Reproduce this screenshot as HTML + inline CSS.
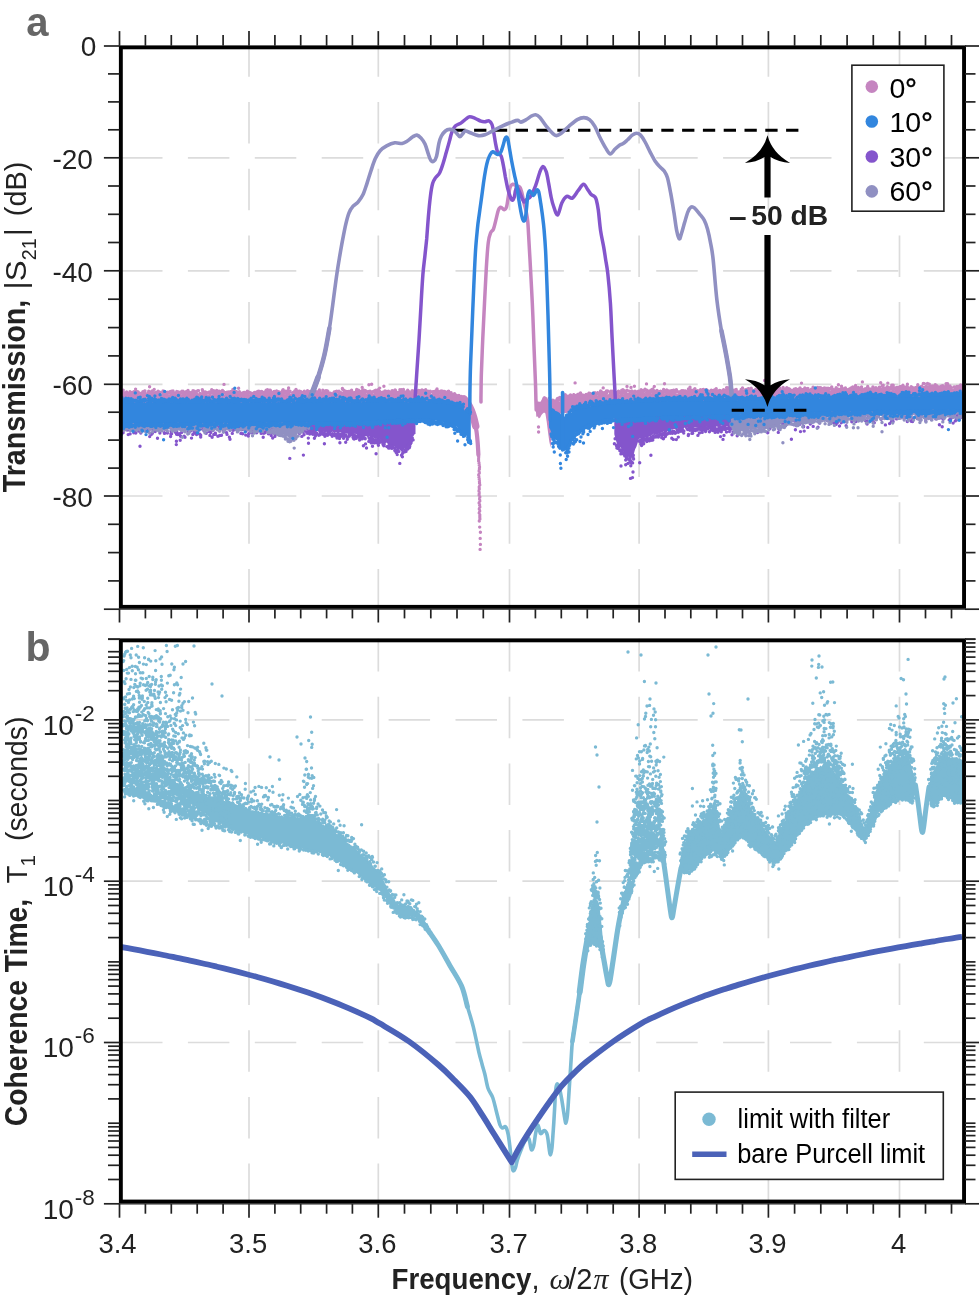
<!DOCTYPE html>
<html lang="en"><head><meta charset="utf-8"><title>Filter transmission and coherence time</title>
<style>html,body{margin:0;padding:0;background:#fff}svg{display:block}</style></head>
<body>
<svg width="979" height="1303" viewBox="0 0 979 1303" font-family='"Liberation Sans", sans-serif'>
<rect width="979" height="1303" fill="#fff"/>
<defs><clipPath id="ca"><rect x="121" y="47" width="843" height="560"/></clipPath><clipPath id="cb"><rect x="121" y="640" width="843" height="562"/></clipPath></defs>
<line x1="249.0" y1="610.4" x2="249.0" y2="45.8" stroke="#dcdcdc" stroke-width="1.7" stroke-dasharray="41.5 25.2"/>
<line x1="378.3" y1="610.4" x2="378.3" y2="45.8" stroke="#dcdcdc" stroke-width="1.7" stroke-dasharray="41.5 25.2"/>
<line x1="509.5" y1="610.4" x2="509.5" y2="45.8" stroke="#dcdcdc" stroke-width="1.7" stroke-dasharray="41.5 25.2"/>
<line x1="639.1" y1="610.4" x2="639.1" y2="45.8" stroke="#dcdcdc" stroke-width="1.7" stroke-dasharray="41.5 25.2"/>
<line x1="768.4" y1="610.4" x2="768.4" y2="45.8" stroke="#dcdcdc" stroke-width="1.7" stroke-dasharray="41.5 25.2"/>
<line x1="899.5" y1="610.4" x2="899.5" y2="45.8" stroke="#dcdcdc" stroke-width="1.7" stroke-dasharray="41.5 25.2"/>
<line x1="121" y1="157.8" x2="965.0" y2="157.8" stroke="#dcdcdc" stroke-width="1.7" stroke-dasharray="41.5 25.4"/>
<line x1="121" y1="270.8" x2="965.0" y2="270.8" stroke="#dcdcdc" stroke-width="1.7" stroke-dasharray="41.5 25.4"/>
<line x1="121" y1="384.3" x2="965.0" y2="384.3" stroke="#dcdcdc" stroke-width="1.7" stroke-dasharray="41.5 25.4"/>
<line x1="121" y1="496.0" x2="965.0" y2="496.0" stroke="#dcdcdc" stroke-width="1.7" stroke-dasharray="41.5 25.4"/>
<path d="M453.3 130.2H798.8" stroke="#000" stroke-width="3" stroke-dasharray="12.3 8.5" fill="none"/>
<g clip-path="url(#ca)">
<path d="M121 393.9L122.3 393.1L123.6 394.7L124.9 393.7L126.2 393.8L127.5 393.5L128.8 394.2L130.1 393.4L131.4 393.3L132.7 393.9L134 394.2L135.3 393.4L136.6 394.1L137.9 393.8L139.2 394.9L140.5 393.3L141.8 394.9L143.1 393.9L144.4 394L145.7 393.4L147 394.4L148.3 393.4L149.6 393.7L150.9 393.1L152.2 393.7L153.5 394.9L154.8 394.9L156.1 394.5L157.4 393.1L158.7 394.8L160 394.7L161.3 394.5L162.6 393.4L163.9 393.2L165.2 393.8L166.5 394.7L167.8 394.1L169.1 394.4L170.4 393.5L171.7 394L173 394.4L174.3 394.6L175.6 394.6L176.9 393.5L178.2 394.7L179.5 393.4L180.8 394.6L182.1 394.1L183.4 393.4L184.7 394.1L186 394L187.3 394.8L188.6 393.1L189.9 393.3L191.2 394.9L192.5 394.6L193.8 393.3L195.1 393.5L196.4 394L197.7 393.3L199 393.6L200.3 393.1L201.6 394.4L202.9 393.2L204.2 394.9L205.5 394.8L206.8 394.5L208.1 394.5L209.4 393.7L210.7 394.3L212 394.4L213.3 393.9L214.6 393.1L215.9 394.2L217.2 393.6L218.5 394.2L219.8 393.8L221.1 394.8L222.4 393.4L223.7 394.4L225 394.3L226.3 394L227.6 393.1L228.9 393.3L230.2 394.8L231.5 393.4L232.8 393.3L234.1 393.5L235.4 394L236.7 394L238 393L239.3 393L240.6 393.9L241.9 393.3L243.2 394.1L244.5 394.5L245.8 393.1L247.1 393.9L248.4 393.7L249.7 394.5L251 394.8L252.3 393.7L253.6 393.4L254.9 394.6L256.2 393L257.5 393.6L258.8 393.7L260.1 393.3L261.4 394.2L262.7 393.9L264 393.4L265.3 393.7L266.6 394.3L267.9 393.6L269.2 393.1L270.5 393.8L271.8 393.3L273.1 394.1L274.4 393.3L275.7 393.2L277 394.6L278.3 393.6L279.6 393.5L280.9 393.9L282.2 394.2L283.5 394.2L284.8 394.4L286.1 393.4L287.4 393.7L288.7 393.6L290 393.9L291.3 394L292.6 394.1L293.9 393L295.2 393.6L296.5 394.3L297.8 393L299.1 394.3L300.4 394.2L301.7 393.7L303 393.7L304.3 393.4L305.6 394.3L306.9 393.8L308.2 393.4L309.5 392.9L310.8 393.5L312.1 394.6L313.4 394.1L314.7 394L316 394.6L317.3 392.9L318.6 393.9L319.9 393.1L321.2 393.5L322.5 393.1L323.8 393.4L325.1 394.5L326.4 394.1L327.7 394.3L329 392.9L330.3 393.3L331.6 394.2L332.9 392.8L334.2 393.1L335.5 392.8L336.8 394.2L338.1 393.1L339.4 393.5L340.7 392.7L342 392.9L343.3 393.6L344.6 394.1L345.9 393.3L347.2 393.2L348.5 392.7L349.8 392.8L351.1 392.9L352.4 393L353.7 393.7L355 393.3L356.3 394.4L357.6 393.1L358.9 394.2L360.2 392.7L361.5 393.5L362.8 393.6L364.1 393.8L365.4 393.3L366.7 393.5L368 394L369.3 392.8L370.6 393.5L371.9 393.6L373.2 393.9L374.5 392.8L375.8 393.2L377.1 392.5L378.4 393.7L379.7 394.1L381 393.1L382.3 394L383.6 393.6L384.9 392.4L386.2 393.3L387.5 392.5L388.8 393L390.1 393.9L391.4 392.6L392.7 393.4L394 392.4L395.3 392.5L396.6 394.1L397.9 392.5L399.2 392.6L400.5 394.1L401.8 392.9L403.1 392.7L404.4 392.5L405.7 393.2L407 392.4L408.3 392.7L409.6 392.7L410.9 393.7L412.2 392.6L413.5 393.4L414.8 392.8L416.1 394.2L417.4 394.2L418.7 394.1L420 394L421.3 393.4L422.6 394.1L423.9 393.5L425.2 392.6L426.5 393.7L427.8 393.9L429.1 392.3L430.4 392.7L431.7 393.8L433 393.8L434.3 393.4L435.6 392.5L436.9 392.8L438.2 392.7L439.5 394.2L440.8 392.9L442.1 393.4L443.4 394.3L444.7 394.5L446 394.6L447.3 395L448.6 395.7L449.9 396L451.2 394.7L452.5 394.9L453.8 396.8L455.1 397.1L456.4 396.7L457.7 397.4L459 398.6L460.3 398.8L461.6 398.8L462.9 399.7L464.2 401L465.5 402.6L466.8 403.1L468.1 405.3L468.5 406.1L468.5 425L468.1 424.3L466.8 422.9L465.5 421.5L464.2 420.6L462.9 419.7L461.6 418.6L460.3 419.3L459 416.9L457.7 416.3L456.4 416.1L455.1 416.4L453.8 415.3L452.5 416.1L451.2 415.2L449.9 415.3L448.6 414.4L447.3 414.7L446 414.7L444.7 413.1L443.4 413.9L442.1 413.1L440.8 413.8L439.5 412.6L438.2 412.2L436.9 412.2L435.6 413.1L434.3 413.5L433 412.5L431.7 413.1L430.4 413.2L429.1 413.3L427.8 413L426.5 412.4L425.2 412.9L423.9 412.5L422.6 412.3L421.3 412.2L420 412.6L418.7 411.8L417.4 412.7L416.1 412.7L414.8 412.4L413.5 411.9L412.2 412.4L410.9 412L409.6 413.4L408.3 412.9L407 412.4L405.7 412.3L404.4 412.1L403.1 413.2L401.8 413.1L400.5 412.9L399.2 413L397.9 413.5L396.6 413L395.3 412.5L394 412.3L392.7 413.3L391.4 412.6L390.1 412.3L388.8 413.5L387.5 413.7L386.2 413.5L384.9 412.5L383.6 412.1L382.3 413.1L381 413.2L379.7 412.6L378.4 413.2L377.1 413.8L375.8 413.4L374.5 412.7L373.2 413L371.9 413.2L370.6 413.1L369.3 413.6L368 412.4L366.7 413.2L365.4 412.6L364.1 412.8L362.8 412.2L361.5 412.4L360.2 413.7L358.9 413.1L357.6 413.9L356.3 412.5L355 413.5L353.7 412.1L352.4 413.6L351.1 413L349.8 413.1L348.5 412.4L347.2 412.9L345.9 412.4L344.6 413.4L343.3 413.9L342 413.7L340.7 414L339.4 412.7L338.1 412.8L336.8 412.6L335.5 412.6L334.2 413.9L332.9 414L331.6 412.9L330.3 414.1L329 413.5L327.7 413L326.4 412.9L325.1 413L323.8 412.4L322.5 412.3L321.2 413.6L319.9 413.6L318.6 414.1L317.3 414L316 413.4L314.7 413L313.4 413.8L312.1 414L310.8 412.9L309.5 413L308.2 413.3L306.9 414L305.6 413.9L304.3 413.8L303 412.7L301.7 412.5L300.4 414.2L299.1 412.5L297.8 412.6L296.5 412.8L295.2 413.9L293.9 412.5L292.6 412.8L291.3 414L290 414.2L288.7 413.6L287.4 413.2L286.1 414.3L284.8 412.5L283.5 413L282.2 413.3L280.9 413.4L279.6 414.1L278.3 412.9L277 412.9L275.7 414.3L274.4 412.8L273.1 413.7L271.8 412.6L270.5 413.7L269.2 413.9L267.9 414L266.6 413.7L265.3 414.2L264 414L262.7 413.4L261.4 413.3L260.1 413.3L258.8 414.1L257.5 414.3L256.2 414.1L254.9 412.6L253.6 414.1L252.3 413.1L251 413.3L249.7 413.2L248.4 412.6L247.1 413.9L245.8 413L244.5 413.4L243.2 413.7L241.9 413.6L240.6 414L239.3 414.2L238 412.6L236.7 413.2L235.4 414L234.1 412.8L232.8 414L231.5 413.1L230.2 413.3L228.9 412.9L227.6 413.6L226.3 412.6L225 413L223.7 413.5L222.4 414.2L221.1 413.9L219.8 414.1L218.5 413.4L217.2 412.9L215.9 413L214.6 413.2L213.3 413.6L212 413.9L210.7 412.9L209.4 413.1L208.1 413.1L206.8 413.3L205.5 412.9L204.2 413.3L202.9 413.9L201.6 413.7L200.3 413.8L199 413.9L197.7 412.7L196.4 413.1L195.1 413.3L193.8 413.6L192.5 413.5L191.2 414.2L189.9 413.5L188.6 413.3L187.3 413.8L186 413.5L184.7 412.5L183.4 412.7L182.1 414.3L180.8 412.6L179.5 412.9L178.2 412.9L176.9 412.9L175.6 414L174.3 414.2L173 413.2L171.7 412.9L170.4 414.3L169.1 414.4L167.8 412.6L166.5 412.7L165.2 414L163.9 412.9L162.6 413.9L161.3 412.9L160 414.4L158.7 413.3L157.4 414L156.1 413.3L154.8 414.4L153.5 413.2L152.2 414.3L150.9 413.6L149.6 414.3L148.3 413.7L147 414.2L145.7 413.8L144.4 413.6L143.1 413.2L141.8 413.3L140.5 413.5L139.2 412.9L137.9 413.7L136.6 414.2L135.3 413.2L134 413.8L132.7 412.7L131.4 413.7L130.1 414.5L128.8 413.8L127.5 412.7L126.2 413.6L124.9 412.9L123.6 413.8L122.3 413.3L121 414.4Z" fill="#c585c0"/>
<path d="M464 399C464.7 399.8 466.8 402.2 468 404C469.2 405.8 470.1 407.8 471 410C471.9 412.2 472.7 414.3 473.5 417C474.3 419.7 475.3 424.5 475.7 426" fill="none" stroke="#c585c0" stroke-width="7.5" stroke-linecap="round" stroke-linejoin="round" />
<path d="M474.5 420C474.9 422 476.1 428.2 476.6 432C477.1 435.8 477.4 439.2 477.7 443C478 446.8 478.3 453 478.4 455" fill="none" stroke="#c585c0" stroke-width="4.2" stroke-linecap="round" stroke-linejoin="round" />
<path d="M535 382.6L536.3 396.1L537.6 401.8L538.9 401.6L540.2 401.9L541.5 399.9L542.8 397.1L544.1 395.9L545.4 396.6L546.7 397.2L548 399.4L549.3 402.9L550.6 403.2L551.9 403.2L553.2 401.7L554.5 401.9L555.8 402.3L557.1 401.6L558.4 401.6L559.7 401.2L561 400.2L562.3 399.3L563.6 399L564.9 399L566.2 399.4L567.5 398.1L568.8 398.9L570.1 397.8L571.4 397.6L572.7 397.1L574 397.6L575.3 398.3L576.6 397.4L577.9 397.7L579.2 396.5L580.5 396.8L581.8 397.1L583.1 396L584.4 396.3L585.7 397.1L587 395.6L588.3 396.7L589.6 396.2L590.9 395.3L592.2 395L593.5 395.7L594.8 395.3L596.1 394.7L597.4 395.4L598.7 394.7L600 395.3L601.3 394L602.6 394L603.9 394.5L605.2 393.4L606.5 394.2L607.8 394.2L609.1 394L610.4 393.8L611.7 394.3L613 393L614.3 394.5L615.6 394.3L616.9 393.2L618.2 392.6L619.5 394.4L620.8 394.2L622.1 393.7L623.4 394.3L624.7 392.7L626 393L627.3 393.1L628.6 392.7L629.9 392.7L631.2 394L632.5 393.3L633.8 393.1L635.1 393L636.4 393.6L637.7 393.5L639 392.9L640.3 392.4L641.6 392.7L642.9 392.7L644.2 392.4L645.5 393.2L646.8 393.9L648.1 393.1L649.4 392.1L650.7 392.2L652 393.7L653.3 393.8L654.6 392.6L655.9 392.7L657.2 392.4L658.5 393.1L659.8 393.5L661.1 392.9L662.4 393.1L663.7 391.8L665 393.4L666.3 392.8L667.6 391.8L668.9 392.4L670.2 393.1L671.5 392.1L672.8 393.2L674.1 392.9L675.4 392.9L676.7 393.4L678 393.4L679.3 392.3L680.6 391.9L681.9 393L683.2 393.1L684.5 392.2L685.8 392.4L687.1 393.2L688.4 391.9L689.7 391.8L691 393.4L692.3 391.6L693.6 392L694.9 391.6L696.2 392.4L697.5 392.9L698.8 392L700.1 391.8L701.4 392.5L702.7 391.9L704 392.6L705.3 392.3L706.6 392L707.9 393L709.2 392L710.5 392.5L711.8 391.5L713.1 393.1L714.4 391.8L715.7 392.7L717 393.3L718.3 391.8L719.6 392.7L720.9 391.5L722.2 393.1L723.5 392.6L724.8 392.7L726.1 391.4L727.4 392.1L728.7 392.5L730 391.8L731.3 392.7L732.6 392.4L733.9 391.7L735.2 392.9L736.5 392.5L737.8 391.7L739.1 391.8L740.4 392.4L741.7 392.4L743 391.9L744.3 392.4L745.6 391.2L746.9 391.5L748.2 391.2L749.5 392.3L750.8 392.3L752.1 392.3L753.4 392.1L754.7 391.5L756 391.8L757.3 391.7L758.6 391.1L759.9 392.3L761.2 391L762.5 391.3L763.8 392.1L765.1 392.3L766.4 390.9L767.7 392.1L769 391.1L770.3 392.3L771.6 390.8L772.9 392.4L774.2 391.1L775.5 391L776.8 392.1L778.1 391.1L779.4 390.7L780.7 391L782 392.2L783.3 391.4L784.6 391.3L785.9 391.4L787.2 390.5L788.5 391.4L789.8 391.6L791.1 390.3L792.4 390.6L793.7 392L795 391.2L796.3 390.7L797.6 391.4L798.9 390.9L800.2 390.3L801.5 392L802.8 390.8L804.1 391L805.4 390.8L806.7 391.6L808 390.8L809.3 390.7L810.6 390.9L811.9 391.9L813.2 391.8L814.5 390.1L815.8 391.8L817.1 391.1L818.4 390.3L819.7 390.6L821 391.2L822.3 391.7L823.6 391.4L824.9 390.6L826.2 390.8L827.5 391.4L828.8 391L830.1 390.9L831.4 390L832.7 390.2L834 390.1L835.3 390.3L836.6 391.1L837.9 390.9L839.2 390.7L840.5 390.8L841.8 390.1L843.1 390.1L844.4 390.9L845.7 391.6L847 390.1L848.3 390.7L849.6 390.1L850.9 389.8L852.2 391.5L853.5 391.1L854.8 391.2L856.1 390.9L857.4 389.8L858.7 390.3L860 391.5L861.3 390.5L862.6 390.9L863.9 391.3L865.2 390.8L866.5 389.8L867.8 391.1L869.1 390.8L870.4 389.8L871.7 389.4L873 389.9L874.3 390L875.6 389.6L876.9 389.9L878.2 390L879.5 389.5L880.8 390.7L882.1 390.2L883.4 390.8L884.7 390.1L886 389.2L887.3 389L888.6 389.4L889.9 389.8L891.2 390.4L892.5 390.2L893.8 390.4L895.1 390.1L896.4 389.6L897.7 389.2L899 388.8L900.3 388.5L901.6 389.9L902.9 389.6L904.2 388.9L905.5 388.6L906.8 388.3L908.1 389.1L909.4 388.7L910.7 389.8L912 388.3L913.3 389L914.6 389L915.9 389.3L917.2 388.4L918.5 389.1L919.8 388.4L921.1 388.7L922.4 388.3L923.7 389.4L925 388.8L926.3 387.8L927.6 388.6L928.9 389.3L930.2 387.8L931.5 389.2L932.8 388.8L934.1 389L935.4 388.9L936.7 387.5L938 388.2L939.3 389L940.6 388.7L941.9 388.8L943.2 388.5L944.5 388L945.8 388.8L947.1 387.4L948.4 388.8L949.7 388.7L951 388L952.3 388.2L953.6 388.4L954.9 387L956.2 387.2L957.5 388.4L958.8 387.4L960.1 387.6L961.4 388.2L962.7 388L964 386.8L964 387.5L964 405.3L964 404.9L962.7 405L961.4 405.1L960.1 404.3L958.8 404.9L957.5 404.6L956.2 405.4L954.9 405.3L953.6 405L952.3 404.8L951 405.1L949.7 404.5L948.4 405.3L947.1 405.5L945.8 405.4L944.5 405.1L943.2 404.4L941.9 404.7L940.6 405.7L939.3 404.3L938 404.4L936.7 404.9L935.4 405.2L934.1 404.5L932.8 404.9L931.5 405.1L930.2 406.2L928.9 405.3L927.6 404.7L926.3 405.5L925 404.6L923.7 405.7L922.4 405.6L921.1 404.9L919.8 405.6L918.5 406.1L917.2 405.3L915.9 406.3L914.6 406.3L913.3 405.4L912 405.6L910.7 406.4L909.4 405.8L908.1 406.6L906.8 405L905.5 405.1L904.2 406.5L902.9 406L901.6 406.3L900.3 405.5L899 405.8L897.7 405.7L896.4 405.2L895.1 405.8L893.8 405.8L892.5 405.5L891.2 406.5L889.9 405.5L888.6 405.2L887.3 405.8L886 405.3L884.7 406.4L883.4 406.4L882.1 406L880.8 407L879.5 406.1L878.2 406.9L876.9 406L875.6 405.4L874.3 407.2L873 406.6L871.7 407.2L870.4 406.6L869.1 406.6L867.8 407.3L866.5 407.1L865.2 406.2L863.9 406.5L862.6 406.1L861.3 406.7L860 406.1L858.7 406.2L857.4 406L856.1 406.9L854.8 406.6L853.5 407.4L852.2 407L850.9 406.6L849.6 406L848.3 405.9L847 406.3L845.7 407.1L844.4 406.9L843.1 406.3L841.8 406L840.5 406L839.2 407.1L837.9 407.2L836.6 406.4L835.3 406.9L834 406.3L832.7 407.1L831.4 407.6L830.1 407.2L828.8 406.9L827.5 406.6L826.2 407.3L824.9 406.2L823.6 407.8L822.3 407.3L821 407.7L819.7 407.8L818.4 406.5L817.1 406.4L815.8 406.4L814.5 407.1L813.2 408.1L811.9 408.2L810.6 407.8L809.3 406.5L808 407.7L806.7 406.5L805.4 407.6L804.1 408.3L802.8 406.9L801.5 407L800.2 407.3L798.9 407.4L797.6 407.2L796.3 408.2L795 407.9L793.7 407.8L792.4 408.3L791.1 407.4L789.8 407.6L788.5 408.3L787.2 407L785.9 408.5L784.6 408L783.3 408.3L782 407.3L780.7 408.4L779.4 408.7L778.1 407.3L776.8 408.1L775.5 407.4L774.2 407.5L772.9 407.2L771.6 408.3L770.3 407.4L769 408L767.7 407.4L766.4 408.5L765.1 408.8L763.8 407.8L762.5 407.3L761.2 408.5L759.9 408.1L758.6 408L757.3 409L756 408L754.7 407.7L753.4 408.6L752.1 409.2L750.8 408.6L749.5 408.5L748.2 408.2L746.9 409L745.6 409.3L744.3 407.7L743 408.3L741.7 408.6L740.4 408L739.1 409.3L737.8 408.2L736.5 407.9L735.2 408.8L733.9 408.8L732.6 407.8L731.3 409.3L730 408.4L728.7 408.7L727.4 408.7L726.1 408.5L724.8 408.6L723.5 408.4L722.2 409.3L720.9 408.3L719.6 408.9L718.3 409.3L717 409.5L715.7 408.4L714.4 408.1L713.1 408.2L711.8 408.4L710.5 408.1L709.2 408.1L707.9 409L706.6 408.6L705.3 409.9L704 410L702.7 409.9L701.4 408.9L700.1 408.3L698.8 409.2L697.5 408.4L696.2 409.8L694.9 408.9L693.6 409L692.3 410L691 409.7L689.7 408.9L688.4 409.3L687.1 409L685.8 409.4L684.5 408.8L683.2 409.3L681.9 409.3L680.6 408.9L679.3 408.8L678 409.3L676.7 408.6L675.4 409.3L674.1 408.9L672.8 409.6L671.5 409L670.2 409.9L668.9 409.8L667.6 409.4L666.3 408.9L665 409.1L663.7 409.1L662.4 409.5L661.1 409L659.8 408.9L658.5 410.5L657.2 410.3L655.9 410.2L654.6 410L653.3 409.3L652 409.2L650.7 409.7L649.4 410.8L648.1 410.2L646.8 409.7L645.5 409.4L644.2 410.8L642.9 409.4L641.6 409.6L640.3 409.6L639 409.9L637.7 409.3L636.4 409.8L635.1 410.4L633.8 409.4L632.5 410.3L631.2 409.4L629.9 410.2L628.6 409.8L627.3 410L626 411.3L624.7 411.1L623.4 409.7L622.1 411.3L620.8 410.6L619.5 410.4L618.2 409.8L616.9 411.1L615.6 410.9L614.3 409.9L613 410.7L611.7 410.2L610.4 411.3L609.1 410.3L607.8 410.7L606.5 409.9L605.2 410.9L603.9 411L602.6 411.2L601.3 411.5L600 410.8L598.7 411.7L597.4 411.5L596.1 411.2L594.8 410.6L593.5 411.9L592.2 412.1L590.9 410.7L589.6 411.1L588.3 411.8L587 412.5L585.7 412.1L584.4 412.4L583.1 412.7L581.8 412.3L580.5 412.2L579.2 411.6L577.9 411.2L576.6 412.7L575.3 412.8L574 412.9L572.7 413L571.4 412.1L570.1 412.4L568.8 413.2L567.5 412.8L566.2 412.9L564.9 413L563.6 412.8L562.3 413L561 413.3L559.7 414.3L558.4 414.1L557.1 414L555.8 414.3L554.5 415.5L553.2 418.1L551.9 432.4L550.6 447.5L549.3 441.5L548 432.1L546.7 421.8L545.4 413.4L544.1 412.5L542.8 413.6L541.5 414.9L540.2 417.6L538.9 418.6L537.6 416.5L536.3 416.8L535 396.9Z" fill="#c585c0"/>
<path d="M191.4 392.8h0M314.8 392.9h0M204.4 393.2h0M253.6 393.8h0M186.4 391.8h0M267.2 393.8h0M256.5 393h0M368.6 392.9h0M436.1 390.4h0M281.4 393.7h0M348.9 391.8h0M166.7 393.8h0M178.5 392h0M130.5 393.3h0M264.2 392.1h0M212.8 392.9h0M148.7 391.3h0M319.8 393.6h0M214.4 393.7h0M456.6 395.5h0M361 393h0M156.5 392.6h0M280.7 393.7h0M269.4 391.7h0M205.2 392.7h0M451.1 392.7h0M129.5 393.3h0M385.1 391.7h0M352.5 392.2h0M339.1 391.9h0M130 391.6h0M190.8 393.9h0M231.4 392.8h0M444.6 391.4h0M121.8 393h0M416.8 392.7h0M383.7 392.2h0M283.1 389.7h0M300.5 392.8h0M155.2 393.1h0M163.6 393.2h0M460 397.2h0M348.1 392.3h0M275.5 392.7h0M344 390.1h0M464 398.2h0M239.4 391.8h0M386.6 393.3h0M213.2 392.7h0M422 390h0M349.7 391.8h0M205.4 392h0M327.4 391h0M276.9 393.9h0M357.3 391.4h0M153 393.8h0M326.8 392.3h0M325.4 390.9h0M190.8 392.9h0M429.1 392h0M449.2 393.6h0M178.1 393h0M451.2 394.8h0M442.3 392.8h0M442.6 391.1h0M405.9 393h0M270.3 390.2h0M309.4 391.6h0M124.4 394.1h0M229.8 393.7h0M158.8 393.3h0M364.2 392.6h0M124.2 393.4h0M228 393.2h0M425.5 393.1h0M245.6 393.3h0M426.7 391.7h0M355.6 392.8h0M314.8 393h0M140.8 393.5h0M297.5 392.2h0M348.4 391.4h0M348.3 391.9h0M418.6 390.5h0M355.8 392.7h0M227.7 392.3h0M251.2 393.5h0M123.2 390.1h0M371.7 392.6h0M145.6 394h0M153.9 393.9h0M251.2 393.2h0M322 392.4h0M362.2 387.4h0M127.8 393.5h0M189.3 392.2h0M396.5 392.2h0M395.4 390.3h0M138 393.9h0M467.2 402h0M151.2 392.4h0M151.4 393.7h0M257.8 391.4h0M295.4 392.1h0M219.4 391.2h0M153.8 394h0M383.9 386.2h0M206.9 393.3h0M385.2 393.1h0M254 393.8h0M282.4 390.8h0M193 393.4h0M440.2 392h0M206 393.5h0M399.9 392.7h0M266.2 390.2h0M152.6 393.3h0M217.2 392.9h0M168.5 393.1h0M344.1 390.8h0M151.3 394h0M306.4 393.5h0M221.3 393.1h0M176.3 393.5h0M383.2 393.4h0M445 392.1h0M275 392.2h0M301 391.8h0M355.2 392.6h0M226.4 393.9h0M412.9 392.9h0M164.9 392.7h0M460.2 398.3h0M442.6 393.6h0M402.8 390.1h0M378.3 390h0M240.2 392.7h0M149.6 386.7h0M223.7 393.1h0M227.7 392.9h0M165.7 392.5h0M355.4 392.2h0M255.5 392.9h0M362.8 393.3h0M264.5 393.9h0M265.3 393.7h0M343.5 393.2h0M268.6 393.4h0M213.7 392h0M310.1 391.9h0M351.1 392.2h0M457.8 396.9h0M294.8 391h0M174.9 393.4h0M346.5 393.5h0M170.3 393h0M194 393.2h0M397 393h0M406.4 392.8h0M316.8 391.7h0M171.3 393.7h0M313.8 393h0M138.3 392.1h0M128.9 393.5h0M260.8 392.7h0M211.7 389.7h0M193.7 394h0M135.9 393.4h0M173 390.9h0M354.3 393.5h0M434.6 392.2h0M333.6 393.4h0M177.9 393.9h0M149.5 393.1h0M261.7 391.5h0M212 392.4h0M194.3 391.3h0M422.8 393h0M266 390.9h0M401.6 389.8h0M317.3 392.4h0M326 392.3h0M406 393.1h0M444.3 393.1h0M137.3 391.6h0M223.3 391.3h0M156.2 393.2h0M405 392.2h0M247.6 393.5h0M257.7 392.6h0M244.5 392.5h0M451.8 394.1h0M149.5 393.9h0M420 390.7h0M198.5 390.6h0M264.7 391.9h0M309.7 391.7h0M126.6 391.9h0M264 392.9h0M404 392.8h0M378.5 392.7h0M376.3 391.9h0M412 392.7h0M451.6 395.4h0M357.6 392.5h0M204 392.3h0M311.7 393.3h0M324.9 393.4h0M267.4 389.6h0M191.2 393.9h0M316 392.6h0M267.4 390.3h0M144.7 391h0M459.6 397.9h0M196.4 393.2h0M274.5 391.5h0M467.4 401.5h0M213.9 393.2h0M188 390.4h0M236.6 391.6h0M267 390.5h0M136.9 393.3h0M218.9 393.3h0M439.4 392.2h0M302.6 393.8h0M447.3 394.3h0M374.9 391.3h0M246.7 393.6h0M254.5 392.5h0M121.3 392.9h0M183 391.2h0M310.1 393.7h0M122.3 393.2h0M412.7 391.7h0M300 393.2h0M137.5 391.9h0M278.1 393.6h0M370.1 392h0M144.8 392.8h0M238.6 388.2h0M191.9 393.2h0M256.8 392h0M425.7 389.8h0M213.6 393.4h0M290 391.1h0M423.9 392.2h0M219.5 393.6h0M275.1 392.6h0M303 392.7h0M151.3 393.5h0M235.1 391.4h0M211.8 392.8h0M288.6 388h0M150.2 392h0M463.3 400h0M236.8 393.9h0M326.3 390.8h0M287.7 393.4h0M353.2 393.2h0M243.7 393.4h0M151.6 393.4h0M356.7 391.3h0M409 391.8h0M280 392.4h0M288.4 392.8h0M134.4 393.6h0M193 390.6h0M202.3 389.6h0M293.5 392.3h0M386.9 391.5h0M379.7 388.1h0M268.9 393.4h0M395.1 390h0M191.1 393.7h0M434.8 392.6h0M371.7 384.3h0M230.4 391.6h0M467.6 403.8h0M412.2 390.8h0M215.1 393.4h0M143.6 393.2h0M204.4 392.1h0M159.8 392.1h0M131.2 393.3h0M231.1 391.8h0M368.4 393.2h0M319.4 390.7h0M186.7 393.4h0M434.8 393.2h0M216.2 393.3h0M422.5 392h0M187.8 393.2h0M412.6 392.1h0M356.3 391.7h0M194.8 393.3h0M230.8 393h0M455.6 395.3h0M247.9 393.6h0M455.3 396h0M289.6 391.9h0M430.2 391.1h0M412.6 392.5h0M312 390.7h0M210.6 392.9h0M375.3 392.9h0M154.7 392.8h0M271.6 393.8h0M273.8 391.8h0M362.6 390.3h0M385.8 392.5h0M278.2 393.1h0M364 392.3h0M436.5 390.8h0M378.3 391.6h0M152.2 391h0M173.1 392.5h0M414.2 393.2h0M219.9 391.6h0M306.1 392.9h0M402.9 392.3h0M156.2 392.4h0M454.9 394.7h0M283.8 391.8h0M465.9 401.7h0M234 393.4h0M316.5 392.5h0M173.2 393.5h0M250.4 393.2h0M363.1 392.5h0M318.4 393.7h0M147.5 393.8h0M368.9 384.7h0M158.1 391.3h0M268.2 391.8h0M360.1 391.8h0M457.7 396.9h0M350.2 391.2h0M385 390.9h0M218.6 392.4h0M236 391.8h0M282.9 393h0M383.2 392.1h0M256.3 392.8h0M230.2 392.4h0M232.5 391.9h0M356.7 389.5h0M308.8 393.1h0M273.6 392.2h0M260 393.5h0M387 391.7h0M322.8 390.2h0M445 393.2h0M313.8 393.7h0M427.2 391.9h0M158.9 393.8h0M346.6 391.8h0M141.8 393.7h0M132.8 392.4h0M224 384.4h0M144.6 391.7h0M415.9 390.6h0M440.1 392.2h0M441.2 391h0M415 393h0M339.6 393.4h0M465 399.9h0M187.9 393.2h0M455.4 396.2h0M179.3 393.9h0M403.4 389.4h0M364.5 390.9h0M222.8 392.9h0M444.5 392.8h0M454.5 393.8h0M380.2 392.3h0M319.4 389.9h0M181.9 391.3h0M301.4 393.4h0M463.6 398.4h0M248.1 391.8h0M131.6 392.9h0M133.8 391.7h0M296.2 391.9h0M248.2 392.7h0M202.4 393.5h0M173.2 393.3h0M415.6 392.3h0M351.3 392.7h0M142.1 393.9h0M380.6 392.1h0M341.4 393h0M282.8 393.1h0M233.3 393.1h0M258.5 393.4h0M148.7 392.1h0M442.5 392.5h0M391.6 391.5h0M452 395.7h0M296.3 393h0M296 389.4h0M297.3 392.7h0M339 391.2h0M402 392.2h0M314.5 393.3h0M316.6 393.7h0M267.1 393.5h0M243.9 392.5h0M191.1 392.7h0M196.3 391.8h0M299.8 392.9h0M319.2 393.6h0M422.5 392.5h0M316 392.3h0M173.6 393.9h0M356.9 390.2h0M295.8 393.9h0M179 393.8h0M316.7 392h0M195.2 391.7h0M449.6 395h0M296.6 390.7h0M428.8 393.2h0M285.3 392.6h0M287.2 393.4h0M202.5 393.6h0M363.5 393.1h0M437 388.9h0M434 391.9h0M123.8 392.9h0M216.7 390.5h0M325.1 392h0M144.6 393.7h0M123.9 392.6h0M323.3 392.7h0M383.2 392.3h0M359.7 392.3h0M232.1 393.6h0M283.8 393.6h0M222.5 390.5h0M396.9 393h0M327.7 393.3h0M142.9 391.7h0M395 392.8h0M323 393.5h0M135.6 389.1h0M300.3 391.9h0M237.5 393.6h0M364.8 393.5h0M351.6 390.2h0M308 392.9h0M305.3 392.4h0M427.8 391.7h0M346 393.5h0M277 393.9h0M128.9 393.5h0M231.3 392.6h0M200 393.5h0M236.7 393.1h0M383.8 393.3h0M382.9 392.1h0M424.1 390.8h0M371.9 392.8h0M134.9 391.6h0M255.4 392.6h0M342.4 388.4h0M376.7 393.2h0M379 393.2h0M339.7 392.7h0M142.7 392.4h0M145 391h0M466.9 403.2h0M309.8 393.7h0M358.5 390.2h0M177.5 393.4h0M154.1 393.7h0M228.8 391.9h0M141.7 393.2h0M349.8 393.6h0M281.6 393.9h0M363.9 392.7h0M424.1 393h0M446.7 394.2h0M238.7 392.7h0M164.7 393h0M247.3 391.3h0M429.9 392.2h0M357.2 393.4h0M283.4 390.5h0M325 392.3h0M304.1 392.3h0M374.5 391.8h0M298 393.8h0M225.8 392.6h0M327.9 391.5h0M345.7 392h0M171.5 391.2h0M370.4 392.5h0M204 393.4h0M346.2 391.4h0M362.7 392.3h0M420.1 391.1h0M372.5 392.3h0M192.2 393.1h0M135.9 393.4h0M181.7 392.1h0M344.9 392.1h0M218.9 393.5h0M328 393.4h0M384.6 392.7h0M444.6 393h0M388.7 392.2h0M260.1 391.8h0M307.5 390.7h0M294.2 393.9h0M340.7 393.5h0M187.1 393.1h0M299 391.2h0M423.7 390.9h0M276.8 392.1h0M142.7 392.9h0M315.7 393h0M433.8 391.6h0M367.4 391.6h0M213.7 390.6h0M371.9 392.3h0M465.7 402.2h0M304.3 391.3h0M135.9 392h0M124.2 393.6h0M316.6 392.2h0M192.4 393.9h0M392.1 390.7h0M412.1 392h0M294.9 391.6h0M395.1 392.1h0M142.7 393.1h0M465.8 402.6h0M392.5 393.3h0M413.5 391.1h0M248.1 391.7h0M335.4 391.7h0M276.6 391h0M386.3 392h0M328 393.1h0M177.3 393.3h0M160.2 392.5h0M207.6 392.8h0M401.6 392.4h0M296.1 393.4h0M180.9 392.2h0M428 391.2h0M243.2 392.6h0M266.1 393.3h0M148.8 394h0M239.6 392.5h0M330.4 393.2h0M336.4 392.5h0M296.9 393.6h0M386.5 392.6h0M308 393.7h0M266.9 393.8h0M261.3 393h0M388.6 393.1h0M202.6 390.8h0M180.2 393.6h0M176.8 391.4h0M405.7 393.2h0M399.7 392.3h0M131.7 392.6h0M289.9 392h0M318 392.5h0M254.5 393.9h0M459.2 396.9h0M419 392.6h0M454.7 394h0M345 393.6h0M441.5 392.2h0M399.9 389.7h0M461.5 396.5h0M450.8 395.4h0M194.8 393h0M435 393.1h0M239.8 393.2h0M215.9 393.1h0M365.5 390.6h0M204.9 392.9h0M212.6 392.4h0M441.6 393.6h0M254.1 392.8h0M129.3 393.2h0M432.8 391.7h0M221 393.8h0M221 392.9h0M303.3 393.9h0M169.9 391.7h0M309.2 392.3h0M369.9 392.7h0M188.3 392.9h0M194.2 393.5h0M258 392.4h0M422.5 391.8h0M326 393.1h0M456.7 395.7h0M217.9 391.3h0M361.7 392.6h0M288.7 393.8h0M436.2 393.1h0M371.4 393.1h0M256.1 392.9h0M269.9 393.3h0M174.6 393h0M219.7 393.9h0M403.4 391.8h0M414 393h0M347 391.6h0M214.1 393h0M143.5 393.6h0M428.5 393h0M433.7 391.8h0M188 393.8h0M460 398.3h0M250.3 392.7h0M388.5 391.1h0M133.3 393h0M133.2 392.4h0M359.4 393.2h0M402.4 391.3h0M295.6 392.6h0M123.1 393.6h0M187.8 392.9h0M274.7 393.3h0M225.1 393.1h0M356.5 390.9h0M183.3 393.8h0M156.8 392.8h0M466.9 403.4h0M167.4 392.2h0M331.5 393.6h0M271.4 393.3h0M369 391.4h0M285.3 391.3h0M210.1 393.6h0M362.7 392h0M214.5 392.1h0M136.4 392.4h0M438.3 391.1h0M438.6 392.8h0M345.9 392.6h0M294.3 392.5h0M122.4 391.1h0M347 392.6h0M303.1 393.5h0M259.7 393.3h0M343.9 393.6h0M364 390.2h0M365 392.8h0M405.5 392.3h0M375.8 390.3h0M258.4 393.7h0M299.6 391.1h0M441.3 393.1h0M414.5 392.4h0M245 393.4h0M270.8 391.6h0M305.3 392.8h0M173.5 392.9h0M313.1 392.8h0M217.4 393.3h0M377.4 390.6h0M205.3 393h0M457.3 396.3h0M192.6 393.6h0M374.3 391h0M271.9 393.3h0M269.3 390.1h0M446.7 393.8h0M163 391h0M468.5 404.5h0M121.3 393.4h0M364.7 393h0M216.1 392.4h0M238.2 392.3h0M441.1 392.4h0M379.8 391.5h0M420.7 393h0M148.9 392.9h0M405.7 392.1h0M122.2 394h0M385.3 393.1h0M314.5 393.2h0M340.7 392.8h0M266.8 392.7h0M323.9 393.3h0M246.2 392.6h0M173.2 391.7h0M163.3 393.2h0M278.5 391.6h0M363.6 392.4h0M307.3 393.8h0M231.5 393.7h0M422.9 393.3h0M380 393.1h0M185.1 393h0M420.6 392.5h0M456.6 395.5h0M258.8 393.7h0M435.4 393h0M396 393.2h0M233.4 393.6h0M334.2 391.9h0M378.2 389.8h0M379.9 391.7h0M391.9 392.2h0M449.3 395h0M405.3 393h0M223.5 392.6h0M410.7 393.1h0M272.8 393.9h0M276.6 392.3h0M173.9 392.8h0M258.8 391.3h0M363.9 391.6h0M360.6 391.5h0M428.6 392.2h0M289.3 391.9h0M266.3 391h0M197.8 390.6h0M177.1 394h0M216.7 391.5h0M288.5 392.5h0M134.9 393.5h0M457.7 397.3h0M287.9 390.6h0M363.2 393.1h0M230.1 392.1h0M422.8 391.8h0M341.2 393.4h0M211.4 392.8h0M232.9 389.5h0M264.2 392.6h0M399.1 392.8h0M433 392h0M425.1 392h0M433.4 393.3h0M304.7 393.7h0M186.1 391.7h0M362.8 392h0M391.4 392.4h0M303.2 392.5h0M318.5 392.4h0M187.5 392.3h0M323.3 392.9h0M242.9 393.7h0M186.1 392.8h0M448.6 391.2h0M226.5 392.5h0M150.3 393.1h0M419.7 391.6h0M308.4 392.3h0M374.1 391.4h0M370.1 391.1h0M237.1 392.5h0M336.7 391.3h0M235.8 393.2h0M309.9 391.8h0M399.1 392.2h0M274.3 393.3h0M393 390.9h0M209.4 391.9h0M458.9 395.4h0M400.9 391.8h0M283.7 392.2h0M292.8 393.2h0M130.7 393.8h0M429.6 392.9h0M283.3 392.5h0M390.5 392.4h0M258.5 392.3h0M342.5 389.3h0M154.2 389.4h0M138.2 392h0M226.9 392.5h0M444.2 394.1h0M247.8 393.6h0M290.2 392h0M326.1 392.3h0M433.7 391.6h0M372.8 391.8h0M425.9 391.8h0M453.7 395.4h0M125.6 393.3h0M192.9 393.6h0M424.7 391.3h0M173.1 393h0M447.2 392h0M313 392.8h0M407.7 390.3h0M295.4 393.6h0M406.7 392.7h0M478.7 457h0M478.6 459h0M478.6 461h0M479 463h0M479.2 465h0M479.5 467h0M479.4 469h0M479.1 471h0M479.3 473h0M478.7 475h0M478.9 477h0M479.2 479h0M479.4 481h0M479.5 483h0M479.8 485h0M479.2 487h0M479.3 489h0M479 491h0M479.2 493h0M479.1 495h0M479.8 497h0M479.6 499h0M479.8 501h0M479.1 503h0M479.6 505h0M479.8 507h0M479.3 509h0M479.7 511h0M479.2 513h0M479.8 515h0M479.8 517h0M479.9 519h0M479.3 521h0M479.7 527.1h0M480.4 532.3h0M480.2 538.4h0M480.4 544.4h0M480.1 549.4h0M881.6 389.6h0M832 390.2h0M603.2 387.9h0M779.6 391.1h0M840.1 390.5h0M842.6 390.3h0M729.9 391h0M740.6 391.1h0M723 391.9h0M784.3 390.6h0M788.5 390.4h0M939.4 386.9h0M777.7 390h0M754.7 390.3h0M751.1 391.2h0M963.2 386.3h0M688.5 392.3h0M922.2 388.2h0M798.4 389.9h0M799.4 390.3h0M741.3 390.4h0M661.1 391.8h0M695 390.2h0M835.7 390h0M838.4 384.8h0M595.1 394.8h0M672.5 390.6h0M564.1 396.9h0M841.5 386.3h0M747.4 392h0M881.7 389.9h0M646.8 390.1h0M887.8 383.1h0M874.4 388.4h0M872.9 386.9h0M834.4 390.3h0M785.1 389.2h0M588.9 393.3h0M694.5 392.4h0M847.1 390h0M626.5 390.8h0M922.9 388.5h0M742.8 391.6h0M943.5 387.4h0M710.9 391.6h0M848.8 390.5h0M656 391.8h0M665.6 390.6h0M888.5 388.4h0M866.1 389.7h0M889.1 387.6h0M771.7 389.8h0M579.1 397.3h0M946 385.7h0M817.6 387.4h0M657.2 390.9h0M554.8 401.2h0M704.2 391.2h0M649.4 391.1h0M942.7 385.6h0M922.1 388.5h0M856.8 387.8h0M742.5 388h0M637.4 392h0M932.1 386h0M727.4 391h0M622.4 392.9h0M892.2 387.7h0M620.4 392.6h0M839.7 390.7h0M652.7 389.5h0M694.9 388.7h0M816.6 390.2h0M887.7 388.3h0M896.7 387.5h0M642.2 392.7h0M562.2 398.9h0M565.9 395.4h0M727.8 387.7h0M907.2 386.6h0M755.9 390.9h0M584 396.2h0M573.9 394.8h0M680.2 391.9h0M674.3 392h0M580.9 395.6h0M918.8 387.3h0M777.2 390.1h0M557.8 400.8h0M789.8 391h0M550.4 402.9h0M740.4 391.8h0M819.3 389.2h0M639.5 391.9h0M894.9 388h0M786.8 389h0M629.5 391.2h0M871.1 389.2h0M713.2 391.3h0M760.5 390.5h0M801.5 383.1h0M570.5 395h0M903.4 388.7h0M737 391.4h0M703.4 389.4h0M716.2 388.7h0M918.9 388.7h0M632.4 392.1h0M663.4 391.8h0M564.1 396.4h0M845.5 388.6h0M946.1 383.7h0M557.5 400.5h0M610.8 391.3h0M958 387.7h0M942.5 386.2h0M895.4 388.3h0M685.2 391.4h0M929.4 387.9h0M648 391.1h0M787 389.8h0M722.6 391.7h0M823.3 390.7h0M921.6 386.1h0M786.1 390.8h0M764.1 391h0M919.2 388.8h0M683.1 392h0M673.9 390.1h0M638.3 393.2h0M932.3 387.1h0M747.3 389.3h0M929.9 387.9h0M562.9 398.5h0M569.6 395.8h0M700.8 391.2h0M804.8 389.2h0M575.4 396.8h0M718.4 391.4h0M851.5 390.4h0M685.5 390.9h0M916.4 387.4h0M724.7 392.2h0M764.6 380.5h0M641.2 392.6h0M751.2 391.5h0M622.5 392.9h0M906.3 387.7h0M821.7 390.3h0M694.3 391.5h0M687.3 392.3h0M727.7 392.3h0M835.7 390.5h0M870.5 389.3h0M887.6 389h0M842.4 389.3h0M825.5 388.9h0M554.7 401.7h0M614.1 392.8h0M875.9 387.8h0M651 390.6h0M720.2 391.7h0M892.8 386.6h0M936.5 388h0M724.9 390.4h0M905.5 389.1h0M791.9 390.4h0M824.3 387.9h0M586.3 394.8h0M655 391.4h0M733.4 390.5h0M707.7 391.5h0M893 385.5h0M892.7 387.5h0M913.6 388.1h0M589 393.3h0M703 390.9h0M806 390.4h0M911.1 387.4h0M895.4 388.4h0M963.4 386.4h0M849.5 389h0M870.6 390.1h0M745.5 389.8h0M741.8 390.9h0M691.2 392.2h0M638.4 392.1h0M655.7 392.6h0M560.9 398.3h0M930.5 387.1h0M793.9 391.2h0M917.8 388.4h0M843.5 390.6h0M882.3 385.7h0M706.2 389.7h0M824 390.2h0M833.4 390h0M679 392.3h0M883.8 389.8h0M733.9 391.7h0M800.6 389h0M812.1 390.6h0M954 386.9h0M758.4 386.6h0M826.3 388.9h0M571 397.2h0M620.7 392.9h0M788.7 391h0M932 386.3h0M667.2 392.6h0M702.1 390h0M753 391.8h0M851.1 388h0M744.3 392.1h0M884.1 389.9h0M889.7 388.3h0M783.5 390.2h0M700.7 392.1h0M672.3 392.2h0M804.7 390.5h0M758.2 389h0M561.5 398.2h0M564.9 398.8h0M591.5 395.4h0M885.8 388.7h0M683.7 391.8h0M567.1 398h0M838.2 389.3h0M781.4 390.4h0M838.7 390.8h0M597.7 392.9h0M600.8 393.2h0M959.7 387.7h0M757.8 391h0M655.2 392.1h0M913.9 388.5h0M610.3 393h0M883 387.3h0M788.9 388.6h0M674.5 391.5h0M822.8 388.7h0M753.5 391.5h0M753.8 391.6h0M729.2 390.5h0M855.5 389.7h0M757.4 390.2h0M805.2 390.5h0M795.4 389.8h0M920.4 387h0M821.4 390.9h0M556.7 400.3h0M712 391.8h0M781.5 390.5h0M945 387.7h0M557.3 399.8h0M550 402.3h0M654 392.5h0M601.1 393.8h0M586.9 396.2h0M578.8 394.3h0M564.3 398.3h0M604.8 393.2h0M940.3 387.3h0M893.2 385.3h0M557.9 400.2h0M680.8 392.3h0M780.8 391.1h0M835.7 389.3h0M680.7 392.2h0M956.9 386.4h0M634.1 392.8h0M837.1 388.9h0M619.4 393.1h0M961.5 385.5h0M755.8 389.3h0M817.9 390.5h0M885 389.3h0M909 388.6h0M863.1 390.3h0M621.1 392.5h0M810.4 390.8h0M802.8 389.7h0M946.9 386.3h0M822 390.8h0M733.8 391.3h0M719.5 390.5h0M854.6 390.4h0M676.4 389.7h0M923.3 383.4h0M621.8 390.1h0M760.4 390.3h0M800.2 390.3h0M800 387.9h0M845.4 387.9h0M929.5 388.4h0M807.9 388.4h0M590.2 395.6h0M655.3 392.1h0M923.2 387.5h0M923.8 387.2h0M929.3 384.1h0M639.5 391.8h0M949 387.7h0M643.6 391.2h0M625.1 392h0M904.9 387.6h0M726.6 387.7h0M728.7 391.3h0M786.8 387.6h0M752.9 390.8h0M789.7 389.1h0M656.1 392.9h0M693.3 390.3h0M663.6 389.5h0M775.5 390.5h0M789.1 391h0M694.9 392.3h0M905.3 389.1h0M606.5 393.2h0M901.2 386.8h0M960.6 384.9h0M865.9 388.7h0M807.9 388.7h0M723.2 391.1h0M627 386.4h0M671.6 392.6h0M813.1 387.2h0M612.3 391.3h0M876.1 388.4h0M581.6 394.7h0M684.8 391h0M669.9 391.3h0M700.5 389.8h0M680.7 391.5h0M721 391.6h0M879.4 387.3h0M701.4 390.2h0M690 387.2h0M927.5 387.1h0M681.3 392.1h0M553.8 401.8h0M879.4 388.2h0M748.6 391.3h0M918 387.8h0M757.5 391.1h0M732 390.5h0M586.1 396.2h0M901.8 388.2h0M643.3 391h0M559.5 397.7h0M859.9 389.2h0M578.3 397.3h0M778.6 388.4h0M621.6 392.9h0M758.8 391.3h0M938 387.8h0M736.8 391.4h0M624.7 390.9h0M912.8 388.1h0M933.9 388.1h0M656.5 392.7h0M619.9 392.8h0M939.9 388.1h0M654.3 386.4h0M883.2 388.4h0M557.2 399.8h0M959.3 386.7h0M829.4 388.7h0M715.4 392.1h0M549.5 401.2h0M654.3 391.2h0M960.8 387.6h0M907.9 387.7h0M560.9 399.7h0M785.5 390.2h0M887.7 389.6h0M833.9 390.8h0M567.7 396.5h0M551.9 402.1h0M685.8 392.5h0M723.1 392.1h0M580.5 393h0M635 393.2h0M950.7 387.9h0M880.7 382.8h0M822.8 388.6h0M720.5 391.2h0M930.3 387.8h0M557.6 398.5h0M551 402.2h0M675.3 390.8h0M861.8 389h0M928.4 387.1h0M597.4 393h0M673 390.4h0M927.5 383.4h0M626 392.7h0M647.6 392.5h0M642 390.6h0M703.9 392h0M778.1 390.8h0M909.8 388.9h0M622.8 390.6h0M961.6 387h0M906.3 387.5h0M900.2 388.9h0M866 389.7h0M723.6 389.8h0M600.6 391h0M878.4 389.4h0M892.4 387.6h0M911.3 386.9h0M954.8 387.2h0M558.2 399.9h0M924.3 383.6h0M885.7 389.2h0M624.5 392.5h0M907.3 386.7h0M904.3 388h0M914.4 388.1h0M832.8 389.7h0M775.4 391h0M748.6 388.8h0M550.2 402.7h0M667.8 390.7h0M631.2 392.6h0M771.1 391h0M728.8 391.2h0M949.9 387.6h0M855.7 389.7h0M616.4 393h0M549.2 398.2h0M893.5 389.6h0M671.3 390.7h0M859.5 389.6h0M625.3 393.3h0M736.2 389.4h0M941.7 387.1h0M646.2 392.4h0M813.8 390.3h0M552 402.3h0M717.6 390.9h0M903.9 386.8h0M933.4 386.2h0M634.2 391.8h0M549.8 403h0M840.4 389.2h0M832.4 388.9h0M860.6 390.1h0M843.9 390.1h0M652.9 389.1h0M830.6 388.7h0M677.7 391.6h0M866.4 390.1h0M636.2 391.7h0M904.4 389h0M714.5 390h0M587.5 396.1h0M697.4 392.2h0M813.1 388.4h0M782.1 390.4h0M821.1 389.8h0M783.1 387.5h0M652.4 391.9h0M602.3 394h0M917.9 387.2h0M796.7 390.8h0M794.1 391.2h0M844.1 390.5h0M922.8 388.2h0M825.9 388.1h0M737.7 392h0M778.3 390.1h0M788.7 389.2h0M749.1 390.4h0M936.2 387.5h0M598.2 393.9h0M589.5 394.8h0M575.1 397.6h0M592.2 394.8h0M565.7 398.2h0M798.2 389.4h0M660.9 392.7h0M876.3 388.8h0M612 393.6h0M641.1 389.8h0M887.2 388.3h0M745.7 390.3h0M728 392h0M922.1 387.5h0M706.5 389.8h0M634.4 386.2h0M860 388.5h0M564.7 398.6h0M907.4 384.2h0M764.1 391.3h0M802.9 390.2h0M874.2 389.6h0M928.8 387.4h0M804.8 389.5h0M787.8 389.1h0M927.8 388.6h0M650.6 391.5h0M593.4 393.1h0M552.8 400.2h0M947.6 383.6h0M917.7 388.8h0M949.9 386h0M873.3 389.7h0M631.8 390.9h0M553.4 402.3h0M560 399.1h0M816.5 389.7h0M938 386.6h0M682.3 392.5h0M681.7 390.6h0M687.3 391.9h0M552.8 401.7h0M946.8 385.5h0M575.1 382.9h0M915.7 388.6h0M683.2 390.7h0M751.2 388.3h0M764.9 389.8h0M750.1 390.1h0M854.6 389.1h0M863.7 389.6h0M803 389.6h0M911.2 386.7h0M946.6 387.8h0M788.2 390.6h0M631.5 393.3h0M701.2 392.4h0M554.4 401.1h0M564.5 397.5h0M898.6 389.1h0M664.5 383.7h0M819.6 390h0M805.6 388.4h0M807.1 391.1h0M936.7 385.7h0M627.1 390.2h0M614.7 392.3h0M749.5 390.4h0M715.1 392.2h0M561.7 398.5h0M753.8 391.4h0M740.3 391.6h0M692.9 392.4h0M653.3 392.8h0M788.4 390.9h0M852.4 388.9h0M804.5 389.5h0M611.7 392.3h0M605 392.5h0M804.8 388h0M717.6 391.2h0M719.9 391.7h0M919.8 388.7h0M930.7 388.6h0M858.9 388.3h0M838.1 390.3h0M923.2 388.6h0M847.7 389.6h0M861.5 387h0M568.7 397.5h0M670.3 391.1h0M961.4 387.3h0M873.7 388.8h0M694.1 391.1h0M918 388.7h0M921.3 388.4h0M831.5 388.3h0M797.4 389.8h0M752 390.8h0M586.1 394.5h0M676.5 390.2h0M720.5 392.4h0M613.2 392.2h0M555.6 401.5h0M632.1 392h0M728.1 388.6h0M909 388.2h0M777 391.2h0M763.5 391.3h0M667.2 392.3h0M646.5 383.9h0M958.4 387.7h0M557.1 401.2h0M843.1 388.8h0M931.6 386.8h0M660.4 391.6h0M946.4 386.5h0M785.5 389.1h0M592.3 395.4h0M915.4 387.8h0M587.2 396.1h0M891.5 386.8h0M730.2 391.5h0M819.5 390.5h0M918.4 387.2h0M813.9 390.3h0M930.4 387.3h0M575.5 395.8h0M650.8 390.3h0M795.8 388.8h0M794.2 389.3h0M937 388.2h0M569.5 396.5h0M734.9 390.9h0M871.5 389.5h0M641 392.1h0M827.4 390.9h0M899.4 388h0M910.1 388.2h0M962.9 387.6h0M806.6 389.8h0M560.6 399.2h0M688.8 392.5h0M897.6 387.4h0M791.4 391.1h0M853.8 389.9h0M638.5 391.2h0M915.2 388h0M887 388.8h0M887.3 386.8h0M788.5 390.1h0M622.9 389.6h0M633.8 392.6h0M856.6 390.2h0M610.7 392h0M951.1 387.8h0M902.4 387.7h0M650.3 391.1h0M610.7 392.8h0M867.7 386.4h0M594.9 392.7h0M744.3 391.1h0M780.1 391.2h0M887.1 389.2h0M896.8 388.5h0M713 390.7h0M936.4 385.9h0M605.8 393h0M611.1 392.8h0M841.8 387.8h0M689.1 391.5h0M839 389.8h0M773.8 390.1h0M610.8 392h0M686.8 392h0M905.9 387.3h0M886.3 388.8h0M651.2 392h0M814.3 391h0M820.5 388.1h0M779.7 388h0M607.6 390.9h0M801.6 390.4h0M880.2 389.8h0M699.6 390.8h0M891.8 385.3h0M573.7 394.8h0M621.3 393.2h0M963.9 387.3h0M580.8 396.9h0M779.7 390.5h0M679.6 392.2h0M581.8 397.1h0M842.3 390.5h0M907.5 389.1h0M660.8 391.5h0M803 391h0M864.8 389h0M880 389.7h0M929.7 387.2h0M762.5 390.9h0M810.8 390h0M928.3 387.7h0M706.5 392.3h0M734.6 390.3h0M561.4 399.9h0M687.7 392.3h0M587.6 395h0M943.1 387h0M883.2 385.2h0M856 388.7h0M882.8 389.7h0M858.2 389.5h0M763 389.8h0M940.8 388.1h0M789.3 390h0M827.8 389.7h0M862.4 381.9h0M895.8 389.1h0M897.8 389.2h0M665.8 392.3h0M943.9 388h0M884.2 389.4h0M737.7 391.8h0M760.8 390.7h0M686.1 392.3h0M938.1 388.2h0M958.6 386.5h0M573.3 397.6h0M657 390.4h0M690.5 389.8h0M826.7 389.3h0M885 389.2h0M669.2 391.5h0M573.6 397.5h0M697.6 390.8h0M687.8 391.8h0M645 389.2h0M926.8 387.4h0M682.1 390.9h0M941.3 386.3h0M558.5 399.2h0M796 390.3h0M735.4 392.2h0M777.1 388.9h0M899.9 386.8h0M611.3 393.1h0M724.5 391.5h0M610.3 392.4h0M582.9 395.9h0M855.6 385.4h0M789.7 389.2h0M577 396.8h0M917.9 388.2h0M633.2 392h0M787.6 390.4h0M549.5 402.8h0M587.6 395.8h0M871.7 390h0M720.2 392.2h0M932.7 388.3h0M805.9 389.9h0M902.2 387.5h0M625.3 393h0M902.9 385.2h0M888.7 387.6h0M606.7 392.2h0M789.7 391.2h0M551.5 402.4h0M572.1 397h0M601.7 392.4h0M813.4 391h0M593.2 394.4h0M732.7 391.8h0M770 390.5h0M836.2 390.5h0M828 390.3h0M905.4 388.8h0M565.2 394.6h0M950.9 387.8h0M861.4 390.2h0M682.4 391.2h0M562 398.4h0M635 391.3h0M666.7 389.9h0M587 395.2h0M564.3 398.9h0M869 388.8h0M730.9 392.2h0M642 392.1h0M902.5 389h0M669.3 392.3h0M698.6 391.5h0M820.6 387.7h0M748.3 388.6h0M798.1 390.3h0M690.1 391.7h0M660.6 391.1h0M680.9 391.9h0M896 388.9h0M802.6 390.8h0M836.2 387.8h0M703.5 391.1h0M789.8 390.9h0M819.4 387.8h0M799.2 390.4h0M714.5 390.5h0M763.3 390.1h0M586.8 395.4h0M959.7 387.5h0M934.7 388h0M921.4 388.1h0M827.1 390.4h0M624.4 392.7h0M959.5 386.6h0M762.8 391.3h0M816.6 390.1h0M729.6 392.2h0M586.2 395.5h0M809.2 390.3h0M852.5 389.2h0M777.4 391.1h0M880.2 388.7h0M699.6 391.1h0M855.2 387.8h0M601.8 392.3h0M879.6 389.1h0M674.3 392.6h0M618.5 391.1h0M733.4 391.2h0M722.5 391.9h0M844.3 389.8h0M851.6 389h0M581.3 394.7h0M694.2 389.5h0M577.5 395.9h0M643.3 390.6h0M715.4 391.9h0M715.1 391.9h0M912.8 387.7h0M785 389.7h0M876.1 387.9h0M751.8 389.9h0M598.4 392.9h0M603 392.7h0M601.8 392h0M859.6 388.5h0M616.1 393h0M822.2 391h0M886 388.8h0M623.3 391.2h0M557 399.5h0M926.4 386.1h0M629.8 391.6h0M717.3 391.8h0M727.7 390.4h0M582.5 396.6h0M692.3 391.8h0M949.1 388.1h0M828.4 390.2h0M649.9 392.4h0M868.5 389.4h0M579.7 394.3h0M659.2 391.6h0M928.5 388.5h0M884.8 388.2h0M878.8 388.6h0M631 387.4h0M931.8 387h0M929.6 386.2h0M828 388.3h0M811.5 389.3h0M924.4 388.3h0M710.5 391h0M935.4 387.5h0M897.8 388.1h0M686.6 392.4h0M669.6 392h0M618.9 391.4h0M925.2 388h0M583.2 395.3h0M683.3 390.9h0M603.2 393.4h0M746.8 391.3h0M741.2 389.5h0M575.3 396h0M707.8 390.7h0M599 394.5h0M707.9 392.2h0M917.8 384.7h0M652.1 389.5h0M631.7 392.6h0M710 391.7h0M597.5 392.9h0M696 391.3h0M767 390.6h0M859.8 389.9h0M875.5 389.6h0M767 389.8h0M595.9 394.8h0M711.3 390.2h0M566.6 398.6h0M783.4 391.2h0M825.8 390.6h0M707.3 391.8h0M653.4 390.4h0M734.5 391.8h0M550.8 400.8h0M615.5 392.3h0M849.5 390.2h0M858.3 387.5h0M648.9 392h0M559.8 397.4h0M956.2 387.6h0M852.8 387h0M549.7 403.2h0M849.5 390.6h0M885.3 389h0M782.9 389h0M720.6 390.8h0M753.7 391.4h0M935.3 384.8h0M640.4 393h0M848.2 390.1h0M828.2 390.5h0M680.6 391.5h0M614.8 393h0M937.6 387.2h0M688.5 388.9h0M887.3 389.2h0M577.7 394.5h0M688.8 390.8h0M902.1 389.4h0M892.2 389.3h0M927.6 387.2h0M572.9 396.5h0M834.8 389.8h0M781.3 391.3h0M582.8 396.2h0M576.9 396h0M805.3 389.8h0M927.6 387h0M725 390.8h0M902.7 388.6h0M585.3 396.3h0M549 401.5h0M717.1 391h0M569.7 396.3h0M584.9 396.6h0M891.6 388.5h0M590.2 393.4h0M769.4 389.3h0M613 393.3h0M662.1 392.3h0M950.4 386.7h0M818.9 390.7h0M631.4 393h0M676.5 391.8h0M843.1 388.6h0M788.2 391.2h0M672.1 390.7h0M712.7 392.1h0M606.4 390.9h0M571.8 396.3h0M759.8 391.1h0M716.2 390.7h0M955.3 387.9h0M874.5 389h0M570.3 397.5h0M892 385.5h0M745 390h0M657.8 392.5h0M784.2 389.8h0M831.7 387h0M630.9 391.9h0M770.3 389.4h0M621 393.5h0M689 392.3h0M538.5 427h0M538.6 432h0" fill="none" stroke="#c585c0" stroke-width="3.4" stroke-linecap="round"/>
<path d="M481 402C481 400.8 480.9 399.9 481 395C481.1 390.1 481.1 382.1 481.4 372.6C481.7 363.1 482.3 349.5 482.8 337.9C483.3 326.3 483.9 314.7 484.5 303.1C485.1 291.5 485.7 278.5 486.3 268.4C486.9 258.3 487.6 248.3 488.3 242.4C489 236.5 489.7 235 490.6 232.8C491.5 230.6 492.6 231.2 493.5 229C494.4 226.8 495.1 223.1 495.9 219.9C496.7 216.8 497.6 212.2 498.4 210.1C499.2 208 499.9 207.3 500.8 207.2C501.8 207.1 503.1 209.8 504.1 209.7C505.1 209.6 505.9 208.9 506.6 206.8C507.3 204.7 507.6 200.3 508.2 197C508.8 193.7 509.4 189.3 510.2 187.2C510.9 185.1 511.7 184.6 512.7 184.3C513.7 184 514.8 185.1 516 185.6C517.2 186.1 519 185.8 520 187.2C521 188.5 521.4 191 522.1 193.7C522.8 196.4 523.4 200.5 524.1 203.5C524.8 206.5 525.6 208.6 526.2 211.7C526.8 214.8 527.4 218.1 527.8 222C528.2 225.9 528.2 228.7 528.6 235C529 241.3 529.4 248.3 530 259.7C530.6 271.1 531.6 288.6 532.3 303.1C533 317.6 533.5 333.5 534 346.5C534.5 359.5 535.1 373.2 535.4 381.3C535.7 389.4 535.7 390.2 535.8 395C535.9 399.8 536.1 407.5 536.2 410" fill="none" stroke="#c585c0" stroke-width="3.5" stroke-linecap="round" stroke-linejoin="round" />
<path d="M121 405.4L122.3 406.8L123.6 405.9L124.9 405.6L126.2 405.6L127.5 404.6L128.8 405.1L130.1 405.3L131.4 404.5L132.7 405.5L134 404.3L135.3 405.7L136.6 406.3L137.9 405.2L139.2 406L140.5 406.4L141.8 405.1L143.1 404.5L144.4 404.9L145.7 405.7L147 406.3L148.3 404.7L149.6 406.6L150.9 404.2L152.2 406.3L153.5 405.6L154.8 406.6L156.1 406L157.4 406.3L158.7 406.4L160 406.1L161.3 404.7L162.6 405.3L163.9 405.4L165.2 404.5L166.5 406.4L167.8 404.8L169.1 404.4L170.4 404.7L171.7 404.3L173 404.5L174.3 406.5L175.6 404.8L176.9 404.3L178.2 404.4L179.5 405.8L180.8 404.3L182.1 406.2L183.4 405.1L184.7 404.6L186 404.2L187.3 405.6L188.6 405.6L189.9 404.6L191.2 404.4L192.5 404.1L193.8 404.4L195.1 405.1L196.4 404L197.7 404.1L199 405.8L200.3 405L201.6 406.3L202.9 404.6L204.2 405.5L205.5 404.3L206.8 405.4L208.1 404.5L209.4 404.5L210.7 406.4L212 403.9L213.3 405.7L214.6 404.6L215.9 405.7L217.2 405.3L218.5 404.2L219.8 404.4L221.1 406.2L222.4 406.3L223.7 404.2L225 405.4L226.3 404.8L227.6 404.5L228.9 405.8L230.2 404.1L231.5 405.5L232.8 403.9L234.1 404.2L235.4 403.8L236.7 404L238 406.2L239.3 405.6L240.6 406.1L241.9 405.9L243.2 403.9L244.5 405.8L245.8 404.5L247.1 404.1L248.4 405.6L249.7 403.9L251 404.6L252.3 405.5L253.6 405.3L254.9 405.6L256.2 405.7L257.5 405.3L258.8 403.7L260.1 404.9L261.4 404.5L262.7 405.1L264 405.2L265.3 404.6L266.6 405.7L267.9 404L269.2 404.1L270.5 405.2L271.8 406L273.1 404L274.4 405.2L275.7 405.5L277 404.4L278.3 405.7L279.6 405.1L280.9 404.9L282.2 403.9L283.5 404.8L284.8 404.7L286.1 405.9L287.4 404.9L288.7 405.3L290 405.5L291.3 405.7L292.6 404L293.9 404L295.2 405.5L296.5 404.1L297.8 403.9L299.1 403.6L300.4 404.7L301.7 404.7L303 403.9L304.3 405.8L305.6 403.8L306.9 404.2L308.2 403.8L309.5 404.3L310.8 405.7L312.1 405.7L313.4 403.7L314.7 404.1L316 403.4L317.3 405L318.6 404.9L319.9 405.2L321.2 404.5L322.5 403.7L323.8 404.1L325.1 405.7L326.4 404.2L327.7 405.2L329 405.1L330.3 405.3L331.6 404.6L332.9 404.2L334.2 405.3L335.5 404.1L336.8 405.5L338.1 404.8L339.4 404L340.7 403.6L342 404.4L343.3 404L344.6 403.8L345.9 403.4L347.2 403.5L348.5 405.5L349.8 405.7L351.1 405L352.4 404L353.7 403.3L355 405.3L356.3 404.2L357.6 405.4L358.9 404.4L360.2 404.5L361.5 403.6L362.8 404.9L364.1 404.2L365.4 403.2L366.7 404.2L368 405.6L369.3 403.7L370.6 404.4L371.9 404.6L373.2 404.9L374.5 403.4L375.8 405.5L377.1 403.7L378.4 405.2L379.7 404.4L381 404.8L382.3 403.4L383.6 404L384.9 403.8L386.2 403.5L387.5 403.2L388.8 403.9L390.1 404.9L391.4 403.1L392.7 404.5L394 404.8L395.3 403.2L396.6 405L397.9 404.7L399.2 404.7L400.5 405.2L401.8 404.5L403.1 403.4L404.4 404.4L405.7 404L407 403.8L408.3 404.8L409.6 402.9L410.9 404.8L412.2 402.9L413.5 403.8L414.8 403L415.5 404L415.5 434.1L414.8 433.9L413.5 436L412.2 437.3L410.9 441L409.6 443.5L408.3 445.6L407 446.4L405.7 448.1L404.4 448.5L403.1 452.1L401.8 451.4L400.5 450.5L399.2 449.6L397.9 450.6L396.6 448.2L395.3 448.8L394 445.8L392.7 447.1L391.4 445.7L390.1 445.2L388.8 445.2L387.5 443.5L386.2 442.6L384.9 443L383.6 442.4L382.3 441.8L381 440.4L379.7 438.4L378.4 440L377.1 438.9L375.8 438.6L374.5 438.6L373.2 437.1L371.9 438.2L370.6 438L369.3 436.1L368 438.1L366.7 436.2L365.4 436.2L364.1 436L362.8 436L361.5 436L360.2 436.1L358.9 435L357.6 435.3L356.3 434.3L355 433.8L353.7 433.9L352.4 433.8L351.1 434.7L349.8 433.6L348.5 433.6L347.2 433.8L345.9 433.6L344.6 433.5L343.3 432.9L342 432.6L340.7 432.5L339.4 432.6L338.1 434.1L336.8 432L335.5 432.2L334.2 433.5L332.9 431.7L331.6 431.9L330.3 433.5L329 433.7L327.7 433.7L326.4 431.7L325.1 433.6L323.8 431.7L322.5 432.5L321.2 432.4L319.9 432.8L318.6 431.8L317.3 430.9L316 431.9L314.7 432.2L313.4 432L312.1 431.9L310.8 431.6L309.5 431.8L308.2 430.4L306.9 430.7L305.6 430.8L304.3 430L303 429.1L301.7 428.9L300.4 429.2L299.1 427.5L297.8 429.4L296.5 428.1L295.2 428.3L293.9 426.8L292.6 426.9L291.3 428L290 426.8L288.7 427.1L287.4 428.1L286.1 427.6L284.8 427.2L283.5 428.6L282.2 427.6L280.9 428.9L279.6 427.3L278.3 427.4L277 428.3L275.7 427.7L274.4 427.6L273.1 427.8L271.8 428L270.5 428.7L269.2 426.8L267.9 427.1L266.6 427.8L265.3 428.7L264 429L262.7 427.1L261.4 426.8L260.1 427.6L258.8 429.1L257.5 428.3L256.2 427.9L254.9 428.6L253.6 429.1L252.3 427.5L251 427L249.7 428.8L248.4 428.2L247.1 426.9L245.8 428.9L244.5 428.6L243.2 429.1L241.9 426.8L240.6 428.4L239.3 429L238 428.2L236.7 428.2L235.4 427L234.1 428.7L232.8 428.3L231.5 428.7L230.2 427.6L228.9 428.8L227.6 427.9L226.3 428L225 427L223.7 427.2L222.4 428.1L221.1 429.1L219.8 427.5L218.5 428.5L217.2 427.1L215.9 428.3L214.6 428.8L213.3 427.9L212 426.7L210.7 427.1L209.4 426.9L208.1 427.5L206.8 429L205.5 428.3L204.2 427.1L202.9 428.8L201.6 427.5L200.3 426.9L199 427.9L197.7 428.2L196.4 429L195.1 427.2L193.8 428.5L192.5 428.9L191.2 428.4L189.9 428.4L188.6 429L187.3 426.9L186 426.8L184.7 428.3L183.4 427.1L182.1 428.3L180.8 428.3L179.5 428.9L178.2 427L176.9 429.2L175.6 428.6L174.3 427.7L173 427.9L171.7 427.2L170.4 427.4L169.1 428.2L167.8 426.8L166.5 427.6L165.2 428L163.9 427.5L162.6 428.4L161.3 428.8L160 427.3L158.7 428.5L157.4 427L156.1 429.1L154.8 428.5L153.5 427.3L152.2 428.8L150.9 428.6L149.6 427.3L148.3 427.9L147 427.2L145.7 427.1L144.4 427.9L143.1 428.9L141.8 427.5L140.5 428.4L139.2 427.3L137.9 429L136.6 427.8L135.3 428.5L134 429.2L132.7 428.8L131.4 428L130.1 429L128.8 426.8L127.5 426.9L126.2 428.8L124.9 429L123.6 429.1L122.3 427L121 428.8Z" fill="#8455cc"/>
<path d="M614.3 404.2L615.6 403.2L616.9 403.9L618.2 404.4L619.5 402.4L620.8 403L622.1 402.2L623.4 402.3L624.7 402.8L626 403.1L627.3 403.8L628.6 403.9L629.9 403.5L631.2 402.4L632.5 402.4L633.8 402.4L635.1 402.5L636.4 403.3L637.7 403.3L639 402.7L640.3 404.1L641.6 402.8L642.9 402.5L644.2 402.6L645.5 403.3L646.8 403.7L648.1 403.9L649.4 403.2L650.7 401.9L652 404.1L653.3 403.9L654.6 401.9L655.9 402.1L657.2 403.4L658.5 402.6L659.8 403.8L661.1 403.7L662.4 402.2L663.7 403.3L665 404.1L666.3 402.1L667.6 402.3L668.9 403.5L670.2 403.2L671.5 402.6L672.8 403.7L674.1 401.9L675.4 403.7L676.7 404.1L678 402.9L679.3 403.9L680.6 402.4L681.9 402.9L683.2 402.7L684.5 403.1L685.8 402.5L687.1 404.1L688.4 403.8L689.7 401.7L691 404L692.3 402.8L693.6 403.4L694.9 402.5L696.2 401.8L697.5 403.5L698.8 402.8L700.1 402.2L701.4 401.9L702.7 403.5L704 402.1L705.3 402.2L706.6 403.8L707.9 403L709.2 403.7L710.5 404L711.8 401.5L713.1 401.9L714.4 403.2L715.7 403L717 401.5L718.3 403.9L719.6 403.9L720.9 401.7L722.2 402.9L723.5 403.1L724.8 403.9L726.1 401.5L727.4 402.4L728.7 401.9L730 402.8L731.3 402.9L732.6 403L733.9 403L735.2 402.4L736.5 401.7L737.8 401.7L739.1 401.7L740.4 403.8L741.7 403L743 402.2L744.3 403.7L745.6 401.5L746.9 402.7L748.2 403.2L749.5 402.2L750.8 403.5L752.1 402.9L753.4 403.2L754.7 401.6L756 402.6L757.3 402.2L758.6 403.7L759.9 403.5L761.2 403.4L762.5 402.1L763.8 402.6L765.1 402.6L766.4 403.1L767.7 403.2L769 403L770.3 401.3L771.6 401.8L772.9 403.4L774.2 403.1L775.5 402L776.8 401.4L778.1 403.6L779.4 402.8L780.7 402.9L782 402.2L783.3 402.6L784.6 402L785.9 402.3L787.2 403.6L788.5 401.3L789.8 401.2L791.1 403.2L792.4 403.4L793.7 401.2L795 402.8L796.3 401.1L797.6 401.5L798.9 401.3L800.2 403.2L801.5 401.4L802.8 401.1L804.1 403.2L805.4 403.1L806.7 401.2L808 401.7L809.3 402.1L810.6 402.2L811.9 401.3L813.2 401.8L814.5 402.9L815.8 403.2L817.1 402.5L818.4 401.7L819.7 403.3L821 402L822.3 401.3L823.6 402.9L824.9 402.5L826.2 401L827.5 401.8L828.8 401.6L830.1 402.9L831.4 401.5L832.7 401.6L834 401.9L835.3 401.2L836.6 403.2L837.9 401.6L839.2 401.2L840.5 401.2L841.8 402.2L843.1 402.7L844.4 401.8L845.7 401.5L847 402L848.3 402.7L849.6 401.9L850.9 401.8L852.2 402.8L853.5 402.7L854.8 402.5L856.1 401.6L857.4 401.9L858.7 403.1L860 403.1L861.3 403.1L862.6 401.7L863.9 402.7L865.2 402.4L866.5 402.8L867.8 402.8L869.1 402.5L870.4 403.1L871.7 401L873 400.8L874.3 400.9L875.6 401.5L876.9 401.4L878.2 401.4L879.5 401.7L880.8 402.4L882.1 402.3L883.4 401.6L884.7 401.7L886 401.9L887.3 402.9L888.6 400.7L889.9 402.3L891.2 401.2L892.5 401.7L893.8 401.2L895.1 402.1L896.4 402.5L897.7 401.4L899 401.6L900.3 400.7L901.6 402.2L902.9 400.9L904.2 401.2L905.5 401.3L906.8 402.6L908.1 402.1L909.4 402.3L910.7 400.7L912 401.6L913.3 402.2L914.6 400.6L915.9 401L917.2 401.1L918.5 402.8L919.8 402L921.1 401.4L922.4 401.3L923.7 400.5L925 402.8L926.3 400.7L927.6 400.7L928.9 401.7L930.2 401.8L931.5 400.9L932.8 401.2L934.1 400.7L935.4 401.4L936.7 401.5L938 400.7L939.3 401.8L940.6 402.5L941.9 402.4L943.2 401.4L944.5 401.4L945.8 400.7L947.1 401.4L948.4 401.9L949.7 402.1L951 402.2L952.3 401.6L953.6 401.2L954.9 402.3L956.2 402.7L957.5 401.4L958.8 401L960.1 400.9L961.4 400.7L962.7 402.2L964 400.4L964 400.8L964 412.7L964 413.1L962.7 412.5L961.4 411.5L960.1 412.1L958.8 412.7L957.5 411.4L956.2 413.9L954.9 412.8L953.6 412.5L952.3 412.4L951 414L949.7 413.9L948.4 413.9L947.1 411.7L945.8 413.4L944.5 413.4L943.2 413.9L941.9 414L940.6 414.1L939.3 412.9L938 413.6L936.7 412.7L935.4 412.1L934.1 414.2L932.8 413.5L931.5 413.8L930.2 414.4L928.9 413.8L927.6 412.2L926.3 414.6L925 412.8L923.7 412.5L922.4 413.6L921.1 413.2L919.8 414.3L918.5 413.8L917.2 413L915.9 413.4L914.6 414.7L913.3 413L912 412.8L910.7 414.8L909.4 413.2L908.1 413.4L906.8 413.9L905.5 413.2L904.2 414.9L902.9 412.7L901.6 414.8L900.3 414.4L899 414.7L897.7 414.1L896.4 413.2L895.1 414.1L893.8 414.1L892.5 414L891.2 413.9L889.9 413.3L888.6 414.5L887.3 414.8L886 415.3L884.7 413.7L883.4 413.5L882.1 415.5L880.8 413.6L879.5 415L878.2 415.4L876.9 415.1L875.6 414.7L874.3 414.7L873 413.6L871.7 414.1L870.4 414.9L869.1 414.8L867.8 415.7L866.5 416L865.2 413.8L863.9 415.4L862.6 415.7L861.3 415.3L860 414.6L858.7 415.6L857.4 414.3L856.1 415.5L854.8 414.7L853.5 416.6L852.2 414.7L850.9 415.4L849.6 415.2L848.3 415.7L847 416L845.7 416L844.4 416.8L843.1 416.9L841.8 415.5L840.5 415.2L839.2 416.2L837.9 416.1L836.6 415.6L835.3 415.6L834 416.5L832.7 415.8L831.4 417.6L830.1 416.8L828.8 416.8L827.5 417.3L826.2 417L824.9 417.5L823.6 416.5L822.3 416.6L821 417.7L819.7 417L818.4 418.4L817.1 417.3L815.8 419.1L814.5 418.4L813.2 418.7L811.9 418.3L810.6 419.4L809.3 418.2L808 418.3L806.7 418.9L805.4 419.7L804.1 418.5L802.8 418.4L801.5 419L800.2 418.3L798.9 420.5L797.6 420.6L796.3 420L795 419L793.7 420.3L792.4 419.7L791.1 419.8L789.8 420.6L788.5 420.2L787.2 420.3L785.9 420.2L784.6 419.6L783.3 420.8L782 421.5L780.7 421.1L779.4 421.8L778.1 421.2L776.8 422L775.5 422.6L774.2 421.4L772.9 422.9L771.6 421.7L770.3 421.9L769 422.3L767.7 423.2L766.4 421.6L765.1 423.1L763.8 422.9L762.5 423L761.2 423.1L759.9 423.2L758.6 422.4L757.3 424.2L756 423.7L754.7 424L753.4 423.2L752.1 422.8L750.8 424.1L749.5 424.2L748.2 424.8L746.9 424.3L745.6 425.2L744.3 424L743 424.7L741.7 423.9L740.4 424.8L739.1 426.3L737.8 424.6L736.5 425.6L735.2 425.2L733.9 426.8L732.6 425.1L731.3 426.4L730 426.2L728.7 426.3L727.4 426.1L726.1 426.4L724.8 427.9L723.5 426.5L722.2 425.8L720.9 425.7L719.6 426.5L718.3 427.1L717 426.4L715.7 426.4L714.4 428.4L713.1 427.1L711.8 427.1L710.5 427.4L709.2 427.7L707.9 428.2L706.6 426.7L705.3 428L704 428.7L702.7 428.8L701.4 427.2L700.1 429L698.8 427.2L697.5 427.6L696.2 427.4L694.9 427.2L693.6 427.9L692.3 428.2L691 428.5L689.7 428.8L688.4 428.9L687.1 427.5L685.8 429.3L684.5 427.6L683.2 428.8L681.9 430L680.6 428.3L679.3 428.5L678 428.1L676.7 430.6L675.4 429.5L674.1 429L672.8 429.8L671.5 429.6L670.2 432L668.9 432.1L667.6 431.2L666.3 432.9L665 433.4L663.7 431.4L662.4 432.2L661.1 432.6L659.8 433.7L658.5 433.7L657.2 434.6L655.9 434.4L654.6 435.4L653.3 433.7L652 434.7L650.7 436.1L649.4 435.9L648.1 437.5L646.8 438.3L645.5 437.3L644.2 438.6L642.9 439.1L641.6 439.3L640.3 438.2L639 438.8L637.7 442.7L636.4 446.7L635.1 449.3L633.8 453.9L632.5 455.6L631.2 459.3L629.9 459.7L628.6 457L627.3 456.3L626 455.3L624.7 453.4L623.4 451.8L622.1 451L620.8 447.5L619.5 446.7L618.2 445L616.9 443.4L615.6 439.3L614.3 434.2Z" fill="#8455cc"/>
<path d="M370.3 438.2h0M352.3 434.6h0M374.5 442.7h0M350.6 434.8h0M318.8 435.3h0M398.1 450.9h0M335.2 435.7h0M371.3 439h0M407.8 446h0M348.2 437h0M336 434.9h0M371.2 442.9h0M361.3 436.7h0M362.1 438.9h0M393 447.6h0M349.4 434.3h0M397.2 454.6h0M344.2 434.5h0M397.6 450.9h0M368.8 441.4h0M355.8 436.9h0M352 434.8h0M379.5 442.4h0M391 448.1h0M345.7 442.2h0M374.2 442.5h0M310.9 433h0M356.2 438.4h0M394.7 448.3h0M339.6 436.4h0M405.1 449.7h0M376.8 442.8h0M395.1 451h0M377.9 439.6h0M404.9 451.7h0M384.2 444.2h0M347.3 439.2h0M330 433.6h0M409.7 446.4h0M324.5 434.2h0M325.2 434.4h0M384 442.8h0M330.2 433.8h0M404 452h0M369.9 440.1h0M409.5 443.8h0M327.6 435.2h0M339.5 438.5h0M365.2 438.8h0M397.7 450.7h0M346.2 436h0M408.6 446.5h0M382.8 441.5h0M330.3 434.2h0M353 437.3h0M391.6 446.2h0M354.5 435.3h0M337.4 434.5h0M343.6 438.3h0M315.3 432.8h0M372.7 438.6h0M353 434.6h0M374 442.7h0M343.4 435.5h0M337.2 435.8h0M321.3 433.3h0M315.6 435h0M326.8 435.1h0M410.9 442.1h0M359.9 437.8h0M337.8 433.4h0M321.2 432.6h0M345.9 436h0M396.2 452.5h0M383.4 445.1h0M363.4 437.1h0M357.5 435.9h0M372.6 438.4h0M359.7 438.3h0M395.2 448.5h0M383.8 445.8h0M359.2 435.8h0M336.8 435.8h0M411.1 442.8h0M340.6 436.5h0M327.2 433.6h0M370.1 440.5h0M347.6 437.1h0M388.4 445.9h0M332.4 433.7h0M383.8 443.3h0M397.9 451.5h0M313.9 432.3h0M407.7 449.1h0M376.7 439.9h0M372.8 441.8h0M375.5 439.7h0M406 451.4h0M314.5 432.4h0M353.5 438.6h0M365 438.1h0M316 434.3h0M338.1 435.9h0M320 434.7h0M333.2 434.5h0M396.6 450.3h0M345.9 435.2h0M314.7 432.6h0M352.8 434.6h0M377.9 441.6h0M394.8 450.5h0M391.9 447.2h0M371.5 438.2h0M359.4 437.1h0M384.3 442.4h0M332.2 436.2h0M354.1 439h0M324.1 433.4h0M316.6 433.1h0M365.5 443.9h0M360.2 436.3h0M391.8 448.4h0M388.5 448h0M313.2 433.6h0M363.4 445.7h0M374.1 439.9h0M343.5 436.5h0M411.8 440.5h0M392.2 446.2h0M315.4 435h0M382.4 442.3h0M405 451.6h0M397.8 451h0M335.6 434.3h0M355.7 437.8h0M320.4 433.3h0M411.9 438.7h0M389.4 448h0M312.9 434.2h0M359 436.9h0M387.8 446.9h0M402.4 456.8h0M398.8 451.4h0M315.7 434.8h0M380.1 442h0M413.1 439.9h0M345.5 436h0M311.1 433.5h0M357.8 436.4h0M386.9 446.6h0M378.4 445.2h0M312 433.7h0M323.7 433.3h0M409.2 445.5h0M324.9 436.2h0M389.1 445.8h0M323 434.3h0M376.1 453.8h0M374.7 442.8h0M335.2 434.2h0M314.4 438.2h0M327.9 434.2h0M406.7 447.4h0M326.5 434.1h0M314.2 432.7h0M402.4 453.6h0M360.2 435.8h0M378.8 440.4h0M329.2 434.1h0M411 442.2h0M369.7 440.8h0M312.8 432.9h0M349.4 436h0M379.4 439.7h0M389.5 447.6h0M324.4 443.8h0M411.2 441.3h0M374 440.1h0M372.5 446.2h0M310.9 432.3h0M323.7 434.4h0M326.1 434.1h0M409.3 447.8h0M381.1 441.7h0M403 452h0M359.6 440h0M337 438.1h0M409 445.1h0M313.6 433.6h0M395.3 450.9h0M401.5 455.2h0M403.2 452.3h0M344.5 436.5h0M410.4 444h0M339 434.3h0M364.5 438.2h0M315.4 436.1h0M309.7 434.1h0M412.3 438h0M339.8 435.5h0M320 433.4h0M383 444.3h0M328.3 433.2h0M328.1 433.2h0M342.5 433.5h0M349.8 434h0M381.5 440.9h0M392.7 446.6h0M339.9 442.7h0M340.9 434.4h0M366.5 448h0M369.1 438h0M399.8 463.4h0M186.1 428.8h0M292.3 429.8h0M140.8 433h0M263.2 437.2h0M229.4 437.2h0M275 434.4h0M299.5 433.4h0M223.7 431.5h0M206.2 433.3h0M181.6 432.6h0M248.7 433.7h0M272.7 438.1h0M293.6 434.1h0M225.5 428.9h0M176.6 434.3h0M155.4 428.4h0M185 437.3h0M261.2 432.1h0M192 428.6h0M195.1 429h0M289.8 458.4h0M223.3 430h0M241.8 429.7h0M180.2 440.3h0M308.3 438.1h0M240.9 433.4h0M134.6 429.8h0M200.7 435.3h0M290.2 430.1h0M250 428.7h0M175.4 432.3h0M248.5 429.1h0M219.3 428.9h0M188.4 431.6h0M190.5 431h0M251.5 432.7h0M230 439.3h0M306.8 432.4h0M161 429.2h0M301.1 430h0M170.6 436.5h0M223.3 431.1h0M271.3 433.4h0M227 434.4h0M201.3 428.9h0M224.4 429.8h0M250.2 431.2h0M268.4 433.8h0M213.8 434.5h0M191.5 438.1h0M224.8 429.2h0M160 429.1h0M134.8 431.5h0M278.5 429.2h0M175.2 429.9h0M196.9 434h0M224.6 428.5h0M171.6 433.8h0M245.7 435.1h0M221.5 435.3h0M270.8 429.2h0M215.3 434.2h0M275.5 429h0M271.7 428.3h0M173.7 429.3h0M308.2 431.7h0M176.4 441.3h0M200.7 437h0M151.5 434.3h0M128.8 429.9h0M307.2 433.3h0M179.5 433.8h0M191.5 429.3h0M214.6 434h0M196.6 434.6h0M130.1 433.9h0M248.3 436.1h0M246.1 430.8h0M212.1 437.2h0M164.5 433.4h0M261.2 433.4h0M254.1 429h0M204.1 431h0M186.7 428.4h0M259.6 430.9h0M217.9 436.3h0M123.1 432.7h0M175.8 428.4h0M256.7 432.8h0M304.3 431.1h0M171.6 428.5h0M243 429.2h0M180.6 436.3h0M177.9 434.6h0M209.9 435.4h0M266.6 430.4h0M236.2 429.6h0M260.1 428.3h0M162.7 429.1h0M195.4 433.3h0M288.7 428.4h0M205.5 428.2h0M268.2 429h0M284.5 432.8h0M176.3 444.6h0M144.2 428.6h0M230 430.2h0M164.7 433.3h0M301.8 436.4h0M224 429.4h0M149.7 436.6h0M138.5 429.8h0M194 431.7h0M242.6 433.7h0M133.8 432.7h0M277.4 432.9h0M135 429.3h0M134.4 429.3h0M210.7 432.6h0M274.4 428.3h0M125.7 428.9h0M265.7 431.2h0M240.1 428.2h0M164.8 428.7h0M126.3 429.3h0M152.4 433.3h0M140.6 428.6h0M171 431.1h0M255.4 431.8h0M209 431.6h0M219.7 435.5h0M182.4 429.2h0M147.7 428.5h0M135.8 433h0M127.1 430.1h0M140 446.3h0M226.6 432.8h0M213 430.4h0M152.7 429.5h0M294.4 433.3h0M199.9 434.2h0M128.2 434.6h0M170.9 433.9h0M308.5 443.3h0M193.7 429.5h0M259.2 430.1h0M155.2 431.6h0M303.2 431.9h0M202 428.6h0M159.9 433h0M184.2 436.2h0M176.8 432.2h0M254.7 429.8h0M233.2 430.2h0M251.1 431.8h0M196.3 431.5h0M213.2 428.2h0M274.9 436.4h0M140.5 430.6h0M197.6 433h0M264.9 432.8h0M291.5 432.6h0M234.2 429.8h0M209.1 429.1h0M124.8 428.2h0M215.4 433.3h0M261.3 429.2h0M175.1 428.4h0M296.1 428.9h0M304 434.8h0M271.5 428.6h0M301.5 431.6h0M263.9 433.2h0M253.5 429.8h0M167.4 433h0M157.5 438.2h0M292.3 429.2h0M123.1 429.3h0M192.8 434.5h0M211 429h0M241 428.6h0M238.1 429.9h0M245.6 428.2h0M232.3 433.4h0M303.4 455.1h0M164.3 432.8h0M271.2 435.5h0M138.6 431.1h0M688.2 429.2h0M656.6 435.8h0M724 435.4h0M680.8 431.3h0M697.4 429.6h0M674 431.6h0M644 440.1h0M718.7 429.9h0M630.6 461h0M692.7 433.2h0M712.6 428h0M629.6 459.4h0M691.3 428.9h0M687.8 429.6h0M665.4 436.5h0M701.3 428.3h0M673.9 432.7h0M730.3 429.1h0M644.6 439.7h0M630.1 460.1h0M719 428.1h0M694.7 429.1h0M631.9 462.1h0M721.7 428.3h0M620.6 450h0M715.1 432.4h0M616.6 446h0M617.7 448.4h0M711.5 430.1h0M718.9 429.4h0M626 455.6h0M657.9 435.7h0M704.1 429.3h0M680 429.5h0M668.2 433.4h0M683.7 433.1h0M683.2 431.7h0M651.8 440.2h0M676.3 439.6h0M726.5 432h0M617.3 444.9h0M629.8 459.4h0M615.1 438.7h0M731.1 427.6h0M673.1 431.9h0M649.7 438.9h0M640.8 444h0M723 439.4h0M709.4 431.8h0M679.9 430.3h0M631 462.5h0M720.5 436.6h0M619.9 450.2h0M655.8 436.4h0M619.9 450.8h0M704.7 428.1h0M628 463.4h0M629.9 460.8h0M696.4 429.4h0M708.2 428.1h0M702.2 432.4h0M706.1 429.7h0M700.2 429.4h0M620.5 450.7h0M678 430.7h0M706.9 428.9h0M675 432.3h0M639.7 462.8h0M719.7 429.1h0M665.1 435.4h0M680.9 430.4h0M693.6 429.5h0M718.9 427.6h0M653.2 435.8h0M625.6 456.2h0M691.6 430.3h0M666.1 434.7h0M622.2 451.6h0M718.3 431h0M653.3 437.7h0M621.3 453.7h0M644.3 439.1h0M672.4 433.3h0M714.5 430.9h0M732 434.7h0M681.2 429.2h0M640.6 440h0M646.8 441.5h0M723.4 428.8h0M729.9 430.4h0M647.7 439.2h0M678.3 437.1h0M707.4 428.4h0M650.7 439.5h0M690.9 428.9h0M663.1 433.9h0M650.9 455.2h0M701.9 430.7h0M712.9 430.5h0M640.2 441.2h0M643.2 442h0M644.5 439.3h0M670.2 433.3h0M725 427h0M652.8 440h0M641.1 442.6h0M721.3 431.8h0M729.9 429.6h0M720.7 428.1h0M632.9 456.6h0M697.9 435.4h0M616.9 447.9h0M624.1 454.6h0M658.4 437h0M704.7 429.1h0M650.9 437.1h0M698.1 428.9h0M714.9 428h0M672.9 432.3h0M697.6 428.7h0M630 460.3h0M703.6 429.8h0M633.3 455.3h0M731.2 427.3h0M639.9 441.7h0M673.3 439.4h0M639.1 441.1h0M678.7 429.5h0M678.3 432.2h0M625.7 464.7h0M674.1 431.5h0M652.6 436.5h0M663.4 438.7h0M705.7 431.3h0M695.4 430.5h0M621.8 451h0M715.2 428.2h0M694.1 430.4h0M714.3 428.6h0M682 429.9h0M688.3 435.5h0M630.2 461.5h0M695.3 429.2h0M632.6 462.9h0M689.1 429.3h0M727.4 428.4h0M630.8 465.8h0M688.5 434.5h0M714.8 427.4h0M682.3 429.3h0M643.7 443.7h0M729.5 431.6h0M729.2 428.2h0M670.6 432.7h0M728.8 426.9h0M720.3 427.5h0M627.2 457.5h0M722.6 427.1h0M655.8 437h0M682.9 431.1h0M675.1 433.3h0M621.9 450.6h0M658.5 435.3h0M720.9 428.4h0M669.7 431.9h0M641 440.9h0M705.4 430.6h0M667.1 434.1h0M663.2 434.9h0M633.6 459.1h0M664.9 432.6h0M699.7 428.2h0M674.9 432.2h0M724.8 427.6h0M725.2 429.6h0M648.4 438.7h0M639.1 441.1h0M621.1 450.1h0M618.1 447.3h0M646.6 438.3h0M647.8 438.9h0M705.6 431.5h0M625.7 460h0M624.8 455.9h0M628.6 459.2h0M627.1 458h0M661.7 437.8h0M705.6 427.7h0M723 429.1h0M647.4 438.8h0M660 434.3h0M713.6 429.2h0M715.1 430.6h0M623.6 453.1h0M649.5 440.8h0M660.9 434.2h0M633.1 457.5h0M722.3 429.8h0M670.9 431.6h0M704.6 428.4h0M683.9 430.9h0M732.2 426.9h0M618.8 447h0M708.7 428.2h0M614.4 443.8h0M657.9 436.9h0M679.9 431h0M699.4 433h0M620.9 453.9h0M641.1 440.3h0M617.8 445.2h0M718 432.3h0M713.4 427.7h0M691.9 433.4h0M710.1 427.7h0M656.7 436.4h0M626.5 458.1h0M671.8 438.2h0M687.4 429.3h0M641.6 445.5h0M696.2 429.3h0M661 434.9h0M690 430.2h0M672.8 431.4h0M617.8 445.4h0M678 430.3h0M717.2 429.6h0M697.2 430h0M667.3 434.1h0M675.5 433.1h0M731.3 428.8h0M652 437h0M623.7 453.2h0M699.6 429.3h0M677.5 430h0M643.8 440.3h0M662.2 433.8h0M943.1 419.3h0M786.7 421.5h0M874.1 419h0M960.6 417.6h0M736.3 432h0M906.4 415.6h0M789.4 421.9h0M885.4 424.9h0M791.4 439.3h0M952.9 414.6h0M812.7 419.6h0M798.1 419.9h0M845.5 417.8h0M837 418.6h0M952.1 417.6h0M754.8 428.6h0M778.9 429.3h0M862.2 419.6h0M807.8 427.4h0M809.7 420.1h0M907.3 421.5h0M871 416.4h0M809.7 419.7h0M956.2 420.1h0M893.1 421.6h0M781.2 422.5h0M810.8 422.2h0M943.1 419h0M832.4 420h0M838.2 416.8h0M774.5 423.5h0M747 425.6h0M852.3 417.6h0M958.4 413.1h0M892.4 420.3h0M904.1 415.6h0M814.6 419.5h0M916.9 415.4h0M867.4 420.9h0M885.7 416h0M800.5 431.6h0M871.6 420h0M863.8 416.5h0M851.8 420.4h0M830.9 419.4h0M933 415.2h0M756.4 431.9h0M780.6 427.3h0M745.1 424.8h0M837.8 421.6h0M799.3 423.7h0M936 416.6h0M925.9 415.1h0M750.8 425.4h0M851.9 416.2h0M900.7 415.1h0M872.6 416h0M953.6 414.3h0M846.1 425.8h0M823 418.5h0M832.8 421.5h0M793.8 424.5h0M786.8 423h0M865.5 420.7h0M832.2 421.6h0M785.7 425.5h0M743.9 429.3h0M743.7 426.4h0M899.9 417.9h0M942.2 426.8h0M857.2 415.9h0M807.7 420.1h0M870.5 415.6h0M818 427.3h0M778.3 432.4h0M960.5 417.5h0M950.8 418.7h0M776.3 422.7h0M956.4 413.7h0M807.8 419.9h0M789.2 422.6h0M767.7 432.7h0M801 422.7h0M859.9 415.2h0M841.6 416.8h0M803.5 426.9h0M751.7 424.4h0M870 418.3h0M760 430.6h0M944.2 415.7h0M940.7 417.8h0M808.2 420.2h0M741.3 427.5h0M889.6 423.6h0M808.4 419.5h0M912.2 418.4h0M900 414.9h0M778.9 422.1h0M776.9 422.5h0M781.7 422h0M744 427.1h0M752.2 424.2h0M904.2 418.6h0M783.9 425.7h0M917.5 418.8h0M897.6 414.7h0M934.9 415.4h0M932.6 413.8h0M900.3 415.7h0M925.8 420.9h0M839.5 426h0M757.5 432.5h0M872.4 420.5h0M957.2 414.9h0M841.9 420.5h0M759.4 424.7h0M862.5 416.2h0M803.6 426.5h0M926 416.3h0M810.2 420.7h0M888.1 418.1h0M918.7 415.6h0M782.5 424h0M799.7 419.8h0M737.2 435.7h0M804 419.4h0M874.3 422.8h0M837.7 416.9h0M912.6 421.6h0M776.1 422.9h0M841.4 417.2h0M957.9 415.8h0M881.2 419.3h0M767.3 422.7h0M885.8 415.8h0M748.2 431.7h0M801.9 421.6h0M899.9 414.9h0M944.9 413.6h0M750.4 424.2h0M824.8 418.8h0M953.1 423.1h0M871.7 415.8h0M938.3 417.8h0M956.5 420h0M926.5 417h0M949.2 419.9h0M769.9 428.5h0M867.8 415.4h0M804.2 431.1h0M869.3 417.1h0M794.7 420.9h0M878.2 416.1h0M891.4 421.4h0M920.3 420.3h0M952.9 413.6h0M900.7 414.2h0M796.5 422.9h0M867.1 424.1h0M896.6 418.4h0M841.3 422.7h0M757.1 426.2h0M920.6 417.1h0M919.7 414.2h0M844.5 421.7h0M761.1 423.3h0M754.5 424.1h0M875.7 415.9h0M775.6 424.4h0M956.2 417.2h0M892.9 419.5h0M813.2 426.4h0M754.9 431.6h0M842 417.9h0M735.3 429.4h0M836.2 424.2h0M786.3 421.3h0M764.7 423.8h0M874.1 414.9h0M773.3 426.5h0M795.5 424.9h0M737.6 427.2h0M939.4 424.8h0M764.4 427.8h0M856 421.5h0M819.6 423h0M916.2 415.7h0M851.8 421.7h0M799.9 424.2h0M819.6 418.6h0M829.5 420.6h0M757.6 425.6h0M773.4 422.3h0M780 421.6h0M877.7 415.5h0M862.4 416.4h0M763.6 424.7h0M838.1 417.1h0M837.4 422.5h0M896.6 418.9h0M745.9 425h0M906 415.9h0M939.4 417.1h0M745.1 432.5h0M859.6 415.8h0M825 418.6h0M911.2 421.2h0M785.5 423.5h0M885.7 415.6h0M898.7 416.2h0M908.5 417h0M833.6 422.8h0M833.1 419.2h0M816.1 418.5h0M900.7 415.5h0M795.4 429.8h0M767.8 432.7h0M810.3 424h0M853.4 416.3h0M745.3 429.2h0M935.8 418.9h0M733.1 432.1h0M835.7 417.7h0M955.3 420.9h0M940.7 413.3h0M777.1 425.2h0M844.1 418.2h0M868 415.7h0M762.5 423.5h0M956.8 416.1h0M827.5 420.5h0M630.5 478.4h0M632.5 477.6h0M621 466h0M633 472h0" fill="none" stroke="#8455cc" stroke-width="3.4" stroke-linecap="round"/>
<path d="M415 404C415 402.9 414.9 402.3 415.2 397.1C415.5 391.9 416.2 382.1 416.8 372.6C417.4 363.1 418.3 350.8 419 339.9C419.7 329 420.2 318.1 420.9 307.2C421.5 296.3 422.2 283.2 422.9 274.5C423.6 265.8 424.4 260.9 425 255C425.6 249.1 426.1 245.1 426.7 238.9C427.2 232.7 427.7 224.8 428.3 217.7C428.9 210.6 429.7 202.1 430.4 196.4C431.1 190.7 431.8 186.4 432.7 183.3C433.6 180.2 434.4 179.4 435.6 177.6C436.8 175.8 438.5 175 439.7 172.7C440.9 170.4 441.9 167.1 443 163.7C444.1 160.3 445.2 156.1 446.3 152.3C447.4 148.5 448.6 144.3 449.5 140.9C450.4 137.5 451 134.4 452 131.9C453 129.4 453.8 127.6 455.3 126.1C456.8 124.6 459.4 124.1 461.2 122.9C463 121.7 464.7 119.8 466.1 118.8C467.5 117.8 468.2 116.9 469.7 116.8C471.2 116.7 473.2 117.6 475.1 118.3C477 119 479.3 120.6 480.9 121.2C482.5 121.8 483.5 121.8 484.9 121.7C486.2 121.7 487.8 120.4 489 120.9C490.2 121.4 491.2 122.4 492 124.5C492.8 126.6 493.3 130.2 493.9 133.3C494.5 136.4 494.9 140 495.5 143.1C496.1 146.2 496.7 149.9 497.6 152.1C498.6 154.3 500.2 153.9 501.2 156.1C502.1 158.3 502.6 161.7 503.3 165.1C504 168.5 504.6 172.6 505.3 176.6C506.1 180.6 506.9 185.3 507.8 188.8C508.7 192.3 509.8 195.9 510.6 197.8C511.4 199.7 512.1 200.4 512.7 200.3C513.3 200.2 513.8 198.6 514.3 197C514.8 195.4 515 192.1 515.5 190.5C516 188.9 516.3 186.4 517.2 187.2C518.1 188 519.8 192.9 520.9 195.4C522 197.9 523.1 201.3 524.1 201.9C525.1 202.5 525.9 199.9 527 199C528.1 198.1 529.3 198.4 530.7 196.2C532.1 194 534.1 189.5 535.6 185.6C537.1 181.7 538.5 175.7 539.7 172.5C540.9 169.3 541.8 166.5 542.9 166.4C544 166.3 545.2 168.9 546.2 171.7C547.2 174.5 547.8 178.9 548.6 183.1C549.4 187.3 550.3 193.2 551.1 197C551.9 200.8 552.4 203 553.5 206C554.6 209 556.2 215.5 557.6 215C559 214.5 560.3 206.1 561.8 203C563.3 199.9 564.9 197.2 566.7 196.4C568.5 195.6 570.5 199.1 572.4 198.1C574.3 197.1 576.2 193 578.1 190.7C580 188.4 581.9 184.3 583.5 184.2C585.1 184.1 586.6 188.2 587.9 189.9C589.2 191.6 590.1 193.4 591.2 194.5C592.3 195.6 593.5 195.5 594.4 196.4C595.2 197.3 595.6 197.4 596.3 199.7C596.9 202 597.6 204.8 598.3 210C599 215.2 599.7 224.5 600.6 230.7C601.5 236.9 602.9 242.2 603.7 247.1C604.6 252 605 255.6 605.7 260C606.4 264.4 607 266.4 607.8 273.6C608.6 280.8 609.7 292.4 610.4 303.1C611.1 313.8 611.5 326.3 612.1 337.9C612.7 349.5 613.4 363.1 613.9 372.6C614.4 382.1 614.9 389.8 615.1 395C615.3 400.2 615.3 402.5 615.3 404" fill="none" stroke="#8455cc" stroke-width="3.5" stroke-linecap="round" stroke-linejoin="round" />
<path d="M121 404.6L122.3 405.3L123.6 405.4L124.9 404.9L126.2 406.1L127.5 406.5L128.8 405L130.1 404.9L131.4 404.7L132.7 404.4L134 406.6L135.3 405.9L136.6 404.8L137.9 406.4L139.2 405.5L140.5 406.4L141.8 405.4L143.1 405.7L144.4 404.7L145.7 406.5L147 406L148.3 404.9L149.6 406.2L150.9 405L152.2 404.5L153.5 405.3L154.8 405.7L156.1 406L157.4 406.2L158.7 406L160 405.9L161.3 405.6L162.6 404.6L163.9 406.2L165.2 404.2L166.5 405.9L167.8 405.5L169.1 406.4L170.4 406L171.7 406.3L173 406.5L174.3 406.1L175.6 405.4L176.9 404.6L178.2 404.4L179.5 404.3L180.8 404.4L182.1 406L183.4 405.9L184.7 404.9L186 405.3L187.3 404L188.6 405L189.9 404.6L191.2 404.9L192.5 405.4L193.8 405.6L195.1 406.4L196.4 405.6L197.7 406.1L199 406L200.3 406.4L201.6 404L202.9 404.2L204.2 406L205.5 404L206.8 405.9L208.1 405.8L209.4 406.3L210.7 404.2L212 404.6L213.3 406.3L214.6 404.4L215.9 406L217.2 406L218.5 404L219.8 406.1L221.1 405.2L222.4 405.9L223.7 406.1L225 405.3L226.3 404.6L227.6 405.6L228.9 404.5L230.2 405.8L231.5 404.7L232.8 404.9L234.1 405L235.4 405.3L236.7 406.2L238 405.2L239.3 404.9L240.6 404.6L241.9 406.2L243.2 405L244.5 404.2L245.8 404.5L247.1 403.7L248.4 405.7L249.7 405.1L251 404.8L252.3 405.9L253.6 403.9L254.9 404.3L256.2 406L257.5 404.2L258.8 406.1L260.1 405.9L261.4 404L262.7 405.3L264 404.8L265.3 405.3L266.6 404.7L267.9 405.5L269.2 405.3L270.5 405.1L271.8 405.4L273.1 405.7L274.4 404.8L275.7 403.7L277 404.6L278.3 404L279.6 404.1L280.9 403.7L282.2 405L283.5 404.7L284.8 405.2L286.1 403.5L287.4 405.2L288.7 404.7L290 404.4L291.3 405.5L292.6 405.8L293.9 405.5L295.2 405.8L296.5 405.6L297.8 404L299.1 403.9L300.4 405.5L301.7 405L303 404.5L304.3 404.2L305.6 404.7L306.9 404L308.2 404.7L309 405.7L309 420.4L308.2 422.6L306.9 422.8L305.6 423.8L304.3 425.7L303 426.5L301.7 428.1L300.4 430.5L299.1 432.4L297.8 433.6L296.5 436.6L295.2 437.5L293.9 439L292.6 437.4L291.3 439.9L290 439.8L288.7 438L287.4 436.6L286.1 437L284.8 436.3L283.5 434.5L282.2 435.4L280.9 434.7L279.6 433.4L278.3 432.9L277 432.2L275.7 430L274.4 431L273.1 429.2L271.8 427.8L270.5 429.9L269.2 427.6L267.9 429.7L266.6 428.5L265.3 427.5L264 428.6L262.7 428.1L261.4 428.6L260.1 428.5L258.8 427.4L257.5 427.5L256.2 427.1L254.9 427.1L253.6 428.3L252.3 427.8L251 427.1L249.7 427.9L248.4 428L247.1 427.5L245.8 428L244.5 427.3L243.2 427.9L241.9 428.2L240.6 428L239.3 426.3L238 426.4L236.7 427.4L235.4 427L234.1 426.5L232.8 427.9L231.5 426L230.2 426L228.9 425.7L227.6 426.3L226.3 426.4L225 426.1L223.7 426.2L222.4 427.3L221.1 427.3L219.8 425.8L218.5 425.8L217.2 426.6L215.9 427.3L214.6 426.6L213.3 428.1L212 427.2L210.7 427.1L209.4 427.7L208.1 426.6L206.8 428.1L205.5 427.2L204.2 427.8L202.9 426.9L201.6 425.7L200.3 425.9L199 427.1L197.7 426.1L196.4 427.8L195.1 427.4L193.8 427.3L192.5 426.5L191.2 425.8L189.9 426.9L188.6 425.7L187.3 426.7L186 426.2L184.7 426L183.4 426.5L182.1 426.3L180.8 427.1L179.5 426L178.2 427.8L176.9 426.1L175.6 426.4L174.3 427.9L173 428.2L171.7 427.3L170.4 426.2L169.1 427L167.8 426.2L166.5 427L165.2 427.9L163.9 428.1L162.6 426.5L161.3 426.2L160 427L158.7 428L157.4 427.3L156.1 427.4L154.8 426.1L153.5 427.3L152.2 426.5L150.9 427.1L149.6 427.7L148.3 427.3L147 427.9L145.7 428.1L144.4 425.8L143.1 427.6L141.8 425.8L140.5 427.1L139.2 425.9L137.9 427.8L136.6 428.2L135.3 428.1L134 425.9L132.7 426.1L131.4 427.3L130.1 426.8L128.8 427.3L127.5 427.7L126.2 426.4L124.9 428L123.6 425.8L122.3 427.1L121 427.4Z" fill="#9090c2"/>
<path d="M731 402.4L732.3 402.9L733.6 402.6L734.9 403.8L736.2 403.8L737.5 402.1L738.8 403.8L740.1 401.9L741.4 401.9L742.7 403.7L744 402.6L745.3 402.6L746.6 402.8L747.9 401.7L749.2 402.6L750.5 403.5L751.8 401.3L753.1 402.9L754.4 402L755.7 403L757 403.6L758.3 403.2L759.6 402.6L760.9 403.6L762.2 402.8L763.5 403.5L764.8 401.7L766.1 401.9L767.4 401.6L768.7 402L770 401.4L771.3 402.5L772.6 402.2L773.9 402.8L775.2 402.1L776.5 402.2L777.8 401.4L779.1 403.2L780.4 402.1L781.7 403.1L783 403.2L784.3 403.4L785.6 401.5L786.9 403.6L788.2 401.4L789.5 402.6L790.8 403L792.1 403.6L793.4 402.8L794.7 402.8L796 401.4L797.3 401.2L798.6 402.9L799.9 401.2L801.2 403.4L802.5 401.5L803.8 401.9L805.1 402.5L806.4 401.5L807.7 401.2L809 402.4L810.3 403.1L811.6 403.1L812.9 403.1L814.2 401.6L815.5 401.2L816.8 402.3L818.1 403.4L819.4 403.2L820.7 402.7L822 401.9L823.3 402L824.6 401.5L825.9 402.6L827.2 402.6L828.5 401.4L829.8 401.3L831.1 401.2L832.4 402.8L833.7 401.3L835 402.9L836.3 402.7L837.6 401.7L838.9 402.7L840.2 403L841.5 401.3L842.8 401.4L844.1 403.1L845.4 401.6L846.7 401.5L848 402L849.3 401.8L850.6 402.2L851.9 402.7L853.2 402.8L854.5 402.8L855.8 402L857.1 402.9L858.4 402.9L859.7 402.3L861 401.2L862.3 401.6L863.6 401.1L864.9 402.3L866.2 403.1L867.5 401.6L868.8 401.8L870.1 402.9L871.4 401.7L872.7 401.1L874 401.3L875.3 403.2L876.6 401.9L877.9 403L879.2 401.3L880.5 401.7L881.8 402.1L883.1 401.4L884.4 402.2L885.7 402.3L887 401.1L888.3 403.1L889.6 401.6L890.9 402.1L892.2 402.5L893.5 401.2L894.8 402.3L896.1 400.8L897.4 402L898.7 402.2L900 401.2L901.3 401.8L902.6 403L903.9 400.8L905.2 402.3L906.5 401.5L907.8 402.5L909.1 401.2L910.4 401.1L911.7 402.5L913 401L914.3 400.9L915.6 401L916.9 401.1L918.2 401.7L919.5 402.9L920.8 402.7L922.1 400.6L923.4 401.2L924.7 401.9L926 400.9L927.3 400.6L928.6 400.7L929.9 402.8L931.2 400.7L932.5 402.6L933.8 400.5L935.1 400.5L936.4 400.5L937.7 402.5L939 402.5L940.3 401.6L941.6 400.5L942.9 401.1L944.2 401.4L945.5 401.9L946.8 401.3L948.1 402.8L949.4 400.7L950.7 401.4L952 402.3L953.3 400.5L954.6 400.8L955.9 402.6L957.2 402.6L958.5 401.8L959.8 400.3L961.1 401.8L962.4 402.1L963.7 402.5L964 402.5L964 414.5L963.7 414.2L962.4 415L961.1 413.6L959.8 414.5L958.5 414.6L957.2 414.6L955.9 415.3L954.6 414L953.3 415.2L952 414L950.7 413.5L949.4 415.2L948.1 415.9L946.8 415.2L945.5 413.7L944.2 415.2L942.9 415.2L941.6 414.9L940.3 416L939 415.2L937.7 415.4L936.4 415.9L935.1 415.3L933.8 415.6L932.5 416.4L931.2 416.2L929.9 416.1L928.6 416L927.3 415.1L926 414.1L924.7 414.9L923.4 414.3L922.1 415.6L920.8 414.4L919.5 414.8L918.2 416.1L916.9 416.7L915.6 415.7L914.3 414.5L913 415.4L911.7 416.2L910.4 414.8L909.1 417L907.8 416.7L906.5 414.8L905.2 417.1L903.9 416.6L902.6 417L901.3 415.7L900 415.1L898.7 415.2L897.4 414.8L896.1 416.3L894.8 416.3L893.5 415.1L892.2 416.6L890.9 417.3L889.6 415.5L888.3 415.4L887 415.2L885.7 417.2L884.4 416.6L883.1 417.2L881.8 416.4L880.5 415.7L879.2 416.1L877.9 416.6L876.6 416.3L875.3 415.4L874 416.1L872.7 417.1L871.4 415.6L870.1 416.9L868.8 417.5L867.5 415.7L866.2 416.5L864.9 418L863.6 415.7L862.3 416.1L861 416.3L859.7 417.6L858.4 416.4L857.1 416.4L855.8 418.4L854.5 418.2L853.2 418.4L851.9 416.8L850.6 417L849.3 417L848 418.3L846.7 418L845.4 418.4L844.1 417.3L842.8 419L841.5 417.2L840.2 419.1L838.9 419L837.6 419.3L836.3 418.8L835 419.5L833.7 417.7L832.4 419.4L831.1 417.5L829.8 419L828.5 418L827.2 417.6L825.9 419.3L824.6 418.2L823.3 418.4L822 419.1L820.7 418L819.4 420L818.1 419.6L816.8 420.1L815.5 418.9L814.2 419.4L812.9 420.2L811.6 419.6L810.3 420.5L809 419.1L807.7 419L806.4 420.6L805.1 420.6L803.8 420.5L802.5 420.6L801.2 421.9L799.9 420.3L798.6 421.6L797.3 421.3L796 420.9L794.7 421.4L793.4 421.3L792.1 423L790.8 422.9L789.5 422.1L788.2 422.9L786.9 423.2L785.6 422.4L784.3 422.9L783 423L781.7 423.6L780.4 424.5L779.1 425.5L777.8 426L776.5 426L775.2 424.7L773.9 425.1L772.6 427.1L771.3 426.1L770 427.4L768.7 427.5L767.4 428L766.1 426.7L764.8 427.9L763.5 428.4L762.2 428.8L760.9 429L759.6 429.6L758.3 428.8L757 428.8L755.7 428.7L754.4 429L753.1 429.8L751.8 429.2L750.5 431.2L749.2 429.6L747.9 431.3L746.6 431.8L745.3 432.2L744 431.9L742.7 431.5L741.4 430.9L740.1 433.2L738.8 433.1L737.5 431.9L736.2 432.3L734.9 431.1L733.6 429.7L732.3 425.7L731 421.9Z" fill="#9090c2"/>
<path d="M240.8 429.1h0M147.8 431.7h0M131.1 427.4h0M268.7 432.3h0M185.5 428.9h0M188 429.1h0M122.6 428h0M185.3 431.7h0M172.5 431.3h0M237.4 431.9h0M205.7 428.1h0M183.6 428.3h0M296.1 438.1h0M172 429.2h0M130.5 430.6h0M307.2 425.3h0M244 429.1h0M205.3 428.9h0M191.4 427.7h0M125.5 429.5h0M259.9 429.2h0M135.3 427.7h0M288.8 439.7h0M182.8 427.9h0M290.8 441.3h0M250.6 428.6h0M244.1 427.4h0M160 428.5h0M168.4 427.9h0M158.4 428h0M238.7 429.8h0M135.8 428.6h0M301.7 431.7h0M159.1 428.1h0M159 431h0M278.8 433h0M124.3 427.7h0M180.1 427.3h0M302.3 429h0M158.5 428.1h0M294 439h0M164.8 428.4h0M305.3 428.8h0M306.4 424.5h0M269.3 431.4h0M256.8 430.4h0M179.2 427.7h0M193.4 429.5h0M294 438.5h0M223.4 432.3h0M214.7 427.7h0M162.6 428.2h0M179.4 429.1h0M121.7 428.8h0M293.9 440.3h0M266.5 429.3h0M127.2 427.2h0M162.5 427.6h0M173.9 428h0M188.8 433.4h0M184.6 429.6h0M304.4 427.8h0M192 428h0M225.8 427.2h0M171.3 427.8h0M205.6 428.5h0M213.7 428.2h0M259.9 428.4h0M262.5 431.4h0M240.7 429.5h0M198.2 430.8h0M212.5 429.1h0M289.7 441.7h0M142.5 429.4h0M195.7 430.1h0M286.9 438.8h0M187.8 434h0M123.9 430.2h0M299.7 432.5h0M141.1 432.1h0M163.2 428.2h0M123.2 428.6h0M181.3 430.4h0M152.7 431.7h0M239.2 430.1h0M272.8 430.6h0M173.4 428.9h0M191.4 428.6h0M305.3 426.4h0M276.6 432.9h0M275.6 431.7h0M195.8 427.9h0M264.1 428.7h0M253 428.7h0M284.5 436.5h0M308.7 428.2h0M280.5 435.6h0M289.4 440.5h0M277.6 433h0M189.7 428h0M307.2 425.1h0M159.3 427.6h0M295.8 438.7h0M254.1 431.8h0M306.3 425.8h0M258.2 429h0M148.2 427.3h0M245.1 429.7h0M295.5 438.6h0M213.8 427.6h0M246.4 428.5h0M172.9 428.8h0M195.7 428.1h0M142 428.7h0M123.5 430.4h0M213 430.3h0M275.7 431.9h0M159.1 429.2h0M172.9 430.9h0M133.1 427.4h0M142.7 429.9h0M267.1 429.4h0M278.3 434.3h0M157.6 428.5h0M249.1 429.9h0M189.4 432.1h0M287.9 439.7h0M151.2 428.3h0M307.1 424.7h0M267.6 430.1h0M217.5 429.1h0M235.2 427.5h0M267.9 432.6h0M302.6 429.4h0M270.5 432.7h0M272 429.9h0M247.4 429.4h0M285.2 437.4h0M272.1 431.9h0M149.4 427.7h0M219.6 431.2h0M149.7 429.5h0M185.7 428.9h0M200.9 427.5h0M167.4 431.1h0M149.9 427.5h0M166.4 429.6h0M145.5 431.4h0M249.3 428.4h0M162 430.7h0M257.1 429.2h0M124.6 428.7h0M250.8 428.1h0M187.6 427.2h0M236.8 428.9h0M288 441.3h0M196.7 428h0M236.8 429.6h0M154.4 429.3h0M207.2 428.1h0M236.8 428.9h0M268.5 430h0M305.8 425.5h0M156.5 428.3h0M255 431.7h0M298.2 436.1h0M282.6 436.1h0M250.8 432h0M131.3 429.1h0M294.2 448.1h0M165.4 429.6h0M293.3 440.1h0M224.5 427.9h0M278.7 433.1h0M184.7 431.7h0M243 429.1h0M163.5 427.4h0M230.8 429.8h0M143.7 427.6h0M166 427.3h0M249.8 428.3h0M146.5 427.5h0M245.6 429h0M296 437.3h0M127.7 427.5h0M179.3 427.9h0M277.6 433.6h0M237.4 428.6h0M302.7 431.1h0M140.4 429.7h0M254.7 428.3h0M221.5 429.1h0M184.2 427.6h0M141.6 428h0M302.8 429.1h0M269.5 431.6h0M234.3 427.4h0M182.4 437.2h0M279.4 435.4h0M177.4 429h0M217.2 429.4h0M191 428.5h0M285.4 439h0M172.2 428.6h0M125.7 427.8h0M142.7 428.6h0M273.2 431.9h0M268.3 429h0M188.3 427.9h0M191.8 428.7h0M184.5 429.2h0M194.3 429.6h0M276.1 432.9h0M134.9 429.8h0M145.3 428.5h0M183.9 429.8h0M277.4 434.6h0M217 428.7h0M136.9 430.2h0M125.4 429h0M123.3 427.9h0M227 427.9h0M153.9 428h0M175.8 427.9h0M198.3 427.3h0M303.4 428.3h0M172.4 428.1h0M171.2 428.3h0M150.2 427.8h0M214.1 429.1h0M211.7 428.3h0M149.7 433.3h0M260.3 429.7h0M158 428.8h0M179.2 428.7h0M144.2 429.6h0M162.4 427.2h0M191.4 429.7h0M158.4 429h0M209.8 429.2h0M190.1 428.5h0M250.8 428.9h0M257.1 428.1h0M254.5 433h0M182.2 428.8h0M136.2 429.1h0M242.2 427.4h0M224.3 430.4h0M205.3 431.1h0M189.8 430.4h0M134.8 428.2h0M126 428.5h0M215.9 428.2h0M182.8 429h0M127.2 428.7h0M138.5 428.9h0M148.9 427.9h0M129.4 428.7h0M175.8 430.5h0M244.9 428h0M220.6 428.8h0M282.2 435h0M274 433.2h0M176.9 429.5h0M191 429.3h0M217.8 429.9h0M208 430h0M301.8 430.3h0M139.2 428.5h0M182.2 427.9h0M253.4 429.3h0M188.3 429.1h0M230.1 429.3h0M227.4 428.9h0M257.2 431.5h0M156.7 430.3h0M230.3 428.1h0M276.6 431.8h0M241.9 427.6h0M129.9 428.4h0M189.7 427.9h0M262.7 429.8h0M193.7 428.1h0M243.7 427.9h0M205.5 427.4h0M235.9 429.5h0M171.3 429.5h0M301.9 429.7h0M138 429.2h0M248.4 427.2h0M121.8 427.5h0M133.9 429.1h0M203.6 430.1h0M252.5 435.8h0M273.4 431.2h0M205 432.9h0M161.4 427.8h0M161.4 428.1h0M183.5 427.6h0M149.4 430.2h0M844.6 418.4h0M858.5 421h0M873.2 426.3h0M873 416.9h0M824.8 419.8h0M807.1 422.2h0M861.7 421.1h0M913.6 420.1h0M851.2 418.1h0M944.7 416h0M754.8 433.7h0M736.9 431.9h0M872.4 417.1h0M764.4 428.4h0M785.3 424.5h0M962.8 415.2h0M767.5 427.7h0M731 424h0M853.9 420.4h0M928 416.6h0M864.2 417.2h0M925.9 417.5h0M750.6 433.9h0M944.8 415.6h0M783.5 426.3h0M757.6 430.1h0M755.4 430.2h0M780.2 429.6h0M892.6 418.7h0M930 415.6h0M925.7 419.4h0M910 416.9h0M805.5 422.7h0M898.1 418.3h0M921.9 416.1h0M827.9 419.3h0M733.3 428.8h0M904.2 420.1h0M846.9 422.2h0M895.2 417h0M917.3 418.4h0M889.4 418.2h0M892.1 416.9h0M871.8 418.2h0M834.2 419h0M829 420.5h0M732.9 427.3h0M855.1 418.1h0M867.3 418.3h0M837.7 418.7h0M820.8 419.7h0M910.3 418.3h0M942.4 416.8h0M864.1 419.8h0M759.3 429.5h0M785.3 426h0M779.1 425.9h0M916.6 417.8h0M936.6 416.9h0M939 418.2h0M814.3 421.7h0M737.8 432.8h0M899.5 417.2h0M780.7 427.9h0M782.9 442.8h0M944.2 418.6h0M943 415.9h0M878.6 416.9h0M853.5 417.9h0M798.4 422.2h0M943.6 417h0M938.7 415.6h0M860.8 418.4h0M909.7 416.1h0M803.7 421.2h0M802.1 421.2h0M733.9 430.2h0M758.6 431.9h0M745.9 434.8h0M957 418h0M873.5 418.8h0M931.9 420h0M785.2 425.4h0M936.3 417.1h0M901.9 417.3h0M751.5 430.4h0M900.2 417h0M744.6 433.6h0M876.4 419.7h0M908.2 420.5h0M951.6 415.5h0M954.7 416.7h0M960.4 415h0M900.5 416.6h0M886.1 418.3h0M935.9 416.8h0M923.6 417.1h0M962 416.5h0M819.7 420.4h0M844.5 418.3h0M963.7 414.8h0M847.1 420.6h0M869.3 422h0M761.3 431.9h0M900.8 417.8h0M921.2 420.1h0M745.8 435.7h0M934.4 417.2h0M870.7 417.7h0M760.3 430.6h0M791.2 423.9h0M806.4 421.1h0M798 425.6h0M741.7 435.6h0M951.1 416.1h0M856.3 419h0M859.2 417.9h0M919.9 422.5h0M942.8 421.9h0M811.5 422.5h0M874.2 418.8h0M869.8 417.6h0M831.1 423.5h0M892.3 417.7h0M895.7 417.1h0M832.6 420.7h0M789.3 423.7h0M859.1 417.4h0M930.4 418h0M755.4 429.8h0M889.6 416.7h0M823.1 419.1h0M765.6 431.5h0M785.2 425h0M932.8 416h0M784.4 427.5h0M847.5 418.6h0M862.6 418.6h0M926 422.1h0M735.2 432h0M734 433.1h0M861.9 417.7h0M813.9 420.9h0M889.8 416.7h0M933.2 416.3h0M850.2 418.9h0M882 422.5h0M892.7 423h0M876.2 418.2h0M826.4 419.9h0M933.3 415.6h0M952.2 416.5h0M792 424.2h0M943.5 417.7h0M868.4 417.7h0M959.4 417.3h0M818.9 422.2h0M818.1 420.8h0M873.4 417h0M786.6 423.9h0M771.1 426.9h0M864.1 418.3h0M829 424.4h0M866.4 423.1h0M822 420h0M854 423.9h0M841 418.7h0M850.4 418.6h0M820.9 420h0M828.1 421h0M756.3 430.5h0M919.6 419.6h0M767.8 427.4h0M850.9 418.9h0M731.2 425.6h0M928.6 418.5h0M837.6 419.3h0M838.1 418.5h0M884.1 417.1h0M814.9 419.6h0M796.1 424.2h0M942.3 416.7h0M818.3 420.4h0M901.5 417.8h0M841.5 418.3h0M876.3 418.7h0M872 417h0M949.3 415.3h0M962 415.5h0M847 418.7h0M948.3 415.9h0M744.1 432.2h0M758.2 430h0M812.5 422.5h0M761.6 430.5h0M834.2 420.2h0M839.6 418.4h0M888.3 416.9h0M846.5 419.9h0M828.6 418.9h0M751 436.1h0M945.1 417.2h0M833.4 419.6h0M823.7 419.2h0M871.7 419.3h0M845.3 419h0M950 422.4h0M863.3 419.4h0M747.8 432h0M825 419.7h0M823.1 419.2h0M820.7 419.5h0M746.5 431.4h0M916.5 416.2h0M744.9 431.9h0M860.7 419.6h0M944 418.1h0M821 420.5h0M938.7 417.9h0M781.7 425.8h0M884.5 418.6h0M768.8 430h0M929.8 415.8h0M953.4 417.4h0M778.1 427.9h0M749.8 439.5h0M920.4 417.7h0M810.1 420.9h0M807.7 420.6h0M903.2 417.4h0M881.9 418.4h0M925.8 418h0M838.8 420.1h0M936.1 416.4h0M837.6 418.9h0M846.4 420.3h0M774.5 426.3h0M869.4 421.1h0M813.6 420.8h0M899.7 416.6h0M811.3 420h0M951.9 416.8h0M788.3 423.9h0M763.9 431h0M961.8 415.6h0M748.8 435.7h0M941.9 417h0M797.8 422.2h0M773.4 429.7h0M842.5 419.9h0M846.3 418h0M892.7 417.5h0M846.7 427.2h0M954.4 417h0M861.5 417.9h0M737.6 433.7h0M923.1 416.8h0M850.8 419.2h0M910.6 417.7h0M780 426.2h0M825.1 423.8h0M841.3 419.6h0M871.4 418.8h0M874 419h0M786.8 424.6h0M834.4 425.4h0M796.4 425.8h0M743.7 433.5h0M847.6 418.8h0M803 423.5h0M731.4 424.4h0M749.8 433.4h0M776.4 425.7h0M927.9 417.8h0M930.3 417.2h0M760.5 429.3h0M840.3 421h0M886.3 418.1h0M891 419h0M845.8 418.3h0M822 420.7h0M821.9 419.8h0M761.1 431.8h0M763.2 429.8h0M831 419h0M936.7 419h0M958.3 419.4h0M742 435h0M941.6 416.2h0M858 427.8h0M832.3 419.5h0M903.4 417.7h0M753.8 431h0M963.8 416.7h0M733.6 428.9h0M830 422.8h0M932 418.2h0M961.6 415.3h0M776.7 425.6h0M934.8 416.3h0M875.8 417.5h0M828.5 418.9h0M959.5 419.3h0M890.8 417.3h0M908.4 420.5h0M762.1 430h0M801.7 422h0M836.8 419.4h0M809.6 422.3h0M783.2 425.9h0M795.2 423.2h0M790.9 424.1h0M821.3 420.1h0M799.2 423.9h0M857.6 417.9h0M762.7 430h0M959.4 415.9h0M938.3 415.3h0M780.4 427.2h0M794.2 424.2h0M860.6 418h0M882 431.7h0M824.9 420.2h0M923.9 417.6h0M899.2 418.4h0M755.3 432.8h0M854.3 418h0M757.2 431.2h0M854.6 420.5h0M888.9 418.5h0M931.8 417.3h0M814.4 421.2h0M911.3 417h0M817.7 421.7h0M942.7 415.7h0M744.9 433.1h0M733.8 430.1h0M738.7 434.4h0M753 431.1h0M924.3 416.6h0M860 418.8h0M783.8 427.4h0M880.6 418.9h0M862.9 418.4h0M853.4 427.7h0M963.8 416.5h0M850 419.1h0M962.8 415h0M856.1 417.6h0M784 427.2h0M793.8 424.7h0M824.6 420.3h0M755.3 430.3h0M802.7 426.8h0M856.5 418.8h0M950.5 416.4h0M774.5 429.2h0M873.1 423h0M855.1 418.7h0M883.7 417.3h0M931.5 420h0M817.2 428.2h0M739.9 432.4h0M951.9 416.6h0M851.3 419.1h0M898.4 416.6h0M773 426.4h0M819.8 423.1h0M953.3 416h0M749.5 431.2h0M871.8 417.7h0M814.7 420.9h0" fill="none" stroke="#9090c2" stroke-width="3.4" stroke-linecap="round"/>
<path d="M306.5 407C306.8 406.2 307.3 403.6 308 402C308.7 400.4 308.9 401.2 310.6 397.1C312.3 393 316.8 380.8 318 377.5" fill="none" stroke="#9090c2" stroke-width="5.6" stroke-linecap="round" stroke-linejoin="round" />
<path d="M306.5 407C306.8 406.2 307.3 403.6 308 402C308.7 400.4 308.9 401.2 310.6 397.1C312.3 393 315.7 384.6 318 377.5C320.3 370.4 322.6 362.8 324.5 354.6C326.4 346.4 328.6 332.8 329.4 328.4" fill="none" stroke="#9090c2" stroke-width="4.6" stroke-linecap="round" stroke-linejoin="round" />
<path d="M721.4 330.6C721.9 333.2 723.6 341.4 724.5 346C725.4 350.6 725.9 353.1 726.8 358.2C727.7 363.3 729.1 371 729.9 376.6C730.7 382.2 731 387.7 731.4 391.9C731.8 396.1 731.9 400.3 732 402" fill="none" stroke="#9090c2" stroke-width="4.6" stroke-linecap="round" stroke-linejoin="round" />
<path d="M306.5 407C306.8 406.2 307.3 403.6 308 402C308.7 400.4 308.9 401.2 310.6 397.1C312.3 393 315.7 384.6 318 377.5C320.3 370.4 322.6 362.8 324.5 354.6C326.4 346.4 327.9 337.7 329.4 328.4C330.9 319.1 332.3 308 333.5 299C334.7 290 335.8 281.3 336.8 274.5C337.8 267.7 338.4 263.9 339.4 258C340.4 252.1 341.7 244.5 342.8 238.9C343.9 233.3 344.8 228.5 345.8 224.2C346.8 219.8 347.8 215.8 349 212.8C350.2 209.8 351.6 208 353.1 206.2C354.6 204.4 356.4 204 358 202.1C359.6 200.2 361.4 197.9 362.9 194.8C364.4 191.7 365.6 187.4 367 183.3C368.4 179.2 369.7 174.4 371.1 170.3C372.5 166.2 373.7 162.1 375.2 158.8C376.7 155.5 378.2 152.9 380.1 150.7C382 148.5 384.2 147.1 386.6 145.8C389.1 144.5 392.2 143.2 394.8 142.8C397.4 142.4 400.1 143.8 402.1 143.5C404.1 143.2 405.2 142.3 407 141.2C408.8 140.1 411.2 137.8 412.8 136.8C414.4 135.8 415.5 134.9 416.9 135.1C418.2 135.3 419.5 136.4 420.9 137.9C422.2 139.4 423.8 141.4 425 144.1C426.2 146.8 427.4 151.2 428.3 153.9C429.2 156.6 429.8 158.9 430.7 160.1C431.6 161.3 432.7 161.9 433.7 161.3C434.7 160.7 435.6 159.4 436.5 156.4C437.4 153.4 438.1 146.7 438.9 143.3C439.7 139.9 440.3 138.1 441.4 136C442.5 133.9 444 132.1 445.4 131C446.8 129.9 448.1 129.5 449.5 129.4C450.9 129.3 452.4 129.5 453.6 130.2C454.8 130.9 455.8 132.4 456.9 133.5C457.9 134.6 458.9 136.8 459.9 136.8C460.9 136.8 462 134.5 462.9 133.5C463.8 132.5 464.1 130.8 465.3 130.7C466.5 130.6 468 131.9 470.2 132.7C472.4 133.5 475.9 135.2 478.4 135.6C480.8 135.9 482.6 135.6 484.9 134.8C487.2 134.1 489.4 132.6 492.3 131.1C495.2 129.6 498.8 127.6 502.1 126.1C505.4 124.6 509.3 123 511.9 122.1C514.5 121.1 516.1 120.4 517.6 120.4C519.1 120.4 519.5 122.2 520.9 122.1C522.3 122 524 120.9 525.8 119.9C527.6 118.9 529.9 116.9 531.5 116C533.1 115.1 534.2 114.5 535.6 114.7C537 114.9 537.9 115.3 539.7 117.2C541.5 119.1 544 123.4 546.2 126.1C548.4 128.8 551.1 131.9 552.8 133.5C554.5 135.1 555 135.6 556.4 135.6C557.8 135.6 558.8 135.1 560.9 133.5C563 131.9 566.4 128.4 569.1 126.1C571.8 123.8 574.8 121 577.3 119.6C579.8 118.2 581.8 117.6 583.8 117.6C585.8 117.6 587.7 118.2 589.5 119.6C591.3 121 593 123.2 594.7 126.1C596.4 129 597.8 133.2 599.6 136.8C601.4 140.4 603.5 144.6 605.3 147.4C607.1 150.2 608.6 153.6 610.2 153.9C611.8 154.2 613.6 150.4 615.1 149C616.6 147.6 617.9 146.3 619.2 145.4C620.5 144.5 621.4 144.7 622.8 143.8C624.2 142.9 625.8 141.4 627.4 140C629 138.6 630.8 136.2 632.3 135.1C633.8 134 635 133.2 636.4 133.2C637.8 133.2 639 133.5 640.5 135.1C642 136.7 643.8 139.6 645.4 142.5C647 145.4 648.7 149.2 650.3 152.3C651.9 155.4 653.6 158.9 655.2 161.3C656.8 163.8 658.6 165.4 660.1 167C661.6 168.6 663 169.3 664.2 171.1C665.4 172.9 666.3 173.9 667.4 177.6C668.5 181.3 669.6 187.3 670.7 193.2C671.8 199.1 673 206.6 674 212.8C675 219.1 675.8 226.3 676.7 230.7C677.6 235 678.4 238.3 679.2 238.9C680 239.5 680.4 236.7 681.3 234C682.2 231.3 683.5 226.3 684.6 222.6C685.7 218.9 686.8 214.5 687.9 211.9C689 209.3 690 207.7 691.1 207C692.2 206.3 693 206.8 694.4 207.9C695.8 209 697.7 211.6 699.3 213.6C700.9 215.6 702.8 217.5 704.2 220.1C705.6 222.7 706.4 225.1 707.5 229.1C708.6 233.1 709.8 238.7 710.7 243.8C711.7 249 712.2 250.6 713.2 260C714.2 269.4 715.5 288.2 716.9 300C718.3 311.8 720.1 322.9 721.4 330.6C722.7 338.3 723.6 341.4 724.5 346C725.4 350.6 725.9 353.1 726.8 358.2C727.7 363.3 729.1 371 729.9 376.6C730.7 382.2 731 387.7 731.4 391.9C731.8 396.1 731.9 400.3 732 402" fill="none" stroke="#9090c2" stroke-width="3.6" stroke-linecap="round" stroke-linejoin="round" />
<path d="M121 402.4L122.3 402.2L123.6 401.3L124.9 401.7L126.2 402.4L127.5 401.4L128.8 401L130.1 401.9L131.4 401.3L132.7 401.6L134 402.2L135.3 402.7L136.6 402.2L137.9 402L139.2 401.6L140.5 401L141.8 401.2L143.1 402.6L144.4 402L145.7 402.5L147 401.6L148.3 401.2L149.6 401.1L150.9 401L152.2 402.3L153.5 402.3L154.8 400.9L156.1 401L157.4 402L158.7 402L160 401.8L161.3 401.9L162.6 402.2L163.9 402.6L165.2 401.1L166.5 401L167.8 401.2L169.1 400.8L170.4 402.7L171.7 402.7L173 401.9L174.3 402.1L175.6 401.3L176.9 402.1L178.2 401.5L179.5 401.4L180.8 402.4L182.1 401.8L183.4 402.1L184.7 401.8L186 402.1L187.3 402L188.6 402.7L189.9 401.9L191.2 400.9L192.5 402.2L193.8 401.6L195.1 401.8L196.4 401.9L197.7 402.2L199 400.9L200.3 401.5L201.6 401.2L202.9 402.3L204.2 401.9L205.5 402.3L206.8 401.1L208.1 402.5L209.4 401.5L210.7 400.9L212 401.4L213.3 401.7L214.6 402.5L215.9 402.3L217.2 402L218.5 402.2L219.8 401.7L221.1 400.9L222.4 401.9L223.7 400.8L225 402.5L226.3 402.3L227.6 402.1L228.9 401.6L230.2 401.8L231.5 401.8L232.8 400.7L234.1 402.5L235.4 401.5L236.7 402.4L238 401.2L239.3 402.1L240.6 402.5L241.9 402.5L243.2 401.6L244.5 400.8L245.8 402.1L247.1 401.1L248.4 401.2L249.7 402.4L251 401.4L252.3 400.9L253.6 402.2L254.9 400.8L256.2 401.8L257.5 401L258.8 400.9L260.1 401.3L261.4 402.3L262.7 401.8L264 402.3L265.3 402.3L266.6 402.4L267.9 402.3L269.2 401.4L270.5 401.9L271.8 402.3L273.1 401.5L274.4 401.3L275.7 401.7L277 402.4L278.3 401.1L279.6 402.3L280.9 401.8L282.2 401.1L283.5 400.9L284.8 401.8L286.1 400.9L287.4 401.3L288.7 400.6L290 401.5L291.3 402.4L292.6 401.3L293.9 401.6L295.2 401.6L296.5 400.8L297.8 401.4L299.1 400.6L300.4 401.3L301.7 401.6L303 402L304.3 400.7L305.6 401.3L306.9 401.3L308.2 401.4L309.5 401.8L310.8 400.6L312.1 401.6L313.4 402L314.7 401.8L316 401.4L317.3 401.9L318.6 401.3L319.9 401L321.2 401.6L322.5 400.7L323.8 402.2L325.1 402.4L326.4 400.8L327.7 400.6L329 401.9L330.3 402L331.6 402.2L332.9 401.3L334.2 401.8L335.5 401.9L336.8 401.2L338.1 400.6L339.4 402.2L340.7 401.5L342 402L343.3 401.4L344.6 400.6L345.9 402.3L347.2 401.6L348.5 401.4L349.8 402.3L351.1 401.9L352.4 401.3L353.7 402L355 401.9L356.3 400.9L357.6 401.1L358.9 401.1L360.2 401.8L361.5 402.3L362.8 401.3L364.1 400.8L365.4 401.7L366.7 401.6L368 400.7L369.3 400.6L370.6 402L371.9 401.5L373.2 401.6L374.5 401.6L375.8 401.5L377.1 400.9L378.4 400.5L379.7 401.2L381 400.5L382.3 402.3L383.6 400.4L384.9 401.1L386.2 401.4L387.5 400.7L388.8 401.1L390.1 401.4L391.4 400.9L392.7 400.5L394 401.5L395.3 402L396.6 402.1L397.9 401.5L399.2 401.6L400.5 400.6L401.8 401.6L403.1 400.5L404.4 401.6L405.7 401.3L407 402L408.3 402.2L409.6 401.7L410.9 401.1L412.2 401.8L413.5 401.1L414.8 400.9L416.1 401.7L417.4 401.5L418.7 401.9L420 401.7L421.3 400.7L422.6 401.8L423.9 400.5L425.2 400.8L426.5 400.6L427.8 401.5L429.1 400.9L430.4 401.2L431.7 401.3L433 401L434.3 402.6L435.6 402.4L436.9 401.9L438.2 402.4L439.5 402.5L440.8 402.6L442.1 401.8L443.4 402.9L444.7 402.8L446 402.3L447.3 403.6L448.6 403L449.9 403.7L451.2 404L452.5 404.3L453.8 403.6L455.1 405L456.4 405.7L457.7 406.3L459 406.9L460.3 407L461.6 407.3L462.9 408.4L464.2 410.2L465.5 410.2L466.8 410.9L468.1 411.7L469.4 414L470.7 413.7L470.8 414.2L470.8 440.6L470.7 441.3L469.4 439.8L468.1 438.5L466.8 435.9L465.5 434.5L464.2 433.9L462.9 433.7L461.6 432.9L460.3 430.7L459 429.2L457.7 427.8L456.4 426.8L455.1 426.9L453.8 424.8L452.5 424L451.2 424.3L449.9 423.9L448.6 424.4L447.3 423.9L446 422.7L444.7 422.5L443.4 422.7L442.1 421.7L440.8 421.9L439.5 421.3L438.2 422.3L436.9 420.7L435.6 420.5L434.3 421.7L433 420.2L431.7 420.4L430.4 421L429.1 420.2L427.8 419.7L426.5 419.6L425.2 420.4L423.9 419.8L422.6 420.2L421.3 420.2L420 419.7L418.7 420.8L417.4 419.7L416.1 421L414.8 419.6L413.5 420.7L412.2 421.1L410.9 419.9L409.6 419.9L408.3 421.1L407 421.1L405.7 419.7L404.4 420.5L403.1 419.7L401.8 420.2L400.5 419.7L399.2 419.6L397.9 419.7L396.6 421.4L395.3 419.7L394 420.6L392.7 419.8L391.4 421.2L390.1 420.1L388.8 421.1L387.5 421.1L386.2 421.8L384.9 420.3L383.6 420.7L382.3 422.1L381 421.4L379.7 422L378.4 422L377.1 421L375.8 421.9L374.5 422.1L373.2 421L371.9 421.9L370.6 422.1L369.3 422.3L368 421.3L366.7 421.2L365.4 421.5L364.1 422.6L362.8 422.7L361.5 422.5L360.2 421.4L358.9 422.6L357.6 422.7L356.3 421.6L355 422.2L353.7 423L352.4 422.1L351.1 423.1L349.8 422.3L348.5 423.3L347.2 423.5L345.9 422.7L344.6 423.2L343.3 423.7L342 422.1L340.7 422L339.4 423.3L338.1 422.1L336.8 422.5L335.5 423.7L334.2 422.7L332.9 423L331.6 422.7L330.3 422.4L329 422.3L327.7 423.7L326.4 423L325.1 423.1L323.8 422.3L322.5 423.2L321.2 422.2L319.9 423L318.6 423.5L317.3 423.2L316 423.1L314.7 423.1L313.4 422.8L312.1 422.7L310.8 422.4L309.5 423.2L308.2 423.5L306.9 422.3L305.6 422.1L304.3 422.6L303 422.4L301.7 423.6L300.4 423.8L299.1 423.4L297.8 422.9L296.5 423L295.2 422.7L293.9 422.8L292.6 423.2L291.3 423.3L290 423.4L288.7 423.4L287.4 423.2L286.1 422.5L284.8 424.1L283.5 423.6L282.2 422.6L280.9 423.1L279.6 422.6L278.3 423.9L277 424.1L275.7 422.3L274.4 422.5L273.1 422.5L271.8 422.9L270.5 422.7L269.2 422.3L267.9 422.6L266.6 422.7L265.3 423L264 423.5L262.7 423.8L261.4 424.2L260.1 422.4L258.8 422.4L257.5 422.4L256.2 423.6L254.9 423.5L253.6 424L252.3 423L251 424.2L249.7 422.9L248.4 424L247.1 423.7L245.8 422.4L244.5 423L243.2 423.9L241.9 422.7L240.6 423.1L239.3 423L238 423.9L236.7 422.6L235.4 423.9L234.1 423.3L232.8 423.5L231.5 423.9L230.2 423.8L228.9 423L227.6 423.1L226.3 422.9L225 422.7L223.7 422.7L222.4 424L221.1 423.1L219.8 424L218.5 423.2L217.2 423.5L215.9 422.7L214.6 422.8L213.3 422.9L212 423.7L210.7 423.6L209.4 423.9L208.1 422.7L206.8 423.9L205.5 423.7L204.2 424L202.9 423L201.6 423L200.3 423.9L199 423.9L197.7 422.9L196.4 422.8L195.1 423.5L193.8 423.8L192.5 423.9L191.2 423.8L189.9 423.4L188.6 422.9L187.3 423.5L186 423.6L184.7 424.3L183.4 424.2L182.1 424.1L180.8 424.1L179.5 422.9L178.2 422.8L176.9 423.1L175.6 423.3L174.3 423.5L173 423.1L171.7 424.7L170.4 423L169.1 423.9L167.8 423.2L166.5 424.2L165.2 424.4L163.9 424.1L162.6 423.3L161.3 424L160 423L158.7 424.6L157.4 423.4L156.1 424.2L154.8 423.5L153.5 423.1L152.2 424.3L150.9 423.4L149.6 424.6L148.3 424.6L147 424L145.7 423L144.4 423.7L143.1 423.5L141.8 423.9L140.5 424.8L139.2 424.8L137.9 423.9L136.6 423.1L135.3 424.5L134 423.3L132.7 423.6L131.4 424.1L130.1 424.4L128.8 423.9L127.5 423.6L126.2 423.3L124.9 424.8L123.6 423.7L122.3 424.8L121 423.4Z" fill="#3286de"/>
<path d="M549 400.8L550.3 403.6L551.6 407.7L552.9 408.4L554.2 409L555.5 410.9L556.8 411.2L558.1 412.1L559.4 412.7L560.7 414L562 415.4L563.3 414.6L564.6 416.9L565.9 416.9L567.2 416.5L568.5 414L569.8 414.2L571.1 412.9L572.4 410.8L573.7 410L575 408.5L576.3 408.6L577.6 407.7L578.9 408.9L580.2 407.6L581.5 408.4L582.8 406.8L584.1 406.7L585.4 406.3L586.7 405.9L588 406.1L589.3 405.5L590.6 406.4L591.9 405.2L593.2 405.2L594.5 404.9L595.8 405.3L597.1 405.1L598.4 404.7L599.7 403.9L601 403.9L602.3 403.8L603.6 404.3L604.9 404.5L606.2 403.7L607.5 404.1L608.8 403.2L610.1 402.4L611.4 402.5L612.7 403.2L614 403L615.3 402.5L616.6 402.7L617.9 401.9L619.2 402.9L620.5 402.4L621.8 402.2L623.1 402.5L624.4 403.3L625.7 401.5L627 402.4L628.3 402.1L629.6 402L630.9 402L632.2 401.3L633.5 401.3L634.8 402.4L636.1 402.1L637.4 401.7L638.7 401.1L640 400.8L641.3 401.1L642.6 401.3L643.9 401.9L645.2 400.7L646.5 400.5L647.8 400.9L649.1 400.3L650.4 400.1L651.7 401L653 399.9L654.3 400.6L655.6 400.6L656.9 400.9L658.2 400.7L659.5 400L660.8 401.2L662.1 399.7L663.4 400.5L664.7 400.6L666 400.2L667.3 401.2L668.6 399.8L669.9 399.9L671.2 399.8L672.5 400L673.8 401L675.1 400.8L676.4 400.6L677.7 400.3L679 399.5L680.3 400.8L681.6 400.8L682.9 400.5L684.2 399.4L685.5 400.8L686.8 400.3L688.1 399.4L689.4 400.2L690.7 400.1L692 399.8L693.3 400.2L694.6 400.8L695.9 400.6L697.2 401L698.5 399.7L699.8 400.4L701.1 401L702.4 399.7L703.7 400.6L705 399.8L706.3 399.8L707.6 399.1L708.9 400.8L710.2 400.3L711.5 399.6L712.8 399.1L714.1 400.2L715.4 399.7L716.7 399.9L718 399.2L719.3 399.1L720.6 399.2L721.9 399.3L723.2 399.9L724.5 398.9L725.8 399.2L727.1 400.7L728.4 400.4L729.7 400.7L731 399.4L732.3 399.6L733.6 400.3L734.9 400.4L736.2 400.3L737.5 400.5L738.8 398.9L740.1 398.7L741.4 400.2L742.7 400.1L744 399.9L745.3 398.6L746.6 398.6L747.9 399.4L749.2 398.4L750.5 398.4L751.8 399.7L753.1 398.5L754.4 399L755.7 399.9L757 399.1L758.3 399.4L759.6 398.7L760.9 398.5L762.2 399.2L763.5 399L764.8 398.4L766.1 399.4L767.4 398.5L768.7 398.6L770 399.3L771.3 399L772.6 399.4L773.9 397.7L775.2 398.8L776.5 398.7L777.8 399.3L779.1 397.8L780.4 399.2L781.7 398.7L783 398.2L784.3 399L785.6 398L786.9 397.9L788.2 398.4L789.5 397.6L790.8 398.9L792.1 399L793.4 398.7L794.7 398.2L796 398.3L797.3 398.1L798.6 399L799.9 398.3L801.2 398.2L802.5 398.4L803.8 398.9L805.1 398.8L806.4 398.6L807.7 397.1L809 397.8L810.3 397.9L811.6 398.2L812.9 397.6L814.2 397.3L815.5 397.8L816.8 397.7L818.1 397L819.4 398.4L820.7 397.7L822 397L823.3 396.9L824.6 398.4L825.9 397L827.2 397.5L828.5 396.8L829.8 398.4L831.1 397.3L832.4 397.6L833.7 397.8L835 398.2L836.3 398.4L837.6 397.4L838.9 397.4L840.2 396.7L841.5 396.7L842.8 397.3L844.1 396.9L845.4 397L846.7 397.7L848 396.9L849.3 397.5L850.6 397.5L851.9 396.6L853.2 397.6L854.5 396.7L855.8 398L857.1 398.2L858.4 396.6L859.7 397.8L861 396.4L862.3 397.9L863.6 396.6L864.9 396.6L866.2 397.4L867.5 396.7L868.8 397.5L870.1 397.3L871.4 397.1L872.7 396.1L874 397L875.3 397.5L876.6 396.5L877.9 396.7L879.2 397.5L880.5 396.3L881.8 396.7L883.1 396.2L884.4 396.6L885.7 397.1L887 397.5L888.3 396.3L889.6 396.2L890.9 396.4L892.2 395.8L893.5 396.6L894.8 396.8L896.1 397.1L897.4 396.4L898.7 396.4L900 396.1L901.3 396.1L902.6 396.1L903.9 396.1L905.2 395.7L906.5 395.9L907.8 395.3L909.1 396.8L910.4 396.3L911.7 396.3L913 396.7L914.3 395.4L915.6 395.1L916.9 396.2L918.2 396.4L919.5 396.7L920.8 395.8L922.1 395.2L923.4 395.3L924.7 395.2L926 394.7L927.3 396L928.6 395.8L929.9 395.3L931.2 396L932.5 394.7L933.8 395L935.1 395.6L936.4 394.9L937.7 394.5L939 394.4L940.3 394.9L941.6 395L942.9 396L944.2 394.3L945.5 395L946.8 394.4L948.1 394.7L949.4 395.4L950.7 395.2L952 395.5L953.3 395.4L954.6 394.3L955.9 395.8L957.2 394L958.5 394.2L959.8 395.7L961.1 394.1L962.4 394L963.7 395.6L964 395.5L964 410.4L963.7 410.6L962.4 409.4L961.1 410.2L959.8 410.4L958.5 410.5L957.2 411L955.9 411.3L954.6 410.4L953.3 409.7L952 411.1L950.7 411.3L949.4 411.3L948.1 409.6L946.8 410.8L945.5 409.7L944.2 410.6L942.9 410.3L941.6 410.1L940.3 411L939 410.4L937.7 411L936.4 411.4L935.1 410.4L933.8 409.8L932.5 409.8L931.2 411.2L929.9 410.4L928.6 411.4L927.3 410.9L926 410.9L924.7 409.9L923.4 410.6L922.1 410.8L920.8 411.5L919.5 410.2L918.2 411.5L916.9 410.2L915.6 410.2L914.3 411.7L913 411.5L911.7 411L910.4 410.9L909.1 410.2L907.8 411.8L906.5 411.1L905.2 411.8L903.9 411.5L902.6 412L901.3 411.3L900 410.6L898.7 412.1L897.4 411.4L896.1 411.3L894.8 411.5L893.5 411.2L892.2 410.5L890.9 411.9L889.6 411.4L888.3 411.6L887 412.2L885.7 410.7L884.4 411.1L883.1 412.2L881.8 411.1L880.5 410.8L879.2 412.4L877.9 411L876.6 411.7L875.3 411.1L874 412L872.7 411.2L871.4 411.1L870.1 411.6L868.8 412.6L867.5 411.4L866.2 411.2L864.9 412.6L863.6 412.4L862.3 411.5L861 412.3L859.7 411.4L858.4 412.5L857.1 411L855.8 412.4L854.5 411.4L853.2 412.6L851.9 411.6L850.6 411.4L849.3 411.2L848 412.1L846.7 412.8L845.4 411.6L844.1 412.4L842.8 412.6L841.5 412.6L840.2 412.7L838.9 412.4L837.6 412.5L836.3 413.1L835 412.9L833.7 413L832.4 411.7L831.1 411.8L829.8 413L828.5 411.8L827.2 412.3L825.9 412.4L824.6 412.4L823.3 412.9L822 413.3L820.7 412.5L819.4 413.4L818.1 412.4L816.8 412.4L815.5 413.2L814.2 412.4L812.9 413.8L811.6 412.3L810.3 412.9L809 413.7L807.7 414.1L806.4 413.4L805.1 413.2L803.8 414.1L802.5 413.1L801.2 412.9L799.9 414L798.6 412.7L797.3 413.2L796 413.7L794.7 414.3L793.4 412.9L792.1 413.6L790.8 413.1L789.5 413.2L788.2 414.5L786.9 414.4L785.6 413.1L784.3 412.9L783 413.9L781.7 414.7L780.4 413.3L779.1 413.8L777.8 414.1L776.5 413.7L775.2 413.8L773.9 413.8L772.6 414.1L771.3 415.2L770 414.9L768.7 415.3L767.4 415L766.1 414.2L764.8 415L763.5 414.2L762.2 415.4L760.9 415.3L759.6 414.3L758.3 415L757 414.3L755.7 414.6L754.4 414.3L753.1 415.7L751.8 414.8L750.5 415.2L749.2 415.9L747.9 414.9L746.6 415L745.3 415.8L744 414.7L742.7 415.4L741.4 414.8L740.1 414.5L738.8 416.5L737.5 415.1L736.2 416.5L734.9 415.2L733.6 414.8L732.3 415.5L731 416.5L729.7 416.1L728.4 416.7L727.1 415.2L725.8 416.4L724.5 415.1L723.2 416.2L721.9 415.9L720.6 415.7L719.3 415.5L718 415.5L716.7 415.9L715.4 416.5L714.1 415.2L712.8 415.7L711.5 416.8L710.2 415.3L708.9 416.4L707.6 416.2L706.3 415.8L705 416.1L703.7 417.3L702.4 416.7L701.1 416.9L699.8 416.6L698.5 416.1L697.2 417L695.9 417.2L694.6 417.2L693.3 416.9L692 417.3L690.7 415.7L689.4 416.3L688.1 417.5L686.8 417.6L685.5 417.4L684.2 416.1L682.9 417.5L681.6 416.9L680.3 417L679 416.7L677.7 417.8L676.4 416.4L675.1 416.1L673.8 417.3L672.5 417.2L671.2 417.3L669.9 417.8L668.6 416.8L667.3 416.7L666 418L664.7 417.6L663.4 417.8L662.1 416.4L660.8 417.3L659.5 416.7L658.2 417.7L656.9 416.6L655.6 417.3L654.3 418L653 417.3L651.7 417L650.4 418L649.1 417L647.8 417.6L646.5 417.2L645.2 417.4L643.9 417.9L642.6 417.7L641.3 418.3L640 418.1L638.7 418.2L637.4 419L636.1 418.7L634.8 418.4L633.5 418.9L632.2 417.9L630.9 419.6L629.6 417.8L628.3 418.9L627 418.3L625.7 419.7L624.4 419.5L623.1 419.2L621.8 418.8L620.5 418.6L619.2 418.4L617.9 420.1L616.6 419.4L615.3 418.8L614 418.8L612.7 419.2L611.4 419.4L610.1 418.9L608.8 420.6L607.5 419.4L606.2 420.8L604.9 420.4L603.6 420.1L602.3 421.7L601 422L599.7 422L598.4 421.4L597.1 421.8L595.8 422.1L594.5 423.4L593.2 422.9L591.9 424.4L590.6 424.9L589.3 425.2L588 425.4L586.7 426.2L585.4 426.5L584.1 427.4L582.8 428.1L581.5 429.3L580.2 430.1L578.9 431L577.6 431.5L576.3 431.9L575 434L573.7 436.4L572.4 439.1L571.1 440.5L569.8 443.2L568.5 445L567.2 450L565.9 451.8L564.6 447.7L563.3 444L562 443.4L560.7 444.1L559.4 444.9L558.1 443.2L556.8 440.8L555.5 439.3L554.2 438.8L552.9 436.2L551.6 433.4L550.3 429.8L549 427.6Z" fill="#3286de"/>
<path d="M261.8 400.6h0M123.5 400.4h0M317.2 401.5h0M288.9 399.7h0M444.5 401.7h0M382.1 400.8h0M460.6 407.3h0M433.2 399.7h0M204.8 401h0M371.3 398.7h0M438.3 401.5h0M186.3 401.2h0M332.9 400.8h0M403.3 399.9h0M376.8 400.9h0M123.1 400.2h0M399.1 400.3h0M366.5 399.9h0M401.1 396.3h0M219.1 396.5h0M420.1 401.2h0M200.2 401.6h0M163.8 401.6h0M342.2 399.6h0M255.9 398.4h0M234.4 401.3h0M151.6 398.2h0M178.8 401.4h0M323.9 399.3h0M335.2 394.1h0M231.9 398.5h0M218.2 399.7h0M161.8 400.4h0M425 399.5h0M238.8 400.2h0M213.8 400.2h0M214.6 401.3h0M304.6 401.4h0M411 399.9h0M353 400.8h0M418.2 399.4h0M156.7 400.8h0M255.9 398.4h0M196 400.3h0M298.7 400h0M259.1 399.6h0M195.7 401.6h0M338.6 401.2h0M224.4 400h0M217.9 401.1h0M199.7 400.9h0M305.2 400.9h0M280.9 401.3h0M446.5 402.9h0M240.5 400.6h0M453.5 404h0M303.4 401.3h0M182.6 399.8h0M200.9 400.9h0M383.2 398.9h0M433.6 399.9h0M363.8 401.4h0M459.2 406.8h0M333.3 401.1h0M164.1 400.2h0M249.2 400.7h0M275.7 399.2h0M449.9 402.1h0M183.4 401h0M400.3 400.7h0M320.8 399.8h0M215.2 401.3h0M210 400.3h0M293.9 401.5h0M383.1 398.7h0M159.9 400.4h0M357.7 400.3h0M368.8 399.8h0M128.1 400.5h0M274.4 396.4h0M431.3 396.2h0M378.1 401.2h0M420.9 401h0M405.6 398.9h0M467.5 408.7h0M174.7 401.5h0M397.8 400.7h0M331 400.8h0M370.2 400.9h0M140.6 399.9h0M222.9 401.2h0M327.5 401.2h0M217.9 401.5h0M221.2 400.4h0M142.2 400.6h0M360.4 401h0M160.1 394.7h0M454.3 403.9h0M167.7 400.8h0M185.4 401.5h0M363.6 401.1h0M292.7 400.8h0M195.6 399.8h0M181.6 401.8h0M317.6 400.9h0M156.1 399.7h0M379.8 398.6h0M239.8 401.2h0M274.6 398.3h0M403.8 399.3h0M470.4 412.2h0M169.5 401.1h0M335.9 400.7h0M336.4 399.2h0M416.6 400.1h0M372.8 399.8h0M238.8 400.3h0M209.4 399.6h0M178.5 401.1h0M438 399.8h0M451.4 402.1h0M404.9 399.8h0M449.4 403.3h0M173.2 398h0M257.9 401h0M232 399.4h0M177.4 401.5h0M179.1 401h0M211.1 400.9h0M290 399.8h0M422.1 401.1h0M196.2 399.4h0M173.8 400.8h0M367.6 400.6h0M388.5 396.1h0M180.3 401.2h0M205.5 400.2h0M161.3 401.6h0M402.2 401.2h0M463.2 406.8h0M362.2 399.6h0M172.7 397.5h0M189.1 401h0M326.2 400.6h0M322 401.4h0M350.9 399.9h0M144.5 399.6h0M416.5 398.6h0M324.7 399h0M140.7 400.6h0M226.3 400.7h0M231.3 400.4h0M238.4 401.2h0M184.3 399.7h0M162 401.2h0M302.1 401.5h0M326.2 396.7h0M129.4 401.6h0M347.4 401h0M380.9 400.8h0M268.5 401.4h0M295.2 398.2h0M172 398.4h0M384.6 401.3h0M284.1 401.3h0M275.5 399.2h0M214.1 399.9h0M161.1 401h0M125.7 400.8h0M123.1 399.6h0M148.8 400.8h0M195.7 400.4h0M469.2 412h0M274.1 400.7h0M263.5 398.2h0M468.9 411.8h0M354.3 401.5h0M453.8 403.3h0M181.4 400h0M388.4 400.1h0M226.6 400.5h0M261.5 400.8h0M434.3 401.5h0M399.5 398.8h0M326 401.4h0M131.4 401.6h0M221.1 401.5h0M375 400.3h0M440.6 400.1h0M321.4 399.9h0M221 401.6h0M392.5 401.2h0M324.8 401.4h0M302.1 401.1h0M167.1 400.3h0M124.9 400.9h0M163.1 400.2h0M373.8 400.5h0M197.4 400.5h0M420.3 399.9h0M176.5 400.4h0M274.8 399.2h0M384.6 399.7h0M267.3 401.2h0M374.7 398.8h0M350.6 398h0M433.9 398h0M253.7 396.5h0M375.9 399.7h0M196.4 400.2h0M170.8 399.7h0M173.4 399.2h0M228.8 401.7h0M250.7 401h0M343.1 397.5h0M462.4 406.8h0M387.9 400.7h0M201.7 397h0M468.6 412.1h0M233.6 400.1h0M305.5 399.8h0M252.7 400h0M128.4 398.5h0M180.2 401.4h0M264.9 399.2h0M223.2 400.2h0M197.8 397.7h0M245.9 401.4h0M335.8 395.2h0M349.1 398.1h0M470.1 413.7h0M434.7 401.7h0M456.8 405.4h0M169.1 398.9h0M310.7 401.1h0M266.8 400.6h0M371.5 398h0M301.3 400.9h0M237.8 401.4h0M428.8 400.9h0M163.9 399.2h0M152.2 399.5h0M293.1 400h0M314.6 398h0M289.7 400.9h0M252.7 400.5h0M254.1 400.8h0M218.8 399.6h0M264.6 401.5h0M313.2 401.5h0M233.5 400.8h0M402.5 400.5h0M298.3 400.5h0M184 399.6h0M269.2 398.3h0M410.1 399.1h0M460.7 406.4h0M441.3 401.8h0M175.8 401.5h0M221.2 399.4h0M259.8 401h0M331.5 401.1h0M189.5 401.8h0M129.3 401.2h0M224.5 400.7h0M271.6 400.7h0M376.6 400.1h0M134.9 400.7h0M358.9 396.7h0M190.6 401.5h0M440.3 401.5h0M277.7 399h0M244.3 400.5h0M197.8 399.7h0M217.9 400.6h0M315.2 399.7h0M425.5 398.9h0M323.4 400.3h0M297.8 401h0M156.7 401.8h0M276.3 399.4h0M361.9 399.6h0M213.7 401.1h0M200.4 401h0M122.1 401.6h0M442.9 402.4h0M449.1 402.5h0M438.5 401.8h0M172.4 399h0M319.7 398.3h0M343.6 400h0M375.3 399.8h0M233.9 399.2h0M248.9 400h0M300.4 400.5h0M366 399.7h0M312.4 398.1h0M230.1 396.4h0M463.5 404.1h0M183.2 400.4h0M299.1 399.4h0M311.2 399.1h0M128.9 401.6h0M278.9 400.1h0M319.2 401.2h0M430.3 400.9h0M183.1 401.6h0M328.1 400.9h0M198.8 399.8h0M206 400.3h0M296.6 399.2h0M423.9 400.3h0M322.6 400.4h0M191 401.4h0M275.5 400.2h0M454.9 404.3h0M305.6 401.1h0M286.9 401.3h0M172 399.9h0M314.8 398.9h0M424.7 400.1h0M361.1 399.9h0M178.4 395.4h0M313.4 399h0M192.1 400.2h0M409.9 400.9h0M462.5 408.5h0M237.6 399.6h0M170.7 400.8h0M384.6 398.7h0M168.4 401.1h0M275.1 400.7h0M154.3 401.3h0M378.6 399.3h0M307.5 400.7h0M260.5 399.4h0M183.6 400.8h0M282.1 401.3h0M191.6 400.8h0M241 400.9h0M204.8 400h0M303.9 401.5h0M158.4 400.5h0M182.1 401h0M138.4 397.8h0M242.2 401.1h0M468.6 412.2h0M452.8 403h0M441 401.8h0M389.4 399.6h0M155.4 400.8h0M394.5 401.3h0M202.6 400.8h0M125.8 398.2h0M147.4 395.6h0M379.9 399.9h0M332.3 399.2h0M225.6 401.4h0M318.2 400.1h0M301.8 397.2h0M369.6 401.1h0M171.5 401.8h0M443.8 401.5h0M321.9 400.2h0M241 400.4h0M199.6 400.5h0M287 400.2h0M281 400.3h0M151 400.9h0M418.6 401.3h0M164.7 391.4h0M148.6 398.6h0M170.9 399.6h0M390.5 400.2h0M436.9 400.2h0M378.9 400.4h0M250.8 401.1h0M126.9 401.5h0M457.8 404.8h0M401 401.1h0M261.5 400.3h0M193.5 400.8h0M329.6 398.8h0M200 400.4h0M332.4 400.5h0M126 400.5h0M237.1 400.7h0M371.1 400.8h0M235.1 401.7h0M171.8 399.7h0M135.9 401.4h0M196.3 400.9h0M218.8 401.4h0M333.8 399.8h0M327.5 401.4h0M209.2 400.2h0M391.4 398.7h0M413.5 399.6h0M429 401h0M131.2 398.8h0M379.4 400h0M362.5 399h0M447.8 402.8h0M342.4 399.9h0M299.3 398.8h0M162.8 400.7h0M273.3 401.2h0M133.1 401h0M163.3 401.8h0M433.6 400.8h0M132.9 401.6h0M188.3 399.5h0M183.2 398.9h0M322.5 401h0M133.3 399.9h0M187.3 400.6h0M251.1 398.3h0M380 400.8h0M158.7 401.2h0M470.5 412.3h0M354.2 401.4h0M209.1 398h0M276.4 400.8h0M277.3 399.5h0M398.2 399.9h0M355.9 401.4h0M333.6 398.1h0M442.1 400.2h0M313.3 400.4h0M341 401.2h0M131.4 400.8h0M121.9 401.5h0M299.4 400.3h0M131 401.2h0M218.5 398.9h0M369.4 399.6h0M368.7 398.3h0M174.6 400.7h0M323.5 399h0M141.5 400.9h0M238.7 400.7h0M236.3 400.6h0M155.8 401.3h0M355.2 400.7h0M194.7 399.3h0M396.6 400.2h0M243.8 401.2h0M461.9 406.8h0M403.8 399.2h0M122 400h0M182.5 399.3h0M435.3 400h0M189.1 401.8h0M235.9 401.5h0M371.1 400.5h0M289.9 397.3h0M460 402.4h0M224.1 401.2h0M261.5 400.7h0M369.3 400.3h0M419.7 400.3h0M398.3 398.2h0M387.1 400.3h0M329.8 401.5h0M302.9 401h0M281.2 401.3h0M273.9 398.7h0M447.2 400.6h0M132.4 400.7h0M291.2 400.3h0M452 402.2h0M212.5 397.2h0M235.3 400h0M242.2 400.6h0M457.1 403.4h0M432.6 401h0M403.3 400.2h0M337 400.1h0M141.7 400.7h0M233.9 401.6h0M199 401.2h0M302.4 395.7h0M338.8 399.2h0M141.4 400.3h0M431.5 400.5h0M278.9 393.5h0M420.3 399.5h0M148.9 400.5h0M414.4 400.9h0M417 399.6h0M334.8 400.5h0M439.1 400.4h0M195.6 401.6h0M129.4 400.8h0M214.6 399.7h0M304.8 401.1h0M412.6 400.8h0M157.6 401.5h0M126.8 401.4h0M237.7 398.4h0M160.2 400.6h0M137.4 401.3h0M429 400.6h0M323.3 399.2h0M332.3 400.7h0M446.3 402.3h0M433.3 399.4h0M293.5 395.6h0M250.1 400.7h0M180.4 398.9h0M281.4 400.9h0M405.2 399.9h0M161.9 399.9h0M234.8 388.3h0M154.9 396h0M173.5 400.8h0M234.4 398.3h0M459.7 406.1h0M445.2 401.7h0M257.1 400.4h0M321.4 400.6h0M233.6 399.9h0M326.6 401h0M467.9 410.7h0M141.4 401.2h0M198.3 400.5h0M372.8 401h0M381.1 400.4h0M421.3 399.6h0M455.5 404h0M171 400.5h0M264.7 401.3h0M407.9 400.6h0M408.1 400.7h0M220.9 400.4h0M332.1 400.5h0M390.6 398.9h0M226.7 400.9h0M439.2 402h0M207.6 401.6h0M287.5 400.3h0M208.3 400.6h0M384.1 400.6h0M367.5 401.4h0M401.8 400.5h0M351 398.3h0M461.3 405.8h0M426.9 398.2h0M299.6 399.4h0M195.3 400.8h0M159 401h0M395.7 400.6h0M342.4 400.8h0M235.4 401.1h0M228.9 400h0M162.6 401.7h0M270.1 400.2h0M276 400.8h0M416.6 400.4h0M293.6 401.2h0M423.5 399h0M258.8 400.6h0M312.2 394.7h0M222.3 400.9h0M466.2 410.1h0M466.7 410.8h0M406.7 400.3h0M281.6 398.9h0M222.3 394.6h0M174.5 401.2h0M338 399.6h0M268.5 401.4h0M203.4 401.6h0M222.2 399.9h0M163.1 401.8h0M314 401.4h0M421.1 400.8h0M195 401.6h0M239.4 399.5h0M281.5 400.9h0M303.9 400.2h0M182.8 400.1h0M332 400.2h0M316 400.3h0M436.6 401h0M418.5 396.9h0M279.2 400.1h0M381.3 400.4h0M391.6 399h0M302.6 401.3h0M335.8 401.1h0M144.1 400.8h0M191.9 401.6h0M268.3 400.3h0M145.8 400.4h0M330.8 399.8h0M250.2 401h0M256.6 400.1h0M347 399.5h0M324.6 400.5h0M344.9 398.1h0M226.5 398.3h0M220.3 400.2h0M192.5 401.8h0M291 399.3h0M448.6 400.7h0M222.4 399.2h0M410.9 399.2h0M165.2 400.4h0M335.8 400.8h0M200.4 398.8h0M379.6 399.9h0M395.2 400.6h0M375 400h0M175.2 398.2h0M314.3 399.4h0M306.9 399.1h0M331.8 398.4h0M195.1 400.7h0M170.8 401h0M195.1 400.2h0M143.6 399.5h0M451.1 403h0M381.4 399.6h0M292.6 400.4h0M375.7 399.7h0M245.9 399.6h0M424.5 399.4h0M156.7 400.3h0M239.1 401.2h0M379.4 398.4h0M232.6 399.6h0M439.3 399.2h0M276.1 399.7h0M154.2 400h0M379 398.5h0M201.9 399.8h0M178.3 401.3h0M140.2 397.1h0M280.2 399.8h0M176.7 399.9h0M135.3 392.9h0M357.3 401.1h0M179.1 401.6h0M418.9 399.9h0M206.2 397.4h0M423.7 401h0M327.5 399.6h0M153.8 401.6h0M286.3 401.5h0M338.4 400.3h0M439.8 401.6h0M403.1 396h0M175.5 400h0M125.8 401.5h0M266.9 400.9h0M469.3 411.8h0M444.8 402.2h0M154.8 400.2h0M126.9 400.6h0M234.1 392.4h0M349.8 398.7h0M422.2 397.6h0M432.2 399.6h0M395.6 399.8h0M412.9 400h0M304.9 396.5h0M218.7 400.9h0M236.2 401.5h0M460.8 406.8h0M236.8 399.1h0M180.1 399.6h0M260 401h0M340.1 396.9h0M319.2 401h0M455.3 404.3h0M396.2 400.5h0M207.2 401.3h0M331.9 398.2h0M460.3 406.7h0M414.1 400h0M311.7 399.5h0M282 400.8h0M131.5 400.9h0M425.7 393.3h0M388.7 399.6h0M374 397.1h0M343.9 400.6h0M163.5 400.7h0M385.7 400.4h0M377.1 399.7h0M459.4 406.3h0M200.6 400.5h0M244.1 399.5h0M381.3 397.7h0M177 400h0M458.8 404.3h0M228 401.7h0M154.6 398.9h0M282.8 400.9h0M196.8 397.1h0M145.1 399.2h0M202.9 401.2h0M384 400h0M358.1 400.7h0M231.5 400.9h0M129.9 399.6h0M140.3 401.1h0M253.6 400.8h0M415 400.8h0M350.1 400.8h0M420.7 401.1h0M268.6 400.8h0M186.8 398.3h0M216.7 400.1h0M461.6 407.3h0M436.5 401.6h0M241.5 399.3h0M288.2 399.9h0M232 399.8h0M142.4 400.4h0M434.9 400.8h0M340.6 401.4h0M278.8 399h0M235.1 400.2h0M354.1 401.2h0M218.8 401.7h0M385.6 400h0M199.8 401.4h0M386.1 401.2h0M223.4 401h0M450.3 402.2h0M304.3 400.9h0M312.7 401.4h0M173.5 399.2h0M204.4 401h0M330.6 400.6h0M159.2 401.4h0M430.2 401.1h0M251.7 400.8h0M254.6 401.3h0M347.8 400.9h0M301.2 399.9h0M208 400.1h0M174.9 401.2h0M150.9 400.3h0M273.4 398.3h0M340.4 401.3h0M369.2 395.9h0M392.9 401h0M430.2 400.8h0M254.6 400.6h0M149.4 396.5h0M310.3 400.8h0M423.9 400.9h0M322.9 399.8h0M300.8 401.5h0M167.5 401.5h0M394.2 400.2h0M179.2 401.6h0M263.8 399.2h0M179.6 401.2h0M126.6 401.9h0M375.5 400.3h0M357.6 400h0M332.1 400h0M262.2 397.2h0M213.4 401.5h0M221.6 399.9h0M199.4 400h0M218.8 401.7h0M312.8 400.2h0M363.2 399.7h0M243.7 400.4h0M128.4 400.5h0M140.1 400.4h0M129.4 401.6h0M264.4 398.4h0M460.5 404.5h0M351.9 400.2h0M122 397.7h0M173 398.4h0M323.9 400h0M247.2 400.9h0M165 399.8h0M433.9 400.9h0M422.6 400.1h0M150 400.9h0M291.1 397.8h0M439.4 400.3h0M264.4 400.8h0M394.1 400h0M352.7 400.6h0M406.4 400.6h0M266.9 400.5h0M302.6 399.3h0M142.8 401.1h0M269.5 401.1h0M158.9 400h0M244 400.5h0M223.4 400.9h0M122 399.9h0M313.1 399.6h0M141.9 400.8h0M121.5 401.5h0M187.7 401h0M338.5 399.4h0M161.5 398.5h0M344 400.4h0M257.2 399.2h0M301.6 398.6h0M315 401.2h0M144.2 399.9h0M351.1 400.1h0M143.7 400.2h0M444.8 397.5h0M332.5 399.7h0M338.5 401.4h0M392.8 399.3h0M389.8 400h0M268.8 401.6h0M175.5 401.7h0M438.1 400.2h0M357.1 397.5h0M234 401.3h0M457 403.3h0M309 400.4h0M258.1 399.8h0M314.1 401.1h0M244 401.4h0M397.9 400.2h0M412.4 400.4h0M324.4 399.1h0M135.9 400.1h0M338.1 399.9h0M415.3 399.3h0M153.2 399.6h0M370.6 400.3h0M197.6 401.8h0M191.8 424.5h0M184.1 425.9h0M295.9 423.5h0M337.3 423h0M350.4 423.8h0M169.7 423.9h0M324.7 422.9h0M239.9 424.5h0M276 423.5h0M232.6 424h0M388.3 422h0M147 424.9h0M228.4 426.3h0M470.7 443.5h0M208.9 423.7h0M261 424.8h0M446.2 423.9h0M166.2 426.1h0M384 421.4h0M311.5 423.5h0M231.8 424.7h0M426.1 422.5h0M222.7 426h0M155.9 427.6h0M443.1 424.1h0M300.6 423.8h0M229.7 427h0M349.9 425.8h0M308.9 423.6h0M308.1 426.1h0M385.3 423.7h0M378 422h0M434.6 422.8h0M469.3 441.5h0M179.2 424.9h0M276.2 424.3h0M296.1 423h0M287.6 423.9h0M127.5 424.9h0M197.9 424.4h0M380.7 423.2h0M276 425.8h0M321.7 423.3h0M291.4 423.9h0M297.8 424.1h0M163.2 425.4h0M340.1 423.1h0M123.3 424.6h0M160.3 424.7h0M209 423.7h0M429.3 421.1h0M402.3 421.8h0M156.4 425.7h0M201.1 423.7h0M142 430.1h0M151.1 424.1h0M298.7 424.1h0M408.5 421.7h0M140.4 425h0M332.1 424.9h0M455.2 428.9h0M148.3 424.2h0M437.5 424.5h0M212.2 424.3h0M147.1 431.3h0M352.2 424.6h0M378.3 423.4h0M181.6 425h0M323.5 425.4h0M425.9 420.9h0M441.2 422.7h0M225.7 424.1h0M138.4 424.2h0M220.5 423.6h0M229 427.5h0M285.2 423.6h0M436.9 423.7h0M240.4 425.5h0M306 425.2h0M180.9 424.9h0M265.7 424.5h0M254.3 424.4h0M187.3 424.6h0M236.3 423.4h0M240.7 424.5h0M380.5 421.9h0M329.8 423.4h0M206.4 424.7h0M428.3 421.3h0M459.8 431.6h0M265.2 425.7h0M132.5 425.6h0M300.3 423.8h0M273.9 423.3h0M348.5 422.8h0M349.6 423.4h0M412.3 420.6h0M309.7 424h0M258.5 424.5h0M201.2 424.1h0M177.3 425.5h0M220.2 425.6h0M270.5 423.8h0M263.5 424.1h0M249.8 424.1h0M229.5 424.2h0M238.4 424.8h0M426.6 421.6h0M247.1 423.9h0M341.3 423.1h0M170.1 425h0M307.5 424.6h0M384.4 421.7h0M245.3 424.7h0M429.4 422.9h0M387 421.6h0M365.7 424.3h0M401.4 422.8h0M352.6 422.7h0M232.8 423.4h0M231.5 426.6h0M262.7 424.1h0M340.4 427.8h0M452.6 426.4h0M430.5 423.3h0M124.5 426h0M454.1 429.6h0M133 431.2h0M323.7 425.7h0M222.6 424.9h0M259.8 424.4h0M275.3 424.8h0M197.6 424.3h0M261.4 424.2h0M247.7 423.6h0M240.8 425.3h0M426.9 422.8h0M417.7 421.5h0M334.9 426h0M223.2 426.2h0M356.4 423.6h0M287.4 426.8h0M391.8 421.7h0M465.1 435.4h0M457.7 429.4h0M127.2 424.2h0M182.8 424.1h0M457.8 429.8h0M195.1 423.8h0M431 421h0M250.2 423.6h0M206.2 425.2h0M192.4 423.8h0M190 424.2h0M198.9 424.1h0M316.2 423.4h0M251.7 423.4h0M350.6 423.4h0M174.5 424.4h0M146 434.6h0M150 424.9h0M216.3 423.7h0M446.4 425h0M201.8 425.5h0M368.3 423.4h0M147.1 425.5h0M297.6 423.3h0M232.9 426.6h0M423.4 421.2h0M320.1 422.9h0M338.5 424.2h0M185.7 424.6h0M468.7 438.6h0M376.7 424.1h0M205.1 424.6h0M197.3 427.9h0M271 424.8h0M188.1 423.6h0M142.6 424.7h0M260.5 430.9h0M313.4 423.3h0M393.4 422.9h0M392.3 423.4h0M428 424h0M164 428.1h0M397.2 421.9h0M210.1 424.1h0M463.4 433.5h0M315.1 423.6h0M214.7 424.5h0M327.6 423.6h0M178.6 424.7h0M125.7 426h0M423.6 420.7h0M356.5 423.3h0M414.6 421.5h0M178.3 424.1h0M295 423.3h0M398.2 420.4h0M403.2 421.3h0M465.1 435.1h0M178.7 424.5h0M149 424.7h0M131.3 424.8h0M285.5 423.2h0M238.1 426.6h0M363.3 422.8h0M170.3 424.4h0M237.7 425.6h0M383.7 422.4h0M395 421.6h0M397.8 420.3h0M239.6 424.3h0M276.2 423.6h0M426.1 420.4h0M272.4 423.2h0M322.3 424.6h0M352.2 423.4h0M382.9 421.9h0M234.2 423.6h0M210.6 425h0M220.5 428.5h0M143.1 425.8h0M360.5 424.3h0M185.7 423.9h0M325.2 423.3h0M234.5 424.6h0M362 423.3h0M332.5 423.4h0M421.7 420.4h0M222.2 425.3h0M155.7 424.4h0M290.7 423.7h0M200.4 425.8h0M340 424.1h0M207.4 423.8h0M249.3 423.5h0M391.9 422.1h0M405.2 423.3h0M295.8 424.4h0M401.2 422.1h0M167.4 424.4h0M444.7 423.4h0M348.6 424.9h0M364.9 422h0M257.9 426.7h0M131.9 426.6h0M420.9 420.6h0M319.1 424.9h0M350.2 423.9h0M396.6 420.5h0M453 425h0M263.2 428h0M204.8 424.2h0M262.7 424.3h0M182.4 426.6h0M160.1 423.9h0M367 423.9h0M257 423.6h0M221.5 423.7h0M469.8 441.4h0M166.6 425h0M462.4 434.5h0M341.7 424.5h0M274.5 425.2h0M320 423.4h0M407.4 420.3h0M205 423.8h0M237.4 423.6h0M392 421.2h0M243.1 426.9h0M393.8 422.7h0M310.2 424.8h0M180.8 424h0M395.4 421.6h0M228.2 425.6h0M237.4 424.4h0M267.6 424.3h0M244.4 425.9h0M191.9 428.1h0M252.4 424.2h0M303.9 424.2h0M125.8 426.5h0M436.5 422.3h0M468.1 439.1h0M218.4 423.5h0M293.7 423.8h0M383 421.8h0M335.9 423.4h0M432.6 424.1h0M405.1 421.1h0M286.1 424h0M420.1 421.5h0M204.9 424.6h0M268.8 424.2h0M305.2 424.3h0M383.7 422h0M307 424.2h0M356.1 422.9h0M199.4 425.9h0M334.9 423.5h0M193.6 424.5h0M399.8 421.6h0M282.2 424.6h0M244.1 424.7h0M204.7 423.7h0M443.1 425.5h0M412 420.3h0M396 423.2h0M197.5 432.9h0M163.6 439.8h0M168.3 425.8h0M409.3 420.5h0M161.6 425.3h0M345.4 423.5h0M166 424.7h0M335.5 425.7h0M467.8 437.7h0M166 427.2h0M468 440.2h0M246.6 423.4h0M433.7 421.1h0M268.9 424.4h0M305.8 423.7h0M207.8 426.9h0M261.5 426.8h0M246.9 424.5h0M449.5 424.6h0M374.7 424h0M322.1 425.3h0M434.1 422.1h0M160.5 426.2h0M145.3 423.9h0M272.1 423.5h0M437.3 421.8h0M328.6 424.6h0M236.9 426.3h0M271.8 423.2h0M259.8 425.2h0M192 424.5h0M373.3 422.5h0M144.9 425.6h0M243 424.2h0M456.3 429.9h0M283.9 423.9h0M367.9 425.1h0M173.6 426.6h0M169.4 424.8h0M426.9 420.6h0M296.9 423.2h0M413.1 420.6h0M455.7 428.5h0M331.2 423.8h0M351.4 423.8h0M235.8 423.5h0M441.7 423.9h0M155.9 424.8h0M416.6 423.5h0M376.4 423h0M154.2 425.7h0M174.9 424.9h0M211.1 424.5h0M278.1 425.4h0M427.2 420.3h0M142.9 424h0M263.6 424.5h0M332.8 423.2h0M143.3 425.2h0M256.2 423.7h0M408.6 421.5h0M128.8 426.7h0M285.8 423.4h0M260.8 425.3h0M446.4 425.3h0M373.4 425.1h0M189.9 428.3h0M262.2 424h0M433.3 422.8h0M376.7 423.2h0M328.6 424.3h0M299.5 423.5h0M161.5 424.2h0M136.9 424.8h0M225.1 425.8h0M127.7 426.2h0M233.1 425.3h0M309.3 423.7h0M446.1 423.4h0M308.5 425.7h0M231.9 427.4h0M291.4 424.1h0M201.1 426.1h0M330.5 423.4h0M346.2 423.2h0M126.4 424.1h0M235.3 425.9h0M430.1 421.5h0M416.4 420.4h0M372 423.3h0M252.1 423.6h0M129.2 427.2h0M233.5 423.7h0M223.7 425.1h0M401.1 421.2h0M461.2 433h0M440.1 422.3h0M276.6 423.5h0M352.8 425.3h0M448.9 426.2h0M209 424.9h0M182.5 425.2h0M337.7 424.1h0M225.3 423.9h0M370.9 424.9h0M460.9 431.6h0M248.2 424.9h0M439.3 423.7h0M423.3 420.3h0M143.7 424.1h0M465 444.8h0M135.6 424.3h0M394.4 421h0M292.2 425.8h0M327.7 423.7h0M241.8 423.8h0M175.5 425.7h0M413.5 420.3h0M387.1 437.2h0M270.2 423.6h0M197 428.3h0M349.5 423.9h0M225.3 423.7h0M200.7 424.3h0M248.7 428h0M245.2 424.3h0M187.8 428.9h0M317.6 423.4h0M244.4 425.5h0M322.8 423h0M387.1 421.8h0M368.3 422.5h0M431.9 421.6h0M380.5 424.7h0M351.3 422.9h0M470.5 441.3h0M200.2 423.7h0M398.6 423h0M311.8 428.3h0M363.4 427.5h0M468.5 442.3h0M266.7 429.2h0M355.4 426.3h0M258.5 423.8h0M367.9 424.1h0M155.7 425h0M397.7 420.9h0M316.4 423.4h0M207.6 424.5h0M435.8 423.9h0M122.4 424.3h0M464.7 435.2h0M409.2 421.2h0M257.6 423.3h0M452.9 426.5h0M287.4 424.7h0M397.7 420.5h0M287.5 426.2h0M122.5 425h0M333.9 423h0M372.6 427.4h0M334.6 428.4h0M419.4 421.1h0M385.4 422.3h0M357.4 422.9h0M421.4 421h0M201.4 425h0M232 423.7h0M353.3 422.9h0M413.1 420.8h0M305.6 423.4h0M399.4 420.6h0M431.6 420.9h0M271.4 423.7h0M411.2 421.7h0M187 424.1h0M364.5 423.8h0M310.6 423.5h0M402.7 425.1h0M333.8 423.3h0M123.1 424.4h0M177.5 424.4h0M153 425.4h0M364 422.7h0M158.7 424.7h0M426.5 421.7h0M267.7 425.8h0M317.7 423.3h0M368.4 424.1h0M367.5 423.8h0M144.4 426.6h0M452.6 424.8h0M265.8 424.4h0M186.1 423.8h0M153.9 423.9h0M298.5 423.4h0M167.7 427h0M236 424.4h0M360.7 422.8h0M205.3 424.9h0M361 422.6h0M375.6 421.6h0M299.8 423.6h0M450.1 425h0M213.2 424.9h0M404.7 421.5h0M333.4 423.6h0M210.3 424.7h0M179.3 424.6h0M160.5 425.4h0M245.2 431.9h0M184.8 426.5h0M454.3 425.9h0M248.9 426.7h0M361.1 423.4h0M246.8 424.6h0M368.5 423h0M329.1 423.1h0M234.1 426.3h0M363.5 422.2h0M259.7 423.3h0M317.1 427.6h0M300.1 423.5h0M285.2 423.7h0M457.1 428.9h0M268.1 425.2h0M402 421.7h0M388.8 427.7h0M407.5 421.4h0M188.7 428.1h0M337.4 423.7h0M374.3 423.4h0M455.8 428.4h0M152.3 425.3h0M166.3 425.4h0M188.7 423.6h0M403.9 420.9h0M250.3 425.3h0M377.9 422.6h0M222 425.3h0M340.5 423.4h0M138.6 425.9h0M275.2 424.3h0M177.2 426h0M236.1 424.9h0M263.3 424.1h0M233.9 424.7h0M174 424.4h0M320.8 424.6h0M268.9 423.6h0M318.1 423.9h0M127.6 425.8h0M190 424.7h0M256.9 425.3h0M275.4 425.5h0M360 423h0M176.7 426.4h0M369.8 422h0M409.1 420.7h0M358.5 423.7h0M458.3 429.3h0M258.4 423.9h0M423.5 421.4h0M401.5 421.1h0M424.9 420.5h0M430.9 420.8h0M228 425h0M141.6 424.5h0M157.9 424.4h0M388.8 422.7h0M142.7 425.8h0M359.2 424.3h0M191.1 425.3h0M341.2 424.2h0M399.9 420.2h0M253.3 423.7h0M279.9 426.3h0M367.8 421.9h0M378.9 422.7h0M267.6 423.9h0M413.7 421.8h0M168.6 425.8h0M198.2 425.6h0M373.2 421.8h0M144.7 425.4h0M185.7 424.5h0M193.9 423.6h0M297.8 423.6h0M331.9 424.1h0M419 420.3h0M276 423.4h0M346.5 425.4h0M276.5 423.3h0M175.9 425.1h0M274.6 424.4h0M434.6 421.7h0M189.6 426h0M211.1 424.4h0M150.7 426.4h0M454.4 428.1h0M448.8 424.6h0M461 434.3h0M297.9 424.5h0M241.6 424.8h0M378.4 423.4h0M457.6 441h0M413.5 421.4h0M470.1 440.4h0M377.8 421.6h0M138.3 425.4h0M133.1 425.5h0M192.5 428.1h0M308.7 423.5h0M140.9 424.9h0M448.2 426h0M429.1 423.2h0M464.5 435.9h0M452.8 425h0M281.1 425h0M349.5 423.3h0M261.3 425.8h0M256.2 423.4h0M190.9 427.7h0M292.4 423.5h0M280.1 423.7h0M430 424.8h0M234.9 427.8h0M224.7 425.1h0M165.6 424.1h0M197.6 424h0M316.6 429.2h0M463.5 436.4h0M146.6 425.3h0M405.6 421h0M302.1 424.3h0M151.9 426.4h0M208.3 423.9h0M340.9 424.5h0M413.5 420.7h0M253.6 423.4h0M254.6 424.4h0M264.8 424h0M332.3 424.3h0M228.1 425.2h0M218.8 423.6h0M159.3 425.7h0M206.4 426.2h0M271.2 425.2h0M216.7 424.8h0M460.4 431.8h0M288.5 423.2h0M366.2 423.7h0M207.4 426.6h0M267.8 425.6h0M129.3 425h0M395.3 422h0M128.3 424.1h0M185.2 424h0M315.5 423.2h0M347.5 424.5h0M343.6 422.9h0M271.5 425.5h0M329.2 423.7h0M410 421h0M204.2 425.5h0M302.7 424.6h0M385.3 427.7h0M301.5 425.4h0M354.2 422.6h0M242.8 426.4h0M233.4 424.3h0M384.4 423h0M128.9 425.5h0M270 425.9h0M305.2 425.5h0M163.9 425.8h0M267.6 423.6h0M259.8 426h0M399 421h0M366.6 423.8h0M178.9 426h0M441.7 422.6h0M458.6 429.4h0M365.7 423.6h0M396.4 422.6h0M450.6 425.3h0M264.1 424.4h0M290.9 423.7h0M157.7 424.1h0M302.1 423.2h0M240.7 425.2h0M322.4 425.2h0M454.8 433.2h0M296.4 423.1h0M470.3 440.9h0M393.5 422.8h0M354 424h0M399.6 422.1h0M199.2 429.9h0M184.1 424.1h0M355.7 423h0M290.8 426.9h0M447.4 425.5h0M339.3 424.4h0M392.7 423.4h0M342.7 425.4h0M179 424.9h0M357.9 422.8h0M389.2 421.1h0M148.8 425.3h0M296.4 423.5h0M121.2 434.6h0M253.2 423.5h0M449.3 426.1h0M468.3 440.6h0M158 425h0M270.2 425h0M350.8 425h0M366.5 423.2h0M327.4 424.4h0M380.4 421.6h0M336.6 423h0M318.4 426.2h0M210.5 424.8h0M386.3 421.5h0M360.7 422.8h0M153.5 425.3h0M429 421.1h0M381.1 421.7h0M124.1 425.5h0M200 423.9h0M199 424.3h0M296.9 423.8h0M236 423.9h0M325.7 424.4h0M356.8 423.2h0M300.2 424.3h0M253.9 424.5h0M396.3 421.1h0M361.8 424.6h0M358.1 422.6h0M449.4 424.3h0M380.2 422.2h0M176.2 424.4h0M425.1 422.5h0M292.8 438.4h0M460.9 433h0M411.9 421.6h0M276.8 425.5h0M327.2 423.1h0M189.4 424.8h0M390.8 421.1h0M208.4 423.6h0M332.3 423.8h0M128.2 424.3h0M261.5 423.5h0M269.2 426.5h0M154.1 424.8h0M272.6 423.8h0M376.6 422.3h0M238 423.5h0M276.1 425.4h0M359.3 422.2h0M154.9 424.4h0M467.7 439.8h0M289.5 423.8h0M430.2 420.3h0M260.1 423.7h0M153.8 424.1h0M317.3 425.2h0M172 424.5h0M256.7 423.9h0M127.4 425.2h0M416.2 423.2h0M339.4 423.1h0M256.3 428.7h0M457.5 431.3h0M136 424.3h0M380.3 422.2h0M315.2 423.3h0M142.6 431.1h0M458.8 430.1h0M125.6 425.8h0M397.2 420.8h0M123.6 428.4h0M362.9 423.8h0M443.1 423.9h0M374.7 422h0M340.3 423.6h0M138.4 425h0M303.8 423h0M124.7 426.1h0M171.5 425.2h0M290 424.5h0M179.9 424.7h0M146.9 424.3h0M357.2 423.2h0M373.8 421.6h0M289.2 423.5h0M123.8 425.3h0M211.7 428.2h0M352.8 422.6h0M123.1 426.1h0M231.9 425.5h0M378.1 421.5h0M135.3 427.2h0M173.9 424.1h0M250.4 424.9h0M150.7 424.2h0M447.8 426.7h0M316.5 425.9h0M193.5 423.7h0M181.4 424.6h0M214.7 426.9h0M373.5 422.2h0M380.5 422.1h0M405.2 421.4h0M298.6 425.1h0M385.3 421.5h0M129.3 424.1h0M301.9 424.9h0M159.4 425.3h0M215.8 423.5h0M446.1 426.7h0M380.4 424.1h0M146.4 423.9h0M468.1 438.6h0M298.8 424.4h0M439.9 423.5h0M371.7 422.3h0M567.9 414.8h0M748.4 398.4h0M846.9 396.5h0M865 394.9h0M802.4 396.8h0M840.1 397.1h0M802.8 396.9h0M932.6 394.3h0M876.1 396.4h0M665.9 399.8h0M654.9 399.7h0M579.3 405.5h0M934.3 394.2h0M902.2 392.5h0M945.2 394.5h0M944.4 392.2h0M894.5 396.1h0M749.4 398h0M751.5 396h0M669.8 399.6h0M946 392.8h0M729.8 399.6h0M849.4 396.4h0M879.3 396.3h0M707.4 398.6h0M672.1 398.9h0M657.1 399.9h0M823 397.7h0M674.2 397.3h0M843.2 394.6h0M948.9 394.9h0M614.1 402.6h0M799.5 397.2h0M730.6 399.7h0M610.4 401.5h0M930.2 394.7h0M738.5 399.4h0M699.1 399.8h0M900.9 395.9h0M950.8 393.9h0M840 396.7h0M781.4 397.8h0M810.4 397.9h0M865.3 396.5h0M933.1 395.3h0M592.1 402.7h0M809.3 395.1h0M608.2 401.9h0M622.5 402.2h0M870 395.6h0M919.8 387.9h0M825 397.3h0M865.4 397.1h0M689.2 399h0M702.7 398.3h0M930.2 395.1h0M614.9 401.5h0M711.6 399.7h0M921.4 394.6h0M572.6 406.8h0M822.1 396.2h0M598 402.1h0M751 397.4h0M873.3 395.3h0M756.4 398.5h0M627.2 400.8h0M612.6 402.2h0M761.9 391.4h0M891.6 396.2h0M734 399.6h0M695.1 398.1h0M916.9 395.2h0M736 398.5h0M607.3 402.7h0M952 394.1h0M610 399.6h0M849.8 397.1h0M670.5 399.8h0M691.6 398.6h0M713.2 399.8h0M779 398.1h0M734.8 398.6h0M939.7 395.3h0M623.9 401.5h0M664.2 398.9h0M954.4 393h0M615 402.7h0M649.2 400.4h0M671.7 398.8h0M705 398.3h0M929.9 395.4h0M571.8 410h0M612 401.5h0M593.2 403.5h0M720.3 398.9h0M767.7 397.1h0M656.2 395.7h0M963.1 394.3h0M651.8 400h0M677.1 399.5h0M906.5 395.1h0M951.1 395h0M820.4 396.2h0M834.7 395.4h0M742.4 397.7h0M670.9 398.7h0M906.1 391.6h0M896.1 396.2h0M715 399.5h0M870 395.7h0M792.8 398.1h0M705.4 399.2h0M729.7 399.8h0M735 397.9h0M927.8 394.5h0M656.7 399h0M641.8 400.5h0M729.7 398.9h0M676.6 398h0M960.2 392.5h0M728.1 397h0M713.1 399.8h0M590.3 401.2h0M798.2 397.1h0M889.7 395.2h0M758.2 398.5h0M654.9 399h0M740.3 398.2h0M812.1 396h0M924.7 393.8h0M709 398.9h0M784.8 396.5h0M853.5 392.4h0M705.7 398.7h0M727.5 399.5h0M731.9 399.7h0M736.4 398.4h0M922.1 393.9h0M862.7 397.2h0M705.3 398.9h0M770.6 397.8h0M720.6 397.3h0M605 403h0M847.1 396.7h0M660.2 398.6h0M924 395.5h0M755.4 396.3h0M870.1 395.4h0M667.7 399.6h0M641.3 400.5h0M686.2 399.8h0M608.7 401.7h0M911.6 395.6h0M939.5 393.7h0M894.9 395h0M720.2 399h0M678.3 397.5h0M647.7 400.6h0M760.7 398.4h0M746.5 398.2h0M954.1 394.9h0M843.5 396h0M609.2 401.8h0M680 396.5h0M729.1 399.4h0M639.2 400.7h0M835.6 397.3h0M837.6 394.8h0M963.5 393.2h0M921.8 394.5h0M627.8 401.6h0M933.4 394.3h0M679.6 399h0M700.2 398.6h0M643.5 399.9h0M893.9 395.8h0M739 399.1h0M726 399.5h0M656.7 400.2h0M693.4 398.3h0M613.6 400.5h0M835.2 396.2h0M888.7 393.4h0M698.5 398.3h0M658 398.2h0M566.9 415.7h0M939.3 393.9h0M681.2 399.4h0M742.2 397.3h0M579 406.8h0M871.5 394h0M721 399.4h0M926.4 392.7h0M576.4 407.7h0M889 394.9h0M782.1 398h0M649.7 400.9h0M762.3 398.9h0M855 394.8h0M885.5 395.6h0M679.4 399.5h0M644.9 400.8h0M723.4 399.8h0M818.3 396.7h0M725.9 396.1h0M865.6 394.3h0M732.8 398.3h0M728.8 398.3h0M593.4 405.1h0M832.1 397.3h0M697.5 399.8h0M962.2 393.2h0M884.1 396h0M832.8 396.5h0M875.8 393.4h0M849.5 396.5h0M932.1 393.3h0M847.8 396.4h0M585.9 404.8h0M929.9 395.4h0M573 409.2h0M815.3 388h0M702 398.5h0M714.6 396.2h0M814 397.2h0M604.1 403.5h0M620.8 401.6h0M872.8 394.6h0M658.8 398.6h0M779.2 397.5h0M614.7 402.8h0M740.3 397.7h0M671 398.8h0M710.8 398.7h0M906.9 396h0M941.5 393.1h0M581.7 407.2h0M895 396h0M622.1 402.3h0M722.2 398h0M778 397.6h0M802.3 396.7h0M700.2 399.2h0M821.7 397.6h0M949.6 394.8h0M708 394h0M745.6 398.9h0M950.4 394.4h0M583.5 405.8h0M699.1 399.3h0M921.3 394.1h0M678.4 397.2h0M720.7 398.4h0M874.2 396.7h0M845.4 397h0M659.9 399.3h0M637.6 401.2h0M869.5 396.4h0M720.8 398.4h0M963.5 393.6h0M576.8 407.5h0M598.3 404.5h0M943.5 392.9h0M940.6 393.9h0M871.9 395.9h0M752.7 398.6h0M884.4 395.6h0M801.5 396h0M829.1 397.1h0M602.1 403.4h0M816.9 396.2h0M876.3 396.3h0M919.5 390.6h0M696.2 391.8h0M735.7 396.7h0M733.6 399.1h0M935.9 393.1h0M836.6 397.5h0M854.7 396.9h0M566.3 416.8h0M703 397.2h0M866.6 397.1h0M638.1 398.3h0M902.1 394.4h0M763.7 397.6h0M730.3 399.2h0M715.9 399.6h0M685.3 400.2h0M728.8 399.6h0M860.1 396.5h0M958.2 393.5h0M653.1 400h0M746.7 393.2h0M844.8 396.2h0M876.1 396.7h0M699.9 399.4h0M629.8 401.7h0M600.2 401.5h0M927 394.4h0M960.2 391.1h0M835.3 396.1h0M768.1 397.1h0M666.6 397.3h0M620.1 402.6h0M794.2 395.1h0M810 393.9h0M955.4 393.9h0M619.1 400.8h0M873.7 394.6h0M654.3 399.6h0M664 399.6h0M947.9 395.2h0M840.3 396.5h0M634.6 401.9h0M657.1 395.9h0M602.6 403h0M717.5 399.9h0M857.1 396.8h0M611.4 402.8h0M720.3 399.3h0M866.9 395.1h0M946.7 394.1h0M714.1 399.1h0M609.3 402.8h0M956.3 394.8h0M584.4 404.3h0M846.4 396.5h0M575 409.3h0M860.4 395.8h0M700.6 398.9h0M613.1 402.6h0M866.6 395.7h0M783.5 395h0M718 398.6h0M935.4 392.4h0M846.4 394.5h0M792 398h0M956.5 394.8h0M724.2 395.3h0M682.4 398.1h0M712.5 394.5h0M757.9 398.9h0M650.7 400.3h0M596.2 401.4h0M684.6 400.1h0M719.4 399.3h0M843.6 395.6h0M829.1 397.5h0M765.6 396.8h0M810.2 397.9h0M833.7 396.9h0M707.2 397.6h0M857.2 396.5h0M802.9 396.3h0M574.1 407h0M733.3 397.3h0M911.3 395.6h0M570.8 411h0M689.6 398.3h0M710.4 398h0M669.2 399.3h0M790.5 394.7h0M656.2 398.6h0M915.4 393.7h0M667.2 399.8h0M847.2 396.1h0M657 400.6h0M576.8 406.3h0M664.2 399.9h0M733.8 399.3h0M864.6 394.4h0M677.2 400.3h0M899.3 395.7h0M855.9 397.1h0M593.3 404h0M803.2 396.1h0M711.8 399.4h0M781.9 398.1h0M819.4 395.4h0M691.5 399.4h0M808.4 396.1h0M708 400h0M579.2 407.7h0M643.7 401h0M825.7 393.8h0M949.2 393.5h0M717.3 398h0M852.2 396.7h0M836 396.7h0M612 401.9h0M779.2 395.5h0M777.3 397.1h0M605.9 402.8h0M921.6 394.6h0M715.9 398.3h0M943.6 393.7h0M622.1 400.3h0M917.5 395.3h0M573.1 409h0M934 395.1h0M765 397.8h0M811.3 397.2h0M716.6 399.1h0M689.9 399.8h0M616 401.5h0M925.8 393h0M569.6 412.3h0M588.1 406h0M782.2 391.8h0M807.5 394.6h0M806.3 396.8h0M590 402.3h0M581.2 405.9h0M928.6 393.9h0M609.3 401.6h0M955.3 394.4h0M844.4 397.4h0M733.1 397.1h0M600.4 403.1h0M671.2 399.4h0M610.1 403.2h0M735 395h0M607.6 402.5h0M893.2 395.9h0M876.6 396.8h0M862.3 396h0M722.9 399.5h0M579.4 407.9h0M839.8 394.2h0M908.9 394.2h0M777.2 398.2h0M692 398.2h0M689.5 400h0M587.3 406.2h0M715.7 399.5h0M947.7 393.4h0M806 397.7h0M669.2 397.5h0M706.6 390.6h0M710.6 400h0M627.1 401h0M599.8 401.9h0M939.5 394.8h0M657.3 397.2h0M629 402.2h0M786.9 396.1h0M829.5 396.9h0M788.2 396.2h0M956.8 392.8h0M789.9 396.5h0M872.3 396h0M839.3 396.3h0M780.9 398.4h0M889 394.2h0M696 399.7h0M731.3 399.7h0M708.9 398.4h0M690.4 399.9h0M738.7 397.7h0M858.6 397h0M824.2 397.6h0M662.8 398.2h0M612 401.7h0M906.8 395.7h0M806.4 397.9h0M944.6 394.5h0M863.7 396.7h0M750.9 397.8h0M758 398.6h0M865.5 395.9h0M651.5 399h0M841.4 396.6h0M796.7 398h0M826.9 397.5h0M706.5 398.2h0M956.7 394.6h0M706.1 390.1h0M757 398.9h0M905.5 394.7h0M726.5 399.2h0M686 397.8h0M827.9 396.7h0M754 397h0M653.1 398.8h0M648.6 401h0M762.3 397.6h0M663.7 399.3h0M777 397.5h0M685.6 399.7h0M700.8 394.8h0M820.6 397h0M913.6 393.6h0M627.1 402.3h0M865 395h0M860.5 396.9h0M908.9 392.3h0M700.2 398.2h0M909 395.7h0M923.8 394.3h0M694 400h0M771.2 397.4h0M580.5 406.6h0M691.3 400.2h0M771.7 395.1h0M842.9 392.7h0M692.1 399.8h0M895 395h0M781.2 395.8h0M655 399.8h0M798.8 396.7h0M778.4 397h0M941.5 393.1h0M591.8 403.5h0M696.7 399.3h0M623.6 402.3h0M739.4 398.9h0M589.5 402.6h0M806 393.7h0M847.1 397.2h0M666.4 400.3h0M815.4 394.9h0M741.2 398.7h0M930 395.6h0M605.2 402.4h0M569.5 413.4h0M578.4 406.8h0M696 399h0M676.3 399.2h0M691.7 397.4h0M724.6 399.2h0M658.8 398.5h0M883.2 395.4h0M672.4 398.1h0M602.8 402.9h0M770 398.2h0M620.3 400.7h0M711.9 399.3h0M695.7 399.6h0M818.4 394.6h0M844 395.9h0M732.7 399.7h0M575.8 407.5h0M855.9 394.7h0M931.6 393.4h0M657.5 399.3h0M728.2 399.8h0M668.5 399.1h0M881.5 395.9h0M804.9 395.8h0M732.4 399.4h0M613.7 401.5h0M750.2 396.4h0M924.6 393.1h0M646.4 399.1h0M939.1 394.8h0M611.4 402.5h0M851.5 395.3h0M834.8 396.8h0M706.6 400h0M927 393.5h0M733.8 398.8h0M860.2 397.1h0M812.1 395.7h0M814.8 396.5h0M954.5 394h0M749.3 398h0M753.2 397.6h0M956.4 394h0M675.3 400.2h0M864.6 397h0M645.8 398.1h0M785.5 397.8h0M915.4 394.8h0M774.6 398.6h0M633.7 396.1h0M614.7 402.5h0M649.3 398.9h0M841.1 396.6h0M800.2 397.4h0M936.2 393.1h0M610 400.2h0M606 403.2h0M792.9 397h0M685.2 399.9h0M683.4 399.6h0M900.8 394.5h0M927 394.5h0M818.7 396.4h0M747.4 399.4h0M747.1 398.6h0M712.2 400h0M649.9 398.3h0M878.8 395.4h0M954.9 394.9h0M658.2 400h0M596.2 403.2h0M678.5 398.1h0M726 399.7h0M874.3 395.2h0M606.3 402.4h0M694.6 396.5h0M903.4 392.8h0M601.3 403.5h0M868.6 396.7h0M855.2 396.8h0M708.3 397h0M623.4 401.3h0M777.2 396.7h0M741.1 398.1h0M581.1 407h0M771.1 398.4h0M591.8 403.9h0M915 393.5h0M747.2 398.7h0M884.6 395.4h0M682.1 400.2h0M839.1 396.7h0M634.9 398.9h0M591.5 403.5h0M604.3 403.5h0M861.9 396.6h0M845.4 392.8h0M879.2 394.8h0M936.4 395.1h0M593.2 393.3h0M746.3 391h0M583.3 406.5h0M840.1 395.8h0M702.3 394.9h0M881.2 394.1h0M591.9 402h0M843.6 396.9h0M941.7 395.1h0M747.1 397.3h0M715.5 399.7h0M893.9 394.4h0M724.2 399.5h0M945.3 395.2h0M839.5 395.2h0M700.2 398.9h0M952 393.8h0M694.7 399.9h0M845.5 393.4h0M652.2 400.8h0M908.5 395.9h0M727.7 398.2h0M824.2 395.6h0M940.7 394.9h0M924.1 394.1h0M953.7 394.3h0M829.7 397.2h0M850.2 395.6h0M891.3 393.6h0M600.3 404.3h0M807.8 397.9h0M730 399.6h0M763.6 397.4h0M653.1 399.6h0M581.9 406.4h0M902 394.9h0M842.1 395.2h0M889.1 396.2h0M722.7 399.5h0M892.3 396.4h0M687 400.1h0M766.7 397.8h0M809 396.1h0M957 393.8h0M596.3 402.8h0M830.8 397.5h0M692.5 399.2h0M786.7 397.8h0M837.3 395.4h0M941.8 395.1h0M591.3 405h0M603.5 398.7h0M719.2 399.8h0M797.4 397.3h0M665.7 400.3h0M926.4 395.5h0M705.6 399.6h0M915.4 394.2h0M886.7 395.4h0M621.5 401.8h0M602.2 403.3h0M815.8 395.1h0M887 392.6h0M729.9 398.2h0M774.9 398.3h0M927 392.3h0M834.7 396.3h0M911.3 395.9h0M704.2 398.5h0M743.8 398.4h0M700.7 399.6h0M685.1 396.7h0M841.3 396.1h0M592.3 404.4h0M905.8 393.4h0M943.1 393h0M918.5 394.7h0M909.7 395.2h0M883.3 396.3h0M585.7 402.4h0M907.6 393.6h0M592.5 403.5h0M587 405h0M839 397.6h0M894.5 395.8h0M577.2 407.8h0M815.6 397.4h0M611.2 401.7h0M703.2 398.5h0M712 398.8h0M692.5 398.7h0M779.1 398.4h0M706.2 398.7h0M657.9 400.5h0M934 394.1h0M963.7 393.9h0M767.9 397.9h0M842.3 397.3h0M622.8 401.7h0M763.8 397.7h0M735.4 399.5h0M667.4 400.1h0M923 393.6h0M674.2 399h0M573.1 409.1h0M659.1 393.6h0M879.8 394.8h0M778.9 398.2h0M948.4 394.8h0M928.3 394.5h0M675 399.3h0M763 398.4h0M684.2 400.3h0M791.9 397.5h0M612.8 403.1h0M574.7 408.1h0M903.8 394.8h0M630.5 400.2h0M569.1 412.1h0M765.5 396.4h0M615 401h0M630.9 399.1h0M922.5 395.2h0M836.1 397.3h0M925.7 394h0M854.7 396.4h0M579.8 403.7h0M616.4 401.9h0M644.4 400.8h0M780.5 398.1h0M588.7 405.7h0M742 397.1h0M670.3 399.8h0M743.2 398.8h0M669.5 397.9h0M872.8 395.2h0M701.6 399.6h0M943.8 394.4h0M853.1 397h0M696.8 399.2h0M599.2 402.3h0M934.4 395.1h0M862.8 394.6h0M770.9 397.6h0M635.6 401.2h0M753.7 391.3h0M693.6 399.4h0M673.9 399.9h0M889.2 393.4h0M736.8 396.9h0M766.4 398.8h0M593 404.1h0M951.9 394.5h0M701.2 399.1h0M581.9 405.8h0M736.8 398.9h0M719.3 395.1h0M784.1 397.8h0M876.3 396.3h0M743 397.8h0M616 400.6h0M661.3 400.1h0M868.5 396.2h0M695 397.5h0M827.2 396.9h0M715.8 399.8h0M886.1 396.7h0M632.5 401.8h0M642.1 400.6h0M679.4 400.2h0M941.4 394.9h0M739.8 399.3h0M887.4 396.2h0M937.7 395.2h0M779.3 396.7h0M619.8 401.7h0M938.2 394.6h0M963.4 394.7h0M734.2 399.1h0M765.1 396.3h0M919.7 394.8h0M786.9 398h0M642.8 401.4h0M593.6 404.9h0M792.8 396.6h0M596.6 404.8h0M869.9 395.6h0M959.1 394.5h0M820.9 395.6h0M802.6 394.9h0M699.7 396.8h0M777.9 398h0M645.6 398.5h0M844.1 396.6h0M700.7 398.1h0M668.4 400.2h0M872.4 395.7h0M853.8 396.8h0M644.4 399.6h0M854.2 396.6h0M646.8 401.1h0M853.7 395.3h0M786.4 395.7h0M777.9 397.4h0M706.7 392.1h0M833.6 397.4h0M760.2 398.3h0M618.5 400.2h0M716.5 399.3h0M833.8 396.2h0M625.3 401.2h0M861.8 394.6h0M869.5 393.7h0M740.3 398.2h0M870.7 396.5h0M744.3 398.1h0M873.9 396h0M622.6 398.7h0M722.4 397h0M742.3 399.2h0M697.7 399.3h0M959.8 394h0M783 394h0M907.6 395.1h0M566.7 416.2h0M870.9 396.4h0M657.2 399.6h0M604.1 403.6h0M857.5 397h0M608.1 403.3h0M582.1 406.2h0M577.3 406.3h0M870.3 392.2h0M571.1 410h0M585.9 406.6h0M818.5 396.8h0M887.2 395.6h0M849.1 396.4h0M804.8 398h0M822.4 396h0M851.4 397.1h0M606 402.8h0M725.1 399.5h0M616.8 401.4h0M922 392.5h0M680.9 399.9h0M690.3 399.9h0M661.8 398.5h0M828.7 395.3h0M918.2 394.6h0M636.6 401.1h0M765 397.4h0M708.5 399.4h0M694 399.4h0M706.9 399.3h0M846.8 397.1h0M771.6 397.5h0M772 398.2h0M605.2 401.7h0M740.3 399.2h0M735.9 399.6h0M609.7 402.8h0M919 394h0M750.6 397.9h0M824.3 397.2h0M876.3 394.9h0M639.9 399.5h0M612.2 401.6h0M665.5 398h0M745.6 399.2h0M566.6 415.1h0M782.8 397.2h0M800 395.3h0M612 402.5h0M763.1 397.5h0M949 394.8h0M765.2 396.1h0M868.9 393.1h0M686.7 399.3h0M700.5 399.3h0M767.7 398.5h0M584.6 404.5h0M956.3 393.6h0M956.2 394.3h0M948.3 391.8h0M701.7 399.6h0M585.5 406.5h0M780.8 397.1h0M754 398.7h0M903.2 392.9h0M696.1 398.4h0M914.9 396h0M789.3 394.5h0M773.6 397.8h0M906.9 395.7h0M790.8 395.8h0M720.3 398.8h0M825.8 397.2h0M701.9 397.9h0M650.6 399.3h0M705.2 399.5h0M843.5 396.3h0M826.1 396.8h0M637.6 400.5h0M717.7 396.9h0M640.3 399.3h0M615.7 401.1h0M619.6 402.6h0M596.1 400.6h0M584.1 405.9h0M791.3 395.3h0M606 401.1h0M792 398.1h0M922.7 389.7h0M867.9 393.2h0M891.9 395.3h0M751.3 398.5h0M895.1 396h0M690.6 400h0M710.2 398.1h0M872.5 395.5h0M872 394.8h0M790.2 397.4h0M760.5 398.3h0M893.6 395.8h0M608.7 402.6h0M746.1 398.7h0M597.5 404.3h0M915.5 394.3h0M802 397.7h0M602.2 403.4h0M796.2 414.4h0M887.2 418.5h0M851.8 418.4h0M740.1 421.6h0M761.5 415.1h0M616.7 420.9h0M582.1 429h0M601.8 423.3h0M569.5 445.5h0M752.8 415.8h0M830.3 413.5h0M919.8 413.7h0M785.2 421.5h0M582.9 433.8h0M605.4 420.8h0M935.5 413.7h0M934.6 412.7h0M779.8 414.3h0M651.9 417.6h0M622.2 421.8h0M604 422.6h0M873.6 418.1h0M810.8 415.6h0M654.1 418.5h0M740.3 417.1h0M598 422.3h0M848.1 412.7h0M680.5 416.8h0M621.3 419.5h0M553 436.9h0M769.3 415.6h0M812.3 416.4h0M947.5 411.9h0M796.5 413.7h0M804.2 413.7h0M623.3 419.1h0M667.2 420.9h0M803 413.7h0M936.4 411.5h0M813 413h0M654.5 418.7h0M796.2 414h0M849.9 413.6h0M844.2 413.2h0M778.1 415.5h0M642.2 419.8h0M917 412.8h0M630.9 420.2h0M569.2 445.9h0M933.3 416.6h0M827.2 415.4h0M723.4 416.9h0M630.4 419.4h0M759.2 415.3h0M695 417.4h0M567 452.8h0M592 424.6h0M565.7 452.7h0M741.4 415.7h0M588.8 426.2h0M786.6 414.2h0M673.7 420.2h0M686.4 417.3h0M572.2 439.4h0M943.6 411.4h0M768.8 415.1h0M891.4 411.6h0M948.2 411.2h0M623.2 419.8h0M794.5 415.4h0M858 412h0M608.8 422.2h0M719.2 416.6h0M649.4 421.1h0M792.4 415.7h0M571 441h0M774.3 417.4h0M953.1 410.7h0M836 412.6h0M760.5 417h0M786.8 415.5h0M713.8 416.7h0M807.1 414.5h0M858.1 414h0M799.3 419.7h0M668.4 417.9h0M917.1 413h0M590.2 431.4h0M632.8 420.3h0M809.6 414.1h0M734.3 415.8h0M892.2 412.2h0M775 416.2h0M682.8 417.5h0M692.5 417.4h0M705.7 418.7h0M607.3 423.4h0M816 416h0M646.1 418.3h0M843.2 412.9h0M777.9 415.4h0M671.8 417.1h0M583.2 428.7h0M714.7 416.4h0M839.7 414.6h0M907.7 415.7h0M735.8 415.8h0M894.8 412.5h0M768.8 414.6h0M558.2 444.4h0M837.6 412.6h0M720.5 421.9h0M606.1 420.5h0M764.8 418.8h0M918.2 411.2h0M624.7 421.8h0M821.2 413.4h0M863.1 413.2h0M773.8 414.7h0M776.1 414.9h0M899.6 412.7h0M709.9 416.9h0M964 410.2h0M904 411.6h0M587.6 428h0M571.2 443.1h0M750 416.6h0M895 415.8h0M819.7 413.6h0M793.1 414.3h0M671.9 418.5h0M682.2 418.8h0M628 420h0M904.8 413.3h0M687.9 416.7h0M928.1 411.8h0M893.1 411.7h0M798.8 416.3h0M897.6 416.1h0M560.6 445.3h0M647.9 418.2h0M772.5 415.1h0M927.5 413.7h0M829.8 418.7h0M607.7 421.4h0M795 414.2h0M929.9 412.9h0M632 419.8h0M679.8 417.3h0M961.2 412.3h0M756.9 416.5h0M790 413.9h0M735.5 416.3h0M741.1 417.3h0M689 422.5h0M899.5 413.8h0M834.7 413.7h0M729.4 417.8h0M827.2 412.6h0M820.1 413.9h0M829.1 415.1h0M897.1 412.5h0M794.8 415.4h0M564.6 448.7h0M576.9 432.3h0M871.7 414.2h0M906 412.6h0M824.9 413h0M746.8 417h0M647 418.3h0M814.2 417.3h0M867.2 412.5h0M673.8 417.1h0M935.3 414.1h0M624.5 419.1h0M637.2 420.8h0M875.7 411.7h0M712.8 416.9h0M819.9 415.5h0M782.8 416h0M952.4 410.5h0M630.8 420.5h0M696.5 417.2h0M753.5 417.4h0M789.8 415.6h0M836.3 421.7h0M767.7 417.8h0M661.6 418.2h0M762.2 415.3h0M912.5 411.8h0M704.1 417.2h0M663.1 419.1h0M570.7 441.9h0M785.7 415.1h0M596.5 422.8h0M678.9 418.1h0M588.9 428.2h0M640.8 420.2h0M728.2 418.2h0M662.8 418.1h0M583.6 430h0M731.9 424.2h0M894 411.7h0M797.8 413.8h0M599.7 423.1h0M722.8 423.3h0M691.9 416.7h0M617.8 420.4h0M937.3 411.9h0M890 412.5h0M834.3 415.2h0M810.2 413.5h0M764 424.5h0M842.9 412.8h0M717.9 416h0M906.9 417.7h0M828.7 412.7h0M875.4 413.3h0M700.3 419.8h0M743 416.5h0M685.3 423.5h0M723.1 416.7h0M694.9 417h0M748.1 416.5h0M757.2 415.8h0M576.8 434.6h0M934.8 411.7h0M783.2 416.4h0M758 415.4h0M785.7 415h0M551.6 434.4h0M831.5 415h0M682.5 418h0M702.4 419.2h0M604.1 420.2h0M929.2 412.4h0M929.9 411.4h0M885 413.3h0M751.9 415.8h0M782.9 414.2h0M619.9 421.4h0M856.6 413.4h0M819.5 414.2h0M871.5 414.4h0M854.9 412h0M647.2 419.6h0M745.5 416.5h0M686.8 416.8h0M743.2 417.5h0M720.2 416.5h0M569.4 445.5h0M655.2 420.8h0M917.3 412.6h0M584.9 427.7h0M675.8 417.3h0M918.6 412.8h0M582.9 428.5h0M918.2 412.6h0M935.6 416.8h0M705 417.1h0M592.4 425.4h0M865 413.4h0M559.2 447.3h0M573.3 437.4h0M941.7 412.7h0M771.8 414.3h0M754.5 416.4h0M604.8 421.2h0M845.2 412.9h0M560 448.3h0M915.9 411.6h0M801.1 414.9h0M901.7 412.5h0M635.3 419h0M950 413.9h0M852.8 413.2h0M552.7 437h0M765 416.2h0M928.6 412.3h0M654.1 419.7h0M673.7 417.8h0M865 413.5h0M950.9 411.2h0M954.4 411.4h0M588.6 425h0M959.6 411.2h0M755.1 415.2h0M768.4 415.5h0M782.3 417.3h0M824.6 414.2h0M949.7 411.7h0M804.3 414.5h0M831.6 413.3h0M887.1 414.1h0M849 413h0M705 417.8h0M645.5 423.4h0M789.8 414.8h0M806.7 414.5h0M575.3 435.6h0M787.1 414.1h0M792.2 415.2h0M765.4 415.1h0M814.3 415.5h0M644.7 418h0M896.9 411.5h0M735.2 418.8h0M935.4 411.1h0M585.2 426.8h0M734.1 416.6h0M730.5 416.4h0M950.8 411.7h0M808.9 417.5h0M567.6 456.3h0M915.4 411h0M785.2 414.8h0M744.4 418.1h0M839.4 412.7h0M852 412.7h0M865.5 411.7h0M885.7 412.1h0M906.3 411.8h0M756.1 414.8h0M781.5 415.9h0M806.5 414.1h0M686.3 418.5h0M935.6 412.7h0M655.4 418.7h0M710.2 417.4h0M581.3 430.7h0M786.1 415.3h0M608.6 420.8h0M778.5 414.7h0M893.9 412.7h0M661.2 417.6h0M725.7 417.9h0M687.6 417.5h0M795.5 415h0M926.9 411h0M593.7 423.3h0M639.3 418.7h0M653.8 417.7h0M900.1 413h0M779.6 414.8h0M914.4 417.4h0M555.9 442.1h0M567.9 449h0M675.2 424.7h0M601.9 421.6h0M596.2 423.8h0M848.3 415.5h0M859.8 414.7h0M570.2 443.1h0M841.5 414.6h0M945 410.7h0M728.2 418.2h0M729.3 417.2h0M649.9 417.7h0M952.4 413.2h0M838.6 414.3h0M930.8 412.5h0M902.8 414.1h0M818.3 417.4h0M551.6 436.6h0M803.2 415.2h0M954.2 410.5h0M959.2 420.3h0M948.9 411.8h0M655.7 420.9h0M785.2 415.5h0M625.2 420h0M945.8 411.6h0M646.1 419.1h0M758.4 421.3h0M668.2 419.5h0M646.1 420.8h0M706.5 418.7h0M839.9 413.4h0M662.3 418.7h0M714.6 418h0M875.3 413h0M638.3 419.1h0M731.5 415.8h0M839.1 420.1h0M651.7 418.6h0M922.3 412h0M621.5 421.6h0M721.2 416.7h0M574.1 442.9h0M679.1 419h0M820.5 414.3h0M954.6 412.7h0M876.9 411.5h0M652.2 419.4h0M890.4 415.9h0M746.4 415.8h0M564.2 449.2h0M900.3 411.4h0M726.9 418.7h0M845.8 412.2h0M569.4 444.9h0M695.6 418.4h0M920.2 412.3h0M570.9 443.1h0M714.8 417.4h0M863.7 411.8h0M587.4 426.7h0M942.7 412.4h0M801.1 414.1h0M641.1 419.3h0M954.2 410.6h0M780.3 417.1h0M870.6 412.8h0M847.1 413.4h0M611.6 420.3h0M608.7 419.8h0M643.2 418.4h0M916.1 412.4h0M889 412.9h0M949.7 410.7h0M641.4 420.3h0M845.3 412.6h0M774.5 414.7h0M717.6 418.1h0M631.1 424.9h0M552.2 437.1h0M707.3 419.9h0M782.4 414.7h0M689.3 417.6h0M583.7 432h0M749.1 416h0M788.7 422.2h0M782.5 415.5h0M619.3 421h0M728.2 416.4h0M695.8 419.1h0M753.8 415.5h0M913.5 411h0M795.9 414.1h0M800.1 416.8h0M653.9 419.1h0M855 414.7h0M638.8 420.6h0M805.2 413.7h0M716.8 416.8h0M913.6 411.4h0M786.3 416.6h0M573.5 438.7h0M674.5 417.8h0M579.9 432h0M863.6 412.9h0M705.9 417.5h0M651.4 417.9h0M900.8 411.2h0M558.7 444.8h0M884.4 411.4h0M622.1 419.5h0M682.4 418.3h0M858.6 412.9h0M922.9 412.2h0M918 411.3h0M826.1 414.5h0M781.9 415.8h0M732 416.7h0M879.7 413.3h0M568 447.2h0M857.1 412.9h0M644.4 420.7h0M597.5 422.3h0M699.9 421.7h0M737.4 417.8h0M737.3 416.2h0M906.5 412.9h0M870.2 421.3h0M624 420.9h0M573.2 439h0M765.2 415.2h0M559.6 446.2h0M637.3 418.6h0M746 415.3h0M646.3 418h0M757.1 415.2h0M557.4 443h0M770.7 415.2h0M819.3 414.2h0M694.2 418h0M870.2 413.4h0M593.7 423.8h0M561.2 446h0M837.9 413.9h0M681.4 417.2h0M938.3 412.6h0M776.5 414.9h0M816.1 414.9h0M877.3 413.5h0M801.4 413.8h0M897.6 411.7h0M698.8 419.4h0M569.9 444.7h0M698.1 417.9h0M878 411.5h0M769.1 416.7h0M861.7 412.9h0M616.9 421.7h0M847.1 413.2h0M918.3 412.2h0M755.8 416h0M845.2 414h0M858.4 412.9h0M887.4 412.9h0M939.8 413h0M552.3 436.1h0M730.1 417.8h0M619.5 419.7h0M624.2 420.5h0M889.8 411.5h0M742.7 418.6h0M743.3 417.4h0M594.7 426.2h0M580.9 429.6h0M877.4 413h0M925.9 412h0M814.8 414.3h0M610.8 421h0M560.8 445.3h0M890.6 412.5h0M720.3 416.2h0M934.5 412.8h0M567.2 449.6h0M709.4 416.9h0M845.5 413.4h0M929.4 412.4h0M583.9 428.8h0M595.4 423.8h0M852.7 413.7h0M813 415h0M777.6 415.9h0M635.2 421.2h0M781.2 415.1h0M909.8 413.4h0M779.6 417.2h0M658.1 418.6h0M678.2 419.2h0M591.7 424.7h0M594.2 423.3h0M580.6 430.2h0M821.2 412.8h0M765.1 417.9h0M893.4 412.1h0M576.7 439.7h0M609.5 421.4h0M750.8 415.7h0M823.3 414.1h0M818 414.4h0M893.3 412.9h0M671.8 417h0M864 412.8h0M835.2 414.4h0M851.1 413.7h0M950.5 420.8h0M892.1 413.4h0M874 411.6h0M581.6 429.5h0M663.9 417.7h0M633.5 419.2h0M825.8 414.5h0M900.5 412.7h0M879.6 413.7h0M847.7 414h0M949.6 411.5h0M727.3 415.9h0M625.1 420.1h0M879.8 414.1h0M920 410.9h0M738.1 418.9h0M955.7 411.5h0M816.5 414.4h0M789.5 414.4h0M789.4 413.8h0M840.7 412.4h0M629.3 420.4h0M558.6 446.4h0M609.8 422.3h0M639.7 420.7h0M822.3 413.8h0M610.1 421.6h0M911.9 411.3h0M866.3 411.7h0M569.3 445.8h0M554.6 442.7h0M771.8 417.7h0M679.9 419.5h0M688.7 418.9h0M568.9 448.2h0M569.8 443.8h0M691.4 420.9h0M617 421.4h0M748.1 424.4h0M612 420h0M592.2 424.9h0M686 418.5h0M677.2 419.1h0M634.6 418.9h0M694.2 416.8h0M768.8 417.3h0M896 412.7h0M963.5 410.5h0M917.8 411.5h0M945.4 412.2h0M610.9 419.6h0M666.7 418.7h0M908.7 411.2h0M729 420.7h0M676.3 426.7h0M677.9 419.5h0M612.8 420.9h0M765.8 416.1h0M785.1 413.8h0M868.4 412.5h0M772.5 416.9h0M785.2 415.5h0M799.6 414.1h0M610.7 422.4h0M843.7 421.7h0M567.9 450.8h0M671.8 419.7h0M860 413.6h0M721.1 419.5h0M935 410.9h0M672.9 420.1h0M738.1 415.7h0M935.5 411.6h0M663.5 417.2h0M884.2 412.9h0M718.7 419.6h0M921.9 413.9h0M932.4 411.7h0M700.4 418.8h0M926.5 411.2h0M963.8 415.2h0M780 416.1h0M670.8 418.3h0M637 420.1h0M732.8 416.2h0M579.2 432.8h0M903.6 412.4h0M672.2 417h0M843.5 413.3h0M665.2 418.5h0M739.8 418.3h0M578.4 433.9h0M712.6 416.8h0M620.3 419.8h0M716.2 416.1h0M631.3 424h0M688.6 417.9h0M887.8 413.6h0M924.6 413.5h0M656.4 420.7h0M947.1 413.1h0M602.4 428.5h0M932.1 412.9h0M613.5 427.6h0M628.5 426.5h0M604.2 421.8h0M766.5 417.5h0M960.5 410.5h0M555.9 442.6h0M927.5 412.5h0M596.4 422.7h0M718.9 417.2h0M755.7 415.5h0M773.9 415h0M849.3 412.7h0M564.3 447.7h0M682.7 417.5h0M878.7 411.4h0M817.5 415h0M925.6 416.1h0M598.2 423.1h0M961.9 410.8h0M642.2 420.3h0M917.1 413.6h0M734.1 416h0M694.8 417.8h0M721 418.6h0M939.5 413.6h0M574.4 437.7h0M631.8 420.7h0M620.8 421.1h0M567.9 448.7h0M590.4 426.7h0M745.9 416.1h0M657.7 418.1h0M751.3 415.8h0M810.1 413.4h0M822.3 414h0M750.8 416.7h0M909.8 416.6h0M918.3 412.6h0M712.2 418.2h0M741.5 415.6h0M811.8 417.1h0M918.5 415.2h0M711.8 416.5h0M627.2 419.4h0M551.1 434h0M899.5 412.8h0M839.6 414h0M820.4 412.9h0M754.7 417.4h0M960.2 411.9h0M783.9 414.3h0M622.8 421.6h0M797.3 414.7h0M832.2 413.5h0M631.5 421.1h0M837.8 412.9h0M620.5 420.5h0M629.8 419.3h0M755.7 425.5h0M594.1 423.5h0M801.7 414.7h0M885.1 416.5h0M610.1 420h0M960.3 413.4h0M622.1 424.4h0M625.3 420.5h0M564.3 448.9h0M623.2 420.6h0M661.7 417.8h0M952.6 412.8h0M733.4 416.3h0M576.4 434.1h0M768.8 415.4h0M825.7 413h0M893 416.6h0M561.9 445.8h0M552.9 439.2h0M818.8 413.5h0M645.3 419.2h0M713.8 417.3h0M807.2 413.3h0M900.4 411.6h0M807.6 415.5h0M578.1 432.2h0M948.4 429.6h0M744.3 417.6h0M592.5 424.5h0M891.8 413.3h0M796.1 415.1h0M907.8 411.2h0M887.2 412.9h0M717.5 416.8h0M649.1 418.4h0M722 416.5h0M666.1 418.6h0M750.5 415.2h0M900.7 411.6h0M925.3 412.5h0M672.2 419.3h0M553.1 444.1h0M553.7 439.6h0M785.8 413.8h0M793.5 413.6h0M613.7 420.2h0M876.3 412.1h0M619.7 420.9h0M911.3 413.3h0M779 414.6h0M957.2 410.6h0M684.2 418.5h0M795.4 413.9h0M837.3 412.5h0M872.2 419.2h0M881.3 414.1h0M727.6 417h0M669.2 429.8h0M880.7 411.8h0M699.3 416.7h0M588.2 426.4h0M770.2 416.9h0M559 446.1h0M863.9 412.6h0M558.2 444.5h0M836.2 413.7h0M652.2 419.5h0M802.8 415.2h0M799.2 413.5h0M823.1 418.4h0M885.9 417.7h0M726.2 416h0M605 422.1h0M923.8 411.2h0M947.5 413.5h0M757.3 415.4h0M928.3 411.7h0M566.1 452.4h0M564.5 448.1h0M776.4 416.6h0M651.5 420.1h0M666.3 417.2h0M892.4 412.1h0M917.1 411.9h0M603.5 421.5h0M891.8 411.8h0M856.9 412.2h0M618.8 419.6h0M843.9 413.8h0M760.4 421h0M690.6 418.1h0M776.4 416.4h0M925.9 414.5h0M816.4 413.2h0M551.2 434.8h0M819.9 413.7h0M650.5 417.9h0M741.1 416.7h0M742.7 416.4h0M904.4 413.4h0M576.8 433.2h0M830.5 413.6h0M884.2 411.8h0M618.4 420.8h0M800.8 414.6h0M713.3 416.7h0M618.1 420.3h0M723.8 417h0M608 420.6h0M612.2 420.4h0M642.3 419.4h0M580 441.5h0M802.2 413.4h0M655.2 418.3h0M877.9 413h0M654.8 417.9h0M672.4 418.5h0M889.3 411.7h0M747.2 415.7h0M594.1 427.9h0M745.3 416.1h0M939.6 410.9h0M557.5 442.7h0M744.2 416.2h0M588.4 426.4h0M700 418.2h0M905.5 413.4h0M644.1 418.7h0M602.6 420.8h0M831.8 413.7h0M610.7 420.5h0M727.7 416h0M844.2 413.4h0M563 447.1h0M655.2 418.9h0M848.7 413.2h0M784.8 417.7h0M827 415h0M812.7 413.6h0M819.4 413.6h0M765.6 414.6h0M743.5 416h0M575.6 435h0M593.7 424.8h0M859.1 412.6h0M706.8 417.1h0M844.6 413.8h0M869.2 412.6h0M573.2 437.8h0M784.8 413.9h0M676.5 417.1h0M875.4 412.2h0M862.7 413h0M614.2 419.9h0M894.7 414.2h0M552.3 436.8h0M574.5 441.1h0M936.9 414.2h0M699 417.9h0M619.6 419.7h0M750.3 416.7h0M772.6 416.4h0M929.3 413.4h0M822 412.9h0M705.5 417.4h0M910.1 411.5h0M644.2 419.1h0M766.7 416.6h0M771.8 415.1h0M678.5 417.8h0M906.3 412.4h0M604.2 422.8h0M632.7 436.4h0M771.9 416.1h0M754.2 415.4h0M649.4 420.3h0M870.2 412.2h0M775.2 415.8h0M879.3 414.1h0M723.7 418.2h0M570.6 442.8h0M619.6 420.4h0M811.7 413.2h0M742.4 416h0M568.1 447h0M560.9 445.2h0M704.5 416.9h0M635.5 419.8h0M717.3 418.5h0M903.3 413.6h0M963.5 411h0M866.5 412.4h0M782.8 415.1h0M808.7 415.3h0M869.8 411.7h0M764 415.8h0M956 411.3h0M831.2 414.3h0M831.4 415.9h0M881.8 411.4h0M891 413.6h0M874.2 415.1h0M580.8 429.4h0M614.1 420.4h0M631.6 419.8h0M568 447.6h0M679.7 417h0M945 411.3h0M846.1 412.6h0M554.2 439.5h0M857.3 415.1h0M847.6 413.3h0M568.4 447.9h0M808.2 414.5h0M741.8 416.7h0M568.5 446.5h0M819.1 414.9h0M903.6 412.6h0M791.2 413.8h0M885.9 413h0M676.9 419.6h0M940.5 411.3h0M811.4 415.2h0M599.8 422h0M805.6 414.8h0M860.1 415h0M588 425.4h0M793.7 415.8h0M835.6 413.9h0M834.4 413.4h0M584.6 427.1h0M633.6 419.6h0M716.9 416.5h0M873.9 414h0M942.9 411.1h0M554.1 441.8h0M589.2 428.4h0M669.1 417.1h0M834 413.6h0M800.8 414.1h0M657.4 419.1h0M886.2 412h0M796.9 416.5h0M721.2 416.7h0M946.5 411.6h0M637.9 419.8h0M910.2 411.5h0M933.7 411.5h0M582.2 428.5h0M835.2 415.8h0M963.5 415h0M742 415.9h0M928.6 411.4h0M599.2 424.1h0M947.6 413.3h0M827 413.1h0M699 418h0M850.9 414.9h0M908.5 413.2h0M671.7 419.7h0M698.2 417.1h0M894.8 412h0M627.1 421h0M945.4 414.8h0M852.4 412.1h0M796.2 420.1h0M901.6 416.5h0M895 414.1h0M770.7 416h0M822 413.1h0M627.2 419h0M560.3 455h0M560.4 463.5h0M560.9 468.3h0M554.3 452h0M552.5 443.5h0M553.2 447h0M566.2 459.5h0M567.5 456h0M569 452h0M573.5 444h0M575.5 441.5h0M581 437h0M583.5 443h0M588 434.5h0" fill="none" stroke="#3286de" stroke-width="3.4" stroke-linecap="round"/>
<path d="M562.6 392.5V450" stroke="#3286de" stroke-width="3.6" stroke-linecap="round" fill="none"/>
<path d="M469.8 412C469.8 409.2 469.8 403 469.9 395C470 387 470.2 374.9 470.6 363.9C471 352.9 471.5 342.2 472 329.2C472.5 316.2 473.2 298.8 473.8 285.8C474.4 272.8 474.9 260.6 475.5 251C476.1 241.4 476.9 234.2 477.5 228C478.1 221.8 478.7 218.6 479.3 214C479.9 209.4 480.5 205.5 481.2 200.3C481.9 195.2 482.8 188.3 483.5 183.1C484.2 177.9 485 173 485.7 169.2C486.4 165.4 487.1 162.6 487.8 160.2C488.6 157.8 489.4 155.9 490.2 154.5C491 153.1 491.8 151.9 492.7 151.7C493.6 151.5 494.6 152.8 495.5 153.3C496.4 153.8 497.1 154.7 498 154.5C498.9 154.3 499.9 153.7 500.8 152.1C501.7 150.5 502.6 146.9 503.3 144.7C504 142.5 504.4 140.3 504.9 139C505.4 137.7 505.8 136.9 506.3 136.9C506.8 136.9 507.3 137.2 507.8 139C508.3 140.8 508.8 144.5 509.4 148C510 151.5 510.7 155.8 511.5 160.2C512.3 164.5 513.4 169.9 514.3 174.1C515.2 178.3 516 181.4 516.8 185.6C517.5 189.8 518.1 195.2 518.8 199.5C519.5 203.8 520.3 208.5 520.9 211.7C521.5 214.9 522 217.1 522.5 218.7C523 220.3 523.6 221.2 524.1 221.1C524.6 221 525 220.6 525.4 218.3C525.8 216.1 526.2 211.4 526.6 207.6C527 203.8 527.3 198.2 527.8 195.4C528.3 192.6 528.8 191.3 529.4 190.9C530 190.5 530.8 192.2 531.5 192.9C532.2 193.7 532.8 195.5 533.5 195.4C534.2 195.3 535 193.1 535.6 192.1C536.2 191.1 536.7 189.7 537.2 189.7C537.7 189.7 538.2 190.1 538.8 192.1C539.3 194.1 539.9 197.9 540.5 201.9C541.1 205.9 541.9 211.1 542.5 215.8C543.1 220.5 543.6 224.1 544.1 230C544.6 235.9 545.1 241.7 545.6 251C546.1 260.3 546.5 272.8 547 285.8C547.5 298.8 548 314.7 548.4 329.2C548.8 343.7 549.3 361.6 549.6 372.6C549.9 383.6 549.9 387.1 550 395C550.1 402.9 550.2 415.8 550.2 420" fill="none" stroke="#3286de" stroke-width="3.5" stroke-linecap="round" stroke-linejoin="round" />
</g>
<path d="M731.7 410.3H806.5" stroke="#000" stroke-width="3" stroke-dasharray="12.3 8.5" fill="none"/>
<path d="M767.5 150V197.6M767.5 234.9V392" stroke="#000" stroke-width="6.2" fill="none"/>
<path d="M0 0 Q-4.6 17.6 -22.6 27.6 Q-10.8 26.8 -3.1 21.6 L3.1 21.6 Q10.8 26.8 22.6 27.6 Q4.6 17.6 0 0Z" transform="translate(767.5 135.3)" fill="#000"/>
<path d="M0 0 Q-4.6 17.6 -22.6 27.6 Q-10.8 26.8 -3.1 21.6 L3.1 21.6 Q10.8 26.8 22.6 27.6 Q4.6 17.6 0 0Z" transform="translate(767.5 406.9) scale(1 -1)" fill="#000"/>
<text x="729.0" y="226.6" font-size="30" font-weight="bold" fill="#222" textLength="17.6" lengthAdjust="spacingAndGlyphs">–</text>
<text x="751.2" y="225.2" font-size="27" font-weight="bold" fill="#222" textLength="77" lengthAdjust="spacingAndGlyphs">50 dB</text>
<rect x="851.9" y="65.2" width="92" height="146" fill="#fff" stroke="#222" stroke-width="1.6"/>
<circle cx="871.8" cy="86.6" r="6.3" fill="#c585c0"/>
<text x="889.4" y="97.8" font-size="28.5" fill="#000">0<tspan font-size="30" dy="1.3" dx="-0.2" stroke="#000" stroke-width="0.45">°</tspan></text>
<circle cx="871.8" cy="121.5" r="6.3" fill="#3286de"/>
<text x="889.4" y="132.1" font-size="28.5" fill="#000">10<tspan font-size="30" dy="1.3" dx="-0.2" stroke="#000" stroke-width="0.45">°</tspan></text>
<circle cx="871.8" cy="156.5" r="6.3" fill="#8455cc"/>
<text x="889.4" y="166.6" font-size="28.5" fill="#000">30<tspan font-size="30" dy="1.3" dx="-0.2" stroke="#000" stroke-width="0.45">°</tspan></text>
<circle cx="871.8" cy="191.4" r="6.3" fill="#9090c2"/>
<text x="889.4" y="200.9" font-size="28.5" fill="#000">60<tspan font-size="30" dy="1.3" dx="-0.2" stroke="#000" stroke-width="0.45">°</tspan></text>
<rect x="120.85" y="47.35" width="843.20" height="559.50" fill="none" stroke="#000" stroke-width="3.9"/>
<line x1="118.9" y1="609.2" x2="965.6" y2="609.2" stroke="#222" stroke-width="1.3" />
<line x1="119.5" y1="609.2" x2="119.5" y2="622.5" stroke="#222" stroke-width="1.7" />
<line x1="119.5" y1="45.8" x2="119.5" y2="31.1" stroke="#222" stroke-width="1.7" />
<line x1="145.4" y1="609.2" x2="145.4" y2="618.4" stroke="#222" stroke-width="1.7" />
<line x1="145.4" y1="45.8" x2="145.4" y2="35.0" stroke="#222" stroke-width="1.7" />
<line x1="171.3" y1="609.2" x2="171.3" y2="618.4" stroke="#222" stroke-width="1.7" />
<line x1="171.3" y1="45.8" x2="171.3" y2="35.0" stroke="#222" stroke-width="1.7" />
<line x1="197.2" y1="609.2" x2="197.2" y2="618.4" stroke="#222" stroke-width="1.7" />
<line x1="197.2" y1="45.8" x2="197.2" y2="35.0" stroke="#222" stroke-width="1.7" />
<line x1="223.1" y1="609.2" x2="223.1" y2="618.4" stroke="#222" stroke-width="1.7" />
<line x1="223.1" y1="45.8" x2="223.1" y2="35.0" stroke="#222" stroke-width="1.7" />
<line x1="249.0" y1="609.2" x2="249.0" y2="622.5" stroke="#222" stroke-width="1.7" />
<line x1="249.0" y1="45.8" x2="249.0" y2="31.1" stroke="#222" stroke-width="1.7" />
<line x1="274.9" y1="609.2" x2="274.9" y2="618.4" stroke="#222" stroke-width="1.7" />
<line x1="274.9" y1="45.8" x2="274.9" y2="35.0" stroke="#222" stroke-width="1.7" />
<line x1="300.7" y1="609.2" x2="300.7" y2="618.4" stroke="#222" stroke-width="1.7" />
<line x1="300.7" y1="45.8" x2="300.7" y2="35.0" stroke="#222" stroke-width="1.7" />
<line x1="326.6" y1="609.2" x2="326.6" y2="618.4" stroke="#222" stroke-width="1.7" />
<line x1="326.6" y1="45.8" x2="326.6" y2="35.0" stroke="#222" stroke-width="1.7" />
<line x1="352.4" y1="609.2" x2="352.4" y2="618.4" stroke="#222" stroke-width="1.7" />
<line x1="352.4" y1="45.8" x2="352.4" y2="35.0" stroke="#222" stroke-width="1.7" />
<line x1="378.3" y1="609.2" x2="378.3" y2="622.5" stroke="#222" stroke-width="1.7" />
<line x1="378.3" y1="45.8" x2="378.3" y2="31.1" stroke="#222" stroke-width="1.7" />
<line x1="404.5" y1="609.2" x2="404.5" y2="618.4" stroke="#222" stroke-width="1.7" />
<line x1="404.5" y1="45.8" x2="404.5" y2="35.0" stroke="#222" stroke-width="1.7" />
<line x1="430.8" y1="609.2" x2="430.8" y2="618.4" stroke="#222" stroke-width="1.7" />
<line x1="430.8" y1="45.8" x2="430.8" y2="35.0" stroke="#222" stroke-width="1.7" />
<line x1="457.0" y1="609.2" x2="457.0" y2="618.4" stroke="#222" stroke-width="1.7" />
<line x1="457.0" y1="45.8" x2="457.0" y2="35.0" stroke="#222" stroke-width="1.7" />
<line x1="483.3" y1="609.2" x2="483.3" y2="618.4" stroke="#222" stroke-width="1.7" />
<line x1="483.3" y1="45.8" x2="483.3" y2="35.0" stroke="#222" stroke-width="1.7" />
<line x1="509.5" y1="609.2" x2="509.5" y2="622.5" stroke="#222" stroke-width="1.7" />
<line x1="509.5" y1="45.8" x2="509.5" y2="31.1" stroke="#222" stroke-width="1.7" />
<line x1="535.4" y1="609.2" x2="535.4" y2="618.4" stroke="#222" stroke-width="1.7" />
<line x1="535.4" y1="45.8" x2="535.4" y2="35.0" stroke="#222" stroke-width="1.7" />
<line x1="561.3" y1="609.2" x2="561.3" y2="618.4" stroke="#222" stroke-width="1.7" />
<line x1="561.3" y1="45.8" x2="561.3" y2="35.0" stroke="#222" stroke-width="1.7" />
<line x1="587.3" y1="609.2" x2="587.3" y2="618.4" stroke="#222" stroke-width="1.7" />
<line x1="587.3" y1="45.8" x2="587.3" y2="35.0" stroke="#222" stroke-width="1.7" />
<line x1="613.2" y1="609.2" x2="613.2" y2="618.4" stroke="#222" stroke-width="1.7" />
<line x1="613.2" y1="45.8" x2="613.2" y2="35.0" stroke="#222" stroke-width="1.7" />
<line x1="639.1" y1="609.2" x2="639.1" y2="622.5" stroke="#222" stroke-width="1.7" />
<line x1="639.1" y1="45.8" x2="639.1" y2="31.1" stroke="#222" stroke-width="1.7" />
<line x1="665.0" y1="609.2" x2="665.0" y2="618.4" stroke="#222" stroke-width="1.7" />
<line x1="665.0" y1="45.8" x2="665.0" y2="35.0" stroke="#222" stroke-width="1.7" />
<line x1="690.8" y1="609.2" x2="690.8" y2="618.4" stroke="#222" stroke-width="1.7" />
<line x1="690.8" y1="45.8" x2="690.8" y2="35.0" stroke="#222" stroke-width="1.7" />
<line x1="716.7" y1="609.2" x2="716.7" y2="618.4" stroke="#222" stroke-width="1.7" />
<line x1="716.7" y1="45.8" x2="716.7" y2="35.0" stroke="#222" stroke-width="1.7" />
<line x1="742.5" y1="609.2" x2="742.5" y2="618.4" stroke="#222" stroke-width="1.7" />
<line x1="742.5" y1="45.8" x2="742.5" y2="35.0" stroke="#222" stroke-width="1.7" />
<line x1="768.4" y1="609.2" x2="768.4" y2="622.5" stroke="#222" stroke-width="1.7" />
<line x1="768.4" y1="45.8" x2="768.4" y2="31.1" stroke="#222" stroke-width="1.7" />
<line x1="794.6" y1="609.2" x2="794.6" y2="618.4" stroke="#222" stroke-width="1.7" />
<line x1="794.6" y1="45.8" x2="794.6" y2="35.0" stroke="#222" stroke-width="1.7" />
<line x1="820.8" y1="609.2" x2="820.8" y2="618.4" stroke="#222" stroke-width="1.7" />
<line x1="820.8" y1="45.8" x2="820.8" y2="35.0" stroke="#222" stroke-width="1.7" />
<line x1="847.1" y1="609.2" x2="847.1" y2="618.4" stroke="#222" stroke-width="1.7" />
<line x1="847.1" y1="45.8" x2="847.1" y2="35.0" stroke="#222" stroke-width="1.7" />
<line x1="873.3" y1="609.2" x2="873.3" y2="618.4" stroke="#222" stroke-width="1.7" />
<line x1="873.3" y1="45.8" x2="873.3" y2="35.0" stroke="#222" stroke-width="1.7" />
<line x1="899.5" y1="609.2" x2="899.5" y2="622.5" stroke="#222" stroke-width="1.7" />
<line x1="899.5" y1="45.8" x2="899.5" y2="31.1" stroke="#222" stroke-width="1.7" />
<line x1="925.5" y1="609.2" x2="925.5" y2="618.4" stroke="#222" stroke-width="1.7" />
<line x1="925.5" y1="45.8" x2="925.5" y2="35.0" stroke="#222" stroke-width="1.7" />
<line x1="951.5" y1="609.2" x2="951.5" y2="618.4" stroke="#222" stroke-width="1.7" />
<line x1="951.5" y1="45.8" x2="951.5" y2="35.0" stroke="#222" stroke-width="1.7" />
<line x1="119.5" y1="46.0" x2="103.9" y2="46.0" stroke="#222" stroke-width="1.7" />
<line x1="965.0" y1="46.0" x2="981.0" y2="46.0" stroke="#222" stroke-width="1.7" />
<line x1="119.5" y1="73.9" x2="108.0" y2="73.9" stroke="#222" stroke-width="1.7" />
<line x1="965.0" y1="73.9" x2="975.5" y2="73.9" stroke="#222" stroke-width="1.7" />
<line x1="119.5" y1="101.9" x2="108.0" y2="101.9" stroke="#222" stroke-width="1.7" />
<line x1="965.0" y1="101.9" x2="975.5" y2="101.9" stroke="#222" stroke-width="1.7" />
<line x1="119.5" y1="129.8" x2="108.0" y2="129.8" stroke="#222" stroke-width="1.7" />
<line x1="965.0" y1="129.8" x2="975.5" y2="129.8" stroke="#222" stroke-width="1.7" />
<line x1="119.5" y1="157.8" x2="103.9" y2="157.8" stroke="#222" stroke-width="1.7" />
<line x1="965.0" y1="157.8" x2="981.0" y2="157.8" stroke="#222" stroke-width="1.7" />
<line x1="119.5" y1="186.0" x2="108.0" y2="186.0" stroke="#222" stroke-width="1.7" />
<line x1="965.0" y1="186.0" x2="975.5" y2="186.0" stroke="#222" stroke-width="1.7" />
<line x1="119.5" y1="214.3" x2="108.0" y2="214.3" stroke="#222" stroke-width="1.7" />
<line x1="965.0" y1="214.3" x2="975.5" y2="214.3" stroke="#222" stroke-width="1.7" />
<line x1="119.5" y1="242.5" x2="108.0" y2="242.5" stroke="#222" stroke-width="1.7" />
<line x1="965.0" y1="242.5" x2="975.5" y2="242.5" stroke="#222" stroke-width="1.7" />
<line x1="119.5" y1="270.8" x2="103.9" y2="270.8" stroke="#222" stroke-width="1.7" />
<line x1="965.0" y1="270.8" x2="981.0" y2="270.8" stroke="#222" stroke-width="1.7" />
<line x1="119.5" y1="299.2" x2="108.0" y2="299.2" stroke="#222" stroke-width="1.7" />
<line x1="965.0" y1="299.2" x2="975.5" y2="299.2" stroke="#222" stroke-width="1.7" />
<line x1="119.5" y1="327.6" x2="108.0" y2="327.6" stroke="#222" stroke-width="1.7" />
<line x1="965.0" y1="327.6" x2="975.5" y2="327.6" stroke="#222" stroke-width="1.7" />
<line x1="119.5" y1="355.9" x2="108.0" y2="355.9" stroke="#222" stroke-width="1.7" />
<line x1="965.0" y1="355.9" x2="975.5" y2="355.9" stroke="#222" stroke-width="1.7" />
<line x1="119.5" y1="384.3" x2="103.9" y2="384.3" stroke="#222" stroke-width="1.7" />
<line x1="965.0" y1="384.3" x2="981.0" y2="384.3" stroke="#222" stroke-width="1.7" />
<line x1="119.5" y1="412.2" x2="108.0" y2="412.2" stroke="#222" stroke-width="1.7" />
<line x1="965.0" y1="412.2" x2="975.5" y2="412.2" stroke="#222" stroke-width="1.7" />
<line x1="119.5" y1="440.1" x2="108.0" y2="440.1" stroke="#222" stroke-width="1.7" />
<line x1="965.0" y1="440.1" x2="975.5" y2="440.1" stroke="#222" stroke-width="1.7" />
<line x1="119.5" y1="468.1" x2="108.0" y2="468.1" stroke="#222" stroke-width="1.7" />
<line x1="965.0" y1="468.1" x2="975.5" y2="468.1" stroke="#222" stroke-width="1.7" />
<line x1="119.5" y1="496.0" x2="103.9" y2="496.0" stroke="#222" stroke-width="1.7" />
<line x1="965.0" y1="496.0" x2="981.0" y2="496.0" stroke="#222" stroke-width="1.7" />
<line x1="119.5" y1="524.3" x2="108.0" y2="524.3" stroke="#222" stroke-width="1.7" />
<line x1="965.0" y1="524.3" x2="975.5" y2="524.3" stroke="#222" stroke-width="1.7" />
<line x1="119.5" y1="552.6" x2="108.0" y2="552.6" stroke="#222" stroke-width="1.7" />
<line x1="965.0" y1="552.6" x2="975.5" y2="552.6" stroke="#222" stroke-width="1.7" />
<line x1="119.5" y1="580.9" x2="108.0" y2="580.9" stroke="#222" stroke-width="1.7" />
<line x1="965.0" y1="580.9" x2="975.5" y2="580.9" stroke="#222" stroke-width="1.7" />
<line x1="119.5" y1="609.2" x2="103.9" y2="609.2" stroke="#222" stroke-width="1.7" />
<line x1="965.0" y1="609.2" x2="981.0" y2="609.2" stroke="#222" stroke-width="1.7" />
<text x="96.4" y="56.0" font-size="28" fill="#222" text-anchor="end">0</text>
<text x="92.9" y="169.1" font-size="28" fill="#222" text-anchor="end"><tspan dy="-1.1">-</tspan><tspan dy="1.1">20</tspan></text>
<text x="92.9" y="281.8" font-size="28" fill="#222" text-anchor="end"><tspan dy="-1.1">-</tspan><tspan dy="1.1">40</tspan></text>
<text x="92.9" y="394.9" font-size="28" fill="#222" text-anchor="end"><tspan dy="-1.1">-</tspan><tspan dy="1.1">60</tspan></text>
<text x="92.9" y="507.2" font-size="28" fill="#222" text-anchor="end"><tspan dy="-1.1">-</tspan><tspan dy="1.1">80</tspan></text>
<g transform="translate(25.8 0) rotate(-90)" fill="#222" font-size="29.5">
<text x="-492.2" y="-0.4" font-weight="bold" font-size="30.6" textLength="192.5" lengthAdjust="spacingAndGlyphs">Transmission,</text>
<text x="-289.5" y="0" textLength="29" lengthAdjust="spacingAndGlyphs">|S</text>
<text x="-260.3" y="10" font-size="19.8">21</text>
<text x="-236" y="0">|</text>
<text x="-216.2" y="0" textLength="54.5" lengthAdjust="spacingAndGlyphs">(dB)</text>
</g>
<text x="26.3" y="36.2" font-size="40" font-weight="bold" fill="#666">a</text>
<line x1="249.0" y1="1205.1" x2="249.0" y2="638.8" stroke="#dcdcdc" stroke-width="1.7" stroke-dasharray="41.5 25.2"/>
<line x1="378.3" y1="1205.1" x2="378.3" y2="638.8" stroke="#dcdcdc" stroke-width="1.7" stroke-dasharray="41.5 25.2"/>
<line x1="509.5" y1="1205.1" x2="509.5" y2="638.8" stroke="#dcdcdc" stroke-width="1.7" stroke-dasharray="41.5 25.2"/>
<line x1="639.1" y1="1205.1" x2="639.1" y2="638.8" stroke="#dcdcdc" stroke-width="1.7" stroke-dasharray="41.5 25.2"/>
<line x1="768.4" y1="1205.1" x2="768.4" y2="638.8" stroke="#dcdcdc" stroke-width="1.7" stroke-dasharray="41.5 25.2"/>
<line x1="899.5" y1="1205.1" x2="899.5" y2="638.8" stroke="#dcdcdc" stroke-width="1.7" stroke-dasharray="41.5 25.2"/>
<line x1="121" y1="719.9" x2="965.0" y2="719.9" stroke="#dcdcdc" stroke-width="1.7" stroke-dasharray="41.5 25.4"/>
<line x1="121" y1="881.2" x2="965.0" y2="881.2" stroke="#dcdcdc" stroke-width="1.7" stroke-dasharray="41.5 25.4"/>
<line x1="121" y1="1042.5" x2="965.0" y2="1042.5" stroke="#dcdcdc" stroke-width="1.7" stroke-dasharray="41.5 25.4"/>
<g clip-path="url(#cb)">
<path d="M161 778L162.3 778L163.6 779.7L164.9 779.9L166.2 783.1L167.5 780.5L168.8 783.6L170.1 782.3L171.4 784.1L172.7 784.1L174 786.4L175.3 785.4L176.6 784.1L177.9 785.5L179.2 786.6L180.5 787.8L181.8 786.2L183.1 786.9L184.4 787.9L185.7 787.6L187 789.1L188.3 789L189.6 788.5L190.9 788.8L192.2 789.7L193.5 790.6L194.8 791.9L196.1 790.8L197.4 793.4L198.7 791.8L200 794.9L201.3 793.9L202.6 793.2L203.9 793.3L205.2 794.4L206.5 795.5L207.8 796.8L209.1 794.6L210.4 796.3L211.7 796.8L213 797.8L214.3 797.4L215.6 797.2L216.9 797.4L218.2 798.6L219.5 799.7L220.8 798.6L222.1 799.1L223.4 800.8L224.7 800.9L226 801.6L227.3 800.2L228.6 800.8L229.9 801.1L231.2 802.1L232.5 801.1L233.8 801.7L235.1 804L236.4 804.6L237.7 804.9L239 805L240.3 805.6L241.6 804.7L242.9 805.7L244.2 807.4L245.5 806.7L246.8 807.3L248.1 809.1L249.4 807.8L250.7 810.2L252 810.2L253.3 810.3L254.6 811L255.9 810L257.2 811.4L258.5 810.5L259.8 811.9L261.1 811.3L262.4 811.7L263.7 813.1L265 812.7L266.3 812.5L267.6 812.4L268.9 813.4L270.2 812.6L271.5 813.9L272.8 813.8L274.1 814.9L275.4 813.5L276.7 815.1L278 815.8L279.3 815.3L280.6 816.1L281.9 815.1L283.2 816.5L284.5 816.5L285.8 815.7L287.1 815.3L288.4 816.9L289.7 817.1L291 815.7L292.3 817.1L293.6 815.8L294.9 815.8L296.2 817.5L297.5 816.2L298.8 817.4L300.1 817.1L301.4 816.9L302.7 816.7L304 816.5L305.3 815L306.6 814.9L307.9 812.4L309.2 813.9L310.5 813.9L311.8 814.1L313.1 814.1L314.4 816.3L315.7 818.9L317 820.8L318.3 820.5L319.6 822.1L320.9 822.3L322.2 824.2L323.5 824.7L324.8 825.4L326.1 825.6L327.4 825.8L328.7 826.6L330 827.8L331.3 828.5L332.6 829.4L333.9 830.3L335.2 832.2L336.5 833.8L337.8 834.8L339.1 835.6L340.4 836.1L341.7 836.6L343 838.1L344.3 839.3L345.6 840.5L346.9 842.5L348.2 843.3L349.5 843.7L350.8 845.2L352.1 845.8L353.4 847.8L354.7 848.8L356 849.2L357.3 850.4L358.6 850.9L359.9 853.7L361.2 854.4L362.5 856.4L363.8 856.4L365.1 857.7L366.4 859.7L367.7 860.3L369 862.7L370.3 862.6L371.6 863.5L372.9 866L374.2 867.7L375.5 868.5L376.8 870L378.1 870.9L379.4 871.2L380.7 873L382 876.1L383.3 879.4L384.6 882.9L385.9 885L387.2 888.6L388.5 890.4L389.8 893.2L391.1 894.7L392.4 897.1L393.7 897.6L395 900.1L396.3 903.1L397.6 903.8L398.9 904.7L400.2 904.1L401.5 904.2L402.8 905.1L404.1 905.4L405.4 905.3L406.7 905.8L408 904.6L409.3 905.6L410.6 905.9L411.9 906.2L413.2 908.8L414.5 909.1L415.8 910.7L417.1 910L418.4 912.4L419.7 914.3L421 917.4L422.3 919.6L423.6 921.1L424.9 924L426.2 926.4L427.5 928.8L428.8 931.1L430.1 932.4L431.4 935.7L432 936.7L432 936L431.4 935.7L430.1 933.7L428.8 933.6L427.5 930.4L426.2 929.1L424.9 927.6L423.6 926.7L422.3 924.9L421 922.3L419.7 921.8L418.4 918.4L417.1 919.5L415.8 918.1L414.5 917.3L413.2 916.8L411.9 918.2L410.6 916.6L409.3 917.8L408 916.3L406.7 916.2L405.4 916.2L404.1 916L402.8 917.3L401.5 916.1L400.2 915.4L398.9 915.1L397.6 914.6L396.3 911.8L395 911L393.7 908.4L392.4 907.9L391.1 906.4L389.8 905L388.5 902.2L387.2 901.2L385.9 898.9L384.6 897.1L383.3 896.4L382 893.6L380.7 891.8L379.4 890.7L378.1 890.6L376.8 889.7L375.5 887.6L374.2 887.7L372.9 885.8L371.6 886.1L370.3 885.4L369 884.2L367.7 882.3L366.4 881.9L365.1 880.6L363.8 880.1L362.5 879.1L361.2 876.7L359.9 876.1L358.6 874.9L357.3 873.7L356 872.9L354.7 873.1L353.4 870.5L352.1 870.2L350.8 869.5L349.5 868.3L348.2 868.8L346.9 866.9L345.6 866.9L344.3 866.4L343 865.5L341.7 863.1L340.4 863.4L339.1 861.8L337.8 862.1L336.5 860L335.2 859.8L333.9 859.5L332.6 857.9L331.3 858.1L330 856.7L328.7 855.5L327.4 855.3L326.1 856.1L324.8 854.4L323.5 854L322.2 855L320.9 853.2L319.6 853.2L318.3 852L317 851.7L315.7 850.7L314.4 851.1L313.1 851.5L311.8 850.5L310.5 850.6L309.2 849.7L307.9 849.2L306.6 849.8L305.3 850.2L304 849.2L302.7 848.5L301.4 847.8L300.1 849.3L298.8 848.7L297.5 847.9L296.2 847.6L294.9 847.4L293.6 846.6L292.3 846.8L291 846.7L289.7 846.8L288.4 846.6L287.1 845.8L285.8 844.9L284.5 844.7L283.2 843.8L281.9 843.6L280.6 844.8L279.3 844.8L278 843.5L276.7 843.8L275.4 842.2L274.1 842L272.8 842.6L271.5 841.7L270.2 841.7L268.9 841.4L267.6 839.9L266.3 839.7L265 840.2L263.7 840.6L262.4 838.8L261.1 838L259.8 839.3L258.5 839.2L257.2 838.4L255.9 838.1L254.6 838.2L253.3 837.3L252 837.2L250.7 836.6L249.4 836.6L248.1 835.2L246.8 834L245.5 834.6L244.2 834.3L242.9 832.7L241.6 834L240.3 832.3L239 831.6L237.7 832.9L236.4 832.3L235.1 830.1L233.8 831.5L232.5 830.9L231.2 830.1L229.9 829.4L228.6 827.4L227.3 827.1L226 826.9L224.7 825.8L223.4 825.1L222.1 825.1L220.8 823L219.5 822.8L218.2 823.2L216.9 822.2L215.6 821.7L214.3 819.7L213 819.2L211.7 818.9L210.4 817.8L209.1 817.8L207.8 815.3L206.5 815.2L205.2 813.4L203.9 814.7L202.6 813L201.3 811.6L200 811.5L198.7 809.6L197.4 810.1L196.1 808L194.8 805.2L193.5 806.9L192.2 802.6L190.9 802.8L189.6 803.4L188.3 800.6L187 798.1L185.7 797.8L184.4 796.1L183.1 796L181.8 794L180.5 796L179.2 792.6L177.9 790.3L176.6 788.5L175.3 788.6L174 789.4L172.7 785.9L171.4 784.3L170.1 784.4L168.8 781.6L167.5 780.2L166.2 779L164.9 778L163.6 778.4L162.3 777.3L161 777.1Z" fill="#7bbad4"/>
<path d="M584 959.3L585.3 947L586.6 936.4L587.9 927.1L589.2 918L590.5 909.3L591.8 904.7L593.1 900.5L594.4 898L595.7 897L597 899.9L598.3 901.1L599.6 908.1L600.9 918.7L602.2 931.5L603.5 947.2L603.5 947.9L603.5 960.9L603.5 959.8L602.2 954.8L600.9 949.3L599.6 945.4L598.3 944.9L597 943.8L595.7 942.6L594.4 943.2L593.1 941.8L591.8 943.1L590.5 942L589.2 944.8L587.9 946.6L586.6 950.4L585.3 956L584 965Z" fill="#7bbad4"/>
<path d="M619 914.4L620.3 905.5L621.6 898L622.9 894.1L624.2 892.4L625.5 888.2L626.8 884.6L628.1 881.7L629.4 876.6L630.7 872.9L632 870.8L633.3 859.7L634.6 856.9L635.9 853.7L637.2 850.4L638.5 847.2L639.8 846.1L641.1 841.5L642.4 842.6L643.7 843.1L645 842L646.3 840L647.6 840.2L648.9 840.5L650.2 841.1L651.5 842.2L652.8 840.6L654.1 837.7L655.4 838.6L656.7 837.8L658 839.4L659.3 837.7L660.6 841.2L661.9 842.7L663.2 844.4L664.5 849.6L665.5 858.9L665.5 872.1L664.5 864.3L663.2 856L661.9 853L660.6 848.6L659.3 847.2L658 843.9L656.7 840.8L655.4 844.5L654.1 843.6L652.8 844.3L651.5 844.6L650.2 841.4L648.9 843.9L647.6 843.8L646.3 845L645 842L643.7 843L642.4 847L641.1 849L639.8 851L638.5 852.9L637.2 854.2L635.9 855.3L634.6 859L633.3 867.1L632 873.8L630.7 882.7L629.4 890.6L628.1 896.9L626.8 898.1L625.5 900.8L624.2 905.6L622.9 908.5L621.6 912.5L620.3 918L619 923.1Z" fill="#7bbad4"/>
<path d="M680 860.5L681.3 853.9L682.6 848.5L683.9 845.4L685.2 841.7L686.5 839.5L687.8 835.6L689.1 834.1L690.4 833.5L691.7 832.4L693 831.1L694.3 830.3L695.6 827.8L696.9 827.1L698.2 824.3L699.5 824.1L700.8 822L702.1 820.2L703.4 818.8L704.7 818.7L706 817.4L707.3 815.6L708.6 813.4L709.9 811.9L711.2 809.7L712.5 803.6L713.8 801.9L715.1 804L716.4 809.7L717.7 816.6L719 823.2L720.3 829.3L721.6 832.6L722.9 830.7L724.2 827.4L725.5 825.7L726.8 822.7L728.1 818.9L729.4 815.8L730.7 811.9L732 809.4L733.3 808L734.6 803.5L735.9 802.2L737.2 799.7L738.5 796.3L739.8 792.4L741.1 789.8L742.4 789.4L743.7 792.1L745 794.6L746.3 797.3L747.6 801.2L748.9 802.9L750.2 805.5L751.5 809.6L752.8 811L754.1 813.1L755.4 815.1L756.7 817L758 818.4L759.3 820.6L760.6 823.2L761.9 823.8L763.2 827.2L764.5 828.8L765.8 830.9L767.1 832.6L768.4 834.3L769.7 835.5L771 837.1L772.3 837.6L773.6 841L774.9 841.8L776.2 839.9L777.5 835.9L778.8 834L780.1 830.5L781.4 828.3L782.7 825.2L784 824.2L785.3 820.2L786.6 818.1L787.9 813.9L789.2 811.8L790.5 811.1L791.8 808L793.1 805.9L794.4 803.1L795.7 800.8L797 798.7L798.3 796L799.6 792.2L800.9 790.3L802.2 786.5L803.5 785.6L804.8 781.4L806.1 780.8L807.4 778.8L808.7 775.9L810 774.8L811.3 772.4L812.6 770.2L813.9 771L815.2 768.5L816.5 767.8L817.8 766.9L819.1 767.2L820.4 765.5L821.7 766.4L823 764L824.3 764.2L825.6 764.5L826.9 765.1L828.2 767.1L829.5 766L830.8 767.9L832.1 768L833.4 769.4L834.7 772.5L836 773.5L837.3 776.5L838.6 777.4L839.9 779.6L841.2 781.2L842.5 783.4L843.8 784.5L845.1 787.6L846.4 790L847.7 793.9L849 794.6L850.3 797.5L851.6 799.2L852.9 802.8L854.2 804.4L855.5 806.2L856.8 810.3L858.1 813.8L859.4 817.2L860.7 820.8L862 823L863.3 824.9L864.6 828.7L865.9 825.1L867.2 821L868.5 817.5L869.8 813.7L871.1 809.8L872.4 804.4L873.7 800.9L875 796.8L876.3 794.2L877.6 790.8L878.9 785.7L880.2 781.6L881.5 779L882.8 778.5L884.1 774.8L885.4 772.6L886.7 771.4L888 768.3L889.3 766.3L890.6 764.3L891.9 763.1L893.2 761.6L894.5 760.2L895.8 760.5L897.1 759.4L898.4 758.3L899.7 757.8L901 757L902.3 755.9L903.6 755.5L904.9 755.9L906.2 755.9L907.5 757.7L908.8 759.1L910.1 761.1L911.4 766.2L912.7 770.4L914 776.6L915.3 781.1L915.5 782.4L915.5 789.9L915.3 790.4L914 797.4L912.7 801.5L911.4 800.1L910.1 801.3L908.8 799.5L907.5 799.7L906.2 798.9L904.9 798.2L903.6 798.8L902.3 798.9L901 797.9L899.7 799.4L898.4 798.1L897.1 798.7L895.8 799.1L894.5 800L893.2 800.1L891.9 801.8L890.6 802L889.3 804.1L888 804.5L886.7 806.2L885.4 806.3L884.1 807.2L882.8 810L881.5 810.3L880.2 811.3L878.9 812.4L877.6 814.2L876.3 816.4L875 818.3L873.7 822.1L872.4 824L871.1 827.8L869.8 831.1L868.5 833.5L867.2 835.7L865.9 839.4L864.6 841.3L863.3 839.6L862 839.2L860.7 837.1L859.4 834.7L858.1 834.5L856.8 832.8L855.5 830.1L854.2 828.1L852.9 826.6L851.6 824.6L850.3 822.8L849 821.9L847.7 819.4L846.4 817.1L845.1 815.9L843.8 815L842.5 814L841.2 812.9L839.9 813.5L838.6 812L837.3 812.1L836 813L834.7 813.9L833.4 812.5L832.1 813.5L830.8 814.5L829.5 813L828.2 813L826.9 814.9L825.6 813.3L824.3 815.3L823 814.2L821.7 814.1L820.4 815.8L819.1 816.2L817.8 815.6L816.5 816.8L815.2 816.9L813.9 818.4L812.6 817.4L811.3 819.9L810 819.8L808.7 821.4L807.4 823.3L806.1 823.3L804.8 825.2L803.5 826.3L802.2 828.5L800.9 828.9L799.6 831.3L798.3 833.4L797 834.8L795.7 837.3L794.4 840.4L793.1 842.5L791.8 842.6L790.5 844.8L789.2 847.4L787.9 848.5L786.6 850.9L785.3 851.5L784 853L782.7 856L781.4 858L780.1 859.2L778.8 859.7L777.5 860.8L776.2 863.9L774.9 863.8L773.6 863.1L772.3 862.7L771 860.5L769.7 860.6L768.4 858.4L767.1 857.5L765.8 855.7L764.5 855.5L763.2 853.2L761.9 852.2L760.6 851.8L759.3 851.3L758 851.3L756.7 849.8L755.4 849.9L754.1 848.7L752.8 847.1L751.5 844.4L750.2 843.8L748.9 841L747.6 839.3L746.3 837.7L745 838.3L743.7 835.3L742.4 835.1L741.1 834.7L739.8 836.7L738.5 837.5L737.2 839.6L735.9 840.8L734.6 841.8L733.3 844.1L732 845.2L730.7 848.2L729.4 850L728.1 851.9L726.8 854.5L725.5 855.9L724.2 856.5L722.9 857.6L721.6 859L720.3 858.3L719 855.7L717.7 854.1L716.4 854.1L715.1 852.1L713.8 851.4L712.5 849.6L711.2 850.9L709.9 851.8L708.6 851.5L707.3 852.6L706 854L704.7 856.6L703.4 857.4L702.1 858.2L700.8 860.3L699.5 860.2L698.2 862.3L696.9 865.3L695.6 866.2L694.3 867.6L693 868.7L691.7 870L690.4 869.7L689.1 870.6L687.8 872L686.5 871.7L685.2 872L683.9 871.5L682.6 871.1L681.3 873.9L680 875.1Z" fill="#7bbad4"/>
<path d="M929 784.1L930.3 780.1L931.6 775.2L932.9 772.7L934.2 769.6L935.5 767.8L936.8 764.3L938.1 763.4L939.4 760.9L940.7 758.1L942 757.4L943.3 756.3L944.6 754.1L945.9 755.3L947.2 756.7L948.5 756.4L949.8 756.6L951.1 758.4L952.4 758.3L953.7 758.5L955 760.6L956.3 760L957.6 760.2L958.9 760.8L960.2 762L961.5 761.6L962.8 761.1L964.1 762.4L965.4 763.2L966 763.1L966 801.4L965.4 800.8L964.1 801.9L962.8 802.2L961.5 801.5L960.2 800.9L958.9 800.8L957.6 800.5L956.3 801.3L955 799.7L953.7 799.1L952.4 797.6L951.1 797L949.8 796.7L948.5 795.4L947.2 793.9L945.9 794.3L944.6 794.5L943.3 795L942 796.3L940.7 797.7L939.4 798.9L938.1 801.2L936.8 802.3L935.5 804L934.2 806.5L932.9 804.9L931.6 805.3L930.3 801.1L929 795.2Z" fill="#7bbad4"/>
<path d="M123.3 724.4h0M123.1 716.8h0M123.6 698.8h0M123.7 660.6h0M123.2 661.6h0M123.4 790.1h0M123.1 782.4h0M123.7 769.1h0M123.8 762.7h0M123.1 731.4h0M123.8 757.3h0M123.5 785.5h0M123.7 777.9h0M123.4 749.6h0M123.2 780.2h0M123.2 784.1h0M123.2 725.9h0M123.3 753.1h0M123.9 714.4h0M124.7 704.4h0M123.7 670.5h0M124.6 720.9h0M123.3 697.9h0M124.1 656.1h0M123.9 711.6h0M123.8 711.5h0M123.5 783h0M123.7 784.7h0M124.5 789.6h0M123.3 755.1h0M124.4 770.4h0M124.7 732.3h0M124.7 781.6h0M123.3 760.8h0M124 732.4h0M123.7 734.4h0M124.6 756.9h0M124.2 754.1h0M124.6 740h0M124.8 753.3h0M124.7 783.8h0M124.2 789.7h0M123.3 764.3h0M123.4 755.9h0M124.3 785h0M124.4 770.6h0M124.6 782.6h0M123.6 753h0M125.4 725.5h0M124.8 704.5h0M125 683.6h0M125.2 713.8h0M124.8 704.1h0M124.7 654.3h0M124.2 681.8h0M125.4 708.5h0M125.6 754.7h0M125.4 793.8h0M125 774.1h0M124.4 750.2h0M124.8 792h0M125.5 723.6h0M125 789.8h0M124.9 731.7h0M125.4 767h0M125.3 738.1h0M124.2 758.3h0M124.6 782.1h0M125.6 741.2h0M125.6 768.5h0M124.2 785.2h0M125.6 733h0M124.5 784.3h0M125.5 758.9h0M125.1 742.9h0M125.8 765.4h0M125.1 759.6h0M124.6 796.9h0M125.6 652.3h0M126 712.5h0M126.1 678.7h0M125.5 696.9h0M126.7 669.4h0M125.2 708.1h0M126.2 717.1h0M126.4 700.4h0M126.4 781.1h0M126.7 743.8h0M125.3 779.7h0M125.5 777.8h0M126.4 728.6h0M126.6 762.4h0M126.6 768.3h0M126.2 724.7h0M125.5 775.7h0M125.8 751.9h0M126.6 786.7h0M126.4 755h0M126.4 793.5h0M126.1 736.2h0M125.6 732.6h0M126.3 746.4h0M126.3 767.5h0M125.5 754h0M126.1 756.7h0M126.4 750.6h0M126 763.9h0M126.7 767.3h0M126.6 791.3h0M127.4 720.9h0M127.5 718.2h0M126.3 651.5h0M126.6 728h0M127.3 673.1h0M127.3 709.6h0M127 708.2h0M127.1 708h0M127.4 773.9h0M126.5 745.1h0M126.7 745.7h0M126.7 790.2h0M127.3 771.4h0M126.3 766.2h0M126.4 766.6h0M126.5 739.7h0M127.1 777.8h0M126.9 776.7h0M126.6 777.1h0M127.5 753.4h0M127.7 759.4h0M126.4 788.4h0M127.4 745.4h0M126.4 770.4h0M126.2 747.1h0M127.2 744.7h0M127.5 779.1h0M126.5 786.7h0M127.7 774.1h0M127.3 770h0M126.9 792.3h0M128.5 673.1h0M128 711.1h0M127.9 712.1h0M127.5 651.3h0M127.4 715.9h0M127.4 717.2h0M127.5 694h0M128 765.4h0M127.8 732.2h0M127.9 743.6h0M128.3 753.2h0M127.8 752.4h0M127.9 794h0M128.3 774.8h0M128.4 727.2h0M127.8 738.1h0M127.4 749.2h0M127.5 726.2h0M128.2 771.4h0M128 729.9h0M127.3 758.6h0M127.4 766.9h0M127.8 738h0M127.4 733.8h0M127.9 736h0M127.4 777.6h0M128.2 745.3h0M128.6 774.6h0M127.3 756.5h0M128.2 791.2h0M129.5 712.7h0M129.7 718.7h0M129.7 723.3h0M129.5 700h0M128.4 702.4h0M129 689.5h0M129.3 718.8h0M129.5 693.5h0M128.3 748h0M129.3 763.3h0M128.7 790.3h0M128.8 778.9h0M128.7 728h0M128.9 734h0M128.4 746.2h0M128.8 785.7h0M128.3 776.4h0M129.5 753.4h0M129.2 757.9h0M129.4 778.6h0M128.3 740.2h0M128.8 756.3h0M129.3 756.8h0M129.1 789.2h0M128.2 733.9h0M128.8 774.7h0M128.5 775.4h0M129 791.4h0M128.5 751.7h0M130.2 729h0M129.4 667.6h0M130.4 687h0M130.4 709.3h0M130.4 722h0M129.3 790.6h0M129.7 753.1h0M130.5 740h0M130 753.7h0M129.2 764.7h0M129.7 770h0M129.3 781.4h0M129.7 770.3h0M129.5 789.7h0M129.5 778.3h0M129.9 751.2h0M129.2 751.5h0M129.2 742.9h0M129.9 793.3h0M130.2 782.2h0M130.4 726.2h0M130.2 770.9h0M130.7 766.7h0M130.1 775.5h0M130.1 741.4h0M129.7 794.5h0M129.8 795.4h0M131 657.7h0M131 679.4h0M130.3 655h0M131.6 719.1h0M131.6 648.4h0M130.3 718.6h0M130.9 743.9h0M131.2 730.9h0M131 738.3h0M130.5 765.5h0M130.5 725.8h0M130.9 789.1h0M130.7 742.2h0M131 779.8h0M131 766.3h0M130.8 743.1h0M131.4 757.5h0M131.4 749.1h0M131.8 750.8h0M130.3 766h0M130.9 784.7h0M130.4 747.4h0M131.5 784.6h0M131.7 770.1h0M131.4 791.7h0M131.2 787.4h0M130.5 793.5h0M131.3 750.6h0M130.4 794.2h0M132.2 666.2h0M132.3 670.8h0M132.2 699h0M131.6 707.4h0M132.2 706.9h0M132.7 706.3h0M132.2 771.9h0M131.8 787.5h0M132.1 793.2h0M131.3 762.6h0M132.3 781.7h0M132.5 727.6h0M132.4 752.1h0M132.7 729h0M131.8 786.1h0M132.7 773.2h0M131.8 752.9h0M131.6 775.2h0M132.1 787.3h0M132.1 771.1h0M131.8 792.7h0M131.6 767.8h0M132.4 778.8h0M132.4 792h0M132.5 790.9h0M132.4 779.6h0M132.6 783h0M132.5 759h0M132.5 792.5h0M133.6 696.2h0M133.6 726.2h0M133.8 687.5h0M133.2 721h0M132.9 708h0M133.6 704.7h0M132.9 726.7h0M132.5 723h0M133.1 749.2h0M132.9 732.6h0M133.2 788.2h0M133.5 765.9h0M132.5 792.6h0M133.2 755.8h0M132.3 794.3h0M133.4 792.6h0M132.6 759.5h0M133.7 756.8h0M132.6 793.5h0M132.7 774.1h0M132.9 757.6h0M133 788.3h0M132.2 790.8h0M132.8 747.1h0M132.9 788.5h0M132.7 753.7h0M133.1 774.4h0M133.5 752.4h0M133.6 787h0M132.4 792.6h0M133.7 725.1h0M133.2 719.8h0M133.2 711.6h0M134.6 726.9h0M133.4 723.4h0M134.8 684.4h0M133.9 719.5h0M134.5 777.7h0M134.7 755.6h0M134.4 755h0M134.1 751.2h0M134.6 749.8h0M134.6 754h0M134.5 768.3h0M133.4 729.6h0M134 767.1h0M133.6 796.1h0M133.3 780.6h0M133.7 769.4h0M134.1 736.4h0M134.5 774.6h0M133.6 749.6h0M133.8 733.8h0M134.4 769.2h0M134 754.3h0M134.6 773h0M133.7 754.7h0M134 744.7h0M133.3 777.4h0M133.7 800.7h0M135.5 673.8h0M134.9 727.3h0M135.5 716.9h0M135 711.1h0M135.4 666.4h0M134.6 710.1h0M135.6 723.6h0M134.3 698.6h0M134.8 789.1h0M134.9 735h0M134.7 739.7h0M135.3 782.8h0M134.3 782.2h0M134.5 789.9h0M134.3 794.2h0M134.7 793.3h0M134.6 748.5h0M134.5 773.8h0M134.7 774.2h0M135.7 771h0M134.9 750.9h0M135.3 731.2h0M135.1 746h0M134.6 768.7h0M135.2 782.8h0M135.6 751.3h0M134.9 777.6h0M134.5 747.2h0M134.6 757.2h0M135.4 795.3h0M135.3 794h0M136.4 711.3h0M135.8 680.2h0M135.4 680.2h0M136.4 691.4h0M136.8 723.4h0M135.4 717.4h0M136.4 729.5h0M136.2 655h0M136.4 776.4h0M136.3 765.4h0M136.4 791.4h0M135.8 793.2h0M135.4 780.9h0M136.7 731.3h0M136.6 772h0M136.7 777.2h0M136.7 754.4h0M136.1 749.3h0M136.4 790.6h0M136.4 775.1h0M136.1 783.2h0M136.5 760.5h0M136.1 750.6h0M136 756.3h0M136.1 784.3h0M135.3 769.3h0M136.5 738h0M135.9 754.8h0M136 770.1h0M135.5 793.4h0M136.6 728.3h0M136.8 724h0M137.6 716.8h0M137.6 729.1h0M137.2 667.2h0M136.8 686.4h0M137.7 687.1h0M136.9 791.2h0M136.8 779.9h0M137.3 755h0M137.2 773.9h0M136.8 795.3h0M137.3 783.8h0M137 780.7h0M137.6 734.1h0M136.4 794.5h0M137.1 772.8h0M136.4 740.7h0M137.7 790.3h0M136.3 742.7h0M137.6 768.9h0M137.2 787.8h0M137.1 746.1h0M136.7 771.5h0M136.8 736.7h0M136.4 766h0M137.6 785h0M137.7 730.8h0M137.3 793.7h0M138.6 731.7h0M138.4 669.7h0M137.3 722.8h0M137.7 708.9h0M137.6 711.3h0M137.6 690.9h0M138.6 692.4h0M137.7 646.4h0M137.7 770.7h0M138.3 771.2h0M137.6 733.5h0M138.7 788.5h0M138.5 761.1h0M138.3 766.3h0M137.3 777.6h0M138.1 730.5h0M137.9 782.7h0M138.1 739.2h0M138.4 752.2h0M138.4 755.6h0M138.4 776.4h0M137.3 752.2h0M138.2 783.6h0M137.8 726.7h0M137.8 777.6h0M137.5 752h0M137.9 792.5h0M138.2 774.6h0M138.5 787.1h0M137.4 757.9h0M138.6 795.5h0M139.2 695.5h0M139.4 724.9h0M138.6 714.7h0M139.6 707.1h0M138.9 707.2h0M138.9 709.2h0M138.4 730.4h0M138.6 657.3h0M138.7 789h0M139.3 750.8h0M139.8 794.4h0M139.8 794.5h0M138.6 792.3h0M139 748.9h0M139 764h0M139.7 795.9h0M139.4 737h0M139.3 796.6h0M139.3 785.5h0M139.7 771.6h0M138.7 746h0M139.1 795h0M139.5 766.1h0M139.1 787.5h0M139.7 727.2h0M139.3 774h0M138.7 796.7h0M139.5 761h0M139.6 751.8h0M139.3 796.1h0M140.6 715.6h0M139.9 685.7h0M139.5 722.5h0M139.3 698.1h0M140 716.4h0M139.5 702.3h0M140.2 683.3h0M139.4 662.5h0M139.9 793.1h0M139.9 771.1h0M140.3 750.3h0M139.4 789.5h0M139.2 787.3h0M140.6 758.5h0M140.5 742h0M139.8 788.7h0M140.1 760.5h0M139.5 738.7h0M140.3 797.6h0M140.6 753.3h0M139.9 794.1h0M140.2 763.2h0M140.1 784.3h0M139.4 786.5h0M140.5 766.2h0M140.7 750.6h0M140.4 796.9h0M140.4 786.1h0M139.3 780.8h0M139.2 775.1h0M141.8 712.1h0M141.5 705.6h0M140.4 707h0M141.1 733.2h0M141.1 678.1h0M141.3 725.9h0M140.3 672.7h0M140.7 732.4h0M140.4 730.3h0M141.3 791.2h0M141 754.1h0M141.4 784.3h0M141.6 792.9h0M141.3 778.7h0M141.2 774.8h0M141.2 781.4h0M140.6 773.3h0M140.9 728.7h0M140.9 781h0M141.6 783.3h0M141 771.5h0M141.1 790.7h0M140.5 779.9h0M141.1 774.8h0M140.5 741.3h0M140.5 754.1h0M140.5 768.1h0M141.3 789h0M140.7 779.9h0M140.2 749.3h0M140.8 796.4h0M142.2 727h0M142.4 696h0M141.5 705.4h0M142.7 723.8h0M142 699.3h0M142.8 672.8h0M142.5 678.7h0M141.9 716h0M141.7 697.5h0M141.2 769.1h0M141.9 781.9h0M141.3 776.1h0M141.9 754.1h0M141.7 749.9h0M142.3 794.6h0M142.1 735.2h0M141.6 796.3h0M142.5 768.1h0M142.8 782.2h0M141.5 757.8h0M142.7 769.7h0M141.8 762.4h0M142.3 778.2h0M141.8 746.4h0M142.5 770.4h0M141.2 765.2h0M142.4 752.5h0M141.2 754.8h0M142.2 771.4h0M142.2 772h0M142.3 758.8h0M143.3 647.7h0M143.4 714.6h0M143.7 732h0M142.4 697.9h0M143.4 664.1h0M142.4 729.7h0M143.5 785.4h0M142.3 759.5h0M142.4 781.9h0M142.8 727.6h0M142.3 793.3h0M142.5 778.3h0M143.5 767.4h0M143.7 751.5h0M143 764.4h0M143.7 732h0M142.4 789.4h0M143.2 776.4h0M142.8 792.4h0M143 774.1h0M142.5 775.2h0M143.3 796.5h0M143.5 768.6h0M143.3 777h0M142.5 788.7h0M142.7 788.2h0M143.7 801.3h0M144.7 731.9h0M144.7 708.7h0M144.3 701.4h0M144.7 720.9h0M143.5 684.7h0M144.8 708.9h0M143.7 710.4h0M144.7 790.9h0M143.6 786.2h0M144.3 770.1h0M144.4 751.7h0M143.6 742.6h0M144.6 768.8h0M144.3 787h0M144.6 767.4h0M143.2 776.8h0M143.5 769.7h0M143.3 790h0M144.1 760.1h0M143.4 794.8h0M144.6 748.3h0M144.3 761.2h0M143.4 786h0M143.3 787.3h0M143.8 791.2h0M143.6 766.6h0M143.6 797.6h0M144.1 774h0M144.5 742.7h0M144.3 796.8h0M145.6 715.7h0M145.8 731.8h0M145.4 726.6h0M145.4 685.6h0M144.4 726.3h0M144.6 657.7h0M145.7 726.8h0M145.7 719.9h0M145.2 798.9h0M145.5 786.1h0M144.9 789h0M145.7 799.3h0M145.8 760.9h0M144.7 781.9h0M144.5 788.8h0M145.2 799.2h0M144.9 797.9h0M144.9 740.9h0M144.4 760.4h0M145 732.9h0M145 755h0M145.7 794.2h0M145.6 798.8h0M144.9 752.7h0M145.8 799h0M145.5 774.5h0M144.4 750.1h0M145.3 732.8h0M145.5 760.8h0M145.7 766.4h0M144.9 803.8h0M146 731.1h0M146.6 684.8h0M145.4 724.7h0M146.7 734.6h0M146.2 705h0M146.1 690.3h0M145.3 727.6h0M145.7 715.7h0M145.5 757.2h0M145.9 733.3h0M145.6 738.5h0M146.1 752.3h0M145.4 787.8h0M146.6 766.1h0M145.8 795.4h0M145.9 778.6h0M145.2 798.9h0M145.6 798.2h0M145.6 792.5h0M145.5 740.3h0M146.8 774.4h0M146.5 776.9h0M145.8 748.7h0M146.2 787.5h0M145.8 785h0M146.1 740.6h0M146.5 767.6h0M145.8 786.6h0M145.8 771.9h0M145.9 788.6h0M146.7 800.6h0M147.4 720.2h0M146.3 664.6h0M146.5 718.5h0M147.2 707.7h0M147.7 698.2h0M147.7 682.5h0M146.3 678.5h0M146.6 734.7h0M146.8 782.2h0M147.6 736.4h0M146.2 759h0M147.3 794.5h0M146.4 795.8h0M147.4 798.4h0M146.6 774.3h0M146.4 780.8h0M146.7 735.2h0M146.5 788.6h0M146.8 773.6h0M146.8 794.6h0M146.8 758.9h0M147 788.8h0M147.4 729.3h0M147.3 731.9h0M146.6 784.5h0M146.7 754h0M146.8 777.4h0M146.7 763h0M146.4 735.2h0M146.5 796.8h0M148 731.1h0M148.5 659.6h0M147.6 730.7h0M147.4 720.8h0M147.8 702.5h0M148.6 659.3h0M147.5 689.2h0M147.8 725h0M148.6 735h0M147.7 788.8h0M148.3 775.2h0M148.4 750.1h0M148.7 795.9h0M147.8 800.1h0M148.4 784.1h0M148.3 740.5h0M147.8 770.6h0M148.1 795.2h0M147.4 760h0M148.4 744.6h0M148.5 781.2h0M148.2 748.3h0M148.7 787h0M148.5 786.4h0M147.6 749.6h0M148.1 762.5h0M148 757.2h0M147.7 770.1h0M148.4 732.5h0M147.4 767.4h0M147.9 800.9h0M149.5 728.5h0M149 713.7h0M149.6 727.9h0M149.2 676.5h0M149.7 716.5h0M148.3 728.7h0M148.2 712.5h0M149 685.9h0M149.6 778h0M148.9 800.1h0M149.8 732.9h0M148.5 787.2h0M148.6 796h0M148.3 785h0M149.5 795.6h0M148.4 792.5h0M148.7 751.9h0M149.6 796.4h0M149.3 793.2h0M148.8 772.8h0M148.6 737.2h0M149.5 795.5h0M149.1 797.7h0M149.2 775.1h0M148.3 766.4h0M149.7 768.2h0M149.4 769.7h0M149.1 752.2h0M148.2 773.2h0M148.5 767.3h0M148.8 808.7h0M150.6 692.2h0M149.8 731.3h0M150.5 686.5h0M150.6 690.1h0M149.4 707.9h0M149.5 728.1h0M149.8 692h0M150.4 733h0M149.5 744.4h0M150 778.5h0M150.7 795.3h0M149.5 734.6h0M150.2 798.8h0M149.4 754.7h0M150.5 774h0M150.6 733.8h0M150.1 753.2h0M150 750.1h0M149.5 760.1h0M150.6 799.5h0M150.1 775.8h0M149.6 751.9h0M149.6 759.6h0M150.6 752.1h0M149.7 764.7h0M149.3 777.8h0M149.7 773h0M149.7 756.2h0M150.7 763.5h0M149.3 790.6h0M149.4 797.7h0M150.3 724.2h0M151.6 716.4h0M150.3 733.7h0M150.8 718.5h0M150.4 694.9h0M150.4 685h0M150.7 661.1h0M150.4 730.6h0M150.8 724.9h0M150.9 743.5h0M151.6 745.5h0M151.7 783.9h0M151.4 780.1h0M150.6 769.6h0M151.6 768.6h0M151.4 759.9h0M151.2 736.2h0M151.7 768.2h0M151.2 746.7h0M150.8 746.6h0M150.8 737.5h0M150.3 730h0M150.7 752.9h0M151.7 746.4h0M151.6 762.2h0M151.6 745.8h0M151.3 776.2h0M151.4 753.6h0M151.4 753.3h0M150.4 771h0M150.7 798.5h0M151.6 684.4h0M151.9 702.8h0M151.7 728.8h0M151.5 721h0M152.1 705.9h0M151.8 704.5h0M151.7 706.3h0M151.7 746.8h0M151.3 780.2h0M152.3 776.6h0M152.6 796.7h0M152.2 757.6h0M152 731.6h0M151.3 769.8h0M152 774.9h0M151.4 734.6h0M151.3 783.6h0M152.3 786.4h0M151.3 783.6h0M152.2 787.3h0M151.5 799.7h0M151.8 768.1h0M151.3 800.7h0M151.4 746.1h0M152.5 791.1h0M152.7 760.7h0M152.5 732.8h0M151.2 739.3h0M152.1 758.5h0M152 799.8h0M152.8 733.5h0M153.3 725.4h0M152.3 695h0M152.8 677.3h0M152.8 679.6h0M153.8 718.2h0M153.7 735.5h0M153.5 784.3h0M152.6 779.1h0M153.3 784h0M152.4 744.9h0M153.7 796.3h0M152.4 757.9h0M153.2 769.8h0M152.9 773.6h0M152.7 800.8h0M152.6 783.2h0M153.7 740.6h0M153.5 800.8h0M152.5 770.6h0M152.8 754.6h0M152.5 779.2h0M152.9 789.4h0M153.4 787.6h0M153.3 799h0M153.5 756.9h0M153.2 737.8h0M153.5 745.7h0M153.4 807.5h0M153.9 694.3h0M154.3 716.8h0M154.5 690.4h0M153.6 722.9h0M153.8 733.8h0M154.3 734h0M153.3 796.2h0M154.1 756.7h0M154.3 752.8h0M153.3 773.7h0M153.7 784.7h0M153.5 784h0M153.4 767.8h0M153.9 756.1h0M154.4 800.4h0M153.9 782.5h0M154.5 776.4h0M154.2 774.9h0M154.4 797h0M154.6 745.7h0M154.4 761h0M153.6 763.3h0M153.9 781.8h0M153.5 800.4h0M153.7 789.9h0M154.6 742.2h0M154.2 787.1h0M154.1 800.5h0M155.1 650.6h0M154.7 696.4h0M155 734.5h0M155.4 684.2h0M155.6 733.4h0M155.8 660.7h0M155.3 698.4h0M154.7 738.2h0M155.5 760.7h0M154.8 779.5h0M155.4 793.9h0M155 785.6h0M154.8 771.7h0M155.5 790.8h0M154.6 764.4h0M154.7 740.7h0M154.4 765.2h0M154.8 775.8h0M155 741.9h0M155.2 775.5h0M155.4 794.2h0M154.4 793.8h0M154.3 775.2h0M155.2 777h0M155.8 760.2h0M154.9 770.6h0M154.5 742.1h0M154.2 797.2h0M154.8 801.1h0M156.4 741.9h0M156.3 723.9h0M155.5 738.4h0M156.3 731.4h0M156.2 679.8h0M156.2 718h0M155.6 681.7h0M155.6 670.5h0M155.7 784.7h0M155.7 792.8h0M155.4 744.8h0M155.8 799.6h0M156.1 738.5h0M155.2 784h0M156.2 769.4h0M155.3 793.9h0M155.5 774.8h0M155.3 749h0M156.4 744.7h0M156.6 767.8h0M156 773.9h0M156.3 789.7h0M156.6 796.4h0M156.7 773.3h0M156.1 749.7h0M156.5 783.8h0M156.8 794.9h0M155.8 775.8h0M155.7 801.1h0M156.4 715.6h0M157.4 736.6h0M156.8 724.5h0M156.5 726.6h0M157 737.6h0M157 726.4h0M156.3 709.6h0M156.8 733.7h0M157.8 778.5h0M156.6 749.8h0M156.4 765.4h0M156.3 786.4h0M157 796.9h0M157.4 757.7h0M157.2 755.7h0M157.5 800.2h0M157.5 793.2h0M157.6 799.8h0M156.2 762.3h0M157 771.4h0M157.6 779.9h0M156.2 789.3h0M157.4 759.2h0M157.2 801.4h0M157.8 777.9h0M156.4 785.3h0M157.2 789.2h0M157.7 749.3h0M156.7 797.3h0M158.1 691.9h0M158.5 697.6h0M158.3 717h0M158.6 710.4h0M158.5 740.9h0M158.4 742.9h0M157.3 740.7h0M157.8 792.4h0M157.8 788.3h0M158.2 778.4h0M158.6 777.9h0M158.6 758.4h0M158.2 790.3h0M158.6 780.6h0M157.9 788.9h0M157.8 790.1h0M157.6 799.9h0M158.5 800.7h0M157.6 802.9h0M158 762.5h0M158.5 755.6h0M157.4 775.1h0M157.6 761.9h0M158.6 786.9h0M157.4 804.4h0M158.7 777.1h0M157.3 778.9h0M158.8 801.3h0M158.8 694.3h0M159.2 735.9h0M158.7 720.9h0M159.4 728.7h0M158.4 717.6h0M158.3 708.9h0M159.6 731.7h0M158.3 718.6h0M159 686h0M158.4 769.7h0M159.8 780.8h0M158.4 802.5h0M158.7 746.2h0M158.3 740.6h0M159.7 764.2h0M159.1 797.7h0M159.3 797.1h0M158.7 793.3h0M159 780.9h0M158.2 754.5h0M159.2 786.2h0M158.4 772.2h0M158.8 773.1h0M159.5 798.5h0M159.3 749h0M158.4 761.8h0M158.5 765.4h0M158.3 772.6h0M158.7 772.7h0M160.1 658.9h0M159.3 732.3h0M159.6 692.3h0M160.4 713.7h0M159.6 720.8h0M160.2 710.8h0M160.5 718.8h0M159.7 722h0M160.6 761.1h0M160.7 769.7h0M159.3 802.6h0M160.4 775.3h0M160.1 793.4h0M159.4 771.1h0M160.4 761.8h0M160.5 795.4h0M160 759.8h0M160.2 751.6h0M159.9 800.9h0M159.2 777.3h0M160.7 792.7h0M160.5 797.3h0M160 740.7h0M160.3 755.8h0M160.5 745h0M160.7 768h0M159.3 804h0M160.5 746.3h0M161.2 737h0M161.3 685h0M160.4 702.5h0M161.4 680.2h0M160.9 736h0M161.1 727.1h0M160.3 712.9h0M160.3 775.1h0M161.1 774.6h0M161.6 793h0M161 805.5h0M160.3 780.8h0M160.6 752.2h0M160.5 757.3h0M160.3 800.2h0M161.3 781.1h0M160.9 762.3h0M161.8 757.3h0M160.6 775.4h0M160.6 801.8h0M160.4 769.4h0M161 743.9h0M161.7 787.3h0M161.7 758.4h0M161.7 790.3h0M161.1 766.3h0M161.4 795h0M162.1 726.5h0M162.3 731.1h0M161.3 676.5h0M161.6 656.9h0M162 664.2h0M162.4 734.9h0M162.6 744.8h0M161.7 689.2h0M162.7 724.6h0M162 792.5h0M162.7 801.2h0M161.9 762h0M161.5 755.8h0M161.8 793.7h0M161.3 797.4h0M161.7 780.9h0M161.8 802.5h0M162 785.8h0M162 770.3h0M161.6 789.5h0M162 796h0M162.3 772.1h0M161.5 802h0M161.8 772.2h0M162.7 792.6h0M162 784.3h0M161.4 763.8h0M162.8 792.1h0M162.3 805.9h0M163.7 725.6h0M162.6 744.1h0M163.1 736h0M162.5 733h0M163.5 746.4h0M162.4 685.8h0M163.5 722.2h0M163 744.6h0M162.3 786.6h0M163.6 794.3h0M162.2 766.8h0M163.5 794h0M162.2 788.8h0M162.9 758.1h0M163.4 788.4h0M162.8 792h0M162.4 775.5h0M162.9 802.9h0M162.9 792.8h0M163.5 792h0M162.3 777.2h0M163.7 745.3h0M162.2 802.3h0M162.8 773.2h0M162.3 766.4h0M162.2 756.5h0M162.3 767.1h0M163.4 809.9h0M164.4 744.5h0M163.6 708.6h0M163.3 744.5h0M164.5 751.3h0M163.3 734.3h0M163.4 749.3h0M164.6 742.4h0M164.5 746.8h0M163.4 782.1h0M163.5 745.6h0M163.8 797.4h0M164.6 756.8h0M163.3 760.9h0M164.8 793.2h0M164.7 772.9h0M163.7 757h0M163.5 795.5h0M164.5 761.4h0M163.6 806h0M163.5 776.4h0M164.2 768.2h0M164.7 801.1h0M163.6 806.6h0M163.5 771.7h0M163.8 802.8h0M163.4 767.4h0M163.3 774.7h0M164.1 812.3h0M165.5 692.2h0M164.2 736.4h0M164.5 731.2h0M165.7 737.4h0M165.5 727.6h0M165 697.6h0M165.4 728.9h0M164.5 782.4h0M164.5 803.4h0M164.3 764.2h0M165.6 785.4h0M164.8 769.7h0M165.4 791.7h0M165.1 754h0M165.1 799.7h0M164.5 763h0M165.1 785.9h0M165.5 778.1h0M165.2 756.5h0M164.7 806.4h0M164.4 775.6h0M165.4 775.4h0M165 775.1h0M164.2 807.7h0M165.3 752.6h0M165.8 746.4h0M166.1 701.7h0M165.3 732.7h0M166.6 695.6h0M166.5 726h0M165.7 722.9h0M165.5 713.6h0M165.9 722.2h0M166.6 797h0M166.6 776.7h0M166.7 763h0M166 803.7h0M165.2 796.4h0M165.7 807.1h0M166.1 806.2h0M166.4 780.4h0M166.1 779.4h0M165.3 784.3h0M165.9 796.9h0M166.3 756.9h0M165.5 784.3h0M166.7 777.9h0M165.5 780h0M165.5 790.4h0M166.6 780.7h0M166.2 807.5h0M166.4 645.5h0M167.6 726.4h0M167.4 753.7h0M166.7 723h0M167.8 716.8h0M167.1 651.5h0M166.4 725h0M166.8 793.9h0M166.7 775.9h0M167.1 802.9h0M167.1 770.6h0M166.6 783.8h0M167.1 769.1h0M167.3 783.2h0M166.9 773.6h0M167 776.4h0M166.9 775.8h0M166.3 781.6h0M167.8 780.2h0M166.4 781.5h0M167.2 765.8h0M166.6 803.9h0M166.8 777.9h0M167.1 770.2h0M166.5 785.3h0M167.5 805.5h0M167.8 748.3h0M168.8 675.7h0M167.4 683.1h0M168.7 733.9h0M168.7 740h0M168.3 734.9h0M168.7 739.4h0M168.7 740.9h0M168.4 755h0M168.3 764.9h0M168.3 783h0M168.6 792.3h0M167.7 793.2h0M168.4 791.8h0M167.2 778.7h0M168.4 778.9h0M167.5 804.7h0M167.8 774.6h0M167.5 805.1h0M168 799.1h0M167.5 764.1h0M167.7 770.1h0M168.3 802.9h0M168.4 773.3h0M167.9 770.1h0M167.3 816.5h0M169.8 744.8h0M168.9 752.2h0M169 751.7h0M169.4 743.4h0M169.5 699.4h0M168.8 754.1h0M169.5 744.2h0M168.6 742.8h0M169.6 778.8h0M169.6 807.3h0M168.5 807.1h0M169.7 799.2h0M169.1 787.6h0M168.6 800h0M169.1 755.9h0M168.4 781.4h0M168.2 780.8h0M169.6 759.6h0M169.3 763.7h0M169.6 784.7h0M168.3 807.2h0M169.4 781.3h0M169.2 763.9h0M169.3 770.2h0M168.9 804.7h0M168.9 807.1h0M170.2 716h0M170.1 753h0M170 720.6h0M170.1 757.2h0M169.3 721.6h0M170.2 675.3h0M169.6 755.3h0M170 746.4h0M169.7 795.7h0M169.9 807.7h0M170.4 797.8h0M170 808.5h0M170.6 769.9h0M169.6 795.2h0M170.5 764.2h0M169.5 796.6h0M170.1 777.2h0M169.5 804h0M169.7 787.1h0M170 799.4h0M169.7 778.6h0M169.3 784h0M169.3 794.3h0M170.1 805.4h0M169.8 814.2h0M171.8 664h0M171.1 744.9h0M170.9 725.4h0M171.6 748.2h0M170.4 753.9h0M171.4 718.4h0M171.3 743.4h0M171.6 753.6h0M170.9 781.1h0M170.4 810.5h0M171.4 805.6h0M171.6 788.6h0M171.2 799.4h0M170.3 791.5h0M170.7 765.4h0M171.3 792.7h0M171.2 755.3h0M171.3 800.1h0M170.8 786h0M170.5 808.8h0M171.3 774.2h0M170.3 803.2h0M170.2 808.1h0M171.7 799.3h0M170.5 811.8h0M171.2 745.9h0M172.3 752.4h0M172 753.5h0M172.6 729.1h0M171.7 746.6h0M172.5 709.8h0M171.6 700.3h0M171.6 739.9h0M171.2 801.3h0M172.5 766.7h0M171.4 803.8h0M171.9 766.3h0M171.2 786.9h0M172.5 787.3h0M172.3 771.6h0M171.8 756.2h0M172 780.7h0M171.3 805.3h0M171.5 769h0M172.2 783.5h0M171.8 806.2h0M172.4 806.2h0M172.4 787.6h0M171.4 785.4h0M171.4 810.9h0M173.8 759.1h0M173.6 692.8h0M173.1 740.1h0M172.9 741h0M173.6 743.4h0M173.7 759.5h0M173.6 748.2h0M173.8 758.7h0M172.9 789.6h0M172.7 800.4h0M172.8 787.6h0M173.8 796.9h0M173.2 810.8h0M172.4 760.9h0M173.2 791.5h0M172.3 798.7h0M172.2 780.2h0M173.8 755.5h0M172.3 792.5h0M173.1 771h0M173.7 787.4h0M173.3 808.6h0M172.8 767.4h0M172.8 794.9h0M173.3 809.4h0M174.4 757.7h0M174.6 723.7h0M173.9 669.8h0M173.4 730.7h0M174.2 749.3h0M173.5 758.2h0M173.8 735.9h0M174.5 718.7h0M174.5 810.9h0M174.4 775.9h0M174.2 811.5h0M173.8 788.1h0M174.7 779.9h0M173.6 780.9h0M173.4 797.2h0M174.5 768.3h0M173.3 768.1h0M174.5 782.1h0M173.7 776.5h0M174.3 776.2h0M174.1 776.3h0M174.3 793h0M174.7 770h0M175.3 646.2h0M174.2 723.3h0M175.8 756.9h0M174.4 684.7h0M174.4 667.3h0M175.3 759.5h0M175.3 736.3h0M174.7 777.1h0M174.6 785h0M175 809.8h0M174.6 784.2h0M174.6 807.6h0M175.1 800.9h0M175.4 775.7h0M174.4 788h0M175.8 798.2h0M174.9 770.6h0M175.3 790.4h0M174.3 775h0M175 812.7h0M175.6 790.6h0M175 757.2h0M174.4 809.4h0M176 715.5h0M175.3 714.4h0M175.7 725.6h0M175.4 752.8h0M176.8 683h0M175.7 740.9h0M175.6 732.4h0M176.7 713h0M176.3 772.5h0M175.9 794.1h0M175.7 805.3h0M176.4 810.6h0M175.5 765.9h0M176.1 779.3h0M176.3 775.5h0M176.6 805.1h0M175.9 787.4h0M175.4 806.8h0M175.5 791.2h0M176.3 784.8h0M176.6 779.5h0M176.2 801.5h0M176.6 808.7h0M176.3 819.4h0M177 708.3h0M177.6 754h0M176.4 752.6h0M177.7 710.2h0M176.7 762.6h0M177.6 684.8h0M176.5 719.9h0M177.3 792.2h0M176.8 776.7h0M177 790.2h0M177.2 792h0M176.2 786h0M177.1 770.4h0M177.5 799.2h0M176.8 800.8h0M177.6 791.5h0M177.6 807.1h0M177.6 775.1h0M176.7 774.7h0M176.7 784.5h0M176.3 798.2h0M177.8 789h0M177.4 743.2h0M177.8 764h0M177.4 645.5h0M178.5 707.4h0M177.6 760.4h0M177.3 743.7h0M178.2 808h0M178 794.7h0M177.4 779.4h0M177.8 807.6h0M178.8 780.9h0M178 803.7h0M177.6 786.7h0M177.6 794.9h0M177.4 809.4h0M178.2 784.9h0M178.5 805.4h0M178.2 770.5h0M178.7 795.7h0M178.4 812.2h0M177.9 790.1h0M179.3 742h0M179.1 756.7h0M179.1 747.3h0M178.9 701.3h0M178.5 758.7h0M178.7 763.6h0M178.3 733.8h0M178.9 805.1h0M179.3 807.1h0M179 811.7h0M178.3 785.4h0M179.1 814.2h0M178.5 784.9h0M179.4 805.2h0M179.2 776.3h0M179.1 809.6h0M179.5 808.3h0M179.5 773.2h0M179.6 792.7h0M179 797.8h0M179 794.1h0M179.5 770.8h0M180.2 727.5h0M179.5 741.1h0M179.4 759.3h0M179.3 695.1h0M179.7 754.3h0M180.4 749.9h0M179.9 693.5h0M180.2 721.1h0M180.2 764h0M180 806.7h0M179.4 797.4h0M180.7 808.9h0M180.5 787h0M179.9 814.3h0M180.6 774.8h0M179.8 810h0M180 813.6h0M180.7 792.8h0M180.4 798.9h0M179.4 804.2h0M179.9 771.3h0M179.6 779.5h0M180.6 811.8h0M180.3 752.2h0M181.1 764.7h0M181.8 705.7h0M180.6 689.1h0M181.7 707.5h0M180.5 711.1h0M181.4 765.5h0M181.1 769.7h0M181.4 783.8h0M181.2 801.5h0M180.2 788.6h0M180.6 765h0M181 809.7h0M181.7 791h0M181.5 795.7h0M180.8 770.1h0M180.6 810.9h0M180.5 803.2h0M180.5 782.4h0M181.4 793.3h0M180.3 817.8h0M182.6 725.6h0M181.2 677.5h0M181.4 767.5h0M181.5 760.1h0M182.2 757.4h0M181.4 729.2h0M182 737.9h0M182.8 814.3h0M182.1 803.9h0M182 813.7h0M182.4 811.8h0M182.3 815h0M181.3 812.2h0M181.5 797.6h0M181.7 803.9h0M181.6 796.7h0M182.6 796.5h0M182.3 814.6h0M181.2 775.5h0M182.1 763.3h0M181.5 800.5h0M181.6 818.7h0M182.3 765.2h0M183.7 767.9h0M183.5 739.4h0M182.8 763.3h0M183 710.3h0M183.7 763.3h0M183 703.2h0M182.2 809.3h0M183.7 773.3h0M183.1 787.9h0M183.2 791.9h0M183.2 768.5h0M183.7 799.9h0M183.5 774.3h0M183 776.7h0M183.7 770.2h0M183.2 815h0M182.4 785.3h0M182.7 808.9h0M183.4 788.7h0M182.3 813.8h0M183.9 755.7h0M183.8 754.2h0M183.4 732.9h0M183.7 766.5h0M184.4 701.6h0M184.4 756.3h0M184.2 811.3h0M184.8 798.1h0M183.4 809.1h0M184.1 802.8h0M184.4 781.1h0M184.1 813.8h0M184.7 796.2h0M184.5 805.7h0M184.5 805.2h0M184.5 798.6h0M184.5 769.4h0M184.3 813.2h0M184.1 796.7h0M184.7 818h0M185.7 750.6h0M185.2 762.4h0M184.4 738h0M185.7 719.5h0M184.2 751.2h0M185.1 788.9h0M185.7 801.1h0M185.4 800.1h0M185.1 807.1h0M184.3 771.9h0M185.6 808.7h0M185.7 812.1h0M185.8 814.3h0M184.5 773.2h0M185.6 799.8h0M185.5 809.6h0M185.4 778h0M184.7 790.3h0M184.6 815.4h0M185.9 772.3h0M185.8 771.6h0M186 722.7h0M186 772.2h0M185.6 661.5h0M185.8 735.2h0M185.5 787.8h0M185.3 804.6h0M185.8 791.8h0M185.5 792.6h0M185.8 817.2h0M185.8 799.8h0M185.6 803.2h0M186.8 768.3h0M186.1 776.3h0M186.3 809.2h0M185.6 794.3h0M185.7 807.9h0M186.4 815.2h0M187.5 745.6h0M187.1 772.4h0M187.1 768.6h0M187.4 751.8h0M186.9 773.1h0M186.5 752.7h0M187.5 782.8h0M186.6 805.8h0M187.3 776.9h0M187.4 815.6h0M186.8 802h0M187.6 805.9h0M187.3 779.8h0M186.5 800.3h0M187.1 817.4h0M186.8 808h0M186.4 790.4h0M187.6 792.9h0M187.8 815.6h0M188 712.7h0M187.4 752.3h0M188.7 766.2h0M188.3 759.8h0M188.4 765.8h0M187.3 724.5h0M188.6 778.3h0M188.3 815.7h0M187.9 790.9h0M187.9 785.9h0M188.5 795.7h0M187.7 807.3h0M187.9 786.5h0M188.6 799.3h0M188.8 810.8h0M187.7 790.5h0M188.2 802.2h0M188.7 788.1h0M187.3 816.5h0M188.7 701.5h0M188.7 767.4h0M189.1 770.6h0M189.5 735.8h0M188.6 760.9h0M189.7 734.9h0M188.5 801.6h0M188.7 783.7h0M188.7 815.5h0M189 775.9h0M188.6 811h0M188.4 771.1h0M189.7 770.7h0M188.6 803.7h0M188.5 806.2h0M189.2 812.5h0M188.9 813.6h0M189.5 773.3h0M189.1 815.3h0M190.5 762.3h0M189.6 773.1h0M189.4 774.8h0M190.6 767h0M189.8 755.9h0M190.7 759.8h0M190.2 816.5h0M190.4 790.7h0M189.3 812.6h0M189.9 793.3h0M190.4 807.2h0M189.4 784.6h0M189.4 804.9h0M189.9 814.6h0M189.7 802.1h0M190.5 803.3h0M189.8 773.8h0M190.7 815.6h0M190.8 772.5h0M191.4 771.9h0M190.4 746.5h0M191.2 735.5h0M191.7 762.2h0M191.6 758h0M191.2 786.7h0M191.7 812.3h0M191.2 771.4h0M190.8 802.9h0M190.9 787h0M191.4 781.3h0M191.4 772.3h0M191.8 795.7h0M191.1 809.3h0M190.5 806.8h0M191.5 817h0M191.6 779.4h0M190.4 818.9h0M191.8 776.3h0M192.6 769.2h0M192.1 756.5h0M191.5 753.8h0M191.2 771.1h0M192 767.5h0M191.4 811.4h0M192.4 784.6h0M191.5 809.6h0M191.5 776.9h0M191.2 787.5h0M192 785.1h0M192.8 809.2h0M192.4 814.4h0M191.4 802.9h0M192.5 793.9h0M192 817.3h0M192.1 820.7h0M192.6 776.7h0M193.1 765.3h0M192.4 746.9h0M192.5 698h0M193.7 773.2h0M193.7 805.1h0M193.1 786.6h0M192.6 808.4h0M193.3 776.7h0M192.6 797h0M192.6 797.7h0M193.7 814h0M192.8 792.5h0M193.8 793.2h0M192.4 779.8h0M193 784.2h0M193.2 824.3h0M194.8 748h0M194.5 763.5h0M194.1 775.3h0M194.4 773.3h0M194 774.9h0M193.4 722.1h0M194 775.2h0M193.2 813.6h0M193.6 806.3h0M193.7 799.6h0M194.3 787.3h0M194.6 797.9h0M194.6 804.9h0M194 811.1h0M194.6 813.6h0M193.6 795.7h0M193.4 799.1h0M193.5 818h0M195.1 757.6h0M195.2 712.4h0M194.6 725.7h0M194.3 759.9h0M194.3 763.2h0M194.6 779.9h0M194.2 786.9h0M194.4 815.5h0M195 781.3h0M194.6 808.2h0M195.8 816.2h0M195.3 783.8h0M195.7 819.9h0M195.7 793.4h0M194.7 783.3h0M194.2 801.3h0M194.3 788h0M194.3 824.4h0M195.9 778.5h0M195.7 714.1h0M196.5 779.5h0M195.8 765.8h0M196 776.6h0M196.8 778.1h0M196.4 799.3h0M196.1 799.5h0M195.2 775.6h0M196.1 815.7h0M196.4 803.8h0M196.3 784.6h0M196.4 788.3h0M196.2 780.6h0M195.8 800.2h0M195.3 796.8h0M195.3 818.1h0M197 765.7h0M196.7 749.1h0M197.2 780.8h0M197.8 768.2h0M197.6 777.9h0M196.5 796.1h0M196.5 812h0M196.8 787.9h0M196.7 819.4h0M196.9 792.6h0M196.9 781h0M197 797.3h0M196.8 815.3h0M196.9 797.7h0M196.6 800.2h0M197.5 750.3h0M198.2 771.1h0M197.7 747.2h0M197.6 766.3h0M197.6 813.4h0M198.3 805.9h0M198.3 795.8h0M198.2 787.4h0M198.3 795.7h0M197.5 804.4h0M197.8 811.8h0M198.1 782.1h0M198 805.2h0M197.7 814.1h0M198.8 820.8h0M198.6 780.2h0M198.6 780.3h0M198.6 773.7h0M199.1 775.9h0M199.2 773.5h0M199.8 795.9h0M198.9 783.4h0M199 798.4h0M198.8 812.3h0M198.9 810.3h0M199.4 805.6h0M198.2 792.2h0M199.7 819.1h0M198.3 794.6h0M199.1 819.7h0M199.3 774.5h0M199.7 768.7h0M199.6 751.8h0M200.3 753.6h0M200.7 783.1h0M199.3 821h0M199.3 796.5h0M200.6 800.2h0M199.9 814.3h0M199.6 805.2h0M199.5 810.1h0M199.5 789.6h0M200.1 804.4h0M199.6 786.1h0M200.2 797.4h0M200.8 823.5h0M201.6 779.5h0M200.9 779h0M200.3 781.3h0M200.6 754.6h0M200.6 779.1h0M201.5 797.8h0M200.8 819.7h0M201.1 823.5h0M201.3 823.1h0M200.3 789h0M201 815.8h0M200.8 797.5h0M201.3 813.3h0M200.6 794.9h0M201.7 821h0M201.9 766.6h0M202.5 769.1h0M202.3 774.3h0M202.5 783.5h0M201.7 791.9h0M202.4 804.5h0M201.6 781.5h0M202.3 801.3h0M202.6 789.6h0M201.2 808.5h0M202.8 811.5h0M201.4 797.3h0M202.5 806.2h0M202 830.3h0M202.8 784.2h0M202.6 777.8h0M202.7 781.1h0M203.2 781.7h0M203.6 794.5h0M203.4 794.3h0M202.9 822.2h0M202.9 805.7h0M203.1 792.6h0M202.6 808.4h0M202.7 810h0M203.4 788.9h0M202.3 794.5h0M203.8 761.5h0M204.7 761.3h0M203.6 786.8h0M203.8 743.3h0M203.3 807.5h0M203.3 821h0M204.1 795.8h0M203.4 807.3h0M203.7 796.4h0M204.7 808h0M204.5 819.4h0M203.6 814.8h0M203.3 790.9h0M204.3 776.4h0M204.4 763.7h0M204.4 779.2h0M205.2 787.3h0M205.3 780.1h0M205 822.4h0M204.9 809.4h0M205.8 799.5h0M204.7 822.4h0M204.5 820.8h0M205.7 807.4h0M205.5 815.1h0M204.3 823.8h0M204.6 821.9h0M205.4 783h0M206 775.7h0M206.1 781.2h0M205.9 747.7h0M205.9 820.3h0M206.2 795.5h0M206.5 810.7h0M206.7 803.3h0M205.5 819.1h0M206 803.2h0M206 819.1h0M205.9 798.5h0M206.2 823.5h0M206.3 750h0M206.8 750.3h0M207.6 761.7h0M206.6 786.8h0M206.5 822.1h0M206.4 825.2h0M207.7 806.4h0M206.4 816.1h0M207.7 803.5h0M206.9 817.1h0M206.6 787.5h0M207.6 811.7h0M206.9 824h0M207.9 788.1h0M208 778h0M207.5 780.6h0M207.9 764.5h0M207.4 786.9h0M208.4 818.8h0M208.8 801h0M208.4 810.1h0M207.8 803h0M207.5 817.7h0M207.6 792.2h0M208.2 787h0M208.2 828.5h0M209.5 762.3h0M208.6 756.6h0M208.7 775.3h0M208.5 782.4h0M209.3 802.8h0M208.9 803.8h0M208.6 818.4h0M208.7 803.6h0M208.8 805.3h0M208.3 809.5h0M209.7 811.4h0M209.3 826.3h0M210.8 790.1h0M209.3 779.3h0M209.6 762.5h0M209.7 778.4h0M210.5 800.8h0M210.5 820.9h0M210.7 822.2h0M210 821.5h0M209.7 807.9h0M210 793.7h0M209.3 795.6h0M209.5 824.7h0M210.7 783.1h0M211.1 789.1h0M210.2 781.1h0M211.4 777.6h0M210.5 804.7h0M211.1 813.8h0M211.5 826.3h0M210.7 820.2h0M211.6 822.4h0M211.6 823h0M211.8 813.3h0M211.8 824.4h0M211.3 761.2h0M212.8 789.4h0M211.4 785.9h0M212.4 824.6h0M212.7 806.2h0M211.4 818.3h0M212.4 803.3h0M211.8 815.5h0M211.5 799.3h0M212.6 805.8h0M211.4 823.8h0M212.8 786.5h0M213.6 781.1h0M212.8 781.1h0M212.5 786h0M213.4 793h0M213 803.5h0M213.1 821.3h0M213.2 804.3h0M212.8 809h0M213.3 822h0M212.2 797.9h0M214.4 789.3h0M213.5 781.2h0M214.4 781.3h0M214.5 781.4h0M214.3 815.3h0M213.3 822h0M213.4 820.5h0M213.5 813.2h0M213.6 819.4h0M213.3 818.3h0M214 824.5h0M214.5 788.7h0M214.3 774.5h0M215 785.4h0M215 777.1h0M215.8 804.5h0M214.4 795.3h0M214.5 823.6h0M215 802.2h0M214.5 797.9h0M215.4 800.2h0M215.8 789.4h0M215.3 763.5h0M215.9 786.2h0M215.5 787.4h0M215.5 815.4h0M215.3 826.1h0M216.5 797.6h0M216 810.1h0M216.4 813.1h0M215.3 818.1h0M216.1 828h0M216.8 793.8h0M216.6 792.4h0M217.3 787h0M216.6 817.2h0M217.3 794.2h0M216.7 804.9h0M216.3 820.7h0M217.7 791.1h0M216.4 809.2h0M216.9 826.1h0M218.1 792.4h0M217.9 789.2h0M218.6 790.6h0M217.7 797h0M217.8 795.7h0M218 817.8h0M218.4 800.2h0M217.3 819.3h0M217.6 797.8h0M217.9 826.5h0M219.6 792.1h0M219.1 775.1h0M218.8 764.4h0M218.5 804.1h0M218.9 805.1h0M219 823.8h0M219.2 795.3h0M219.8 823.3h0M219.2 828h0M219.6 775.5h0M219.7 782.4h0M220.4 792.8h0M220 792.5h0M219.5 826.9h0M220.5 806h0M220.6 796.3h0M219.8 798.2h0M220.3 827.9h0M221.3 796.3h0M220.8 783.6h0M221.2 780.5h0M221.1 812.2h0M221.1 817.9h0M221.1 819.6h0M220.3 812.7h0M221.3 799.8h0M220.9 826.7h0M222 796.1h0M222.1 782h0M222.5 793.5h0M222.6 805.4h0M222.5 797.9h0M221.3 826.2h0M222.3 813.8h0M221.3 812.5h0M222.4 828.1h0M222.7 788.4h0M223.5 791.4h0M222.5 793.8h0M222.4 798.7h0M222.7 801.4h0M222.7 813.4h0M222.8 830.3h0M223.7 826.9h0M223.9 768.1h0M224 785.8h0M223.7 786.2h0M224.7 815.1h0M224.2 825.2h0M223.4 820.3h0M224 802.9h0M223.3 830.6h0M224.9 794.3h0M224.9 798.1h0M224.9 797.6h0M225.2 827.1h0M225.5 813.1h0M225.7 797.3h0M224.3 810.4h0M224.9 816.1h0M224.7 830.8h0M226.3 769h0M225.3 791.6h0M226.6 797h0M225.9 796.8h0M226.5 821.4h0M225.8 818.3h0M225.4 796.7h0M227.6 791.5h0M226.6 785.4h0M226.7 799.5h0M227.6 815.6h0M226.9 826h0M227.6 799.8h0M226.6 800.6h0M227.9 785.8h0M227.8 794.3h0M227.7 790.6h0M227.5 812h0M228.5 805.5h0M228.5 804h0M228.5 816h0M228.5 829.8h0M228.3 784.5h0M228.5 798.9h0M228.6 782h0M228.7 812.6h0M228.7 827.1h0M228.3 826h0M229.1 828.9h0M229.6 794.4h0M230.8 792.7h0M230.3 831.6h0M230.5 812.2h0M229.6 831.5h0M230.5 794.9h0M230.7 788h0M230.8 785.1h0M230.6 808.8h0M231.5 825.6h0M230.2 831.4h0M231.9 771.6h0M232.4 785.9h0M231.2 770.5h0M231.5 832h0M233.1 799.3h0M232.6 789.4h0M234.4 793.9h0M233.2 795.6h0M234.6 792.5h0M234.2 787.6h0M235.3 832.4h0M236.1 798.9h0M235.4 786h0M236 831.3h0M236.8 776.9h0M236.8 796.8h0M237.5 802.3h0M236.9 831.8h0M238.2 802.1h0M237.7 798.3h0M238.5 796.2h0M238.2 833.9h0M239.7 803.9h0M239.5 792.7h0M238.8 834h0M239.5 804.4h0M240.2 804.4h0M239.5 832.4h0M240.4 800.6h0M240.4 798.5h0M240.3 840.5h0M241.9 797.8h0M241.5 794.8h0M242.7 805.7h0M243.7 804.2h0M243.4 806.5h0M243.9 798h0M244.8 835h0M244.8 803.8h0M245.2 789.2h0M245.3 834.8h0M245.6 803.2h0M245.4 783.5h0M246.9 803.6h0M247.4 799.3h0M248.4 795.9h0M247.5 797.7h0M248.3 836.2h0M249.5 807.7h0M248.5 802.1h0M249 835.4h0M249.7 808.8h0M250 808.8h0M250.5 837.3h0M251.1 806.4h0M250.9 792h0M251.3 836.6h0M251.5 801.7h0M251.6 799.3h0M253.8 800.9h0M253.5 790.9h0M253.1 837.2h0M253.4 807.8h0M254.3 808.3h0M253.3 837.1h0M255.1 787.5h0M254.6 807.2h0M255.1 838.6h0M256.2 810.8h0M255.3 794.4h0M256.5 808.9h0M256.9 808.8h0M257.4 838.3h0M257.4 806.5h0M257.4 800.8h0M257.6 844.3h0M258.9 804.3h0M258.9 786.4h0M258.4 839.1h0M260.6 809.4h0M260.6 807.7h0M260 839.3h0M261.5 808.9h0M260.8 806.6h0M261.2 840.9h0M261.6 787.4h0M261.7 804.1h0M261.2 842.3h0M262.5 811.1h0M263.2 810.7h0M263.1 839.3h0M263.5 796.9h0M264.3 795.7h0M264.2 839.8h0M265.6 796h0M264.9 807.8h0M265.4 795.5h0M266.4 811.4h0M265.8 840.1h0M266.3 787.7h0M267.3 808.5h0M266.4 840.6h0M267.8 799.9h0M268.8 809.5h0M267.5 840.9h0M268.4 797.5h0M268.9 811h0M269.6 844h0M269.4 790.7h0M270.6 843.9h0M271.8 804.4h0M270.6 805h0M270.8 842.7h0M271.6 812.6h0M272.1 811.6h0M272.2 841.9h0M272.4 786.5h0M273 792.2h0M273.8 845.9h0M274.1 814.2h0M273.9 806.5h0M274.8 842.5h0M274.8 807.1h0M274.7 812.4h0M274.8 843.1h0M276.7 807.1h0M275.7 810.5h0M275.8 842.7h0M276.4 814.7h0M276.7 806.3h0M276.8 843.2h0M278.5 813.7h0M277.8 806.5h0M279.6 779.2h0M279.6 843.5h0M279.5 814.1h0M279.3 795.3h0M279.5 845.2h0M280.5 808.7h0M281.3 807.2h0M281.5 847.5h0M282.1 800h0M281.9 807h0M281.2 847.5h0M282.9 794.7h0M283.6 804.8h0M283 845.6h0M283.3 807.1h0M283.6 809.3h0M284.3 844.7h0M284.3 810.6h0M284.6 815.5h0M284.5 845.2h0M285.2 810.7h0M286.5 811.9h0M287.3 814.2h0M286.3 810.2h0M286.6 845.2h0M288.4 798.1h0M288 815.8h0M287.7 849h0M288.8 815.5h0M289 811.2h0M289.3 813.2h0M289.3 814.1h0M290.7 846.6h0M291 807.1h0M291.6 813.1h0M290.3 846.1h0M292.5 802.1h0M292 815.9h0M291.9 846.4h0M292.5 807.9h0M292.6 815.3h0M293.2 847h0M294.7 815.6h0M293.5 808.1h0M294.1 848.9h0M295.3 811.2h0M294.5 814.7h0M294.6 848.8h0M295.8 814.8h0M295.9 814.7h0M296.3 847.2h0M297.5 796.5h0M297.6 815.9h0M297.8 815.6h0M298.5 814h0M298.4 847.6h0M299.8 794.4h0M299.7 815h0M299.3 849.8h0M299.4 815.3h0M300.7 815.7h0M299.3 851h0M300.6 816.2h0M300.8 800.3h0M301 848.6h0M302.8 816.5h0M302.1 816.8h0M301.3 849.1h0M303 797.7h0M302.5 804.4h0M302.8 802.3h0M303.6 850h0M304.7 806.6h0M303.3 802.2h0M303.4 781.1h0M303.9 781.6h0M304.6 849.6h0M304.3 805.3h0M304.5 787.3h0M304.8 775h0M305.6 797.1h0M304.4 811h0M304.3 849.5h0M306.5 769.2h0M306.8 783.6h0M306.7 798.4h0M306.2 769.2h0M306.7 761.5h0M305.9 850.2h0M306.7 784.6h0M306.5 812.6h0M307.5 812.2h0M307.1 806.6h0M306.6 811.6h0M306.7 849.6h0M307.4 794.6h0M307.3 809.3h0M307.6 783.6h0M308.7 740.5h0M308.3 796.4h0M307.8 803.6h0M308.3 851h0M308.3 774.5h0M308.9 804.3h0M308.5 774.5h0M308.7 808.5h0M308.3 777.3h0M309.3 812h0M308.2 850h0M309.5 808.8h0M310.7 806.4h0M310.6 799.9h0M309.7 778.1h0M309.8 808.9h0M310.3 792.6h0M311 807.2h0M310.7 803.7h0M311.7 732.3h0M311.5 768h0M310.7 804.7h0M311.7 747.4h0M311 850.8h0M312.4 809h0M312.2 744.2h0M311.7 778.2h0M312.7 808.7h0M311.7 778.2h0M312 852.8h0M312.4 806.8h0M312.2 775.6h0M313.6 803.2h0M313.3 808.8h0M312.6 788.4h0M312.9 852.7h0M313.5 785.8h0M313.8 777.5h0M314.6 815.2h0M314.5 799h0M313.8 853.1h0M315.6 812.6h0M314.4 800.4h0M314.7 815.8h0M315.5 796.4h0M314.3 851.2h0M316.1 812.4h0M315.7 818.6h0M316.7 807.3h0M316.6 808.6h0M317.3 814.9h0M316.6 851.8h0M318.1 819.6h0M318.1 804h0M318.7 820.6h0M318.5 818.4h0M318.3 854h0M319.9 806.1h0M319.4 819.4h0M320.8 814h0M320.4 823.1h0M322.7 819.2h0M322.5 820.4h0M322.4 854.8h0M322.5 810h0M323.4 822.7h0M322.9 854.9h0M324.8 820.1h0M323.8 812.5h0M323.2 855.5h0M324.7 822.4h0M325.5 812.7h0M326.7 817.5h0M326.3 815.9h0M325.3 855.3h0M326.5 817.7h0M326.5 825.3h0M327.3 856.5h0M328.7 824.2h0M327.2 817.3h0M327.5 855.7h0M329.2 821h0M329.6 826.8h0M329.3 825.9h0M330.7 825.9h0M330.1 858.9h0M330.4 821.9h0M331.9 828.7h0M332.7 827.4h0M331.9 858.5h0M333.7 823.9h0M332.9 828h0M333.7 830.7h0M334.3 831.6h0M335.3 829.9h0M335 860.3h0M336.6 809.6h0M336 860.6h0M336.7 831.6h0M336.7 827.9h0M336.4 861.5h0M338.7 820.9h0M337.5 861.4h0M338.5 831.9h0M338.7 834.7h0M338.3 870.5h0M340.1 825.2h0M340.8 832.7h0M340.5 834.9h0M340.6 864.5h0M342.7 836.3h0M342.7 865.2h0M343.4 838.3h0M342.3 836.9h0M343.5 865.8h0M343.4 832.8h0M344.1 825.7h0M344.7 865.4h0M345.2 838h0M345.5 839.6h0M346.5 835.5h0M346.5 867.2h0M346.2 840.5h0M347.8 840.8h0M347.9 835.8h0M348.1 840.3h0M347.8 870.3h0M348.2 840.2h0M348.2 869.1h0M349.6 841.3h0M350.8 840.3h0M349.3 869.3h0M351.3 840.5h0M351.3 841.4h0M350.8 869.6h0M351.7 837.4h0M351.5 870.5h0M353.5 838.6h0M352.7 839.1h0M353.4 871.6h0M353.7 847.2h0M354.9 844.3h0M355.7 847.5h0M354.4 872.9h0M356.6 846.7h0M355.4 848.3h0M357.6 847.2h0M357.9 848.7h0M359 850h0M359.5 851.2h0M359.8 875.9h0M359.3 852.6h0M359.2 876.6h0M361.3 850h0M361.6 824.8h0M362.4 854.9h0M361.9 879.5h0M363.4 854.6h0M362.3 856h0M362.3 878.4h0M363.6 851.3h0M365.5 857.8h0M365.9 856.3h0M365.7 881h0M366.2 852.9h0M366.8 859.5h0M367.1 881.9h0M367.6 856.6h0M368.7 855.6h0M369.6 861.8h0M369.5 885.2h0M369.3 862.7h0M369.5 857.3h0M369.9 885.3h0M370.5 863.5h0M371.7 859.5h0M371.5 884.6h0M371.6 859.5h0M372.5 886.8h0M372.5 857.2h0M372.2 856.4h0M373.1 886.6h0M373.5 862h0M374.4 889.6h0M374.9 866.2h0M375.3 866.3h0M376.4 888.7h0M377.1 862.6h0M376.7 891.5h0M377.4 870.4h0M378.3 870.8h0M380.7 872.5h0M379.7 871h0M379.7 893.4h0M381 873.2h0M380.8 892.9h0M381.6 873.4h0M381.7 868.9h0M382 893.8h0M382.8 876.2h0M383 895.1h0M384.5 879.1h0M383.5 897.7h0M384.4 874.7h0M384.3 900.1h0M385.9 881.9h0M385.8 879.9h0M386.9 887.1h0M386.7 900.6h0M388.7 881.8h0M387.5 903.2h0M389.3 889.9h0M389.6 902.9h0M390.4 891.2h0M390.7 906.3h0M390.6 890.7h0M390.9 907.1h0M391.4 896h0M391.3 907.2h0M392.4 894.4h0M393.7 908.1h0M394.3 895h0M393.2 912.4h0M394.7 897.4h0M395.1 911.1h0M395.9 894.9h0M395.7 912.2h0M396.7 903h0M396.9 913.2h0M397.5 902.8h0M399.7 902.7h0M399.4 915.9h0M400 904h0M400.5 917h0M401.7 899.9h0M400.9 916.3h0M401.3 904.6h0M401.8 915.9h0M402.5 905.2h0M403 916.6h0M403.9 894.7h0M403.9 917.6h0M404.8 904.6h0M405.2 918.1h0M405.6 904h0M405.9 916.6h0M407 901h0M407.1 917.3h0M408 901.2h0M408.7 917.8h0M408.7 902.7h0M409.8 903.8h0M411.4 899.9h0M411.3 917.6h0M412.8 900.4h0M412.8 919.6h0M413.3 918h0M414.7 906.6h0M415.6 906.8h0M414.9 919.2h0M416.5 904.1h0M416.1 919.8h0M417.2 908.8h0M416.9 919.1h0M417.6 911h0M418.8 902.7h0M419.5 921.2h0M420.2 911.6h0M420.1 924.6h0M421.6 916.2h0M421.3 922.4h0M422.7 917.1h0M423.3 919.9h0M422.7 925.7h0M424.8 919h0M424.4 927.3h0M425.8 927.8h0M426.5 924.6h0M425.2 929.2h0M427.2 930.7h0M427.5 926.8h0M428.2 931.6h0M428.9 929.3h0M429.1 933.2h0M430.7 932.4h0M430.7 932.3h0M431.4 935.7h0M583.7 958.3h0M585.3 950.2h0M585.2 958h0M585.8 939h0M585.7 933.7h0M586.2 952.4h0M586.9 930.3h0M587 942h0M587.6 946.4h0M587.5 937.2h0M587.8 950.7h0M587.4 924.5h0M587.3 926.5h0M588.4 932.3h0M587.8 946.6h0M588.5 942.6h0M588.1 929.9h0M587.8 945.9h0M589.7 917.7h0M589.3 919.5h0M588.6 919h0M588.5 943.1h0M589.5 923.4h0M588.4 937h0M589.8 945.1h0M588.6 944.3h0M590.7 911.8h0M589.3 907.9h0M590.4 905.5h0M590.7 917.9h0M589.6 933.1h0M590.1 943.3h0M589.3 919h0M589.9 935.5h0M591.2 901.7h0M590.8 903.8h0M590.4 903.5h0M590.2 916.4h0M591.8 924.3h0M591.1 923.9h0M590.3 913.6h0M591.3 923.1h0M590.3 937.6h0M590.6 930.7h0M590.6 945.3h0M591.3 889.8h0M592.5 885.6h0M591.7 890.6h0M592.7 895.4h0M591.8 920.5h0M591.9 932.1h0M592.6 907.9h0M591.2 921.2h0M592.3 927.6h0M591.4 912.9h0M591.6 943.3h0M593.3 888.3h0M592.6 901.9h0M593.2 879.5h0M592.6 888.3h0M592.7 912.5h0M593.3 909.3h0M592.6 922h0M592.6 928.6h0M593.5 918.4h0M592.8 926.7h0M593.2 938.8h0M593.7 935.2h0M592.5 942.7h0M593.7 895.8h0M593.3 872.9h0M593.9 890.2h0M593.9 883.7h0M594.7 877.4h0M593.6 892.9h0M594.2 899.8h0M593.7 940.8h0M593.5 933.7h0M593.9 920.3h0M593.9 930h0M594.8 932.9h0M593.8 922.8h0M594.4 942.6h0M593.9 942.2h0M594.7 890.5h0M595.4 861.4h0M594.4 890.6h0M595.8 894.1h0M595 886.8h0M594.8 897h0M594.3 913.5h0M595.4 907.5h0M594.9 925.6h0M595.2 943.8h0M595.2 921.5h0M595.5 923.5h0M594.9 919.7h0M594.4 914.8h0M594.2 944.3h0M596.2 865.2h0M595.6 855.5h0M595.8 888.1h0M596.6 881.8h0M596 897.5h0M596.8 941.7h0M595.4 911.8h0M595.7 911.4h0M595.7 928.6h0M596.2 927.5h0M596.3 915.8h0M595.3 940.1h0M595.9 922.2h0M597.2 896.7h0M596.5 897.5h0M596.9 894.7h0M596.9 860.4h0M596.4 891.8h0M596.7 936.4h0M597.7 940.4h0M597.2 922.7h0M597.5 906.7h0M596.9 920.1h0M596.4 944.9h0M597.6 904.8h0M597.6 934.8h0M596.5 946h0M598.2 892.3h0M597.3 852.5h0M598.6 880.2h0M598.2 894h0M597.8 942.2h0M597.8 943h0M598 940.4h0M598 933.1h0M598.7 929.5h0M597.6 906.8h0M598.6 933.7h0M599.5 860.8h0M598.8 898.7h0M599.6 899.5h0M598.6 896.2h0M599.1 920.5h0M599.3 930.4h0M599.3 935.7h0M599.7 908.7h0M599.5 909h0M598.8 922.4h0M599.1 920.8h0M599.1 946h0M600.3 903.1h0M599.2 907.8h0M599.9 888h0M599.9 927.4h0M600.1 916.8h0M599.2 932.3h0M599.7 933.6h0M599.3 946.6h0M600.6 944.9h0M599.9 949.6h0M601 908.2h0M600.7 918.8h0M601 943.7h0M600.4 928.4h0M601.2 938.3h0M601.8 926.4h0M601.4 945.3h0M600.7 937.6h0M601 949.3h0M601.8 918.7h0M602.1 945h0M602.2 953.8h0M601.3 942h0M601.7 951.9h0M602 953.1h0M602.6 941.6h0M602.3 957.3h0M603.2 945.9h0M603.4 949.6h0M603.2 957.5h0M619.2 908h0M619.8 925.8h0M620.7 906.1h0M619.4 921h0M619.4 912.5h0M620.7 898.8h0M620.6 916.6h0M621 916h0M621.4 911.8h0M621 917.2h0M622.6 893.3h0M622.4 912.9h0M622.1 908.9h0M621.4 911.5h0M622.7 905.1h0M621.6 893.2h0M622.3 913.3h0M623.2 882.6h0M623.2 908.6h0M623.4 895.8h0M622.4 906.2h0M622.9 895.2h0M623.4 908.9h0M622.5 911.3h0M624.7 880.8h0M624.2 896h0M624.3 905.4h0M623.8 905.7h0M623.7 899.4h0M624.3 902.7h0M624.5 908h0M625 877.4h0M624.3 887h0M624.8 901.8h0M624.3 906.7h0M624.2 887.3h0M625.2 887.6h0M624.9 906h0M625.4 907.4h0M625.3 870.5h0M626.7 875.7h0M626.2 901.2h0M625.4 892.1h0M626.3 896h0M626.3 890.6h0M626.7 891.2h0M626.5 898.5h0M625.5 903h0M627 870.8h0M627 899.3h0M626.6 902.6h0M626.4 899.5h0M627.6 887.1h0M626.9 899.7h0M627.6 885h0M627.2 899.3h0M627 902h0M627.6 874.2h0M628.6 871.2h0M627.4 894.9h0M628.6 879.8h0M627.3 900.4h0M628.3 897.2h0M628.8 894.4h0M627.6 900.8h0M627.6 876.3h0M627.7 896.2h0M627.5 904.2h0M629.1 862.7h0M629.8 869h0M629.8 881h0M628.4 882.9h0M628.7 894.1h0M629.4 885.8h0M629.1 890.9h0M628.9 899h0M629.4 885.1h0M628.4 888.7h0M629.3 897.5h0M630.3 848.4h0M629.4 860.7h0M629.7 861.1h0M629.8 895.7h0M630.1 870h0M629.8 878.1h0M629.9 891.4h0M630.2 894.4h0M630.8 883h0M630.6 887.9h0M629.9 892.5h0M630.6 873.2h0M630.3 885.8h0M630.1 886.7h0M629.2 894.4h0M630.7 852.3h0M630.5 851.6h0M630.7 853.9h0M631.5 850.3h0M630.6 864.4h0M631.8 857.4h0M630.5 854.7h0M630.6 889.7h0M631.4 862.3h0M631.8 891.1h0M631.1 868.5h0M631.2 870.2h0M631.4 892.7h0M631.2 877.4h0M630.6 864.6h0M630.3 865.3h0M630.5 860.7h0M630.4 871.5h0M631.4 891.9h0M631.8 818.5h0M631.6 832.3h0M632.7 834.2h0M632.3 839.6h0M632.7 841h0M632.3 845.1h0M631.6 866.8h0M632.4 875.6h0M632.5 866.1h0M632.3 851.5h0M631.7 843.2h0M631.4 846.9h0M631.8 868.6h0M632 885.4h0M632 865.6h0M631.6 889.5h0M632 858.4h0M632.4 871.4h0M632.2 884.4h0M631.5 852h0M631.3 870.6h0M632.4 872.8h0M632.2 878.8h0M631.6 844.9h0M632.5 770.4h0M632.3 820h0M632.8 817.6h0M632.5 790.2h0M633.5 826.6h0M633.7 828.9h0M633.7 801.3h0M633 842.1h0M632.8 847.6h0M632.8 843h0M633.8 845.4h0M633.7 881.2h0M632.6 854.1h0M633.5 870.7h0M633.5 872.4h0M633 867.2h0M633.6 873.3h0M633.1 850.7h0M632.8 882.2h0M632.8 877.3h0M633 834h0M632.9 865.9h0M633.7 867.9h0M633.6 867.3h0M632.9 842.1h0M632.4 865.7h0M633.5 850.6h0M633.6 861.4h0M633.7 860.9h0M632.4 886.9h0M634.4 814.2h0M633.5 800h0M634.2 820.2h0M633.6 811.9h0M634.1 821.1h0M634.4 815.5h0M633.6 811.5h0M634 815.7h0M633.5 875h0M633.5 860.4h0M633.5 858.8h0M634.4 842.8h0M634.7 873.4h0M633.3 863.4h0M633.9 878.4h0M634.8 877.5h0M634.3 839.9h0M633.4 880h0M634.7 832.8h0M633.8 827.2h0M634.5 869.8h0M633.5 842.1h0M633.6 836.5h0M634.1 873.4h0M633.5 876.1h0M633.2 871.8h0M634.5 848.6h0M634.1 852h0M634.6 873.2h0M633.5 876.9h0M634.1 885h0M634.3 816.8h0M635.5 813.1h0M634.7 809.5h0M634.8 785.7h0M635.8 799h0M634.4 785.6h0M635.7 776.1h0M635.8 821h0M635.6 873.4h0M635.1 855.4h0M634.3 850.1h0M634.4 824.9h0M635.5 854h0M634.2 871.8h0M634.3 841.8h0M634.8 846.8h0M635 864.6h0M634.9 852.2h0M635.7 865.2h0M635 859.8h0M635.6 870.2h0M634.8 865.9h0M634.4 866.4h0M634.3 862.1h0M635 844.4h0M635.8 824.1h0M635.3 841.8h0M635.5 842.8h0M635.3 856.3h0M635.3 847h0M635.3 835.4h0M635 877.5h0M636.4 776.1h0M636.7 797.2h0M635.6 814.8h0M635.8 811.5h0M636.3 792.2h0M636.6 737.9h0M635.6 802.6h0M636.7 811h0M636.3 758.9h0M635.6 873.5h0M636.6 867.7h0M635.6 837.6h0M636.4 863h0M636 849.2h0M636.4 856.9h0M636.7 867.7h0M636 852.8h0M636.1 876h0M635.6 821.5h0M636.5 830.1h0M635.3 831h0M636.7 871.4h0M636.5 843.2h0M636.3 868h0M636.5 845.7h0M636.2 848h0M636.6 873h0M636.1 841.9h0M635.6 835.3h0M636.3 829.1h0M636.3 849.7h0M636.5 875h0M636.5 874.6h0M637 794.5h0M637 789.2h0M637.8 804.8h0M637.8 806.7h0M637.5 803.1h0M637.1 782.8h0M636.3 809.9h0M636.3 810.7h0M637.6 792.2h0M636.9 841.9h0M636.3 832.8h0M637.6 868.4h0M636.9 844.5h0M637.6 830.7h0M636.7 852.7h0M637 867.3h0M637.5 865.5h0M636.6 822.1h0M637.3 851.3h0M637.7 849.1h0M637.3 856.2h0M636.4 870.8h0M637.4 868.5h0M636.9 830.3h0M636.9 850.2h0M637.4 873.7h0M636.8 868.6h0M637.6 819.1h0M636.6 863.5h0M636.6 828.5h0M637.2 824.8h0M637 873.3h0M637.4 805.8h0M638.4 757.9h0M637.3 803.6h0M637.6 814.5h0M637.5 803h0M637.9 778.4h0M637.7 792h0M638.2 724.7h0M637.5 755.5h0M638.7 870h0M638 868h0M637.5 870.5h0M637.3 849.4h0M638.8 834.7h0M637.3 871.9h0M637.3 842.8h0M638.8 849.1h0M637.9 852.7h0M638.3 845.5h0M638.6 816.3h0M638.3 845h0M638.1 829.4h0M637.8 850.1h0M637.7 849h0M637.2 833.1h0M638.2 845.8h0M637.4 853.6h0M637.9 840.5h0M637.6 838h0M637.4 820.6h0M638.7 856.4h0M638.2 870.2h0M639.5 795.2h0M638.6 807.2h0M638.3 806.9h0M639.3 804.3h0M639 793.4h0M638.4 802.1h0M639.5 751.7h0M639.5 779.9h0M639.7 775.6h0M639.5 812.6h0M638.9 838.8h0M639.6 823.1h0M638.4 841.3h0M638.8 858.5h0M638.2 833.3h0M639.7 825.5h0M638.6 865.4h0M639 857.7h0M639.6 846.2h0M638.2 849.2h0M639.3 858.4h0M638.2 812.2h0M639.1 851.2h0M639.6 826h0M639 851.9h0M638.3 845.1h0M638.5 863.6h0M639.2 858.7h0M639 829.1h0M638.8 827.2h0M639.4 853.1h0M639 844.7h0M639.3 872h0M640.6 791h0M640.6 787.7h0M639.6 812.5h0M639.7 760.9h0M640.4 783.6h0M640.7 808.7h0M640.4 803.3h0M639.5 764h0M639.4 807.1h0M640.3 855.5h0M639.9 841.5h0M640.6 821.4h0M640 862.2h0M640.3 840.9h0M639.3 851.5h0M640 867.8h0M640.3 854.8h0M639.9 846.1h0M639.9 853.9h0M639.6 847.6h0M640.4 832h0M639.7 855.1h0M640.8 833.1h0M640.2 861.7h0M640.6 859.2h0M640.3 855.8h0M639.2 867h0M640.1 815h0M639.8 862.9h0M640.6 829.3h0M641.1 797.8h0M640.7 795.2h0M641.2 801.9h0M640.3 809.8h0M641.6 807.6h0M641.3 751.8h0M640.3 795.6h0M640.7 801.9h0M640.5 779.7h0M640.7 856.2h0M640.4 856.2h0M640.2 831.2h0M641.5 863.7h0M640.5 849.6h0M641.7 855.1h0M640.4 839.1h0M641.1 819.5h0M640.3 858.9h0M641.4 835.8h0M640.3 846.2h0M641.7 825.5h0M640.5 854.2h0M640.8 820.3h0M640.7 848.5h0M641.6 858.7h0M641.7 853.5h0M640.6 831.9h0M640.3 849.6h0M640.9 844.9h0M641.1 849.8h0M640.3 867.1h0M642 805.9h0M642.5 759.4h0M642 786.4h0M642.7 802h0M641.5 771.8h0M642.3 778.5h0M642.4 802.4h0M642.4 782h0M641.6 794.3h0M641.4 850.4h0M641.8 857.8h0M641.7 825.8h0M641.7 851.3h0M641.6 818.3h0M641.2 831.5h0M642 840.4h0M641.9 843.6h0M642.4 838.2h0M641.7 832.5h0M641.8 819.6h0M642.6 854.4h0M641.9 854.2h0M642.3 827.9h0M642.7 814h0M641.5 859.8h0M642 821.5h0M642.2 833.5h0M642 852.5h0M641.4 864.3h0M642.2 834.4h0M641.4 864.9h0M643 809.1h0M643.2 775.8h0M643.5 809.7h0M643.1 808.2h0M643.4 776.1h0M643.1 801.9h0M642.5 792.8h0M642.5 809.6h0M642.6 758.5h0M642.6 843h0M643.3 826.2h0M642.3 817h0M642.3 860.8h0M643.1 830.6h0M642.6 843.6h0M642.4 847.1h0M643.1 826.3h0M642.8 857.7h0M642.5 841.9h0M642.6 832.5h0M642.5 843.3h0M642.2 857h0M643.3 828.5h0M643.3 817.9h0M642.6 854.3h0M642.6 857.7h0M643.1 857.9h0M642.8 849.1h0M642.4 852.9h0M643.6 829.7h0M643.3 770h0M643.8 786.6h0M644.4 806.4h0M643.4 806.6h0M643.9 750h0M644 809.6h0M643.9 772.9h0M644.5 719h0M643.4 797.8h0M644.8 804.6h0M644.5 823.4h0M643.9 849.8h0M643.6 862.9h0M643.3 845h0M643.8 856.3h0M643.6 812.4h0M644.7 834.6h0M644.7 858.8h0M644.4 847h0M643.3 840.5h0M643.3 849.1h0M643.7 840.8h0M644.3 821h0M644.5 826.6h0M643.5 839.8h0M644.1 854.8h0M643.5 855.3h0M644.7 825.4h0M644.2 861.1h0M643.6 820.9h0M643.5 832.2h0M643.5 861.7h0M645.4 808.2h0M644.4 681.5h0M645.5 716.5h0M644.6 799.5h0M645.2 788.3h0M645.2 801.7h0M645.8 713.2h0M644.9 805.5h0M644.5 745.9h0M644.6 837h0M645.5 847.3h0M644.9 852.8h0M644.4 840.2h0M645.8 826.2h0M644.9 854.2h0M645.6 853.1h0M644.2 860.2h0M645.3 830.7h0M645.2 854.9h0M644.5 833.6h0M645.1 824.2h0M645.7 841.4h0M645.2 827.1h0M645.4 847.5h0M644.6 854h0M644.8 841.5h0M645.5 842.7h0M645.5 858h0M644.3 853.9h0M645.1 862.2h0M645.4 746.1h0M645.4 745.5h0M645.3 771.5h0M645.3 805.5h0M646.4 791.2h0M645.3 787.9h0M646 802.5h0M645.6 799.7h0M646 792h0M645.7 856.2h0M646.1 853.4h0M646.2 856.5h0M646.2 844.8h0M646.4 848h0M645.2 813.4h0M645.8 821.8h0M646.5 861h0M645.2 834.5h0M645.6 835.8h0M645.2 844.9h0M645.3 846.2h0M645.5 854.9h0M645.6 849.3h0M645.5 843.2h0M645.3 854.1h0M645.2 859.8h0M646.1 821.7h0M646 857h0M646.4 854.6h0M645.9 861.1h0M647.5 798.1h0M646.9 808.2h0M647.3 771.9h0M647 791.6h0M647.7 797.2h0M646.3 804.5h0M647.6 778.1h0M646.5 805.2h0M647.7 749.4h0M647.4 845.5h0M647.7 856.5h0M647.1 856.5h0M646.3 861.7h0M647.5 850.6h0M647.7 854.4h0M646.6 842.6h0M646.6 843.9h0M646.4 821.9h0M646.4 842.2h0M646.8 834.7h0M646.6 819.5h0M646.5 831.9h0M647.7 858.3h0M646.2 835.4h0M647.3 837.4h0M647.8 846h0M646.7 820.4h0M647.1 817.8h0M647 839.6h0M648 785.3h0M647.2 752.5h0M648.2 796.1h0M647.8 789.4h0M647.8 806.2h0M647.7 751.4h0M647.4 804.5h0M647.8 810.5h0M647.6 793.4h0M647.6 794.3h0M648.5 826.8h0M647.6 860.1h0M648.3 837.2h0M647.5 853.7h0M647.2 827.8h0M648.7 828.7h0M647.3 857.7h0M648.7 813h0M648.4 824.2h0M648.5 846.2h0M648.5 832.8h0M648.7 860.2h0M647.8 817.5h0M648 851.3h0M648.2 855.1h0M648.5 839.7h0M647.4 838.7h0M647.4 829.4h0M648.6 826.3h0M648.6 861.8h0M648.4 761.5h0M648.5 810.1h0M649.1 807.8h0M649.3 796.8h0M649.5 766.7h0M648.8 808.6h0M649.4 751h0M648.5 766.6h0M648.8 747.1h0M649.2 859.5h0M648.4 832.2h0M648.5 814.9h0M649.7 858.6h0M648.6 844.3h0M649.7 833.9h0M648.6 825.1h0M648.6 854.1h0M648.9 814.8h0M648.4 824h0M649.5 814.2h0M649.2 847.8h0M649.7 837.9h0M648.4 835.3h0M649.7 827.1h0M648.7 822.4h0M649.4 852.3h0M649.6 859.7h0M649.5 829h0M649.7 821.2h0M648.5 859.4h0M649.8 756.1h0M650.7 809.9h0M650.3 802.4h0M650.7 756.7h0M649.5 784h0M649.5 797.7h0M649.6 705.4h0M650.3 786.2h0M649.3 792.6h0M650.8 826h0M650 816.6h0M649.5 843.6h0M650.1 850.3h0M650.2 822.8h0M650.4 840.7h0M649.7 835.3h0M649.4 819.5h0M650.7 813.5h0M649.7 846.4h0M650 817h0M649.6 835.7h0M649.8 846.2h0M649.2 821.9h0M649.6 833.1h0M649.6 859.8h0M650.2 846.7h0M649.6 844.1h0M650.1 851.5h0M649.9 866.5h0M650.3 744h0M651.4 719.4h0M651.5 796.9h0M650.2 811.2h0M651.1 803.4h0M650.7 726.8h0M650.4 773.9h0M651 802.4h0M650.8 801.6h0M651.7 829.4h0M650.5 841.8h0M650.2 829.3h0M651.2 826.8h0M651.7 851.5h0M650.4 853.7h0M650.7 853.3h0M651.2 843.2h0M650.7 854.3h0M651.6 840.3h0M651.1 830.1h0M651.2 852.1h0M651.7 814.4h0M650.5 846.9h0M650.4 816.7h0M650.5 844.4h0M650.6 858.6h0M650.7 836.4h0M650.2 854.7h0M651.3 859h0M652.7 779.4h0M652.1 784.8h0M651.6 761.2h0M651.8 807.7h0M651.7 811h0M651.4 802.4h0M652.3 806.9h0M651.4 793.4h0M651.7 785.6h0M652.5 839.4h0M651.3 851.2h0M651.3 853.9h0M651.9 839.7h0M652.3 825.3h0M651.7 823.1h0M652.6 812.8h0M652.1 840.1h0M652.5 837.2h0M652.5 858.4h0M652.7 858.7h0M652.7 845h0M651.8 832.5h0M651.8 850.9h0M652.6 835.2h0M652.4 814.3h0M651.9 837.7h0M651.3 842.4h0M651.5 861.8h0M652.3 801.8h0M653.5 715.2h0M652.6 809.4h0M653.6 810.8h0M652.2 795.9h0M652.9 788.4h0M652.5 783.5h0M652.6 795.5h0M653.8 732.5h0M653.5 844.6h0M652.3 849.5h0M652.9 846.8h0M653.3 822.9h0M653.3 845.4h0M653.5 828.3h0M653.5 842.4h0M652.5 839.7h0M653.7 822.3h0M652.7 856h0M653 832.9h0M653.2 847.6h0M653.4 825.7h0M652.3 849.2h0M652.3 852.2h0M652.8 849h0M652.9 858.7h0M652.3 841.9h0M653.3 861.8h0M653.4 796.1h0M653.3 810h0M653.6 788.3h0M653.6 767.9h0M653.7 793h0M653.4 772.1h0M653.5 788h0M654.3 796.2h0M654 708.9h0M654.1 834.4h0M653.4 825.2h0M653.9 854.7h0M654.3 836h0M654.1 854.6h0M654.4 845.7h0M653.9 835.8h0M654 823.3h0M654.6 843h0M653.7 853.5h0M653.3 836.6h0M654.5 843.7h0M653.2 854.2h0M654.3 821.1h0M654.6 818.1h0M653.5 854.1h0M654.8 856h0M653.9 826.2h0M654.3 871.5h0M654.8 738.8h0M654.4 803.8h0M654.9 805h0M654.5 793.7h0M655.5 811h0M655.8 776.3h0M655.4 801.7h0M655.6 719.8h0M654.7 771.1h0M654.8 836.4h0M655 817.7h0M655.1 847h0M654.5 857.2h0M655.6 837.9h0M654.8 848.6h0M654.6 838.1h0M655.5 856.4h0M655.4 841.1h0M654.7 838.1h0M654.4 857.5h0M655.1 847h0M654.9 848.6h0M655.6 855.9h0M655 856.7h0M654.2 834.8h0M654.7 822h0M655.8 837h0M654.8 857.6h0M655.2 712h0M656.4 813.5h0M656.2 765h0M655.5 726.8h0M656.3 785.5h0M655.5 788.5h0M656.5 809.7h0M655.9 761.2h0M655.6 806.2h0M656.5 819.7h0M655.5 837.4h0M656.5 842.8h0M655.7 855.2h0M655.7 839.5h0M655.7 829.7h0M656.1 835.2h0M655.6 857.9h0M655.5 843h0M655.9 820.6h0M656 856.8h0M655.3 852.1h0M655.4 831h0M655.4 828.6h0M656.7 839.1h0M655.5 841.3h0M656.3 837.4h0M656.5 856.9h0M657.8 796.3h0M656.3 799.1h0M656.7 802.3h0M656.6 783.1h0M656.5 762.3h0M657.3 808.5h0M657.4 805.8h0M657.5 812.9h0M657.1 747.7h0M657.2 841.2h0M657 834.2h0M656.8 842.7h0M657.2 843h0M656.5 847.4h0M656.2 840.1h0M656.9 841.7h0M656.5 825.8h0M657 820h0M657.6 843.4h0M656.7 836.6h0M656.8 856.9h0M657 839.2h0M656.4 846.6h0M657.6 839.8h0M657.1 828.5h0M656.6 843.4h0M657.7 868.4h0M657.4 760.1h0M658.1 770.8h0M658.7 811.5h0M658.8 809.7h0M658.6 784.5h0M657.8 801.8h0M657.5 804.7h0M657.3 799.7h0M658.4 789.1h0M658.6 858.4h0M658.4 845.4h0M658 819.6h0M657.3 833.2h0M657.7 855.7h0M657.4 856.5h0M658.7 844.6h0M658.8 822.8h0M657.2 841.8h0M657.8 844.7h0M657.6 829.2h0M657.4 834.9h0M658.5 815.2h0M657.6 843h0M657.3 818.7h0M658 852.5h0M659.6 761.5h0M659.1 777.3h0M659.6 801.9h0M659.5 798.1h0M658.4 800h0M659.7 813.5h0M658.8 816.2h0M658.5 805.1h0M659.3 823.2h0M658.4 826.4h0M659.1 856.4h0M658.9 824.1h0M659 825.1h0M658.6 843.2h0M658.4 816.6h0M659.1 818.7h0M659.4 840.7h0M659.5 818.2h0M658.9 832.9h0M659.2 828h0M659.5 821.8h0M659.7 842h0M658.9 821.4h0M659.4 860h0M660 787.3h0M660 816.8h0M660.8 792h0M659.5 812.9h0M660.1 815h0M660.4 781.6h0M659.8 813.6h0M659.4 809.2h0M660.6 853.8h0M660.5 838.5h0M659.7 858.1h0M660.7 842.9h0M659.5 833.6h0M660.7 820.7h0M660.4 840.3h0M660.7 820h0M659.7 833.9h0M660 847.9h0M660 854.9h0M660.4 831.5h0M660.5 841.1h0M659.4 819.5h0M660.7 829.6h0M660.1 849.9h0M659.8 858.6h0M660.2 818.8h0M661.4 786.6h0M660.8 815.2h0M660.4 774.4h0M661.1 800.6h0M660.8 790.9h0M661.5 803.4h0M661.5 795.8h0M660.8 857.4h0M660.5 845.9h0M660.8 841.3h0M661.3 852.3h0M660.6 843.8h0M661.6 836.6h0M660.3 855.3h0M661.6 852.8h0M660.9 844.4h0M660.9 833.2h0M660.7 825.1h0M661.7 847.8h0M661.4 829.7h0M661.3 836.2h0M661.8 830.6h0M661.7 858.3h0M661.3 814.6h0M662.5 811.7h0M662.4 821.4h0M662.2 819.4h0M661.3 810.7h0M662.4 816.3h0M662 794.6h0M661.6 848.3h0M661.3 854.3h0M662.5 854.5h0M661.8 847.8h0M662.4 840.9h0M662.5 849.7h0M661.5 842h0M661.4 842.7h0M661.8 860.3h0M662.3 842.5h0M661.9 853.7h0M662.2 838h0M661.4 834.5h0M661.8 861.1h0M662.6 830.3h0M662.4 831.2h0M663.7 817.6h0M663 829.4h0M663.8 757.1h0M662.5 852.3h0M663.2 861.4h0M662.8 838.3h0M662.9 833.6h0M663.3 843.1h0M663.2 861h0M662.8 861.6h0M662.6 853.7h0M662.6 846.2h0M663.6 835.6h0M662.8 845.6h0M663.5 830.3h0M664 832.4h0M663.8 829.8h0M664.2 818h0M664.7 852.2h0M663.9 856.9h0M664.7 844.1h0M663.4 860.9h0M664.6 838.8h0M664.3 852.3h0M664.8 864h0M664.1 851.9h0M663.4 855.4h0M664.4 845.1h0M665.7 841.7h0M664.9 868.1h0M664.4 853.8h0M664.8 854.2h0M665.3 854.9h0M664.4 858.1h0M665 856.9h0M665.5 874.3h0M680.1 854h0M680.5 870.4h0M680.7 867.6h0M680.4 875.2h0M680.4 852.9h0M681.8 864.7h0M680.7 860.8h0M680.9 865.5h0M682.1 848.7h0M682.2 858.1h0M681.6 861.1h0M682.2 865.1h0M681.8 863.6h0M681.8 872h0M682.5 838.4h0M683.2 845h0M683.4 862.2h0M682.5 865.7h0M683 867.7h0M683.1 867.2h0M682.8 850.4h0M683.8 842.6h0M684.7 843.6h0M684.2 866.9h0M684.4 871.1h0M683.9 869.2h0M684.4 872.7h0M683.8 870.4h0M684.4 836h0M685.5 839.9h0M685.8 871.5h0M684.8 867.9h0M685.1 859.2h0M685.8 870.6h0M685.3 861.2h0M685.3 836.2h0M686.7 831.9h0M686.7 868.1h0M685.2 844.5h0M685.4 847.1h0M686.2 869.5h0M685.9 865h0M686.4 872.6h0M687.5 832.2h0M686.6 831.3h0M686.9 856.5h0M686.6 858h0M686.3 867.3h0M687.1 860.6h0M687.2 859.4h0M687.1 860.9h0M686.8 872h0M687.9 828.8h0M687.8 835.8h0M687.6 867.7h0M688.3 851.5h0M687.3 860.6h0M688.8 851.3h0M688.1 860.6h0M687.5 837.9h0M688.6 865.8h0M687.5 872.3h0M689.6 831.8h0M688.3 830.5h0M688.7 849.7h0M689.2 863.4h0M689.2 850.3h0M689 843.9h0M689.2 862.2h0M689.7 869h0M689.7 872.2h0M689.4 832.4h0M689.4 833.6h0M690 833h0M689.5 866.9h0M690.2 861.2h0M690 835.1h0M689.8 868.1h0M690.2 859.8h0M690 860h0M689.9 841.5h0M689.3 873.6h0M691.5 831.3h0M691 832.7h0M691 862.8h0M690.6 857.2h0M690.6 871.4h0M691.5 868.4h0M691.1 855.6h0M691.1 860.5h0M691.8 871h0M692.4 806h0M692.5 829.4h0M691.3 854.1h0M692.5 834.9h0M691.6 861h0M692.2 844.1h0M692.5 845.4h0M691.9 857.8h0M691.3 866.3h0M691.5 870.9h0M692.7 824.6h0M693.4 830.3h0M692.4 788.5h0M692.6 857.8h0M693.8 868.3h0M693 869.6h0M693.4 867.7h0M692.2 847.3h0M693.5 841.6h0M692.5 867.7h0M693 869h0M693.4 822.6h0M694.4 824.5h0M694.5 831h0M693.4 848.5h0M694.7 845.3h0M693.3 864h0M694.3 853.8h0M693.9 850h0M693.5 862h0M694.2 858.2h0M694.6 869.1h0M694.8 825.4h0M694.6 827h0M694.9 846.8h0M695.7 836.7h0M694.9 831h0M694.2 857h0M694.7 866.7h0M695.2 849.7h0M694.4 855.2h0M694.4 866.8h0M696.7 822.1h0M695.5 815h0M696.8 826.2h0M696.5 833.1h0M696.3 859.4h0M696.7 848.7h0M696.2 852.3h0M695.9 866.9h0M695.8 837.9h0M696 851.7h0M697 801.9h0M696.7 825.4h0M696.3 850h0M697.4 855.8h0M697.6 847.7h0M697.7 858h0M697.7 861.1h0M697.5 842.3h0M697.1 848.9h0M697.6 864.5h0M697.9 819.5h0M698.2 822.5h0M697.7 821h0M698.6 848.5h0M697.6 840.7h0M698.1 860.3h0M697.8 854.5h0M698.3 859.9h0M697.8 851.2h0M698.7 860.1h0M697.9 862.9h0M698.3 824h0M698.7 820.9h0M698.5 823.8h0M698.8 831.6h0M699.5 849.4h0M699.3 839.1h0M698.7 852.1h0M699.7 850.5h0M698.4 828.7h0M698.5 825.4h0M698.8 861.5h0M699.4 821.6h0M700.1 821.8h0M700.5 806.1h0M700.6 852.5h0M700.3 860h0M699.4 853.9h0M699.3 854.8h0M700.3 849.4h0M700.4 836.9h0M700.2 860.7h0M700.7 816.3h0M701.3 814h0M701.1 850.4h0M700.5 848.3h0M700.6 832.2h0M701.1 829.7h0M701.8 857.4h0M701.3 824.4h0M700.8 856.2h0M701.1 861.7h0M702.6 800.7h0M702 817.9h0M702.6 813.2h0M702.6 844.2h0M701.4 834h0M702.7 829.6h0M702.5 852h0M701.7 858.7h0M701.2 850.7h0M702.8 818h0M702.3 815.5h0M702.6 816.6h0M703.4 827.6h0M702.7 845.8h0M702.8 846h0M703.4 842.8h0M702.8 857.1h0M702.8 846.2h0M702.9 829.1h0M702.3 857.3h0M703.9 812.5h0M703.7 806.5h0M704.4 831.7h0M704.5 844.6h0M703.4 840.5h0M704.4 840h0M703.4 835h0M704.7 851.5h0M704.6 857h0M705.3 814.7h0M705.5 816.9h0M705.2 842h0M705.1 843.2h0M705 851.9h0M704.2 853.1h0M704.5 839.7h0M704.8 842.3h0M705.2 848.5h0M705.4 855.1h0M705.8 815.9h0M705.6 815.8h0M706.5 816.5h0M706 829.2h0M706.3 829.9h0M705.6 843.4h0M705.3 844.7h0M706.6 836.2h0M705.9 850.5h0M706.7 815.5h0M705.7 854.7h0M707.6 815h0M707.6 813.8h0M706.8 814.5h0M707.1 853.4h0M707.4 815.4h0M706.6 850.7h0M707.6 854h0M707.7 841.8h0M706.6 831.5h0M708.1 811.3h0M707.2 810.9h0M707.5 799.8h0M707.7 843.4h0M708.4 815.5h0M707.3 833.7h0M707.6 842.4h0M708.1 837.5h0M708.1 853.9h0M708.4 834.6h0M709.2 813h0M709 810.4h0M708.7 806.6h0M709.5 809.5h0M708.4 847.3h0M709 819.1h0M708.6 824.4h0M709 852.1h0M708.3 840.7h0M708.8 848.9h0M709.5 842.7h0M709.4 857.2h0M710.4 789.7h0M710.5 806.6h0M710.5 804.1h0M709.9 850.7h0M710.4 831.1h0M710.2 816.8h0M710.6 851.8h0M709.5 833.1h0M710.6 826.7h0M710.8 837.6h0M710.2 854.9h0M711 806.3h0M711.2 811h0M710.3 806.2h0M710.8 837h0M711.5 833h0M711.3 822.3h0M710.9 836.1h0M710.6 820.3h0M711.1 814.9h0M710.5 812.6h0M711.4 856.5h0M711.8 798.7h0M712.5 782.2h0M711.3 789.9h0M711.4 791.6h0M712.7 745.3h0M712.1 798.3h0M711.6 844.2h0M712.5 832.7h0M711.3 839.6h0M712.2 815.7h0M711.8 847.5h0M711.7 817.2h0M712.7 832.9h0M711.6 831.5h0M712.7 764.7h0M712.8 765.7h0M713.4 787.8h0M713.5 783h0M713 713.2h0M713.4 787.2h0M712.8 755.5h0M713 764.3h0M713.6 841.8h0M712.6 850h0M712.2 836.9h0M713.6 840.2h0M712.5 807h0M712.9 842.9h0M712.8 811.3h0M712.5 826.3h0M712.5 850.1h0M713.2 773.3h0M714.7 775.6h0M714.1 765h0M713.9 769.3h0M714.1 771.8h0M714.1 788h0M713.7 703.6h0M713.4 791.3h0M713.5 777.3h0M713.5 843.1h0M713.9 845.6h0M714.5 836.9h0M713.7 845.5h0M713.2 816.2h0M713.8 849h0M714 812.4h0M713.8 807.1h0M713.4 854.7h0M714.9 795.3h0M715.6 790.4h0M714.6 753.1h0M714.7 771.1h0M715.2 801h0M715.2 781.9h0M714.7 803.8h0M714.7 796.8h0M714.4 829.9h0M715 821.5h0M714.7 846.6h0M714.2 835.8h0M714.2 844h0M715.7 833.6h0M715.8 811.6h0M714.2 846.9h0M715.5 852.4h0M715.5 808.2h0M716 773.4h0M716.3 801.4h0M715.5 806.6h0M716 788.5h0M715.4 801.7h0M715.9 849.3h0M716.7 811.5h0M716.1 849.6h0M716.2 853.9h0M715.8 837.4h0M716.7 841h0M716.7 822.5h0M715.8 815.5h0M716 855h0M716.3 811.5h0M717.5 812.8h0M717.7 801.6h0M717.7 804.9h0M716.2 781.9h0M717.1 845.3h0M717.4 848.8h0M717.4 822h0M716.9 847.7h0M717.8 841.2h0M717.6 831.4h0M717.6 815h0M718.4 816.6h0M717.6 815.8h0M717.4 848.1h0M718.5 846.8h0M718 825.7h0M718.3 844.4h0M717.3 856.6h0M717.4 835.5h0M718.4 838.6h0M719.6 814h0M719.4 821.8h0M719.6 819.9h0M719.5 833.4h0M719.5 834.6h0M718.9 850h0M719.2 849.1h0M719.7 842.5h0M719.1 845.3h0M720 803.7h0M719.9 821h0M720.8 838.2h0M719.7 841.1h0M719.8 838.5h0M719.2 844.1h0M719.6 847.6h0M719.5 849.4h0M721.7 821h0M720.3 830h0M721.1 849h0M721 846.2h0M720.3 856.7h0M720.8 853.8h0M721.6 858.5h0M722.3 827.3h0M722.1 831.2h0M721.5 859.3h0M722 835.3h0M722.6 835h0M722.2 831h0M723.3 826.9h0M723.7 829h0M723.2 839.8h0M723.7 839.3h0M722.4 857.9h0M723.4 845.6h0M723.6 840h0M723.7 860.5h0M724.7 819.4h0M724.6 825h0M724.5 845.1h0M724.7 847.3h0M724.4 841.6h0M724.6 836.4h0M723.9 840.2h0M724.3 864.9h0M725.5 826.9h0M725.2 826.6h0M724.7 837.9h0M725.5 840.4h0M724.7 852.5h0M724.7 831h0M725.3 837.4h0M725.2 843h0M724.7 856.3h0M726 822.5h0M726.2 823.9h0M726.3 850.8h0M725.3 852.5h0M725.5 828.4h0M725.3 840.6h0M726.1 834.9h0M726.7 826h0M726.3 854.8h0M727.4 820.2h0M726.2 821.7h0M726.4 837.3h0M727.5 846.7h0M726.6 846.8h0M727.5 830.2h0M727.5 834.7h0M727.1 851.9h0M726.7 854.6h0M727.4 813.1h0M727.4 819h0M728.4 818.2h0M727.6 843.8h0M728.8 821.5h0M728.2 831.9h0M727.4 823h0M728.4 834.2h0M727.7 838.2h0M727.9 852.5h0M728.3 809.7h0M728.8 814.4h0M728.9 812h0M729.8 832.5h0M728.4 835.7h0M729 824.8h0M729.4 835.7h0M728.3 838.7h0M728.4 830h0M728.4 849.8h0M730.6 811.9h0M730.7 801.9h0M730.8 829.6h0M729.9 831.6h0M730.5 814.4h0M729.7 831.1h0M729.9 821.4h0M729.8 829.9h0M730.3 848.1h0M730.6 806.9h0M730.2 810.7h0M730.8 806.8h0M731 833.7h0M731.4 830.9h0M730.5 846.5h0M731.1 845.2h0M731.7 817.9h0M730.4 848.3h0M731.8 826.8h0M730.8 847.9h0M731.3 797.2h0M731.2 801.7h0M731.5 802.3h0M731.4 843.1h0M732 838.6h0M731.8 840.4h0M731.2 840.6h0M731.3 829.3h0M732.1 826.3h0M732.3 821.1h0M732.6 851h0M733.8 799h0M733 797h0M733.4 783.1h0M733 820.9h0M732.5 845.4h0M732.6 826.4h0M733.8 831.2h0M732.7 844.9h0M733.3 808.2h0M732.7 846.1h0M734.7 801.4h0M734.7 804.9h0M733.9 795.2h0M733.7 832.3h0M733.8 817.5h0M733.6 829.6h0M734.8 835.8h0M733.4 810.3h0M733.6 815.8h0M733.8 844.4h0M735.2 798.7h0M734.6 803.5h0M735.4 777.5h0M734.8 788.5h0M735 830.1h0M734.6 838.2h0M735.3 823.5h0M734.4 835.2h0M735.5 822.3h0M734.8 841.3h0M734.4 843.1h0M735.1 842.7h0M736.5 778.8h0M736.4 797.9h0M736.1 779.4h0M735.9 824.4h0M736 829.6h0M736.1 815.2h0M735.7 824.6h0M736.7 838.5h0M736.1 836.2h0M736.5 804h0M735.9 840.3h0M737.6 797.8h0M737.5 798.6h0M737.7 791.9h0M736.9 793h0M736.9 804.3h0M736.2 813.1h0M737.3 802.6h0M737 828.6h0M736.6 834.3h0M737.8 819.8h0M736.8 809.9h0M737.6 839.9h0M737.5 792.5h0M737.8 797.6h0M738.4 790.7h0M737.6 791.4h0M737.6 832.2h0M738.4 804.7h0M737.7 832.6h0M737.6 830.5h0M737.7 827.4h0M738 811.9h0M738.5 806h0M738.4 838.5h0M739.7 789.8h0M739.5 784.3h0M739.1 778.6h0M738.6 780.9h0M739.3 835.1h0M739 820.7h0M739.2 806.2h0M739.6 805.7h0M738.7 797.1h0M738.3 808h0M738.2 827h0M739.5 838.1h0M740.2 790.1h0M740.2 760.5h0M739.3 729.8h0M740.1 768.5h0M740.1 763h0M739.5 830.5h0M740.8 807.4h0M740.7 830.9h0M740.2 822.3h0M740.2 837.3h0M739.4 814.4h0M739.3 815.5h0M740.9 786.2h0M740.4 768.2h0M740.3 787.6h0M740.7 791h0M741.3 788.6h0M740.5 820.7h0M740.6 830.1h0M740.9 809.1h0M740.5 835.9h0M741.1 803.7h0M741.2 817.6h0M741.1 803.6h0M741.8 818.1h0M741.5 835h0M741.4 774.8h0M742.7 783.4h0M742.3 778.5h0M742.1 770.5h0M742.8 786.5h0M741.6 826.9h0M742.4 819.1h0M742.5 814.8h0M742.8 813.7h0M742.7 800.2h0M742.3 810.9h0M741.9 804h0M741.5 829.9h0M742.5 836.8h0M743 787.9h0M743.3 785.3h0M742.8 772.6h0M742.3 741.7h0M742.5 767.6h0M742.2 767.5h0M743.6 811.6h0M742.8 824.6h0M742.6 799h0M742.8 824.9h0M742.6 811.2h0M742.8 830h0M743.7 820.9h0M744.6 790.5h0M744.3 788.7h0M744.1 775h0M744.3 789h0M744.5 792.3h0M744 816.5h0M744.4 819.4h0M744.6 803.2h0M743.6 805.1h0M743.2 837.9h0M743.7 834.4h0M743.9 812.1h0M744.2 813.4h0M743.8 837.1h0M745.1 790.4h0M744.6 787.5h0M744.3 787.3h0M744.8 789.1h0M745.6 780.3h0M744.9 834.6h0M745.1 838.7h0M744.7 812.2h0M744.8 795.9h0M745.5 833.8h0M744.3 817.6h0M745.7 833.7h0M744.3 823.4h0M745.2 837.3h0M745.5 789.6h0M746.7 782.3h0M746.1 794.2h0M746.3 797.6h0M746.3 795.6h0M746 807.3h0M745.8 834.9h0M746.6 838.7h0M745.5 831.5h0M745.5 837h0M746 832.4h0M745.4 813.9h0M746.2 839.3h0M747 799h0M747.1 785h0M747.1 797.2h0M746.4 781.9h0M746.9 798.4h0M747.8 813.2h0M747.7 840.6h0M747.4 820h0M746.2 832.1h0M746.2 822.7h0M747.6 838.5h0M746.5 839.9h0M748 796.5h0M748.5 796.8h0M748.5 796.8h0M748.6 792h0M748.5 817.8h0M748 828.4h0M748.7 822.8h0M748.7 816.5h0M747.9 803.9h0M747.2 837.8h0M748.1 826.4h0M748.6 800h0M749.2 797.8h0M749.4 798.5h0M749.6 800.2h0M748.3 838.5h0M748.5 815.6h0M748.4 841.8h0M749.7 840.7h0M748.8 833.6h0M748.7 828.6h0M749.6 827.4h0M748.9 845.2h0M750.5 804.1h0M749.3 802.5h0M749.4 785.8h0M750 830.5h0M750.5 809.8h0M749.4 840.9h0M750.4 844.5h0M750.5 826.6h0M750.1 836.4h0M750.1 844.2h0M750.4 843.6h0M750.3 797.1h0M751.7 803.3h0M751.1 837.5h0M751.7 830.2h0M751.6 828.7h0M750.9 833.3h0M750.9 834.6h0M751 840.1h0M750.7 820.3h0M750.5 846.7h0M752.6 807.2h0M752.4 793.8h0M752.5 807.6h0M752.8 824.8h0M752.6 837.4h0M752.6 815.1h0M751.7 824.1h0M752.6 822.3h0M751.3 843.3h0M751.3 845.9h0M753.2 807.7h0M753.3 808.2h0M752.2 821.2h0M753.5 818.4h0M753.1 820.4h0M752.6 846.1h0M752.7 831.8h0M753.6 835.4h0M753.3 836h0M753.5 790.8h0M754.3 810.6h0M754.3 833.5h0M753.5 839.5h0M754.7 838h0M753.7 842.8h0M753.6 838.4h0M754.5 830.6h0M754.8 848.2h0M754.9 814.5h0M754.7 797.7h0M754.4 829h0M755.8 849.1h0M754.6 836.3h0M755.7 822.3h0M754.2 846.2h0M754.8 833.8h0M754.9 849.1h0M756.3 799.2h0M755.3 797.8h0M756.1 829.6h0M755.9 835.5h0M756.4 845.1h0M755.7 834.2h0M755.9 822.9h0M756.6 828.3h0M755.6 849.5h0M756.5 818h0M757.8 817.8h0M756.5 828.6h0M757.3 827.9h0M756.4 824.9h0M757.2 827.3h0M756.8 848.2h0M757.2 827.8h0M757.6 850.3h0M758 812.8h0M758.1 812.6h0M758.1 837.3h0M757.4 820h0M758.7 827.6h0M757.9 839.9h0M758.1 827.8h0M757.8 850.2h0M758.5 850h0M759 819.8h0M758.8 813.3h0M758.9 852.1h0M759.2 831.3h0M759.1 842.1h0M758.9 840.6h0M759.6 834h0M758.3 842.9h0M758.4 850.9h0M760.1 814.8h0M760.7 820.3h0M759.5 825.7h0M759.7 849.7h0M760.4 836.5h0M760.2 833.6h0M760.6 837.6h0M759.5 851.2h0M760.6 822h0M760.4 812.9h0M760.8 852.3h0M760.7 834.4h0M760.7 834.2h0M761.3 850.2h0M761.4 847.5h0M761.5 853.2h0M761.2 812.5h0M762.2 816h0M762.8 832.8h0M762.3 850.6h0M762.6 847.2h0M762.3 854.6h0M761.5 839h0M762.4 854.7h0M762.8 854.3h0M762.8 823.1h0M762.5 824.5h0M762.2 847h0M763.4 837h0M762.7 840.1h0M763.3 842.6h0M762.3 839.9h0M763.7 856h0M763.8 825.8h0M763.6 824.6h0M764 839.4h0M764.3 849.1h0M764.6 835.1h0M764.6 856.5h0M764.2 834.5h0M763.8 854.8h0M765.7 828.8h0M765.7 822.5h0M764.9 853.2h0M764.7 847.2h0M764.5 840.3h0M765.4 855.2h0M766.3 826.2h0M766.5 828.9h0M766.6 852.4h0M765.5 839.2h0M766.4 842.8h0M765.3 838.8h0M765.4 845.3h0M765.7 856.6h0M767.6 831h0M766.9 842.1h0M767.4 847.3h0M767.1 831.3h0M767 847.3h0M766.2 851.1h0M767.6 857.4h0M768.1 826.2h0M767.3 818h0M767.9 850.3h0M768.5 852.7h0M767.2 849.8h0M767.9 839.8h0M767.6 851.8h0M767.9 858.6h0M768.4 825.4h0M768.8 832.9h0M768.3 854.5h0M769.4 854.6h0M768.3 837.7h0M769.7 854h0M768.3 859.5h0M769.7 828.4h0M769.3 853.4h0M770.3 845.4h0M769.9 855.9h0M770 842.3h0M770.3 846.5h0M769.7 862h0M771.7 835.6h0M771.5 834.8h0M770.4 859.2h0M770.3 855.3h0M771.5 841.8h0M770.6 853h0M771.3 860.8h0M771.5 838h0M772.3 826.9h0M771.7 848.7h0M771.4 842.1h0M771.9 848.2h0M772.4 846.2h0M772.8 866.6h0M772.4 838h0M772.6 827h0M772.9 856.3h0M773.4 851.4h0M773.4 851h0M773.1 855.5h0M773.2 863.2h0M773.6 838.9h0M773.8 864.9h0M773.8 855.4h0M773.5 842h0M774.1 855.7h0M773.2 863.7h0M775.5 835.3h0M775.1 835.9h0M774.4 856.9h0M774.9 847.3h0M774.3 853.7h0M774.8 846.6h0M775.3 851.3h0M776.7 839.4h0M776 834.1h0M776.2 855.4h0M776.2 853h0M775.2 856.2h0M775.6 857.3h0M777.2 837.8h0M776.3 836h0M776.3 860h0M777.6 844h0M777.1 843.9h0M776.7 847.7h0M777.6 861.9h0M778.4 830.8h0M777.5 850.8h0M777.5 853.4h0M777.6 857.6h0M777.3 853h0M778.6 854.8h0M778.2 861.8h0M778.4 815.9h0M778.5 827.7h0M778.4 860.2h0M779.7 832.8h0M779.8 835.3h0M778.4 853.3h0M778.8 869h0M779.5 827.8h0M779.8 845.2h0M779.8 853.5h0M779.6 852.7h0M779.8 830.6h0M779.2 855.5h0M780.5 859.1h0M780.4 825h0M781 828.3h0M781.1 836.9h0M780.6 836.2h0M780.3 846.4h0M780.3 829.8h0M781.2 857.7h0M781.4 857.7h0M782.1 814h0M782 823.9h0M781.7 843.7h0M782.8 850.5h0M781.6 853.3h0M781.5 846.4h0M781.4 830.5h0M781.9 857.1h0M782.3 821.2h0M783.4 825.7h0M783.1 831.2h0M783.4 841.2h0M783 854.1h0M782.6 848.6h0M782.2 831.8h0M782.4 855.9h0M783.6 820.3h0M783.6 822.7h0M783.5 849.7h0M783.6 842.6h0M784.5 846.4h0M784.6 835h0M783.7 841.1h0M783.4 830.8h0M784 853.6h0M785.3 806.3h0M784.5 809.6h0M785 848h0M784.7 836.2h0M784.5 847.4h0M784.4 837h0M785.4 839.4h0M784.6 836.5h0M786 813.2h0M786.2 818.2h0M786.3 816.8h0M785.4 834.2h0M785.3 844.3h0M786.2 841.6h0M786.5 843.2h0M785.6 837.8h0M785.5 849.3h0M785.5 850.8h0M786.5 815.8h0M787 814.6h0M787.3 821.7h0M786.4 847.3h0M786.4 834.5h0M786.7 847.8h0M787.3 836.1h0M786.5 838.2h0M788.2 811.6h0M788.1 814.7h0M788.7 817.3h0M788.4 846.6h0M787.3 836.7h0M787.7 846.4h0M788.7 835.9h0M787.3 849.7h0M787.5 849.4h0M788.8 806.3h0M788.8 812.3h0M788.4 847.7h0M789.3 844.1h0M788.3 846.7h0M788.8 837.8h0M789.1 818.1h0M788.4 841.8h0M788.9 849.6h0M790.5 808h0M789.4 806.3h0M790.1 802.7h0M790.8 841.3h0M790.7 824.8h0M790.4 817h0M790 810.8h0M790.7 826.9h0M790.6 825.2h0M790.7 830h0M789.9 846.4h0M790.8 802.2h0M791 807.2h0M791.5 792.2h0M790.7 844.8h0M790.6 839.5h0M791.1 818h0M790.5 830.4h0M791.3 826.7h0M790.7 840.1h0M791.7 844.9h0M791.9 794.3h0M791.3 804.8h0M792.1 807.2h0M792.2 816.2h0M791.7 807.1h0M792.3 831.1h0M791.8 832.7h0M791.7 820.5h0M792.3 810h0M791.5 836.3h0M791.4 843.4h0M793.1 787.6h0M792.3 796.4h0M793.7 794.8h0M793.4 839.9h0M792.6 828.3h0M793.6 821.8h0M792.5 828.6h0M792.8 838.6h0M793 825h0M792.7 841.5h0M793.2 801.8h0M794.6 778.2h0M793.4 800.2h0M794.6 804.2h0M794.1 808.9h0M793.5 825.2h0M793.4 818.9h0M793.9 821.1h0M794.6 828.8h0M793.7 837h0M794.6 825.2h0M794.7 842.5h0M794.4 796.9h0M795 798.5h0M794.9 802.5h0M795.4 829.9h0M794.3 824.8h0M795.3 824.9h0M795.1 837.3h0M794.6 827.3h0M795.6 838.8h0M794.4 840.2h0M796.7 776.6h0M795.9 786.7h0M796.3 799.9h0M796.5 785h0M796.8 813h0M795.8 834.8h0M796.3 820.8h0M795.2 831.6h0M795.9 820.5h0M796.3 816.6h0M797.3 796h0M797.3 795.1h0M797.1 772.4h0M797.4 795.8h0M797.7 832.5h0M796.2 800.8h0M796.3 823.3h0M797 819.4h0M797.1 819.7h0M797.2 834.9h0M797.1 813.2h0M796.3 835.5h0M798.1 785.8h0M798.4 745h0M798.5 795.6h0M798.2 811.1h0M797.9 810.8h0M797.2 806.4h0M798.5 826.4h0M797.3 814.8h0M798.5 831.4h0M798.7 805.1h0M799.8 776.2h0M799.7 794h0M799 776h0M798.2 826.4h0M798.7 813.6h0M798.8 827.7h0M799.5 821.4h0M798.8 833.3h0M799 818h0M799.2 807.7h0M799 832.4h0M799.9 762.9h0M800.8 789.1h0M799.7 781.1h0M799.7 792h0M799.2 808.3h0M800.1 796h0M800.7 804.1h0M800.7 828.2h0M800.4 816.4h0M800.6 819.3h0M800.2 821.1h0M799.4 833.5h0M801.7 770.8h0M801.1 763.2h0M801.3 769.4h0M800.3 788.7h0M800.6 822.9h0M800.3 829.3h0M801.4 814.3h0M800.4 808.2h0M801 819.7h0M801.6 823.6h0M801 830.7h0M800.6 829.6h0M801.6 784h0M801.8 783.3h0M802.8 782.9h0M801.2 775.6h0M802.7 803.5h0M801.5 808.1h0M801.5 826.9h0M802.4 828.2h0M801.9 794.9h0M801.8 800.5h0M801.8 814.4h0M802.2 815.7h0M801.7 830.3h0M802.5 786h0M803.1 782.7h0M803.6 741.4h0M803.2 765.5h0M803.5 822.7h0M803.5 818.4h0M803.1 801.6h0M803.3 811.9h0M802.9 816.9h0M803.7 792.3h0M803.7 825.8h0M803.6 828.1h0M804.5 771.9h0M803.6 782h0M804.6 778.6h0M804.2 773.3h0M804.5 809.9h0M804.7 813.2h0M804.5 816.9h0M804.8 823h0M804.2 788.3h0M803.8 810.3h0M803.5 826.2h0M805.6 776.5h0M805.1 777.4h0M804.8 777.3h0M805.8 769.5h0M804.6 770.8h0M805.2 794h0M804.2 821.6h0M805.7 804.8h0M805 788.3h0M804.6 817.1h0M805.4 807.8h0M804.6 807.6h0M805.1 808.2h0M805.4 768.3h0M805.7 761.3h0M805.4 773.8h0M805.4 772.2h0M805.8 796.7h0M805.5 824.1h0M805.9 798.3h0M805.2 807.6h0M806.7 806.7h0M805.6 820.1h0M805.5 811.3h0M805.3 824.6h0M806.2 766.9h0M806.5 759.3h0M806.7 769.3h0M807.4 778.1h0M807.7 772.7h0M806.7 820.5h0M807.7 799.7h0M807.8 790.6h0M806.6 816h0M807.2 796.3h0M807.4 814.1h0M807.3 817.6h0M806.3 806.8h0M807.6 824.2h0M808.7 768.1h0M807.4 771h0M807.3 773.4h0M808.8 777.7h0M807.4 777h0M808.4 812.9h0M807.5 778.9h0M808.2 816.8h0M808.3 783.3h0M808.4 823.2h0M807.3 808.3h0M808.3 810.1h0M808.5 824h0M808.8 775.6h0M809.6 769.7h0M808.4 739.4h0M809.2 771.4h0M808.6 769h0M809 816.5h0M808.7 820.7h0M809.7 797.3h0M808.8 809.3h0M809.7 817.1h0M809.2 780.4h0M809.1 805.3h0M809.3 821.1h0M810.4 771.4h0M810.1 735h0M809.6 750.8h0M810.5 766.1h0M809.3 755.1h0M809.7 806.7h0M810.6 812.1h0M810.1 790.6h0M810.1 821h0M809.5 809.4h0M810.4 818.2h0M810.5 790.8h0M810.5 803.9h0M810 819.7h0M810.7 765h0M810.5 765h0M810.4 772.4h0M811.8 666.1h0M811 733.5h0M811.6 804.6h0M810.7 805h0M810.2 798.8h0M811.8 783.3h0M811.5 816.1h0M811.6 774.4h0M811 773.2h0M811.1 780.8h0M810.6 822.6h0M811.6 767.3h0M812.5 758.3h0M812.3 755.7h0M812 752.1h0M812.1 765.1h0M811.6 762h0M811.3 798.6h0M812.8 783.4h0M811.8 796h0M812.2 809.6h0M812.5 791.8h0M812.4 786.1h0M812.5 778.1h0M812.8 816.6h0M811.8 819.1h0M813.3 756.2h0M812.8 703.3h0M812.3 749.8h0M813.4 759.5h0M813.2 760.2h0M813 746.3h0M813.8 797.7h0M812.5 804.3h0M812.5 784.4h0M812.7 803.6h0M813.3 812.5h0M812.3 811.3h0M812.9 814.3h0M813.3 808.7h0M813.1 818.9h0M814.1 765.5h0M813.9 762.2h0M813.4 766.6h0M814.6 741.4h0M814 729.5h0M813.9 764.7h0M814.7 795.8h0M814.6 807.5h0M814.6 813.9h0M813.3 810.6h0M813.3 787.8h0M813.3 783h0M813.8 776h0M813.4 790.9h0M814.2 800.6h0M813.3 817.6h0M814.6 748h0M814.9 763.3h0M814.6 766.8h0M815.3 753.4h0M815 719.5h0M814.5 758.3h0M814.7 723.8h0M815 811.6h0M814.7 790.9h0M814.8 783.5h0M814.8 801.4h0M814.2 794h0M814.6 795h0M815.4 801.3h0M814.5 811.1h0M815.2 818.7h0M815.5 747.7h0M816.4 764.6h0M816.3 763.5h0M816.6 765.2h0M815.8 748.9h0M816.3 678h0M816.7 792.2h0M815.3 792.1h0M815.6 808.3h0M816.8 811.9h0M816.2 780.5h0M816.2 817.9h0M815.5 806.2h0M815.8 795.3h0M815.6 795h0M816.3 819.7h0M817.2 761.1h0M816.2 743.8h0M816.5 767.6h0M817.2 763.6h0M816.4 723.9h0M816.7 742.7h0M817.4 763.3h0M816.5 812.2h0M816.4 807.6h0M817.4 779.8h0M817.3 776.1h0M816.9 804.2h0M816.7 785.2h0M816.3 791.1h0M816.8 803.2h0M818.4 667.4h0M817.3 751.3h0M818.6 762.1h0M817.5 762.9h0M818 747.7h0M818.4 760.7h0M817.4 727.1h0M818 798.4h0M817.3 768.5h0M817.7 811.8h0M818.5 810.4h0M817.3 780.9h0M818.2 797.1h0M817.8 770.6h0M818.3 802.1h0M817.9 815.1h0M817.9 816.2h0M818.5 727.5h0M818.7 664.4h0M818.5 755.9h0M818.8 714.7h0M819.8 726.1h0M818.6 723.1h0M819.1 744.4h0M819.7 715h0M818.5 771.9h0M819.7 810.4h0M818.3 812.3h0M819.6 779.8h0M819.4 811.3h0M818.9 783.6h0M818.9 809.6h0M819.6 801.7h0M819.2 797.2h0M819.5 815.6h0M820.2 752.3h0M819.3 762.1h0M820.4 725.4h0M819.2 760.2h0M819.9 754.5h0M820.2 749h0M820 756.3h0M819.8 803.7h0M820.1 785.5h0M820.4 793.7h0M820.2 816.1h0M819.9 806.2h0M819.5 787.8h0M819.4 792.2h0M820.1 804.9h0M819.6 814.8h0M820.2 692.9h0M821.7 741.2h0M820.7 752.5h0M821.6 741.7h0M820.7 759.4h0M820.8 760.9h0M820.9 761.5h0M820.5 757.7h0M821.5 813.8h0M821.2 775.7h0M820.6 805.6h0M821 793.7h0M820.6 809.4h0M821.4 785.6h0M821.7 810.8h0M821 805.9h0M820.5 815.9h0M821.8 749.3h0M822.1 756.3h0M821.7 697.5h0M822.1 759.6h0M822.6 739.7h0M822.6 756.8h0M821.4 762.1h0M822.5 751.8h0M822.7 735.8h0M821.2 813.3h0M822.7 785.4h0M822.4 776.7h0M821.8 798h0M822.7 791.6h0M821.8 808.6h0M821.4 769.9h0M822.5 809.9h0M822.7 747.2h0M822.6 761.9h0M822.8 749.7h0M823 720.6h0M823.3 740.7h0M823.6 691.7h0M822.3 742.5h0M823.8 716.2h0M822.8 721.1h0M822.2 791.8h0M823.6 778h0M822.6 797.5h0M823.1 809.6h0M822.4 777.1h0M823.6 805.8h0M823 808.6h0M822.9 782.1h0M823.2 781h0M822.7 815h0M823.8 750.5h0M823.6 759.2h0M823.8 752.3h0M823.5 761.3h0M823.7 754.9h0M824.2 728.5h0M824.1 722.4h0M824.5 758.3h0M824.1 731.7h0M824.7 809.7h0M824.6 781.9h0M823.5 800.6h0M823.8 778.7h0M823.3 815.9h0M824.2 796.3h0M823.7 789.1h0M823.4 815.2h0M824.6 782.5h0M823.7 814.8h0M824.8 750.9h0M825.2 750.9h0M825.2 762.7h0M824.5 705.2h0M824.6 760.2h0M824.7 764.6h0M824.5 750.1h0M825.4 735.5h0M824.4 720h0M824.8 781.6h0M824.3 801h0M824.8 788.4h0M824.7 770.6h0M824.3 788.5h0M825.6 787h0M825 777.3h0M825.4 768.7h0M825.6 751.1h0M826 714.4h0M825.5 747.3h0M825.9 728.6h0M825.3 763.9h0M826.4 745h0M825.6 747.2h0M825.8 747.4h0M825.4 763.1h0M826.3 802.5h0M825.7 813.9h0M825.8 795.8h0M825.8 767.6h0M825.7 775.8h0M825.3 777h0M825.9 808.6h0M826.1 796.1h0M826.2 764.7h0M827.4 715.1h0M827.7 701.6h0M826.7 764.2h0M827.1 703h0M827.1 757.1h0M827.2 747.9h0M827.7 780.8h0M827.2 779.3h0M827.1 768.4h0M826.2 784.8h0M827.7 786.9h0M826.5 810.5h0M826.5 801.1h0M826.5 798h0M827.1 817.2h0M828 766h0M828.7 744.5h0M827.4 745.1h0M827.9 755.3h0M828.7 764.1h0M827.4 765.9h0M828 744.6h0M828.4 754.3h0M827.6 806.9h0M828.4 805.1h0M827.9 815.5h0M827.7 813h0M827.9 804.2h0M827.5 799.4h0M827.3 790.9h0M828.6 814.9h0M828.1 807.9h0M828 815.1h0M828.3 761.3h0M829.6 755.9h0M828.2 763h0M829.1 737.9h0M829.1 714.4h0M828.7 765.5h0M829.5 762.8h0M829.6 763.5h0M829.4 780.1h0M828.6 773.7h0M828.8 780.7h0M829.5 810.9h0M828.4 799.2h0M828.7 789.5h0M829.1 801.6h0M828.9 812.5h0M829.4 775.7h0M829.4 824h0M830.1 750.5h0M829.2 734.4h0M830.4 727.2h0M829.8 745h0M829.3 722.6h0M830.6 682.3h0M830.7 745.7h0M829.8 796.8h0M830.3 801.4h0M829.9 799.3h0M830.6 813.9h0M830.7 795h0M830 774.1h0M830.7 804h0M830.3 801.4h0M831.7 736.9h0M831.7 758.2h0M831 723.7h0M830.8 750.7h0M831 751.6h0M831 745.2h0M830.8 744.1h0M830.2 763.4h0M831.6 810h0M831.4 781.7h0M830.9 769.3h0M830.6 775.4h0M830.8 810.2h0M831.4 801.4h0M830.8 792.3h0M831.4 811.6h0M830.3 816.1h0M831.9 759.2h0M832.8 682h0M831.2 764.7h0M832.7 760.8h0M832.7 751.2h0M832.7 758.5h0M832.3 748.6h0M831.5 794.4h0M831.9 771.4h0M832.7 768.8h0M832 811.5h0M831.3 778.8h0M831.9 808h0M832.8 795.2h0M832.7 773.4h0M832.2 814.1h0M833.3 723.4h0M833.7 768.3h0M833 727.8h0M833.5 766.9h0M833.7 764.8h0M833.2 750.6h0M833.4 734.8h0M833.3 811h0M833.2 802h0M833.6 809.8h0M833.4 776.9h0M832.7 795.3h0M833.7 795.5h0M832.9 780.5h0M833.8 810.9h0M833 813.8h0M833.9 752.3h0M834.5 702.6h0M833.2 726.2h0M833.4 766.8h0M834.6 760.1h0M834.4 763.5h0M833.2 757.2h0M833.6 809.7h0M834.7 802.4h0M834.5 795.7h0M834.2 806.2h0M834.6 813.3h0M833.4 801.5h0M833.4 778.7h0M834.1 780.8h0M834.4 817.7h0M834.3 731.3h0M835.8 760.7h0M835.7 763.3h0M834.9 768.4h0M834.9 755.7h0M834.7 763.8h0M834.6 810.5h0M834.5 814.1h0M834.2 799.8h0M834.4 808.7h0M835.7 791.1h0M835 779.4h0M834.3 799.5h0M835.7 796.4h0M834.9 814.4h0M836.6 771.9h0M836 768.7h0M836.8 770.5h0M835.8 750.5h0M835.8 767.2h0M835.5 770.7h0M836.2 783.1h0M836.5 795.1h0M836.8 791.5h0M835.6 780.7h0M836.1 807.2h0M836.7 775.6h0M835.9 798.5h0M835.8 813.5h0M836.3 763.4h0M837.2 773.5h0M837.3 768.9h0M837.5 762.2h0M837.8 771.7h0M836.3 746.1h0M837 806.3h0M836.9 789.7h0M836.5 789.5h0M837.1 809.1h0M837.5 785.3h0M836.7 810.4h0M837.8 793h0M837.2 816.8h0M838.7 773.4h0M838.2 776.6h0M838.8 771.5h0M837.5 765.6h0M838 776.9h0M837.6 755.9h0M837.8 809.3h0M838.4 785.9h0M838.1 805.8h0M838.4 795.7h0M838 809.3h0M838.8 812.4h0M837.4 813.5h0M838.6 777.7h0M838.9 768.6h0M838.2 768.6h0M839.2 766.2h0M839.1 758.8h0M839.7 795.7h0M839.2 781.5h0M839.5 791.6h0M838.7 791.7h0M839 794.3h0M839 808.3h0M839.3 812.7h0M840.7 762.2h0M839.4 767.1h0M840.3 756.5h0M840 758.2h0M840.4 774.9h0M840.7 790.1h0M840 814.1h0M839.9 799.1h0M840 805.9h0M840.3 789.9h0M840 802.8h0M839.7 818.3h0M841.2 753.2h0M841.6 773.6h0M841.3 779.2h0M841.5 771.9h0M840.8 812.2h0M840.6 809.8h0M841.1 807.1h0M840.2 803.6h0M841.4 799.7h0M840.8 796.3h0M840.5 813h0M841.4 768.1h0M842.7 781.4h0M842.2 771h0M841.9 779.7h0M842.8 808.5h0M841.9 804.9h0M842.4 803.5h0M842.6 797.8h0M841.8 814.7h0M842.7 802.4h0M843.6 772.6h0M842.4 773.1h0M842.6 764.2h0M843.2 780.5h0M843.4 791.3h0M843.8 790.8h0M843.5 814.5h0M843.2 814.3h0M842.7 795.9h0M842.5 815h0M843.3 816.4h0M844.5 765.3h0M844 785.4h0M844 773.5h0M844.8 797.6h0M844 808.7h0M844.6 799.6h0M844.4 811.6h0M843.7 791.5h0M843.8 799h0M844.8 779.2h0M845 779.5h0M845.4 785.8h0M845.5 792.4h0M844.8 805.4h0M845.7 812.8h0M845.1 796.6h0M845.2 812.6h0M844.5 817.8h0M846.1 788.3h0M846.1 788.4h0M845.6 785.1h0M846.6 803h0M845.6 807.2h0M846.1 813.8h0M845.3 814.7h0M845.5 798.1h0M846.5 819.3h0M847.4 790.6h0M846.4 791.6h0M847.5 788.9h0M847.1 819.7h0M846.8 805.5h0M847.2 791.3h0M847.2 807.7h0M847 808.8h0M847.3 819.5h0M848.3 792.1h0M847.7 789.9h0M848.2 801.7h0M847.8 806.3h0M847.5 815.7h0M847.5 820.4h0M847.6 815.4h0M848.4 821.7h0M849.8 792.5h0M849.6 786.8h0M849.3 818.1h0M848.9 808.4h0M849.1 813.6h0M848.8 815.4h0M849.1 822.4h0M848.5 822.8h0M849.2 796.9h0M849.9 797.8h0M849.2 823.5h0M849.2 800.4h0M849.9 804.9h0M849.4 804.7h0M849.6 822.9h0M851.5 798.4h0M850.5 798.8h0M851.2 817.6h0M851.3 813.8h0M850.2 808.8h0M850.4 807.3h0M851.2 823.5h0M852 800.7h0M852.4 792.5h0M851.9 825.8h0M851.3 801.7h0M851.4 810.3h0M852.7 821.3h0M851.3 823.6h0M851.3 831.3h0M852.4 764.2h0M853 788.4h0M853.4 820.5h0M853 810.1h0M853.5 825.1h0M852.4 818.4h0M852.6 827.2h0M853.8 800.4h0M853.6 801.8h0M853.6 817.1h0M854.6 802.5h0M854.3 824.5h0M853.5 819.3h0M854.3 812.9h0M853.7 828h0M855.1 799.8h0M855.4 807.4h0M855.1 827.1h0M855.4 818.4h0M854.3 828.3h0M854.4 823.7h0M855.4 829.2h0M855.6 806.7h0M856.2 828.4h0M856.6 821.6h0M856.3 808.1h0M856.6 826.5h0M856.6 830.4h0M857.5 811h0M857.3 808.8h0M857.1 828.9h0M857.5 825.5h0M857.7 828h0M857.4 827.8h0M857.4 832.5h0M857.6 812.5h0M857.2 829h0M857.9 835h0M857.8 820.9h0M858.5 829.4h0M857.3 833.3h0M859.3 810h0M859.4 814.5h0M859.6 818.3h0M858.9 827.8h0M858.9 834.8h0M859.1 835.9h0M859.4 817.1h0M860.5 832.6h0M860.6 835h0M860.7 831h0M859.5 836.5h0M861 812.8h0M861 821.1h0M861.7 837.5h0M861.6 835.3h0M861.7 831.6h0M861.5 838.4h0M861.7 813.8h0M861.2 824.9h0M861.2 828.1h0M863.3 819.9h0M862.4 837.6h0M863.7 839h0M863.9 822.9h0M863.9 833.6h0M864.2 840.3h0M865.7 825.7h0M865 828h0M865.4 842.5h0M864.6 836.2h0M866.1 825.4h0M865.7 825h0M866.3 826.5h0M865.3 838.8h0M867.1 819.9h0M866.5 821.6h0M866.9 830.2h0M866.3 837.9h0M867.7 815.6h0M867.7 829.3h0M868.2 819h0M868.5 822.8h0M868.4 835.4h0M869.7 814.6h0M868.3 814.5h0M869.6 830.6h0M868.4 816.1h0M868.4 832.2h0M868.5 833.1h0M869.3 810.3h0M870.6 806.7h0M870.5 821h0M870.2 827.3h0M870.2 825.1h0M870.2 831.4h0M871 809.4h0M871.5 808.4h0M870.7 811h0M871.2 815.8h0M870.7 817.8h0M870.6 827.1h0M870.5 829.2h0M872.5 806.6h0M871.3 802h0M872.5 821.1h0M872.2 822.9h0M871.3 812h0M872 815.3h0M871.9 826.1h0M872.4 803.5h0M873.1 792.5h0M873.1 809.1h0M873.4 823.1h0M873.4 818.8h0M872.8 821.2h0M873.7 824.2h0M874.5 797.3h0M873.9 788.2h0M873.5 821.3h0M874 813.7h0M873.2 819.5h0M874.8 821.2h0M873.6 826h0M874.5 795.5h0M875.2 792.9h0M874.8 819.5h0M874.8 803.8h0M875.8 808.7h0M875.6 800.7h0M875.9 787.9h0M876.6 793.6h0M876.1 797h0M876.5 808.9h0M876.7 808.1h0M875.7 802.4h0M875.3 818.6h0M877.6 788.6h0M877.3 791.2h0M877.5 804.1h0M877.2 816.2h0M877.4 802.7h0M877.1 800.4h0M876.3 816.2h0M877.6 785.3h0M878.2 769.3h0M878.4 787.7h0M878.2 793.6h0M878.6 805.8h0M877.6 798.4h0M877.3 800.1h0M878.1 807.2h0M878.5 815.4h0M879.5 782.1h0M879.6 783.5h0M878.3 798.2h0M879.5 807.4h0M878.4 788.9h0M879.8 804.4h0M878.6 805.1h0M879 814.4h0M879.8 775.5h0M880.6 781.7h0M880.3 790.9h0M879.5 809.5h0M880 803.2h0M880.2 788.7h0M879.6 795.8h0M880.3 747.1h0M880.7 778.5h0M880.5 764.9h0M881.2 783.4h0M881 810.2h0M880.5 784.8h0M881.4 806.5h0M881 800.8h0M881.4 801.8h0M881.2 811.8h0M881.7 777.8h0M881.4 777.1h0M882.4 766.7h0M882.3 810.8h0M882.4 796.2h0M882.4 797.6h0M882.3 799.9h0M882.6 805.6h0M881.5 809.7h0M882.6 767.8h0M883.4 759.4h0M883.8 776.8h0M882.6 807.4h0M883 805.4h0M882.2 777.6h0M883.1 794h0M883.4 808.1h0M883.8 790.9h0M882.6 809.8h0M883.9 774.1h0M883.3 758.5h0M883.4 770.1h0M883.9 793.5h0M884.3 797.3h0M883.4 792.3h0M883.6 808.2h0M883.8 785.3h0M884.5 792.1h0M883.9 808.6h0M885 756h0M884.7 772.4h0M885.6 762.8h0M885.1 784h0M885.4 800.6h0M884.9 790.2h0M885.5 779.9h0M885.5 780.1h0M885.8 785.9h0M885.1 807.7h0M885.9 743.8h0M885.9 771.1h0M886 755.2h0M886.1 773.1h0M886.7 798h0M886.2 807.7h0M886.1 800h0M886.3 806h0M885.7 778.2h0M886.3 763.3h0M887.8 761.1h0M886.6 767.8h0M886.5 765.1h0M887.2 800.5h0M886.7 785.6h0M886.8 803.2h0M887.3 796.7h0M887.4 800.7h0M887.3 776.5h0M887.5 805.9h0M887.4 764.3h0M888.4 767.9h0M887.8 765.6h0M888.2 763.2h0M887.3 786.8h0M887.8 787h0M887.5 783.1h0M887.7 795.8h0M887.5 784.7h0M887.6 778.5h0M888.7 806h0M889.4 728.5h0M889.4 751.7h0M888.6 762.2h0M888.3 804.9h0M889 789.3h0M888.7 783.6h0M889.4 768.6h0M888.3 801.2h0M889.4 787.5h0M888.3 803.8h0M890.7 724.5h0M889.4 761.9h0M889.3 750.2h0M890.3 765.8h0M890.8 801.1h0M890.3 798.5h0M890.2 771.4h0M890.5 804.2h0M890 802.6h0M889.2 768.8h0M890.2 753.4h0M891.1 746.2h0M890.4 755.2h0M891 761.3h0M891.3 788.5h0M891.4 792.3h0M890.6 803.1h0M891.3 793.6h0M891.6 774.6h0M891.8 790.9h0M891.3 769.3h0M890.7 803.6h0M892.5 762.3h0M891.6 749.3h0M892 730.1h0M892.1 762.2h0M892.7 790.7h0M891.6 764.9h0M891.7 768.9h0M891.3 801.3h0M892.5 777.3h0M891.8 777.8h0M891.5 785.3h0M893.4 746.4h0M892.7 745.5h0M893.7 758.6h0M892.4 753.5h0M893.3 797h0M893.2 780.8h0M893.7 798.2h0M893.6 781.4h0M892.2 801.2h0M893.4 800.9h0M894.6 751.4h0M894.3 725.5h0M893.4 744.2h0M894.3 743.2h0M894.2 801h0M893.7 765.9h0M894.6 782.5h0M893.3 793.7h0M894.6 767.5h0M893.4 766.3h0M894.8 791.7h0M893.8 801.4h0M894.6 760.2h0M895.4 757.9h0M895.1 752.2h0M894.7 755.5h0M895.5 759.8h0M895.6 782.7h0M894.5 769.5h0M895.3 775.8h0M894.6 764.1h0M895.4 779.9h0M895.3 760.9h0M895.6 786.3h0M895.6 802.5h0M896.2 732.4h0M896.2 705.9h0M896.2 734.8h0M895.9 740.5h0M896.1 742.7h0M895.9 783.2h0M896.5 765.5h0M896.5 774.9h0M896.5 788.2h0M896.5 784.9h0M895.8 785.1h0M895.6 782h0M896.5 799.6h0M896.4 745.9h0M897.1 746.9h0M896.4 759.8h0M897.3 747.7h0M896.8 752.5h0M896.6 793.6h0M897.3 770.9h0M897.4 784.1h0M897.3 794h0M897.8 773.1h0M897.5 781.9h0M896.4 789.9h0M897.4 800.9h0M897.7 743.8h0M898.1 757.3h0M897.8 749.7h0M897.7 757.1h0M898.2 716.4h0M897.2 791.2h0M897.7 793.8h0M898 777.4h0M898.2 781.2h0M898.3 773.7h0M897.4 779.4h0M898 787.8h0M898.4 799.1h0M899.2 752.9h0M898.2 756.1h0M899 743.4h0M899.7 743h0M899.8 750.4h0M898.3 772.8h0M899.6 795.5h0M899.2 786.6h0M899.6 765.9h0M899.7 779.5h0M898.7 790.4h0M899.7 783h0M898.9 799.1h0M899.5 727h0M900.2 734.3h0M900.7 747.1h0M899.8 754h0M900 751.3h0M899.4 791.5h0M899.9 796.5h0M899.4 775.9h0M899.5 774.5h0M900.1 788.5h0M899.4 758.7h0M900.7 778.6h0M899.7 798.9h0M901.3 754.6h0M900.6 754.9h0M900.3 748h0M900.6 736.8h0M901.1 678.5h0M900.8 776.7h0M901.1 780h0M900.5 770.6h0M901.1 789.2h0M901.3 794.4h0M901.7 782.5h0M901.3 780.1h0M901.7 798.8h0M901.9 751.2h0M902.6 742.3h0M901.4 743.8h0M902 753.1h0M902.5 755.9h0M901.8 746.2h0M901.8 761.5h0M902.6 783.9h0M901.3 775.3h0M902 775h0M902 777h0M902.2 790.9h0M901.5 774.7h0M902.6 773.8h0M903.7 718.8h0M903.5 727.6h0M902.5 756.3h0M902.8 736.8h0M903.5 679.7h0M903.7 722.9h0M903.3 779.5h0M902.4 799.2h0M902.4 795.8h0M903 769.7h0M902.4 789.8h0M903.1 792.5h0M903.3 769.1h0M903.3 772.4h0M902.4 800h0M904 727h0M904.3 752.1h0M903.6 753.4h0M903.2 752.8h0M903.3 750.6h0M903.7 738.6h0M903.6 775.2h0M904.7 782.6h0M903.7 782.8h0M904.4 778.3h0M903.7 780.3h0M903.9 782.5h0M903.4 787.4h0M904.6 790.3h0M903.2 799h0M905.5 746.1h0M905.4 716.5h0M904.9 749.7h0M904.5 736.2h0M904.7 714.4h0M904.6 744.5h0M905.4 790.3h0M904.9 773.4h0M905.7 769.6h0M905.6 767.2h0M904.2 796.4h0M904.7 790.7h0M904.5 787.4h0M904.6 785.3h0M905.2 798.3h0M905.6 753.9h0M906.5 728.9h0M905.3 751.1h0M905.7 750.6h0M905.7 734.8h0M906.2 752.6h0M906 732h0M905.3 756.6h0M906.5 779h0M906.4 793.5h0M905.7 775.5h0M905.2 784.7h0M905.3 766.8h0M905.8 800h0M905.3 794.3h0M906.2 729.1h0M907.8 736.4h0M907.6 755.8h0M907 741.2h0M907.7 745.1h0M907.5 753.7h0M906.4 786.8h0M907.6 766.5h0M906.7 795.1h0M906.2 794.4h0M906.8 789.5h0M907.5 794.3h0M907.3 784.6h0M907 776.9h0M907 798.5h0M908.1 659.4h0M907.7 742.3h0M908 733.8h0M908.4 732h0M908.5 732.6h0M908.5 752.2h0M908.8 762.6h0M907.8 778.4h0M908.2 799.7h0M907.4 774.6h0M908.4 762.5h0M908.3 756.8h0M907.5 763.2h0M907.4 799.2h0M908.4 758.3h0M908.6 729.3h0M908.3 757.6h0M908.6 755.5h0M909.6 752h0M908.8 788.9h0M909 785.9h0M909.6 791.1h0M908.6 800.6h0M909 768.6h0M909.5 768.1h0M909.2 772.4h0M909.8 800.6h0M910 755.5h0M910.4 729.9h0M909.9 737.2h0M910.8 760.4h0M909.3 771.8h0M910.2 785.6h0M910.1 770.7h0M910.6 801h0M909.6 797.6h0M910.7 774.2h0M909.4 787.1h0M910.3 749.3h0M911.2 746.9h0M910.9 759.6h0M911 758.3h0M910.3 802.1h0M911.5 783.9h0M910.7 790.2h0M911.6 789.8h0M911.3 795.6h0M910.6 776.9h0M911 786h0M910.5 801.5h0M912 747h0M911.6 767.5h0M911.8 762.3h0M912 780.7h0M911.7 781.6h0M912.1 778.5h0M912.7 801h0M911.3 792.1h0M911.5 780.9h0M912.2 803.1h0M913.2 759.3h0M913.7 760.8h0M912.2 795.3h0M913.8 782.2h0M912.8 801.1h0M913.4 788.4h0M913.7 791.6h0M913.4 785.7h0M914.6 774.2h0M914.2 774.4h0M914.7 780h0M914.1 793.4h0M914.4 791.5h0M914.4 788.6h0M914.5 798.1h0M915.1 777.8h0M914.7 768.7h0M915.5 788.3h0M915 793.9h0M929.7 783.6h0M928.6 779.5h0M928.8 798.3h0M930.7 769.3h0M930.7 779.3h0M930.1 787.5h0M930.5 795.1h0M929.3 798.6h0M929.5 799.3h0M931.5 772.9h0M931.5 777.2h0M931.8 790.5h0M930.6 800.3h0M931.2 804.3h0M930.3 798.8h0M931.2 803.2h0M931.7 805.8h0M931.4 774.3h0M931.8 763.4h0M932.6 750.7h0M931.4 785.2h0M931.7 783h0M932.6 778.6h0M931.6 789.8h0M932.3 778.4h0M932.4 803.6h0M932.1 805.7h0M932.9 760.5h0M932.4 761.9h0M932.4 767.5h0M933.4 803.6h0M933.3 793.5h0M933.5 790.7h0M933.8 787.2h0M932.8 791.8h0M933.5 796.5h0M933.7 806.8h0M934.2 767.3h0M934.5 758.8h0M933.3 768.9h0M933.9 787.8h0M933.6 789.5h0M934.5 778.9h0M934.3 782.4h0M933.9 772.6h0M933.6 790h0M934.4 806.1h0M934.8 763.3h0M935.7 757.5h0M934.7 738.9h0M934.4 758.8h0M934.7 793.5h0M935.8 788h0M934.6 785.8h0M935 801.4h0M934.6 791.1h0M935.1 795.2h0M935.1 792.3h0M935.9 761h0M935.5 751.9h0M936 763.8h0M936.2 780.8h0M935.5 796.1h0M936.1 792.1h0M935.4 785.5h0M935.9 796.5h0M935.5 788.2h0M935.9 794.1h0M936.5 803.4h0M937 747.8h0M936.5 754.7h0M936.5 758h0M936.3 790.9h0M937.8 775.2h0M937.6 778.9h0M937.1 768.6h0M936.9 801.8h0M936.4 777h0M937.1 796.9h0M937.3 805.5h0M937.4 733h0M938.7 727.7h0M938.6 763.2h0M937.8 752.9h0M938.4 768.3h0M938.7 791.7h0M937.6 791.3h0M938 802.6h0M937.9 776.5h0M937.3 794.6h0M939.8 761.4h0M939.6 761.1h0M938.5 759.8h0M938.8 778h0M939.2 793.3h0M939.5 786.8h0M939.5 777.4h0M939.8 764.1h0M938.5 769h0M938.9 779.6h0M938.9 799.8h0M939.7 758h0M939.4 746.3h0M939.4 756.3h0M939.5 758.4h0M940.5 764.9h0M939.7 797.3h0M940.6 772.7h0M939.3 790.6h0M940.7 775.4h0M940.3 795.7h0M940.2 786.4h0M939.9 799.1h0M941.4 740.5h0M941.6 738.2h0M940.8 747h0M940.8 744.2h0M940.6 787.5h0M940.7 789.7h0M941.6 782.2h0M941.4 796.9h0M941.4 771.4h0M940.4 764.4h0M941.1 779h0M941.5 798.4h0M942 752.8h0M941.9 726.3h0M942.4 757.8h0M942.7 756.5h0M941.6 753.7h0M942.6 781.7h0M942.2 782.1h0M941.3 778.1h0M941.6 787.3h0M941.9 794.6h0M941.7 764.2h0M941.3 797.5h0M941.5 798.9h0M943 745.5h0M943.4 741.8h0M943.5 748.4h0M943.6 722.3h0M942.3 732.6h0M943.6 779.8h0M943.1 774.8h0M942.7 770.6h0M943.5 768.8h0M943.5 775.9h0M943.6 769.1h0M942.3 770.5h0M942.8 795.1h0M943.5 745h0M944.7 713.4h0M943.8 750.3h0M943.7 703.7h0M943.4 754h0M944.7 790.3h0M944.2 795.5h0M944.4 768.9h0M943.8 795h0M944.2 784.7h0M943.6 789h0M944.3 793.1h0M944.2 708.6h0M945.4 705.3h0M945.7 739.3h0M944.3 743.6h0M945.4 752.7h0M945.2 733.4h0M944.2 781.2h0M945.1 794.2h0M945 783.7h0M945.3 790.3h0M945.5 776.4h0M945.2 773.2h0M945.2 758.6h0M945.4 795.1h0M946.5 726.4h0M945.8 733.9h0M945.4 743.9h0M945.7 748.5h0M946.5 754h0M946.1 734.3h0M945.5 791.6h0M946.6 791.9h0M945.3 769.8h0M945.4 779.9h0M946.2 775.9h0M945.6 770.1h0M945.5 782.9h0M945.4 795.7h0M946.2 754.9h0M946.8 754.9h0M947.4 753h0M946.3 745.2h0M946.7 745.6h0M946.5 785.3h0M946.7 755.9h0M946.8 789.2h0M947.7 788.9h0M947.7 765.2h0M947.6 782.6h0M947.6 788.9h0M947.1 795.1h0M947.3 738.7h0M947.2 749.4h0M947.3 746.4h0M948 740.6h0M948 763.4h0M948.2 794.4h0M948.5 763.7h0M948.5 788h0M948.4 763.2h0M948.3 761.8h0M948.6 777.8h0M947.5 797.7h0M949.3 753.9h0M949.7 746.1h0M948.9 752.7h0M948.2 753.5h0M948.5 748.3h0M949.1 778.5h0M948.5 785.9h0M948.8 790.2h0M949.1 797.1h0M948.7 762h0M949.8 788.6h0M949.5 760.1h0M948.5 799.6h0M950 738.9h0M950.6 751.2h0M950.2 755.2h0M949.9 752.4h0M950.7 780.3h0M950.7 793h0M949.7 784.6h0M950.8 764.1h0M950.7 762.7h0M950.2 779.8h0M949.8 781.6h0M950.3 747h0M951.4 752.9h0M951.7 737.5h0M950.9 752.3h0M951.4 794.5h0M951.6 786.2h0M950.3 789h0M951.6 768.4h0M950.3 794h0M950.3 791h0M951.2 780.3h0M951.4 797.5h0M951.7 758.9h0M951.6 755.2h0M952.2 758.8h0M952 745h0M952.1 772.7h0M951.3 797.7h0M951.3 791.2h0M952.5 793.8h0M952.4 769.1h0M951.9 772.8h0M952.4 766.5h0M952.7 798.9h0M952.7 731.5h0M952.3 754.6h0M953.2 759h0M952.8 739.8h0M953.3 773.3h0M952.4 775.4h0M953.3 791.2h0M953.4 793h0M952.8 794.9h0M953 798.8h0M952.5 788.7h0M952.7 800.5h0M954.4 758.9h0M954.4 749.5h0M954.1 740.4h0M954.1 759.9h0M954.3 784.4h0M954.7 789h0M954.4 762.8h0M954.3 771h0M954.1 761h0M953.9 765.6h0M953.7 774.5h0M954.4 800.1h0M955.4 758.9h0M955 722.7h0M954.8 749.6h0M955.5 759.3h0M954.3 786.5h0M955.6 764.4h0M954.4 798.1h0M955.5 764.3h0M954.6 795.3h0M955.3 785.5h0M955.5 787.2h0M954.7 796.9h0M954.5 803.3h0M956.3 754h0M956.5 753.5h0M956.7 752h0M955.8 781.6h0M955.8 789.6h0M955.3 769.3h0M956.4 779.8h0M955.8 800.5h0M955.8 786.2h0M955.5 776.1h0M956.4 698.8h0M956.3 750.2h0M956.5 758.7h0M957.4 795.6h0M957.4 789.2h0M957 787.5h0M956.6 790h0M956.4 798.4h0M957.1 761.1h0M957.4 800.1h0M957.6 802.8h0M958.2 752.5h0M958.1 754.3h0M957.5 738h0M957.7 786.7h0M958.7 792.6h0M958.5 766.8h0M958.3 771.2h0M958 796.6h0M958.5 774.1h0M958.2 779.1h0M958.3 801.6h0M958.9 736.5h0M959.3 756h0M959.7 746.4h0M959.4 789h0M959.6 773.6h0M959.5 783.8h0M959.2 770.2h0M958.8 762.2h0M959.4 796h0M958.9 767.6h0M958.9 799h0M960 760.2h0M959.3 759.8h0M960.3 754.7h0M960.2 756.1h0M960.7 772.7h0M960.6 803h0M959.8 766.5h0M959.5 782.2h0M959.3 790.1h0M960.1 800.5h0M960.7 790.9h0M960.5 802.5h0M960.9 761.2h0M961.5 750.4h0M960.9 761.8h0M960.6 748h0M961.7 783.6h0M961.6 797.8h0M960.9 775.9h0M961.7 792.3h0M961.5 796.4h0M960.2 783h0M961.8 780h0M961.1 801.5h0M961.6 716.8h0M961.8 761.6h0M961.5 800h0M961.7 780.2h0M961.8 790h0M961.3 802.7h0M310.5 717h0M628 652h0M708 655h0M716 647h0M812 660h0M819 656h0M822 667h0M945 677h0M953 703h0M641 655h0M656 683h0M595.5 747h0M597 755h0M599 787h0M597 822h0M194 646h0M183 664h0M212 684h0M222 696h0M279 760h0M270 757h0M297 737h0M301 744h0M305 758h0M650 699h0M647 706h0M709 694h0M711 716h0M748 699h0M741 730h0M906 694h0M906.5 704h0M944 679h0M899 718h0M902 728h0" fill="none" stroke="#7bbad4" stroke-width="3.4" stroke-linecap="round"/>
<path d="M417.9 915C419.3 917.2 423.2 923 426.6 928C430 933 434.4 939 438.3 945.3C442.2 951.6 446.1 958.9 450 965.7C453.9 972.5 458.7 979.3 461.6 986.1C464.5 992.9 465.4 999.7 467.4 1006.5C469.3 1013.3 471.4 1019.1 473.3 1026.9C475.2 1034.7 477.7 1047 479.1 1053.2C480.6 1059.4 481.1 1060.5 482 1064C482.9 1067.5 483.8 1070 484.8 1074C485.8 1078 486.7 1084.3 488 1088.2C489.3 1092.1 491.3 1093.6 492.7 1097.5C494.1 1101.4 495.2 1106.9 496.4 1111.5C497.6 1116.1 499 1122.2 500 1125C501 1127.8 501.6 1127.7 502.5 1128C503.4 1128.3 504.6 1125.9 505.5 1126.8C506.4 1127.7 507.3 1130.3 508 1133.5C508.7 1136.7 509.3 1141.7 509.8 1145.8C510.3 1149.9 510.6 1154 511.1 1158.1C511.6 1162.2 512.2 1168.7 512.9 1170.3C513.6 1171.9 514.7 1169.5 515.4 1167.9C516.1 1166.3 516.3 1163.5 517.2 1160.5C518.1 1157.5 519.7 1153.2 521 1150C522.3 1146.8 523.7 1142.9 525 1141C526.3 1139.1 527.8 1137.1 528.8 1138.5C529.8 1139.9 530.5 1148.3 531.3 1149.5C532.1 1150.7 533 1148.5 533.7 1145.8C534.4 1143.1 534.9 1137 535.6 1133.5C536.3 1130 537.2 1125 538 1125C538.8 1125 539.5 1132.6 540.5 1133.5C541.5 1134.4 543.1 1130.3 544.2 1130.5C545.3 1130.7 546.4 1131.8 547.2 1134.8C548 1137.8 548.6 1144.9 549.1 1148.3C549.6 1151.7 549.8 1155 550.3 1155C550.8 1155 551.4 1152.7 551.9 1148.3C552.4 1143.9 552.9 1135.1 553.4 1128.6C553.9 1122 554.2 1115.3 554.6 1109C555 1102.7 555.2 1094.8 555.6 1090.6C556 1086.4 556.4 1084.3 557 1083.9C557.6 1083.5 558.7 1085.5 559.5 1088.2C560.3 1091 561.1 1095.7 561.9 1100.4C562.7 1105.1 563.7 1112.6 564.4 1116.4C565.1 1120.2 565.4 1123.3 565.9 1123.1C566.4 1122.9 566.9 1119.6 567.4 1115.2C567.9 1110.8 568.3 1102.9 568.7 1096.8C569.1 1090.7 569.5 1084.5 569.9 1078.4C570.3 1072.3 570.7 1066.2 571.1 1060C571.5 1053.8 571.6 1048.5 572.4 1041.5C573.2 1034.5 574.7 1026.5 575.9 1018.2C577.1 1010 578.5 1000.8 579.7 992C580.9 983.2 581.9 974 583.1 965.7C584.3 957.4 585.8 948.7 586.9 942.4C588 936.1 589.5 930.4 590 928" fill="none" stroke="#7bbad4" stroke-width="3.6" stroke-linecap="round" stroke-linejoin="round" />
<path d="M417.9 915C419.3 917.2 423.2 923 426.6 928C430 933 434.4 939 438.3 945.3C442.2 951.6 446.1 958.9 450 965.7C453.9 972.5 458.7 979.3 461.6 986.1C464.5 992.9 466.4 1003.1 467.4 1006.5" fill="none" stroke="#7bbad4" stroke-width="5.0" stroke-linecap="round" stroke-linejoin="round" />
<path d="M572.4 1041.5C573 1037.6 574.7 1026.5 575.9 1018.2C577.1 1010 578.5 1000.8 579.7 992C580.9 983.2 581.9 974 583.1 965.7C584.3 957.4 585.8 948.7 586.9 942.4C588 936.1 589.5 930.4 590 928" fill="none" stroke="#7bbad4" stroke-width="4.6" stroke-linecap="round" stroke-linejoin="round" />
<path d="M579.7 992C580.3 987.6 581.9 974 583.1 965.7C584.3 957.4 585.8 948.7 586.9 942.4C588 936.1 589.5 930.4 590 928" fill="none" stroke="#7bbad4" stroke-width="6.0" stroke-linecap="round" stroke-linejoin="round" />
<path d="M600 936.6C600.7 941 603.1 955.6 604.4 962.8C605.6 970 606.8 976.4 607.5 980C608.2 983.6 608.3 984.9 608.8 984.7C609.3 984.5 609.6 983.1 610.3 979C611 974.9 612 967.9 613.2 959.9C614.4 951.9 616.2 938.8 617.5 930.8C618.8 922.8 620.4 915.1 621 912" fill="none" stroke="#7bbad4" stroke-width="5.2" stroke-linecap="round" stroke-linejoin="round" />
<path d="M662 850C662.7 855.2 665.1 871.7 666.4 881.4C667.7 891.1 669.1 901.9 670 908C670.9 914.1 671.3 917.8 672 917.8C672.7 917.8 673.1 913.1 674 908C674.9 902.9 676.4 893.7 677.6 887C678.8 880.3 680.4 871.2 681 868" fill="none" stroke="#7bbad4" stroke-width="5.0" stroke-linecap="round" stroke-linejoin="round" />
<path d="M915.5 785C916 788.5 917.6 799.2 918.5 806C919.4 812.8 920.4 821.6 921 826C921.6 830.4 921.9 832.4 922.4 832.4C922.9 832.4 923.1 830.4 923.8 826C924.4 821.6 925.4 812.5 926.3 806C927.2 799.5 928.5 790.2 929 787" fill="none" stroke="#7bbad4" stroke-width="5.0" stroke-linecap="round" stroke-linejoin="round" />
<path d="M119 946.6C121.3 947 128.3 948.3 133 949.1C137.7 950 142.3 950.9 147 951.8C151.7 952.7 156.3 953.6 161 954.5C165.7 955.4 170.3 956.4 175 957.4C179.7 958.3 184.3 959.3 189 960.3C193.7 961.4 198.3 962.4 203 963.5C207.7 964.5 212.3 965.6 217 966.7C221.7 967.8 226.3 969 231 970.1C235.7 971.3 240.3 972.5 245 973.7C249.7 974.9 254.3 976.2 259 977.5C263.7 978.8 268.3 980.1 273 981.5C277.7 982.9 282.3 984.3 287 985.7C291.7 987.2 296.3 988.7 301 990.2C305.7 991.8 310.3 993.4 315 995C319.7 996.7 324.3 998.4 329 1000.2C333.7 1002 338.3 1003.8 343 1005.8C347.7 1007.7 352.3 1009.7 357 1011.8C361.7 1013.9 367.2 1016.5 371 1018.4C374.8 1020.4 373.6 1019.8 380 1023.6C386.4 1027.4 399.4 1034.6 409.1 1041.5C418.8 1048.4 430.7 1058.2 438.3 1064.8C445.9 1071.3 449.7 1075.5 455 1080.8C460.3 1086.1 465.4 1091.1 470 1096.8C474.6 1102.5 478.2 1108.9 482.3 1115.2C486.4 1121.5 490.4 1128.3 494.5 1134.8C498.6 1141.3 503.9 1149.8 506.8 1154.4C509.7 1159 510.9 1160.9 511.7 1162.2L511.7 1162.2C512.9 1159.9 516.1 1153.3 519 1148.3C521.9 1143.3 525.5 1137.4 528.8 1132.3C532.1 1127.2 535.1 1122.7 538.6 1117.6C542.1 1112.5 545.8 1107 549.7 1101.7C553.6 1096.4 557.8 1090.5 561.9 1085.7C566 1080.9 570.1 1076.9 574.2 1072.9C578.3 1068.9 579.9 1067 586.4 1061.8C592.9 1056.6 604.3 1047.8 613.2 1041.5C622.1 1035.2 633.2 1028.3 640 1024.2C646.8 1020.1 649.3 1019.3 654 1017.1C658.7 1014.8 663.3 1012.7 668 1010.6C672.7 1008.5 677.3 1006.5 682 1004.6C686.7 1002.7 691.3 1000.9 696 999.1C700.7 997.4 705.3 995.7 710 994.1C714.7 992.4 719.3 990.8 724 989.3C728.7 987.8 733.3 986.3 738 984.9C742.7 983.4 747.3 982 752 980.7C756.7 979.3 761.3 978 766 976.7C770.7 975.4 775.3 974.2 780 973C784.7 971.8 789.3 970.6 794 969.4C798.7 968.3 803.3 967.1 808 966C812.7 964.9 817.3 963.9 822 962.8C826.7 961.8 831.3 960.7 836 959.7C840.7 958.7 845.3 957.7 850 956.8C854.7 955.8 859.3 954.9 864 954C868.7 953 873.3 952.1 878 951.2C882.7 950.3 887.3 949.5 892 948.6C896.7 947.7 901.3 946.9 906 946.1C910.7 945.2 915.3 944.4 920 943.6C924.7 942.8 929.3 942 934 941.3C938.7 940.5 943.3 939.7 948 939C952.7 938.2 959.7 937.1 962 936.8" fill="none" stroke="#4b62b8" stroke-width="5.8" stroke-linejoin="round"/>
</g>
<rect x="675.2" y="1092.1" width="268.1" height="87.3" fill="#fff" stroke="#222" stroke-width="1.6"/>
<circle cx="709" cy="1119.2" r="6.7" fill="#7bbad4"/>
<line x1="692.2" y1="1154.2" x2="726.5" y2="1154.2" stroke="#4b62b8" stroke-width="5.5"/>
<text x="737.6" y="1127.5" font-size="27" fill="#000" textLength="152.5" lengthAdjust="spacingAndGlyphs">limit with filter</text>
<text x="737.2" y="1162.7" font-size="27" fill="#000" textLength="188" lengthAdjust="spacingAndGlyphs">bare Purcell limit</text>
<rect x="120.85" y="640.35" width="843.20" height="561.20" fill="none" stroke="#000" stroke-width="3.9"/>
<line x1="118.9" y1="1203.9" x2="965.6" y2="1203.9" stroke="#222" stroke-width="1.3" />
<line x1="119.5" y1="1203.9" x2="119.5" y2="1217.7" stroke="#222" stroke-width="1.7" />
<line x1="145.4" y1="1203.9" x2="145.4" y2="1213.7" stroke="#222" stroke-width="1.7" />
<line x1="171.3" y1="1203.9" x2="171.3" y2="1213.7" stroke="#222" stroke-width="1.7" />
<line x1="197.2" y1="1203.9" x2="197.2" y2="1213.7" stroke="#222" stroke-width="1.7" />
<line x1="223.1" y1="1203.9" x2="223.1" y2="1213.7" stroke="#222" stroke-width="1.7" />
<line x1="249.0" y1="1203.9" x2="249.0" y2="1217.7" stroke="#222" stroke-width="1.7" />
<line x1="274.9" y1="1203.9" x2="274.9" y2="1213.7" stroke="#222" stroke-width="1.7" />
<line x1="300.7" y1="1203.9" x2="300.7" y2="1213.7" stroke="#222" stroke-width="1.7" />
<line x1="326.6" y1="1203.9" x2="326.6" y2="1213.7" stroke="#222" stroke-width="1.7" />
<line x1="352.4" y1="1203.9" x2="352.4" y2="1213.7" stroke="#222" stroke-width="1.7" />
<line x1="378.3" y1="1203.9" x2="378.3" y2="1217.7" stroke="#222" stroke-width="1.7" />
<line x1="404.5" y1="1203.9" x2="404.5" y2="1213.7" stroke="#222" stroke-width="1.7" />
<line x1="430.8" y1="1203.9" x2="430.8" y2="1213.7" stroke="#222" stroke-width="1.7" />
<line x1="457.0" y1="1203.9" x2="457.0" y2="1213.7" stroke="#222" stroke-width="1.7" />
<line x1="483.3" y1="1203.9" x2="483.3" y2="1213.7" stroke="#222" stroke-width="1.7" />
<line x1="509.5" y1="1203.9" x2="509.5" y2="1217.7" stroke="#222" stroke-width="1.7" />
<line x1="535.4" y1="1203.9" x2="535.4" y2="1213.7" stroke="#222" stroke-width="1.7" />
<line x1="561.3" y1="1203.9" x2="561.3" y2="1213.7" stroke="#222" stroke-width="1.7" />
<line x1="587.3" y1="1203.9" x2="587.3" y2="1213.7" stroke="#222" stroke-width="1.7" />
<line x1="613.2" y1="1203.9" x2="613.2" y2="1213.7" stroke="#222" stroke-width="1.7" />
<line x1="639.1" y1="1203.9" x2="639.1" y2="1217.7" stroke="#222" stroke-width="1.7" />
<line x1="665.0" y1="1203.9" x2="665.0" y2="1213.7" stroke="#222" stroke-width="1.7" />
<line x1="690.8" y1="1203.9" x2="690.8" y2="1213.7" stroke="#222" stroke-width="1.7" />
<line x1="716.7" y1="1203.9" x2="716.7" y2="1213.7" stroke="#222" stroke-width="1.7" />
<line x1="742.5" y1="1203.9" x2="742.5" y2="1213.7" stroke="#222" stroke-width="1.7" />
<line x1="768.4" y1="1203.9" x2="768.4" y2="1217.7" stroke="#222" stroke-width="1.7" />
<line x1="794.6" y1="1203.9" x2="794.6" y2="1213.7" stroke="#222" stroke-width="1.7" />
<line x1="820.8" y1="1203.9" x2="820.8" y2="1213.7" stroke="#222" stroke-width="1.7" />
<line x1="847.1" y1="1203.9" x2="847.1" y2="1213.7" stroke="#222" stroke-width="1.7" />
<line x1="873.3" y1="1203.9" x2="873.3" y2="1213.7" stroke="#222" stroke-width="1.7" />
<line x1="899.5" y1="1203.9" x2="899.5" y2="1217.7" stroke="#222" stroke-width="1.7" />
<line x1="925.5" y1="1203.9" x2="925.5" y2="1213.7" stroke="#222" stroke-width="1.7" />
<line x1="951.5" y1="1203.9" x2="951.5" y2="1213.7" stroke="#222" stroke-width="1.7" />
<line x1="119.5" y1="1203.8" x2="103.9" y2="1203.8" stroke="#222" stroke-width="1.7" />
<line x1="965.0" y1="1203.8" x2="981.0" y2="1203.8" stroke="#222" stroke-width="1.7" />
<line x1="119.5" y1="1179.5" x2="108.0" y2="1179.5" stroke="#222" stroke-width="1.7" />
<line x1="965.0" y1="1179.5" x2="975.5" y2="1179.5" stroke="#222" stroke-width="1.7" />
<line x1="119.5" y1="1165.3" x2="108.0" y2="1165.3" stroke="#222" stroke-width="1.7" />
<line x1="965.0" y1="1165.3" x2="975.5" y2="1165.3" stroke="#222" stroke-width="1.7" />
<line x1="119.5" y1="1155.2" x2="108.0" y2="1155.2" stroke="#222" stroke-width="1.7" />
<line x1="965.0" y1="1155.2" x2="975.5" y2="1155.2" stroke="#222" stroke-width="1.7" />
<line x1="119.5" y1="1147.4" x2="108.0" y2="1147.4" stroke="#222" stroke-width="1.7" />
<line x1="965.0" y1="1147.4" x2="975.5" y2="1147.4" stroke="#222" stroke-width="1.7" />
<line x1="119.5" y1="1141.0" x2="108.0" y2="1141.0" stroke="#222" stroke-width="1.7" />
<line x1="965.0" y1="1141.0" x2="975.5" y2="1141.0" stroke="#222" stroke-width="1.7" />
<line x1="119.5" y1="1135.6" x2="108.0" y2="1135.6" stroke="#222" stroke-width="1.7" />
<line x1="965.0" y1="1135.6" x2="975.5" y2="1135.6" stroke="#222" stroke-width="1.7" />
<line x1="119.5" y1="1131.0" x2="108.0" y2="1131.0" stroke="#222" stroke-width="1.7" />
<line x1="965.0" y1="1131.0" x2="975.5" y2="1131.0" stroke="#222" stroke-width="1.7" />
<line x1="119.5" y1="1126.8" x2="108.0" y2="1126.8" stroke="#222" stroke-width="1.7" />
<line x1="965.0" y1="1126.8" x2="975.5" y2="1126.8" stroke="#222" stroke-width="1.7" />
<line x1="119.5" y1="1123.2" x2="108.0" y2="1123.2" stroke="#222" stroke-width="1.7" />
<line x1="965.0" y1="1123.2" x2="975.5" y2="1123.2" stroke="#222" stroke-width="1.7" />
<line x1="119.5" y1="1098.9" x2="108.0" y2="1098.9" stroke="#222" stroke-width="1.7" />
<line x1="965.0" y1="1098.9" x2="975.5" y2="1098.9" stroke="#222" stroke-width="1.7" />
<line x1="119.5" y1="1084.7" x2="108.0" y2="1084.7" stroke="#222" stroke-width="1.7" />
<line x1="965.0" y1="1084.7" x2="975.5" y2="1084.7" stroke="#222" stroke-width="1.7" />
<line x1="119.5" y1="1074.6" x2="108.0" y2="1074.6" stroke="#222" stroke-width="1.7" />
<line x1="965.0" y1="1074.6" x2="975.5" y2="1074.6" stroke="#222" stroke-width="1.7" />
<line x1="119.5" y1="1066.8" x2="108.0" y2="1066.8" stroke="#222" stroke-width="1.7" />
<line x1="965.0" y1="1066.8" x2="975.5" y2="1066.8" stroke="#222" stroke-width="1.7" />
<line x1="119.5" y1="1060.4" x2="108.0" y2="1060.4" stroke="#222" stroke-width="1.7" />
<line x1="965.0" y1="1060.4" x2="975.5" y2="1060.4" stroke="#222" stroke-width="1.7" />
<line x1="119.5" y1="1055.0" x2="108.0" y2="1055.0" stroke="#222" stroke-width="1.7" />
<line x1="965.0" y1="1055.0" x2="975.5" y2="1055.0" stroke="#222" stroke-width="1.7" />
<line x1="119.5" y1="1050.3" x2="108.0" y2="1050.3" stroke="#222" stroke-width="1.7" />
<line x1="965.0" y1="1050.3" x2="975.5" y2="1050.3" stroke="#222" stroke-width="1.7" />
<line x1="119.5" y1="1046.2" x2="108.0" y2="1046.2" stroke="#222" stroke-width="1.7" />
<line x1="965.0" y1="1046.2" x2="975.5" y2="1046.2" stroke="#222" stroke-width="1.7" />
<line x1="119.5" y1="1042.5" x2="103.9" y2="1042.5" stroke="#222" stroke-width="1.7" />
<line x1="965.0" y1="1042.5" x2="981.0" y2="1042.5" stroke="#222" stroke-width="1.7" />
<line x1="119.5" y1="1018.2" x2="108.0" y2="1018.2" stroke="#222" stroke-width="1.7" />
<line x1="965.0" y1="1018.2" x2="975.5" y2="1018.2" stroke="#222" stroke-width="1.7" />
<line x1="119.5" y1="1004.0" x2="108.0" y2="1004.0" stroke="#222" stroke-width="1.7" />
<line x1="965.0" y1="1004.0" x2="975.5" y2="1004.0" stroke="#222" stroke-width="1.7" />
<line x1="119.5" y1="993.9" x2="108.0" y2="993.9" stroke="#222" stroke-width="1.7" />
<line x1="965.0" y1="993.9" x2="975.5" y2="993.9" stroke="#222" stroke-width="1.7" />
<line x1="119.5" y1="986.1" x2="108.0" y2="986.1" stroke="#222" stroke-width="1.7" />
<line x1="965.0" y1="986.1" x2="975.5" y2="986.1" stroke="#222" stroke-width="1.7" />
<line x1="119.5" y1="979.7" x2="108.0" y2="979.7" stroke="#222" stroke-width="1.7" />
<line x1="965.0" y1="979.7" x2="975.5" y2="979.7" stroke="#222" stroke-width="1.7" />
<line x1="119.5" y1="974.3" x2="108.0" y2="974.3" stroke="#222" stroke-width="1.7" />
<line x1="965.0" y1="974.3" x2="975.5" y2="974.3" stroke="#222" stroke-width="1.7" />
<line x1="119.5" y1="969.7" x2="108.0" y2="969.7" stroke="#222" stroke-width="1.7" />
<line x1="965.0" y1="969.7" x2="975.5" y2="969.7" stroke="#222" stroke-width="1.7" />
<line x1="119.5" y1="965.5" x2="108.0" y2="965.5" stroke="#222" stroke-width="1.7" />
<line x1="965.0" y1="965.5" x2="975.5" y2="965.5" stroke="#222" stroke-width="1.7" />
<line x1="119.5" y1="961.9" x2="108.0" y2="961.9" stroke="#222" stroke-width="1.7" />
<line x1="965.0" y1="961.9" x2="975.5" y2="961.9" stroke="#222" stroke-width="1.7" />
<line x1="119.5" y1="937.6" x2="108.0" y2="937.6" stroke="#222" stroke-width="1.7" />
<line x1="965.0" y1="937.6" x2="975.5" y2="937.6" stroke="#222" stroke-width="1.7" />
<line x1="119.5" y1="923.4" x2="108.0" y2="923.4" stroke="#222" stroke-width="1.7" />
<line x1="965.0" y1="923.4" x2="975.5" y2="923.4" stroke="#222" stroke-width="1.7" />
<line x1="119.5" y1="913.3" x2="108.0" y2="913.3" stroke="#222" stroke-width="1.7" />
<line x1="965.0" y1="913.3" x2="975.5" y2="913.3" stroke="#222" stroke-width="1.7" />
<line x1="119.5" y1="905.5" x2="108.0" y2="905.5" stroke="#222" stroke-width="1.7" />
<line x1="965.0" y1="905.5" x2="975.5" y2="905.5" stroke="#222" stroke-width="1.7" />
<line x1="119.5" y1="899.1" x2="108.0" y2="899.1" stroke="#222" stroke-width="1.7" />
<line x1="965.0" y1="899.1" x2="975.5" y2="899.1" stroke="#222" stroke-width="1.7" />
<line x1="119.5" y1="893.7" x2="108.0" y2="893.7" stroke="#222" stroke-width="1.7" />
<line x1="965.0" y1="893.7" x2="975.5" y2="893.7" stroke="#222" stroke-width="1.7" />
<line x1="119.5" y1="889.0" x2="108.0" y2="889.0" stroke="#222" stroke-width="1.7" />
<line x1="965.0" y1="889.0" x2="975.5" y2="889.0" stroke="#222" stroke-width="1.7" />
<line x1="119.5" y1="884.9" x2="108.0" y2="884.9" stroke="#222" stroke-width="1.7" />
<line x1="965.0" y1="884.9" x2="975.5" y2="884.9" stroke="#222" stroke-width="1.7" />
<line x1="119.5" y1="881.2" x2="103.9" y2="881.2" stroke="#222" stroke-width="1.7" />
<line x1="965.0" y1="881.2" x2="981.0" y2="881.2" stroke="#222" stroke-width="1.7" />
<line x1="119.5" y1="856.9" x2="108.0" y2="856.9" stroke="#222" stroke-width="1.7" />
<line x1="965.0" y1="856.9" x2="975.5" y2="856.9" stroke="#222" stroke-width="1.7" />
<line x1="119.5" y1="842.7" x2="108.0" y2="842.7" stroke="#222" stroke-width="1.7" />
<line x1="965.0" y1="842.7" x2="975.5" y2="842.7" stroke="#222" stroke-width="1.7" />
<line x1="119.5" y1="832.6" x2="108.0" y2="832.6" stroke="#222" stroke-width="1.7" />
<line x1="965.0" y1="832.6" x2="975.5" y2="832.6" stroke="#222" stroke-width="1.7" />
<line x1="119.5" y1="824.8" x2="108.0" y2="824.8" stroke="#222" stroke-width="1.7" />
<line x1="965.0" y1="824.8" x2="975.5" y2="824.8" stroke="#222" stroke-width="1.7" />
<line x1="119.5" y1="818.4" x2="108.0" y2="818.4" stroke="#222" stroke-width="1.7" />
<line x1="965.0" y1="818.4" x2="975.5" y2="818.4" stroke="#222" stroke-width="1.7" />
<line x1="119.5" y1="813.0" x2="108.0" y2="813.0" stroke="#222" stroke-width="1.7" />
<line x1="965.0" y1="813.0" x2="975.5" y2="813.0" stroke="#222" stroke-width="1.7" />
<line x1="119.5" y1="808.4" x2="108.0" y2="808.4" stroke="#222" stroke-width="1.7" />
<line x1="965.0" y1="808.4" x2="975.5" y2="808.4" stroke="#222" stroke-width="1.7" />
<line x1="119.5" y1="804.2" x2="108.0" y2="804.2" stroke="#222" stroke-width="1.7" />
<line x1="965.0" y1="804.2" x2="975.5" y2="804.2" stroke="#222" stroke-width="1.7" />
<line x1="119.5" y1="800.5" x2="108.0" y2="800.5" stroke="#222" stroke-width="1.7" />
<line x1="965.0" y1="800.5" x2="975.5" y2="800.5" stroke="#222" stroke-width="1.7" />
<line x1="119.5" y1="776.3" x2="108.0" y2="776.3" stroke="#222" stroke-width="1.7" />
<line x1="965.0" y1="776.3" x2="975.5" y2="776.3" stroke="#222" stroke-width="1.7" />
<line x1="119.5" y1="762.1" x2="108.0" y2="762.1" stroke="#222" stroke-width="1.7" />
<line x1="965.0" y1="762.1" x2="975.5" y2="762.1" stroke="#222" stroke-width="1.7" />
<line x1="119.5" y1="752.0" x2="108.0" y2="752.0" stroke="#222" stroke-width="1.7" />
<line x1="965.0" y1="752.0" x2="975.5" y2="752.0" stroke="#222" stroke-width="1.7" />
<line x1="119.5" y1="744.2" x2="108.0" y2="744.2" stroke="#222" stroke-width="1.7" />
<line x1="965.0" y1="744.2" x2="975.5" y2="744.2" stroke="#222" stroke-width="1.7" />
<line x1="119.5" y1="737.8" x2="108.0" y2="737.8" stroke="#222" stroke-width="1.7" />
<line x1="965.0" y1="737.8" x2="975.5" y2="737.8" stroke="#222" stroke-width="1.7" />
<line x1="119.5" y1="732.4" x2="108.0" y2="732.4" stroke="#222" stroke-width="1.7" />
<line x1="965.0" y1="732.4" x2="975.5" y2="732.4" stroke="#222" stroke-width="1.7" />
<line x1="119.5" y1="727.7" x2="108.0" y2="727.7" stroke="#222" stroke-width="1.7" />
<line x1="965.0" y1="727.7" x2="975.5" y2="727.7" stroke="#222" stroke-width="1.7" />
<line x1="119.5" y1="723.6" x2="108.0" y2="723.6" stroke="#222" stroke-width="1.7" />
<line x1="965.0" y1="723.6" x2="975.5" y2="723.6" stroke="#222" stroke-width="1.7" />
<line x1="119.5" y1="719.9" x2="103.9" y2="719.9" stroke="#222" stroke-width="1.7" />
<line x1="965.0" y1="719.9" x2="981.0" y2="719.9" stroke="#222" stroke-width="1.7" />
<line x1="119.5" y1="690.7" x2="108.0" y2="690.7" stroke="#222" stroke-width="1.7" />
<line x1="965.0" y1="695.6" x2="975.5" y2="695.6" stroke="#222" stroke-width="1.7" />
<line x1="119.5" y1="681.4" x2="108.0" y2="681.4" stroke="#222" stroke-width="1.7" />
<line x1="965.0" y1="681.4" x2="975.5" y2="681.4" stroke="#222" stroke-width="1.7" />
<line x1="119.5" y1="671.3" x2="108.0" y2="671.3" stroke="#222" stroke-width="1.7" />
<line x1="965.0" y1="671.3" x2="975.5" y2="671.3" stroke="#222" stroke-width="1.7" />
<line x1="119.5" y1="663.5" x2="108.0" y2="663.5" stroke="#222" stroke-width="1.7" />
<line x1="965.0" y1="663.5" x2="975.5" y2="663.5" stroke="#222" stroke-width="1.7" />
<line x1="119.5" y1="657.1" x2="108.0" y2="657.1" stroke="#222" stroke-width="1.7" />
<line x1="965.0" y1="657.1" x2="975.5" y2="657.1" stroke="#222" stroke-width="1.7" />
<line x1="119.5" y1="651.7" x2="108.0" y2="651.7" stroke="#222" stroke-width="1.7" />
<line x1="965.0" y1="651.7" x2="975.5" y2="651.7" stroke="#222" stroke-width="1.7" />
<line x1="965.0" y1="647.1" x2="975.5" y2="647.1" stroke="#222" stroke-width="1.7" />
<line x1="965.0" y1="642.9" x2="975.5" y2="642.9" stroke="#222" stroke-width="1.7" />
<line x1="119.5" y1="639.2" x2="108.0" y2="639.2" stroke="#222" stroke-width="1.7" />
<line x1="965.0" y1="639.2" x2="975.5" y2="639.2" stroke="#222" stroke-width="1.7" />
<line x1="119.5" y1="639.2" x2="108.0" y2="639.2" stroke="#222" stroke-width="1.7" />
<line x1="965.0" y1="639.2" x2="975.5" y2="639.2" stroke="#222" stroke-width="1.7" />
<text x="42.8" y="734.7" font-size="28" fill="#222">10<tspan font-size="22.5" dy="-14.1" dx="0.8">-2</tspan></text>
<text x="42.8" y="896.0" font-size="28" fill="#222">10<tspan font-size="22.5" dy="-14.1" dx="0.8">-4</tspan></text>
<text x="42.8" y="1057.3" font-size="28" fill="#222">10<tspan font-size="22.5" dy="-14.1" dx="0.8">-6</tspan></text>
<text x="42.8" y="1218.6" font-size="28" fill="#222">10<tspan font-size="22.5" dy="-14.1" dx="0.8">-8</tspan></text>
<text x="117.5" y="1253" font-size="27.4" fill="#222" text-anchor="middle">3.4</text>
<text x="248.1" y="1253" font-size="27.4" fill="#222" text-anchor="middle">3.5</text>
<text x="377.4" y="1253" font-size="27.4" fill="#222" text-anchor="middle">3.6</text>
<text x="508.6" y="1253" font-size="27.4" fill="#222" text-anchor="middle">3.7</text>
<text x="638.2" y="1253" font-size="27.4" fill="#222" text-anchor="middle">3.8</text>
<text x="767.5" y="1253" font-size="27.4" fill="#222" text-anchor="middle">3.9</text>
<text x="898.6" y="1253" font-size="27.4" fill="#222" text-anchor="middle">4</text>
<g transform="translate(27.4 0) rotate(-90)" fill="#222" font-size="29.5">
<text x="-1126.3" y="-0.2" font-weight="bold" font-size="30.6" textLength="227.5" lengthAdjust="spacingAndGlyphs">Coherence Time,</text>
<text x="-883.5" y="0">T</text>
<text x="-866.5" y="7.2" font-size="20.5">1</text>
<text x="-841" y="0" textLength="124.5" lengthAdjust="spacingAndGlyphs">(seconds)</text>
</g>
<text x="25.5" y="661" font-size="41" font-weight="bold" fill="#666">b</text>
<g fill="#222" font-size="29">
<text x="391.5" y="1288.7" font-weight="bold" textLength="140" lengthAdjust="spacingAndGlyphs">Frequency</text>
<text x="531.5" y="1288.7">,</text>
<text x="549.5" y="1288.7" font-family='"Liberation Serif", serif' font-style="italic" font-size="30">ω</text>
<text x="568.3" y="1288.7">/2</text>
<text x="593.5" y="1288.7" font-family='"Liberation Serif", serif' font-style="italic" font-size="30">π</text>
<text x="619" y="1288.7" textLength="74" lengthAdjust="spacingAndGlyphs">(GHz)</text>
</g>
</svg>
</body></html>
